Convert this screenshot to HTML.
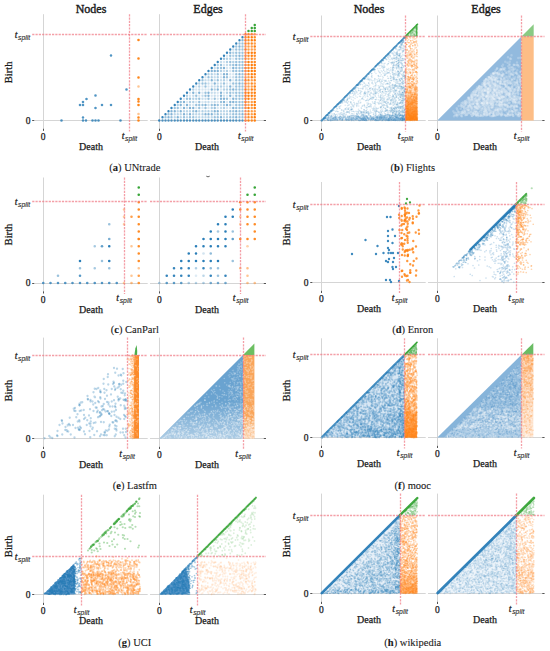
<!DOCTYPE html><html><head><meta charset="utf-8"><style>html,body{margin:0;padding:0;background:#fff;width:550px;height:651px;overflow:hidden}svg{display:block}</style></head><body><svg width="550" height="651" viewBox="0 0 550 651">
<rect width="550" height="651" fill="#fff"/>
<line x1="32.20" y1="120.50" x2="147.70" y2="120.50" stroke="#d5d5d5" stroke-width="1.0" stroke-opacity="1"/>
<line x1="43.50" y1="14.20" x2="43.50" y2="128.70" stroke="#d5d5d5" stroke-width="1.0" stroke-opacity="1"/>
<line x1="32.20" y1="120.50" x2="34.20" y2="120.50" stroke="#555" stroke-width="1.0" stroke-opacity="1"/>
<line x1="43.50" y1="128.70" x2="43.50" y2="130.90" stroke="#555" stroke-width="1.0" stroke-opacity="1"/>
<line x1="150.00" y1="120.50" x2="266.00" y2="120.50" stroke="#d5d5d5" stroke-width="1.0" stroke-opacity="1"/>
<line x1="159.50" y1="14.20" x2="159.50" y2="128.70" stroke="#d5d5d5" stroke-width="1.0" stroke-opacity="1"/>
<line x1="263.80" y1="120.50" x2="266.00" y2="120.50" stroke="#555" stroke-width="1.0" stroke-opacity="1"/>
<line x1="159.50" y1="128.70" x2="159.50" y2="130.90" stroke="#555" stroke-width="1.0" stroke-opacity="1"/>
<line x1="310.30" y1="120.50" x2="425.70" y2="120.50" stroke="#d5d5d5" stroke-width="1.0" stroke-opacity="1"/>
<line x1="321.50" y1="15.50" x2="321.50" y2="128.80" stroke="#d5d5d5" stroke-width="1.0" stroke-opacity="1"/>
<line x1="310.30" y1="120.50" x2="312.30" y2="120.50" stroke="#555" stroke-width="1.0" stroke-opacity="1"/>
<line x1="321.50" y1="128.80" x2="321.50" y2="131.00" stroke="#555" stroke-width="1.0" stroke-opacity="1"/>
<line x1="428.00" y1="120.50" x2="544.50" y2="120.50" stroke="#d5d5d5" stroke-width="1.0" stroke-opacity="1"/>
<line x1="437.50" y1="15.50" x2="437.50" y2="128.80" stroke="#d5d5d5" stroke-width="1.0" stroke-opacity="1"/>
<line x1="542.30" y1="120.50" x2="544.50" y2="120.50" stroke="#555" stroke-width="1.0" stroke-opacity="1"/>
<line x1="437.50" y1="128.80" x2="437.50" y2="131.00" stroke="#555" stroke-width="1.0" stroke-opacity="1"/>
<line x1="32.20" y1="283.50" x2="147.70" y2="283.50" stroke="#d5d5d5" stroke-width="1.0" stroke-opacity="1"/>
<line x1="43.50" y1="177.50" x2="43.50" y2="291.30" stroke="#d5d5d5" stroke-width="1.0" stroke-opacity="1"/>
<line x1="32.20" y1="283.50" x2="34.20" y2="283.50" stroke="#555" stroke-width="1.0" stroke-opacity="1"/>
<line x1="43.50" y1="291.30" x2="43.50" y2="293.50" stroke="#555" stroke-width="1.0" stroke-opacity="1"/>
<line x1="150.00" y1="283.50" x2="266.00" y2="283.50" stroke="#d5d5d5" stroke-width="1.0" stroke-opacity="1"/>
<line x1="159.50" y1="177.50" x2="159.50" y2="291.30" stroke="#d5d5d5" stroke-width="1.0" stroke-opacity="1"/>
<line x1="263.80" y1="283.50" x2="266.00" y2="283.50" stroke="#555" stroke-width="1.0" stroke-opacity="1"/>
<line x1="159.50" y1="291.30" x2="159.50" y2="293.50" stroke="#555" stroke-width="1.0" stroke-opacity="1"/>
<line x1="310.30" y1="282.50" x2="425.70" y2="282.50" stroke="#d5d5d5" stroke-width="1.0" stroke-opacity="1"/>
<line x1="321.50" y1="182.00" x2="321.50" y2="290.80" stroke="#d5d5d5" stroke-width="1.0" stroke-opacity="1"/>
<line x1="310.30" y1="282.50" x2="312.30" y2="282.50" stroke="#555" stroke-width="1.0" stroke-opacity="1"/>
<line x1="321.50" y1="290.80" x2="321.50" y2="293.00" stroke="#555" stroke-width="1.0" stroke-opacity="1"/>
<line x1="428.00" y1="282.50" x2="544.50" y2="282.50" stroke="#d5d5d5" stroke-width="1.0" stroke-opacity="1"/>
<line x1="437.50" y1="182.00" x2="437.50" y2="290.80" stroke="#d5d5d5" stroke-width="1.0" stroke-opacity="1"/>
<line x1="542.30" y1="282.50" x2="544.50" y2="282.50" stroke="#555" stroke-width="1.0" stroke-opacity="1"/>
<line x1="437.50" y1="290.80" x2="437.50" y2="293.00" stroke="#555" stroke-width="1.0" stroke-opacity="1"/>
<line x1="32.20" y1="438.50" x2="147.70" y2="438.50" stroke="#d5d5d5" stroke-width="1.0" stroke-opacity="1"/>
<line x1="43.50" y1="337.60" x2="43.50" y2="446.80" stroke="#d5d5d5" stroke-width="1.0" stroke-opacity="1"/>
<line x1="32.20" y1="438.50" x2="34.20" y2="438.50" stroke="#555" stroke-width="1.0" stroke-opacity="1"/>
<line x1="43.50" y1="446.80" x2="43.50" y2="449.00" stroke="#555" stroke-width="1.0" stroke-opacity="1"/>
<line x1="150.00" y1="438.50" x2="266.00" y2="438.50" stroke="#d5d5d5" stroke-width="1.0" stroke-opacity="1"/>
<line x1="159.50" y1="337.60" x2="159.50" y2="446.80" stroke="#d5d5d5" stroke-width="1.0" stroke-opacity="1"/>
<line x1="263.80" y1="438.50" x2="266.00" y2="438.50" stroke="#555" stroke-width="1.0" stroke-opacity="1"/>
<line x1="159.50" y1="446.80" x2="159.50" y2="449.00" stroke="#555" stroke-width="1.0" stroke-opacity="1"/>
<line x1="310.30" y1="437.50" x2="425.70" y2="437.50" stroke="#d5d5d5" stroke-width="1.0" stroke-opacity="1"/>
<line x1="321.50" y1="338.30" x2="321.50" y2="445.80" stroke="#d5d5d5" stroke-width="1.0" stroke-opacity="1"/>
<line x1="310.30" y1="437.50" x2="312.30" y2="437.50" stroke="#555" stroke-width="1.0" stroke-opacity="1"/>
<line x1="321.50" y1="445.80" x2="321.50" y2="448.00" stroke="#555" stroke-width="1.0" stroke-opacity="1"/>
<line x1="428.00" y1="437.50" x2="544.50" y2="437.50" stroke="#d5d5d5" stroke-width="1.0" stroke-opacity="1"/>
<line x1="437.50" y1="338.30" x2="437.50" y2="445.80" stroke="#d5d5d5" stroke-width="1.0" stroke-opacity="1"/>
<line x1="542.30" y1="437.50" x2="544.50" y2="437.50" stroke="#555" stroke-width="1.0" stroke-opacity="1"/>
<line x1="437.50" y1="445.80" x2="437.50" y2="448.00" stroke="#555" stroke-width="1.0" stroke-opacity="1"/>
<line x1="32.20" y1="594.50" x2="147.70" y2="594.50" stroke="#d5d5d5" stroke-width="1.0" stroke-opacity="1"/>
<line x1="43.50" y1="494.70" x2="43.50" y2="602.80" stroke="#d5d5d5" stroke-width="1.0" stroke-opacity="1"/>
<line x1="32.20" y1="594.50" x2="34.20" y2="594.50" stroke="#555" stroke-width="1.0" stroke-opacity="1"/>
<line x1="43.50" y1="602.80" x2="43.50" y2="605.00" stroke="#555" stroke-width="1.0" stroke-opacity="1"/>
<line x1="150.00" y1="594.50" x2="266.00" y2="594.50" stroke="#d5d5d5" stroke-width="1.0" stroke-opacity="1"/>
<line x1="159.50" y1="494.70" x2="159.50" y2="602.80" stroke="#d5d5d5" stroke-width="1.0" stroke-opacity="1"/>
<line x1="263.80" y1="594.50" x2="266.00" y2="594.50" stroke="#555" stroke-width="1.0" stroke-opacity="1"/>
<line x1="159.50" y1="602.80" x2="159.50" y2="605.00" stroke="#555" stroke-width="1.0" stroke-opacity="1"/>
<line x1="310.30" y1="593.50" x2="425.70" y2="593.50" stroke="#d5d5d5" stroke-width="1.0" stroke-opacity="1"/>
<line x1="321.50" y1="493.60" x2="321.50" y2="601.80" stroke="#d5d5d5" stroke-width="1.0" stroke-opacity="1"/>
<line x1="310.30" y1="593.50" x2="312.30" y2="593.50" stroke="#555" stroke-width="1.0" stroke-opacity="1"/>
<line x1="321.50" y1="601.80" x2="321.50" y2="604.00" stroke="#555" stroke-width="1.0" stroke-opacity="1"/>
<line x1="428.00" y1="593.50" x2="544.50" y2="593.50" stroke="#d5d5d5" stroke-width="1.0" stroke-opacity="1"/>
<line x1="437.50" y1="493.60" x2="437.50" y2="601.80" stroke="#d5d5d5" stroke-width="1.0" stroke-opacity="1"/>
<line x1="542.30" y1="593.50" x2="544.50" y2="593.50" stroke="#555" stroke-width="1.0" stroke-opacity="1"/>
<line x1="437.50" y1="601.80" x2="437.50" y2="604.00" stroke="#555" stroke-width="1.0" stroke-opacity="1"/>
<path transform="scale(.25)" d="M444 222h0m62 136h0m-124 24h0m-36 14h0m-26 24h0m12-12h0m0 12h0m76 0h0m36 0h0m-62 12h0m-50 38h0m150 12h0m-88 0h0m-12 0h0m-12 0h0m-26 0h0m-12 0h0m-86 0h0" stroke="#1f77b4" stroke-width="10.4" stroke-linecap="round" stroke-opacity="0.78" fill="none"/>
<path transform="scale(.25)" d="M554 160h0m0 74h0m0 76h0m0 96h0m0-10h0m0 24h0m0 50h0m0 12h0" stroke="#ff7f0e" stroke-width="10.4" stroke-linecap="round" stroke-opacity="0.95" fill="none"/>
<path transform="scale(.25)" d="M554 346h0m0 110h0" stroke="#ff7f0e" stroke-width="10.4" stroke-linecap="round" stroke-opacity="0.45" fill="none"/>
<path transform="scale(.25)" d="M958 161h0m12-12h0m-25 25h0m-12 12h0m-25 25h0m13-13h0m-25 25h0m-12 12h0m-25 25h0m12-12h0m-24 24h0m-13 12h0m-24 25h0m12-12h0m-25 24h0m-12 13h0m-25 24h0m13-12h0m-25 25h0m-12 12h0m-13 12h0m-12 13h0m-12 12h0m-25 25h0m12-13h0m-24 25h0m-12 12h0m-13 13h0" stroke="#1f77b4" stroke-width="9.6" stroke-linecap="round" stroke-opacity="0.9" fill="none"/>
<path transform="scale(.25)" d="M650 482h0m12 0h0m12 0h0m12 0h0m13 0h0m12 0h0m12 0h0m13 0h0m12 0h0m12 0h0m13 0h0m12 0h0m12 0h0m13 0h0m12 0h0m12 0h0m13 0h0m12 0h0m12 0h0m13 0h0m12 0h0m12 0h0m13 0h0m12 0h0m12 0h0m13 0h0m12 0h0" stroke="#1f77b4" stroke-width="9.6" stroke-linecap="round" stroke-opacity="0.75" fill="none"/>
<path transform="scale(.25)" d="M945 186h0m13-12h0m12 0h0m0 12h0m0 25h0m0-13h0m-12 13h0m0-13h0m-13 13h0m0-13h0m-49 37h0m25-12h0m24 0h0m0 12h0m13 0h0m12-12h0m0 12h0m0 25h0m0-12h0m-12 12h0m0-12h0m-13 0h0m-12 12h0m-12-12h0m-37 12h0m-13 12h0m13 0h0m49 12h0m12-12h0m0 12h0m13-12h0m0 12h0m12-12h0m0 37h0m0-12h0m-12 12h0m-13 0h0m0-12h0m-37 12h0m-37-12h0m-37 12h0m-24 12h0m0 13h0m12 0h0m49-13h0m25 13h0m37 0h0m12-13h0m0 13h0m13-13h0m12 0h0m0 13h0m0 24h0m0-12h0m-12 12h0m0-12h0m-13 12h0m0-12h0m-24 12h0m-99-12h0m-37 37h0m37-12h0m0 12h0m99-12h0m24 0h0m0 12h0m13-12h0m0 12h0m12-12h0m0 12h0m0 12h0m-12 0h0m-13 0h0m-37 0h0m-49 0h0m-25 0h0m-37 0h0m-37 0h0m-12 0h0m-25 13h0m62 12h0m12-12h0m0 12h0m13 0h0m37 0h0m24 0h0m13-12h0m37 12h0m24-12h0m0 12h0m13-12h0m0 12h0m12-12h0m0 12h0m0 25h0m0-13h0m-12 13h0m0-13h0m-13 0h0m-12 13h0m-12 0h0m-62-13h0m-37 0h0m-25 0h0m-24 13h0m-62-13h0m-12 0h0m-37 37h0m12-12h0m12 12h0m50 0h0m24 0h0m13 0h0m86 0h0m12-12h0m0 12h0m50 0h0m12-12h0m0 12h0m12-12h0m13 0h0m0 12h0m12 0h0" stroke="#1f77b4" stroke-width="9.6" stroke-linecap="round" stroke-opacity="0.45" fill="none"/>
<path transform="scale(.25)" d="M970 161h0m-12 25h0m-37 25h0m37 12h0m-13 37h0m25 24h0m-37-12h0m-37 0h0m-25 12h0m-12 0h0m-12 0h0m49 13h0m0 12h0m12-12h0m50 0h0m0 37h0m-37-13h0m-62 13h0m-12-13h0m0 37h0m24 0h0m50-12h0m12 12h0m-12 25h0m-37 0h0m0-12h0m-50 12h0m0-12h0m-37 0h0m-24 0h0m111 24h0m12 0h0m37 0h0m0 13h0m-12 0h0m-13 12h0m-12-12h0m-37 12h0m-37 0h0m-74 0h0m-12-12h0m-13 12h0m-37 25h0m13 0h0m24 0h0m13-13h0m24 0h0m13 0h0m12 13h0m74 0h0m12 0h0m62-13h0m12 13h0m25 12h0m-25 12h0m-61 0h0m-37-12h0m-13 0h0m-12 0h0m-62 0h0m-24 0h0m-25 12h0m-25-12h0m-12 12h0" stroke="#1f77b4" stroke-width="9.6" stroke-linecap="round" stroke-opacity="0.55" fill="none"/>
<path transform="scale(.25)" d="M711 445h0m25 0h0m12 0h0m12 0h0m37 0h0m25 0h0m62 0h0m12 0h0m12 0h0m13 12h0m-25 12h0m0-12h0m-12 0h0m-25 0h0m-12 12h0m-25 0h0m-12 0h0m-13 0h0m0-12h0m-12 12h0m0-12h0m-37 12h0m0-12h0m-25 12h0m0-12h0m-12 0h0m-12 12h0m0-12h0" stroke="#1f77b4" stroke-width="9.6" stroke-linecap="round" stroke-opacity="0.3" fill="none"/>
<path transform="scale(.25)" d="M933 211h0m0 12h0m-12 12h0m-13 0h0m-37 25h0m37-12h0m13 12h0m12-12h0m-25 36h0m-24 0h0m-50 13h0m13 0h0m0 12h0m24 0h0m25 12h0m-99 13h0m-24 24h0m24-12h0m62 12h0m12-12h0m13 0h0m12 12h0m12 0h0m25 13h0m-25 0h0m-160 12h0m25 12h0m12 0h0m111 25h0m-123-12h0m-13 0h0m-49 12h0m99 25h0m24 0h0m13-13h0m0 13h0m49-13h0m12 37h0m0-12h0m-74 12h0m-24-12h0m-37 0h0" stroke="#1f77b4" stroke-width="9.6" stroke-linecap="round" stroke-opacity="0.35" fill="none"/>
<path transform="scale(.25)" d="M908 223h0m25 12h0m-37 25h0m0-12h0m12 24h0m13 0h0m0 12h0m12 13h0m-12 12h0m0-12h0m-37 12h0m0-12h0m-62 12h0m25 25h0m61-13h0m0 13h0m13 0h0m12-13h0m0 25h0m-49 12h0m-50 0h0m0-12h0m-12 12h0m-12 0h0m0-12h0m-25 12h0m0-12h0m-25 25h0m0 12h0m25-12h0m12 12h0m13-12h0m37 12h0m24-12h0m0 12h0m25-12h0m12 12h0m25 0h0m-12 12h0m-50 0h0m-24 0h0m-111 0h0m0 25h0m12-12h0m25 12h0m12-12h0m25 0h0m37 0h0m24 0h0m37 0h0m25 12h0m-12 12h0m-13 0h0m-37 0h0m-37 0h0m-24 0h0m-25 0h0m-62 0h0" stroke="#1f77b4" stroke-width="9.6" stroke-linecap="round" stroke-opacity="0.18" fill="none"/>
<path transform="scale(.25)" d="M933 198h0m-25 62h0m-24-12h0m-25 24h0m37 12h0m37 25h0m-74 0h0m0-12h0m-37 24h0m12 0h0m0 13h0m25-13h0m12 13h0m13-13h0m0 13h0m24 12h0m-12 0h0m-37 0h0m-12 0h0m-50 12h0m-24 25h0m37 0h0m37-12h0m12 0h0m0 12h0m37 0h0m-74 12h0m-12 0h0m-50 25h0m62-12h0m12 0h0m0 12h0m25-12h0m25 12h0m0 12h0m-136 0h0" stroke="#1f77b4" stroke-width="9.6" stroke-linecap="round" stroke-opacity="0.25" fill="none"/>
<path transform="scale(.25)" d="M982 137h0m37 24h0m-12 0h0m0-12h0m-13 0h0m-12 12h0m0-12h0m37 37h0m0 25h0m-12 0h0m-13 0h0m-12-13h0m25 25h0m12 37h0m-12 0h0m-13-12h0m-12 24h0m12 12h0m13-12h0m0 12h0m12 0h0m0 13h0m-12 12h0m0-12h0m-25 24h0m37 25h0m-12 12h0m-25 0h0m0 13h0m0 12h0m12-12h0m0 12h0m13 0h0m12-12h0m-25 24h0m-12 0h0m0 13h0m37 0h0m0 12h0m0 12h0m-25 0h0m25 25h0m0 12h0m0 13h0m-25 0h0m-12 0h0" stroke="#ff7f0e" stroke-width="10" stroke-linecap="round" stroke-opacity="1.0" fill="none"/>
<path transform="scale(.25)" d="M1019 137h0m0 37h0m-12 12h0m-13 0h0m-12 0h0m0 25h0m12-13h0m13 0h0m12 0h0m0 37h0m-25 0h0m-12 13h0m37 61h0m-25 0h0m-12 0h0m0-12h0m12 37h0m13-13h0m12 13h0m-12 12h0m-13 12h0m0-12h0m-12 0h0m25 49h0m0 13h0m-13 12h0m0-12h0m-12 37h0m25-13h0m0 13h0m12 0h0m-12 12h0m-25 12h0m0-12h0" stroke="#ff7f0e" stroke-width="10" stroke-linecap="round" stroke-opacity="0.75" fill="none"/>
<path transform="scale(.25)" d="M994 137h0m13 0h0m12 12h0m-25 12h0m-12 13h0m12 0h0m13 0h0m12 49h0m-12 12h0m-13-12h0m-12 12h0m0-12h0m0 37h0m12 0h0m13-12h0m12 0h0m0 24h0m-25 0h0m-12 12h0m12 13h0m25 24h0m-12 13h0m-13-13h0m-12 13h0m37 24h0m0 25h0m-12-12h0m12 24h0m-12 25h0m-25 0h0m0 12h0m12 13h0m13 24h0m-13 0h0m0-12h0m13 25h0" stroke="#ff7f0e" stroke-width="10" stroke-linecap="round" stroke-opacity="0.9" fill="none"/>
<path transform="scale(.25)" d="M1007 112h0m12-12h0m0 12h0m0 12h0m-12 0h0m-13 0h0" stroke="#2ca02c" stroke-width="10" stroke-linecap="round" stroke-opacity="0.95" fill="none"/>
<path transform="scale(.25)" d="M1608 168h0m2 3h0m9 16h0m-3 13h0m-16 15h0m-4-12h0m-4-2h0m-3 3h0m-4 7h0m-5-1h0m-44 23h0m7 2h0m1-10h0m66 18h0m-1 13h0m-15-15h0m-6 21h0m-3-16h0m-7 5h0m-3 5h0m-8 0h0m-14-1h0m-17 0h0m-8 0h0m-1-1h0m-7 20h0m19-8h0m0 3h0m8 7h0m39-1h0m5 9h0m26-20h0m3 38h0m-2-14h0m-8 22h0m-5-13h0m-23 4h0m-3-7h0m-8-4h0m0-2h0m-5 23h0m-47-21h0m-47 18h0m-29 16h0m14-12h0m11 5h0m8 1h0m11 14h0m2-4h0m10-13h0m8 14h0m1-11h0m8 7h0m6-8h0m19 7h0m14 11h0m30-18h0m3 8h0m8 8h0m1-17h0m10 29h0m-7-6h0m0-1h0m-1 17h0m-1-12h0m-6 4h0m-7-3h0m-2 2h0m-6-3h0m-6-6h0m-11 11h0m-9 8h0m-5-4h0m-4 6h0m0-21h0m-9 0h0m-3 0h0m-2 20h0m-11-7h0m-4-7h0m-7 14h0m-2-19h0m-1 6h0m-11-8h0m-3 22h0m-9-5h0m-38 1h0m-33 18h0m26-11h0m4 13h0m16 2h0m5 1h0m3-5h0m12-6h0m9 3h0m13 5h0m5 0h0m8-14h0m4 22h0m6-20h0m0 6h0m7 5h0m3-7h0m14 8h0m9 6h0m8 2h0m10-4h0m23 4h0m5-13h0m1-1h0m10 2h0m3-7h0m6 6h0m0 28h0m-6 9h0m-4-7h0m-23-13h0m-1 4h0m-1 13h0m-19 2h0m-3-6h0m-27 0h0m-1 5h0m-13-3h0m-1-11h0m-19 8h0m-8-10h0m-2 8h0m-1 11h0m-77-6h0m-5-13h0m-24 19h0m-5-11h0m-3 8h0m-23 13h0m6 9h0m6-18h0m22 23h0m17-23h0m10 19h0m1 1h0m3-9h0m17 5h0m7-12h0m15 10h0m17 4h0m23-12h0m3 10h0m4 6h0m12-13h0m5 12h0m6-17h0m11-3h0m6 5h0m5 9h0m0 5h0m14-18h0m7-2h0m14 22h0m4-4h0m17 1h0m16-16h0m-2 39h0m0-4h0m-9 2h0m-12 7h0m0-3h0m-1-1h0m-24 0h0m-7-18h0m-2 13h0m-1-1h0m-5-3h0m0-10h0m-16 12h0m-17-7h0m-11-4h0m-7 0h0m-2 11h0m-38 5h0m-11 1h0m-8-2h0m-21 6h0m-22-15h0m-11-3h0m-6 11h0m-38-12h0m-7 11h0m-33 14h0m3 6h0m2-4h0m4-5h0m54 17h0m5-7h0m22-1h0m8-4h0m16 12h0m3-7h0m4-1h0m1-1h0m9 6h0m15 6h0m1-9h0m0 4h0m4-1h0m8 1h0m2-1h0m2 4h0m5 0h0m14-4h0m29 0h0m7-9h0m0 10h0m6 7h0m2-17h0m6 2h0m2 1h0m10 8h0m3-11h0m12 1h0m3 12h0m16-15h0m5 19h0m8-2h0m7-7h0m5-2h0m2 3h0m5-13h0m-2 22h0m-19 2h0m-40-1h0m-25 1h0m-1-1h0" stroke="#1f77b4" stroke-width="6.4" stroke-linecap="round" stroke-opacity="0.17" fill="none"/>
<path transform="scale(.25)" d="M1599 186h0m2-14h0m2 2h0m5-5h0m3 11h0m3-11h0m2 14h0m-1 21h0m-18 10h0m-12 1h0m-17-2h0m-3-1h0m-18 27h0m12-18h0m7 12h0m3-1h0m0 6h0m19-21h0m5 20h0m2-14h0m1-3h0m3 4h0m3 5h0m3-4h0m6-6h0m-6 29h0m-9 2h0m-4 4h0m-1-13h0m-4 18h0m-1-13h0m-10 15h0m-46-19h0m-22 19h0m-5 7h0m25 2h0m1 17h0m3-14h0m3-6h0m1 4h0m14 7h0m23-7h0m1 9h0m18 4h0m2 3h0m15-3h0m12 26h0m-5-21h0m-3 17h0m-1-6h0m0-6h0m-18 0h0m-4 15h0m-16 1h0m-2-13h0m-11-2h0m-19 2h0m-54 13h0m-38 17h0m23-8h0m2 13h0m14 0h0m13 2h0m9-8h0m8-1h0m8-4h0m0 4h0m3-9h0m14 5h0m6 14h0m11-22h0m30 21h0m1 1h0m7-17h0m2 7h0m8-9h0m3 9h0m7 6h0m2 17h0m-10 3h0m-1-2h0m-12-2h0m-3-11h0m-13 5h0m-19 11h0m-1-8h0m-21 12h0m-12-11h0m-5-2h0m-8 10h0m-4 4h0m-28-6h0m-12-8h0m-2 16h0m-7-3h0m-2-13h0m-18-5h0m-13 3h0m-16 25h0m28-3h0m1 5h0m15 2h0m0 2h0m34 3h0m1-14h0m0 18h0m3-15h0m4 19h0m6-9h0m1-5h0m23 11h0m3-9h0m7-10h0m0 4h0m11 13h0m5-14h0m26 10h0m10-2h0m6 1h0m3 4h0m9 3h0m7-18h0m2 38h0m-4-15h0m-1 16h0m-4 1h0m-7-12h0m-8 3h0m-9-4h0m-11 16h0m-2-6h0m-4-4h0m-4 5h0m-5-9h0m-4-3h0m-1 1h0m-1 10h0m-9 7h0m-3 0h0m-5 1h0m-6-14h0m-2 2h0m-4 3h0m-3 3h0m-20-2h0m-10-9h0m-6 1h0m-5 1h0m-11 4h0m-15 2h0m-4-7h0m-3 6h0m-25-13h0m-21 3h0m-4 7h0m0-9h0m-12 18h0m-7-15h0m-9 17h0m-17 15h0m12-8h0m3 0h0m13 9h0m9-7h0m12-6h0m12 16h0m13 2h0m1-11h0m20 10h0m20 5h0m7-3h0m8-6h0m9-9h0m23-1h0m9 16h0m13-8h0m9-4h0m2 12h0m37-8h0m3-3h0m3 12h0m1 0h0m10-16h0m15 28h0m-3-7h0m-4 12h0m-1 8h0m-4-3h0m0-3h0m-1 5h0m-7-12h0m-11-7h0m-8 22h0m-1-7h0m-3-15h0m-2 18h0m-4-10h0m-4-5h0m-8 8h0m-6 6h0m-5-8h0m-47 4h0m-17-6h0m-8 6h0m-2 8h0m-3-4h0m0-13h0m-3-5h0m-10 14h0m-9-12h0m-2 16h0m-1-4h0m-7-4h0m-23 4h0m-3 9h0m-14-9h0m-9 4h0m-8-11h0m-13 1h0m-14 7h0m-45 26h0m48-17h0m12 14h0m14 6h0m10-12h0m6 12h0m3-11h0m0 0h0m3 12h0m12-4h0m33 0h0m26-13h0m8 4h0m13 12h0m8 3h0m2-6h0m11-3h0m5-13h0m5 15h0m1 5h0m2-21h0m21 1h0m4 7h0m12 0h0m2 1h0m14 2h0m0 2h0m1-3h0m1-8h0m1-1h0m5 8h0m16 9h0m1-2h0m10-9h0m-13 18h0m-64 0h0m-27-1h0m-9 0h0m-47 1h0m-52 0h0m-9 0h0m-85-1h0" stroke="#1f77b4" stroke-width="6.4" stroke-linecap="round" stroke-opacity="0.17" fill="none"/>
<path transform="scale(.25)" d="M1609 173h0m-20 35h0m-4-11h0m-9 10h0m-26 21h0m5-7h0m30 7h0m23-4h0m-9 21h0m-25 18h0m-2-10h0m-6-3h0m-5 1h0m-6-5h0m-19 15h0m-12 1h0m-10-6h0m-17 21h0m19 10h0m9-4h0m5-18h0m9 21h0m7-2h0m13 0h0m1-3h0m10-8h0m17 2h0m5-11h0m5 15h0m5 6h0m7-14h0m4-5h0m7 36h0m-5-11h0m-16-1h0m-16 2h0m-8 2h0m-6-3h0m-7 14h0m-22-17h0m-1 7h0m-1 7h0m-5 8h0m-8-11h0m-4-7h0m-8 12h0m-25-2h0m-1 2h0m-1-9h0m-21 11h0m-10 23h0m2 2h0m15-17h0m27 7h0m0 7h0m3 3h0m13-17h0m12 20h0m2-9h0m11-2h0m0 2h0m5 0h0m2 1h0m6-12h0m11 7h0m8-2h0m4-3h0m0 9h0m6 5h0m23-16h0m5 17h0m8 26h0m-14-12h0m-8 1h0m-1 7h0m-17-13h0m-3 13h0m-6-13h0m-16 11h0m-5-3h0m-11 6h0m-3 5h0m-11-1h0m-1-22h0m-5 9h0m-16 7h0m-3-8h0m-2 12h0m-2-9h0m-4 8h0m-11-1h0m-9-13h0m-2 11h0m-18 4h0m-2-2h0m-17-3h0m-28 24h0m7-2h0m4 9h0m3-8h0m1-4h0m25 7h0m15-5h0m10-3h0m3-3h0m1 5h0m29-3h0m13 7h0m7-12h0m2 17h0m18 1h0m2-4h0m5-10h0m5-1h0m2 9h0m17 8h0m13-23h0m2 2h0m8 4h0m2-1h0m8 8h0m1-11h0m6 9h0m5 12h0m3-15h0m-6 27h0m-14-11h0m-20 8h0m-1-2h0m-7 4h0m-7 7h0m-9-5h0m-3-12h0m-14 8h0m-4 1h0m-3-6h0m-1 1h0m-4 3h0m-1 4h0m-3-2h0m0-9h0m-5 22h0m-12-15h0m-13 2h0m-24-8h0m-8 3h0m-27 16h0m-5-15h0m-35 17h0m-5-7h0m-39 25h0m6 4h0m4-17h0m19-3h0m15 13h0m2 10h0m10-1h0m22-8h0m32 6h0m9-6h0m10 2h0m16 5h0m6-17h0m8-2h0m11 3h0m10 9h0m3-11h0m1 11h0m0 7h0m6-7h0m2-13h0m4 13h0m4-13h0m14 22h0m4-15h0m9-4h0m3 15h0m9-9h0m11 13h0m9-18h0m1-1h0m0 12h0m8 15h0m-16 6h0m-6 9h0m-1-3h0m-16-15h0m-11 2h0m-1-1h0m-2 5h0m-14 2h0m-3-4h0m-5-2h0m-5 7h0m-1 4h0m-14-17h0m-13 3h0m-5 4h0m0-2h0m-1 15h0m-4-11h0m-6-6h0m-1 1h0m-4-2h0m-2 16h0m-3 1h0m-3 2h0m-5 2h0m-3-4h0m-7-8h0m-2 8h0m-6-10h0m-2 6h0m-14 5h0m-4-9h0m-14 2h0m-17 9h0m-1-9h0m0-8h0m-14 11h0m-21 7h0m-4-5h0m-9-17h0m-11 2h0m-22 16h0m-22 20h0m5-2h0m3 7h0m18-20h0m4 6h0m11 6h0m4-11h0m13 18h0m34 4h0m35-22h0m7 19h0m14-16h0m1 16h0m4-17h0m7 15h0m22-8h0m24 1h0m12-7h0m0 19h0m6-9h0m4 7h0m17-16h0m1 13h0m9-10h0m24 12h0m3-14h0m5-2h0m0 7h0m3-10h0m18 24h0m-61 1h0m-5-2h0m-37 1h0m-51-1h0m-33 0h0m-93 1h0" stroke="#1f77b4" stroke-width="6.4" stroke-linecap="round" stroke-opacity="0.17" fill="none"/>
<path transform="scale(.25)" d="M1612 161h0m0 8h0m-5 8h0m-1-8h0m-6 15h0m-2-13h0m-7 43h0m2-16h0m6 1h0m3 14h0m1-18h0m2 4h0m12 37h0m-34-3h0m-3 0h0m-1-11h0m-3 14h0m0-7h0m-15-2h0m-6-11h0m-2 38h0m15-2h0m4-6h0m0 4h0m17 4h0m3-9h0m1 3h0m1-6h0m0 16h0m2-10h0m9 37h0m0-14h0m-11 16h0m-23-15h0m-37 9h0m-6-16h0m-14 18h0m23 17h0m11-8h0m2 1h0m0 12h0m2-14h0m63 40h0m-5 3h0m-4-5h0m-9-12h0m-45-4h0m-2 20h0m-4 2h0m-29-14h0m-25 1h0m-6-1h0m-3-4h0m-4 6h0m-35 2h0m-1 7h0m-13 10h0m20-3h0m2 12h0m9-3h0m2-11h0m13 22h0m23 0h0m2-3h0m19 2h0m1-1h0m1-11h0m12 2h0m8 3h0m0 7h0m6-22h0m2 20h0m7-10h0m11-5h0m0 8h0m1 7h0m1-5h0m18 4h0m5-3h0m4-11h0m11 6h0m1-9h0m1 10h0m2 23h0m-4 7h0m-5 5h0m-18-21h0m-2 17h0m-3-2h0m-5-15h0m-3 1h0m-3 1h0m-6 2h0m-2-5h0m-18 6h0m-21 2h0m-20 1h0m-16 3h0m-8 5h0m-8-2h0m-1 4h0m-9-7h0m0-4h0m-1 13h0m-1-10h0m-34 0h0m-1-7h0m-7 13h0m-33 10h0m6 9h0m0 4h0m5-9h0m20-2h0m6 4h0m42 9h0m4-2h0m12-3h0m4-3h0m1-10h0m16 22h0m7-9h0m8 1h0m8 1h0m1-10h0m7 11h0m7-4h0m0 7h0m11-17h0m1 11h0m8-5h0m14-6h0m7 10h0m2 0h0m2 10h0m21 0h0m6-5h0m1-18h0m4 17h0m5-17h0m-4 47h0m0-10h0m-2 5h0m0-13h0m-3 1h0m-2 15h0m-18-9h0m-18-8h0m-4 16h0m-5-11h0m-9-5h0m-4 1h0m-21 7h0m-2 5h0m-5-12h0m-8 1h0m-12 3h0m-4-4h0m-13 15h0m0-9h0m-10-3h0m-48-3h0m-1 7h0m-9-10h0m-2 0h0m-3 11h0m-3-4h0m-3 0h0m-9 2h0m-51 25h0m14-11h0m13 8h0m8-7h0m1 2h0m2 2h0m0 13h0m14-2h0m1-7h0m5-3h0m6-1h0m8 9h0m8 6h0m20 1h0m19-4h0m6-3h0m20-6h0m5-4h0m6 14h0m1-16h0m5 10h0m17 2h0m1 4h0m5-5h0m9-12h0m3-1h0m0 12h0m6-3h0m7 8h0m8-3h0m4-11h0m2 1h0m2 7h0m4 1h0m4 3h0m5-15h0m7 20h0m4-19h0m14-2h0m0 8h0m1 5h0m0 5h0m10-11h0m-7 33h0m-4-11h0m-16 5h0m-17-2h0m-5 0h0m0-1h0m-5-1h0m-8 1h0m-1-5h0m-15 19h0m0-18h0m-4 14h0m-2-10h0m-13-4h0m-1 9h0m-3-3h0m-1 12h0m-9-7h0m-1 3h0m-15-16h0m-9 12h0m-26-1h0m-2 1h0m-2-10h0m-12 17h0m-4-7h0m-5-1h0m-19-2h0m-24 2h0m-9-5h0m-9-3h0m-10 13h0m-20-14h0m-49 15h0m171 7h0m43 0h0m87-1h0m15 0h0" stroke="#1f77b4" stroke-width="6.4" stroke-linecap="round" stroke-opacity="0.17" fill="none"/>
<path transform="scale(.25)" d="M1604 189h0m9-4h0m7 13h0m-8 6h0m-81 34h0m21-9h0m1-11h0m1 17h0m1-7h0m5 11h0m1-16h0m7 12h0m9-1h0m9 2h0m10-16h0m9 14h0m13 2h0m-1 26h0m-6-1h0m-5-4h0m-18-1h0m-2 2h0m0-11h0m-20 3h0m-39 1h0m-13 11h0m39 18h0m34-10h0m14 2h0m7 0h0m0 9h0m6-12h0m6 32h0m-6-13h0m-15 6h0m-1 11h0m-2-10h0m-2 12h0m0-5h0m-21 3h0m-11-1h0m-6-14h0m-4 2h0m-2-3h0m-4 6h0m-5 6h0m-11 5h0m-17-4h0m-26-8h0m-30 40h0m43-18h0m18 4h0m3 9h0m3 0h0m25 5h0m8-6h0m5 4h0m2-9h0m13-5h0m6 0h0m6 12h0m3-3h0m5-4h0m5-1h0m9 0h0m1 12h0m4-20h0m3 10h0m-4 19h0m-1 3h0m-12 11h0m-13-7h0m-2-8h0m-4 2h0m-1-6h0m-4 20h0m-15-2h0m-4-5h0m0-11h0m-2-3h0m-1 9h0m-15 9h0m-9-11h0m-42 11h0m-15-8h0m-9-5h0m-13 4h0m-1 9h0m-11-16h0m-20 10h0m-5 17h0m16 11h0m2-15h0m1 1h0m12 3h0m13-1h0m22-4h0m19 0h0m1 12h0m1-8h0m28 1h0m5 17h0m1-11h0m15-12h0m4 21h0m2-13h0m5-1h0m19-4h0m5 5h0m9 11h0m2-14h0m1 0h0m1-2h0m10 15h0m4-5h0m1 4h0m6-4h0m-9 18h0m-3-4h0m-2 16h0m-6-15h0m-1-1h0m-16 13h0m-12-11h0m0-3h0m0 0h0m-7 2h0m-17 15h0m0-6h0m-26-11h0m-7 2h0m-13-3h0m-13 4h0m-5 5h0m-11 9h0m-1-16h0m-7 15h0m-15-8h0m-12-9h0m-39 6h0m-8 7h0m-1 0h0m-2-10h0m-7 0h0m-3 14h0m-33 24h0m26-15h0m14-2h0m5 1h0m0 13h0m13-13h0m1 3h0m5 11h0m34-15h0m14 9h0m10 11h0m1-17h0m4 0h0m3 3h0m7 0h0m42 14h0m26 0h0m3-20h0m4 8h0m5-3h0m15 2h0m7 14h0m1-10h0m4 10h0m2-15h0m5 13h0m14 0h0m3-20h0m-6 34h0m-7 5h0m-2 5h0m-18-17h0m0-2h0m-8 15h0m-6-5h0m-19 0h0m-16-7h0m-6 13h0m-15-3h0m-6-1h0m-8-3h0m-21 12h0m-9-1h0m-3 0h0m-1 1h0m0-9h0m-6-6h0m-1 11h0m-7-4h0m-14-9h0m-30-1h0m-6 17h0m-4-17h0m-4 0h0m-16 9h0m-23 1h0m-15-4h0m-19 8h0m9 11h0m16-2h0m0 11h0m17-13h0m35 17h0m4-5h0m5-8h0m3 16h0m21-16h0m10 5h0m4 2h0m7-7h0m21 8h0m7-5h0m11 6h0m7 5h0m1-2h0m3 0h0m3-11h0m4-4h0m4 11h0m1 1h0m8 7h0m4-18h0m2 12h0m2-7h0m3 4h0m1 5h0m1 0h0m9 1h0m1-12h0m0 5h0m13-8h0m11 3h0m2 8h0m9-7h0m4-5h0m8 12h0m6 1h0m3-1h0m12 5h0m6-9h0m-43 15h0m-44 1h0m-22 0h0m-39-2h0m-146 0h0" stroke="#1f77b4" stroke-width="6.4" stroke-linecap="round" stroke-opacity="0.17" fill="none"/>
<path transform="scale(.25)" d="M1608 165h0m4 31h0m-24 13h0m-46 26h0m4 2h0m36-16h0m6-4h0m10 18h0m1-10h0m3 26h0m-5 7h0m-2-8h0m0-8h0m-15 21h0m-1-19h0m-1 5h0m-29 10h0m-9-6h0m-9-9h0m-11 8h0m-2 11h0m-14 3h0m7 9h0m23-5h0m1 10h0m20-6h0m8-3h0m1 8h0m4 5h0m3-6h0m0 2h0m3-10h0m5 2h0m2 12h0m39 26h0m-3-5h0m-22-6h0m-16 11h0m-2-6h0m-3-1h0m-1 7h0m-8-3h0m-9-16h0m-23 2h0m-11 12h0m-6 1h0m-12-12h0m-5-6h0m-13 18h0m-4-18h0m-35 37h0m27 7h0m1 2h0m2-18h0m33 8h0m26-3h0m0 10h0m19-8h0m5 8h0m3-17h0m3 8h0m11-9h0m9 5h0m21 0h0m14 39h0m-6 0h0m-1-7h0m-5 6h0m-18-13h0m-14 9h0m-7-5h0m-5 12h0m-30-7h0m0-3h0m-18 1h0m-14-8h0m-23 13h0m-2-15h0m-20 5h0m-23 9h0m-3-17h0m-35 43h0m3-7h0m21 3h0m2-16h0m4 7h0m1 3h0m14 1h0m20 4h0m14-7h0m4 9h0m0 4h0m3-8h0m13-5h0m0 10h0m6-2h0m6-6h0m5-4h0m4-3h0m7 18h0m5-14h0m16 0h0m12 8h0m2-15h0m1 12h0m19 6h0m21-6h0m4 4h0m5-9h0m6 10h0m6-9h0m-1 27h0m-17-4h0m-24 2h0m-12 5h0m-5 5h0m0-1h0m-11-7h0m-23 10h0m-27 2h0m-5-17h0m-9 7h0m-9 1h0m-6 3h0m-19-16h0m-6 9h0m-5-8h0m-2 14h0m-34-3h0m-15-3h0m-28 29h0m40 4h0m16-12h0m13 1h0m2-8h0m0 0h0m2 4h0m9 19h0m6-9h0m0 2h0m7-1h0m12-5h0m8 9h0m5-1h0m41 3h0m3-13h0m8 3h0m0 10h0m6-19h0m8 9h0m4 9h0m0 0h0m7-10h0m1-4h0m3 16h0m13-11h0m15-7h0m2 18h0m4-16h0m3-1h0m6 18h0m12 8h0m-1 3h0m-2-1h0m-6-8h0m-3 2h0m-13-2h0m-3 12h0m-1-4h0m-3 8h0m-10-10h0m-5-7h0m-2 18h0m0-11h0m-6-7h0m-1 19h0m0-6h0m-1-5h0m-9 15h0m-5-17h0m-6 6h0m-1-10h0m-3 21h0m-8-12h0m-14 5h0m-10-5h0m-4 4h0m-1 8h0m-4-21h0m-3 18h0m-12-6h0m-6 4h0m-11-7h0m-9-5h0m-7 13h0m-7-6h0m-9 4h0m-4-3h0m-17-1h0m-2-10h0m-3 2h0m-14 0h0m-5 8h0m-6-10h0m-6 10h0m-9-5h0m-30 15h0m-24 16h0m4 2h0m5-7h0m2-3h0m26 0h0m8 3h0m14-2h0m33 5h0m11-13h0m4 8h0m1 13h0m9 0h0m5 0h0m4-21h0m6 5h0m2 3h0m34-1h0m12 3h0m1-7h0m22-2h0m3 16h0m48-8h0m17-9h0m0 1h0m0 11h0m4-2h0m2 12h0m2-18h0m4 5h0m4-4h0m12 1h0m3 7h0m2 2h0m0 2h0m1 5h0m-34 3h0m-27-1h0m-4 2h0" stroke="#1f77b4" stroke-width="6.4" stroke-linecap="round" stroke-opacity="0.17" fill="none"/>
<path transform="scale(.25)" d="M1434 447h0m22 5h0m163 22h0m0-13h0m-2 14h0m-1 1h0m-4 0h0m-1-13h0m-2 2h0m-1-4h0m-1 14h0m0-3h0m-2 5h0m-1-18h0m-3 13h0m-1 6h0m0-17h0m-6 10h0m-3 0h0m-2 3h0m-4 2h0m-5 2h0m-10-7h0m-1 2h0m-3 4h0m-1-11h0m-2 11h0m0-5h0m-3 2h0m-4 4h0m0-5h0m-3 5h0m-8 0h0m-2 1h0m-2-9h0m-1 0h0m-1 8h0m-3-10h0m-2 7h0m0-5h0m0-5h0m-1 3h0m-3-1h0m-3-5h0m-1 13h0m-2-18h0m-5 7h0m-13 4h0m0-4h0m-1 15h0m-1-9h0m-12-3h0m-7 8h0m0-1h0m-4-6h0m-5 3h0m-9-1h0m0-2h0m-1 11h0m-2-12h0m-4 12h0m-1-6h0m-6 2h0m-1-6h0m-2 3h0m-1 4h0m-3 3h0m-4-7h0m-10-2h0m-4-4h0m-2 8h0m-4 4h0m-2-1h0m-6-6h0m-1 5h0m0-4h0m-8 4h0m-1-1h0m-3-5h0m-2 0h0m-1-5h0m-2 0h0m-4 13h0m-1-6h0m-1-5h0m0-1h0m-20 13h0m-1-2h0m-3 0h0m-3-12h0m-5 14h0m-1-10h0m-5 2h0m-6 4h0m-4-9h0m-25 11h0m0-14h0m-1 15h0m-4-2h0m-1-17h0m-9 12h0m-6 4h0m-4 2h0m-2 4h0m94-1h0m10 0h0m18 0h0m4 2h0m28-2h0m29 0h0m28 0h0m9 0h0m6 1h0m61 0h0m9 0h0m3 0h0m1 1h0" stroke="#1f77b4" stroke-width="6.8" stroke-linecap="round" stroke-opacity="0.22" fill="none"/>
<path transform="scale(.25)" d="M1362 452h0m30-3h0m123 0h0m105 26h0m0-1h0m-6 2h0m-2-8h0m0-4h0m-1 13h0m-2-13h0m-1-2h0m-5 13h0m-2 3h0m0-16h0m-2 15h0m0-13h0m-3 14h0m-2-4h0m-1-14h0m-3 9h0m-1 1h0m-3-4h0m-3 11h0m-1-9h0m-4 10h0m0-1h0m-1-3h0m-2 4h0m-1-1h0m-1-9h0m-1 8h0m-1 1h0m-4 2h0m-2-3h0m0-6h0m-4 2h0m-1-2h0m0-6h0m0-5h0m-1 15h0m-2 5h0m-7-15h0m0-5h0m-1 18h0m0-1h0m0-8h0m-3 10h0m-1-8h0m-8-3h0m-2 10h0m0-5h0m0-3h0m-7 10h0m-4-10h0m-4 1h0m-2 2h0m-4 6h0m-3 0h0m0-5h0m-2-1h0m0-2h0m-1-3h0m-6 9h0m0-8h0m-2-1h0m-2 4h0m0-4h0m-7 11h0m0-7h0m-2 2h0m-6 5h0m0-9h0m-4 8h0m-1-5h0m-3 5h0m0-19h0m-1 18h0m-1-3h0m-2 2h0m-3-12h0m-2 3h0m-3 9h0m-4-3h0m-6 3h0m0-13h0m-4 15h0m-1-20h0m-2 19h0m-11-8h0m-2-1h0m-4 8h0m-2 3h0m-3-2h0m-6 0h0m0-8h0m-4 3h0m-2-10h0m-2 16h0m-4-3h0m0-5h0m-1 9h0m-2-1h0m-2-3h0m-8 5h0m-10-2h0m-1-3h0m-2-7h0m-1 3h0m-5 0h0m-16 6h0m-2-7h0m-7 9h0m-11-12h0m-1 11h0m-2-4h0m0-3h0m-7 4h0m-2 0h0m0-5h0m-1 10h0m0-5h0m0-8h0m-10 5h0m-3 1h0m-3 6h0m-1-4h0m-5 1h0m-5-3h0m-2 5h0m2 5h0m2-1h0m15 0h0m27 0h0m21-1h0m4 0h0m20 0h0m19 2h0m28-1h0m6 1h0m14-2h0m4 1h0m7-1h0m56 0h0m7 2h0m26-2h0m17 1h0m10 0h0m15 0h0m1 1h0m2-1h0m5-1h0m1 2h0m7 0h0" stroke="#1f77b4" stroke-width="6.8" stroke-linecap="round" stroke-opacity="0.22" fill="none"/>
<path transform="scale(.25)" d="M1434 454h0m12-5h0m96 6h0m71-7h0m7 19h0m-2 9h0m-7 3h0m0-2h0m0-1h0m0-1h0m0-8h0m-1-8h0m-1 10h0m-1-5h0m-4 7h0m-2-10h0m-2 14h0m-1-1h0m-3-1h0m0 0h0m-1-1h0m-2 0h0m-3 3h0m-1-3h0m0-10h0m-2 15h0m0-2h0m-3-7h0m-1 4h0m-1-9h0m-1 9h0m-2-7h0m-1 14h0m-1-8h0m-3 7h0m-9 1h0m0-1h0m-5-8h0m-7 7h0m0 0h0m0-3h0m-4-6h0m-6 5h0m-1 3h0m0-13h0m-1 16h0m-2-10h0m-1-6h0m-7 4h0m0-6h0m-2 4h0m-3 3h0m-3 4h0m-5 2h0m-1-3h0m-2 4h0m-1-7h0m-2-4h0m-11 14h0m-7-2h0m-1 3h0m0-6h0m-5 1h0m-3 0h0m-1 4h0m-12-5h0m-3-5h0m-6 11h0m0-5h0m-1-2h0m-6 2h0m-3 5h0m0-6h0m-1-3h0m0-2h0m-6 9h0m-4-3h0m0-9h0m-13 7h0m-1-4h0m-1 6h0m-2-4h0m-1 9h0m-16-8h0m-1 3h0m-1 4h0m0-16h0m-9 5h0m-8 12h0m-12-23h0m-6 12h0m-1 10h0m0-19h0m-2 13h0m-4-4h0m-2 8h0m-2-12h0m-3 7h0m-13-1h0m-1-3h0m-1 11h0m-1-2h0m0-5h0m0-8h0m-7 16h0m0-9h0m-3 3h0m-1-4h0m-1-3h0m-5 8h0m0-2h0m-1 5h0m0-3h0m-24 0h0m-2 2h0m-11 6h0m29-1h0m15-1h0m68 0h0m10 0h0m16 0h0m19 1h0m6 0h0m1-1h0m5 1h0m8 1h0m4 0h0m24-2h0m21 2h0m30 0h0m10-1h0m5-1h0m6 1h0m2 0h0m8 0h0m8 1h0m3-2h0m3 1h0m27-1h0m7 0h0" stroke="#1f77b4" stroke-width="6.8" stroke-linecap="round" stroke-opacity="0.22" fill="none"/>
<path transform="scale(.25)" d="M1520 452h0m3-9h0m96 36h0m-3-14h0m-1 5h0m-3 7h0m-1-8h0m-1 6h0m0-1h0m-1 1h0m-4 0h0m-4 0h0m-15-5h0m-3 9h0m0-19h0m0-2h0m-5 21h0m0-4h0m-3 3h0m-1 1h0m-1 0h0m-2-17h0m-1-5h0m-5 20h0m-3-8h0m-1-7h0m-1 10h0m-1-3h0m-3 5h0m0 0h0m-3-15h0m-1 20h0m-5-9h0m0-1h0m-2-9h0m-10 7h0m-2 9h0m-2-5h0m-1 8h0m-7-4h0m-2-9h0m-1 9h0m0-7h0m-2 3h0m-6-3h0m-2 4h0m-5 7h0m0-11h0m-1 0h0m-3-7h0m-5 12h0m-1 4h0m-6 1h0m-3-2h0m-4-13h0m-1 15h0m0-1h0m-6 0h0m-11-14h0m-3 16h0m-1-15h0m-5 3h0m-2 10h0m-1-19h0m-4 15h0m-1-9h0m-10 7h0m-4-6h0m-11 3h0m-2-6h0m-1 13h0m-23-2h0m-8 5h0m-4-3h0m-2-6h0m-3 10h0m-3-16h0m-11-6h0m-8 21h0m0-5h0m-9 2h0m0-7h0m-6 9h0m-2-6h0m-3-15h0m-2 22h0m-2-4h0m-3 3h0m-9-7h0m-7 0h0m0-5h0m-5 13h0m-7-6h0m-4 1h0m-3 1h0m28 8h0m27-2h0m19 1h0m2-1h0m65 1h0m14-1h0m33 2h0m17-2h0m17 0h0m3 0h0m35 1h0m1 1h0m27-1h0m36 1h0" stroke="#1f77b4" stroke-width="6.8" stroke-linecap="round" stroke-opacity="0.22" fill="none"/>
<path transform="scale(.25)" d="M1376 452h0m245 26h0m-1-2h0m-5-15h0m-2 3h0m-1 12h0m-6 3h0m0-9h0m-6 9h0m-2-15h0m-1 9h0m-3 6h0m-4-2h0m-3-6h0m-4-6h0m-2 8h0m-3 1h0m-1-10h0m-1 14h0m-4-18h0m0-3h0m-1 21h0m0-17h0m-2 11h0m-6 5h0m-1-4h0m0-1h0m-2-4h0m-2-2h0m-1 13h0m0-2h0m-1-9h0m-1 6h0m-5 4h0m-3 0h0m-2-5h0m-8 6h0m0-7h0m-10 2h0m-1-7h0m-1-1h0m-1 9h0m-1 2h0m0-14h0m-4 4h0m-5-4h0m0-1h0m-3 12h0m-2 1h0m-2-2h0m-1 3h0m-5 1h0m-7-2h0m-5-3h0m-3 5h0m-16-7h0m-1 4h0m-2-9h0m-3 12h0m0-14h0m-2 15h0m0-17h0m-3 15h0m0-12h0m-1 4h0m-2 8h0m-1-3h0m0 0h0m0-10h0m-8 8h0m-2 6h0m-2-4h0m-4 0h0m-2-2h0m-1-1h0m-2 5h0m-2-12h0m-1 16h0m-3-7h0m0-14h0m-3 11h0m0-6h0m-1 5h0m-10-5h0m-2 8h0m-1 4h0m-2-9h0m-11 12h0m-5-8h0m-7 3h0m0-2h0m-1 8h0m-1-21h0m-9 10h0m-4 9h0m0-4h0m-8-4h0m-1 5h0m-12 5h0m-6-6h0m-3 3h0m-1-5h0m-4 2h0m-4 0h0m-7-9h0m-3 15h0m-26-5h0m15 7h0m12 1h0m5-1h0m9 0h0m10-1h0m3 1h0m64-1h0m23 2h0m3-2h0m10 0h0m8 0h0m41 1h0m4 1h0m27-1h0m16 0h0m6-1h0m10 0h0m2 2h0m3-1h0m8-1h0m16 1h0m20 1h0m1-1h0m1-1h0" stroke="#1f77b4" stroke-width="6.8" stroke-linecap="round" stroke-opacity="0.22" fill="none"/>
<line x1="322.1" y1="119.7" x2="404.5" y2="37.2" stroke="#1f77b4" stroke-width="1.5" stroke-opacity="0.55" stroke-linecap="round"/>
<path transform="scale(.25)" d="M1606 164h0m10-13h0m5 1h0m-21 17h0m-7 6h0m-3 2h0m-8 11h0m-2-1h0m-24 27h0m3-5h0m2 0h0m3-4h0m8-7h0m-24 23h0m-2 2h0m-26 26h0m2-3h0m-21 20h0m-2 12h0m-3-2h0m-5 2h0m-55 56h0m11-12h0m10-7h0m-29 25h0m-5 10h0m-2 2h0m-3 3h0m-29 26h0m6-7h0m2-3h0m11-9h0m-32 31h0m-2 6h0m-34 29h0m8-8h0m8-6h0m5-2h0m-32 30h0m-2 2h0m-24 20h0m6-4h0" stroke="#1f77b4" stroke-width="7.6" stroke-linecap="round" stroke-opacity="0.45" fill="none"/>
<path transform="scale(.25)" d="M1613 154h0m-15 17h0m-13 13h0m-32 31h0m21-22h0m-31 32h0m-5 6h0m-34 32h0m8-7h0m15-15h0m-33 38h0m-6 0h0m-5 5h0m-2 3h0m-19 22h0m6-8h0m2-3h0m3-3h0m5-5h0m-18 24h0m-8 1h0m-11 11h0m-2 4h0m-26 27h0m2-3h0m16-14h0m-31 30h0m-8 6h0m-26 31h0m16-21h0m2-2h0m-26 26h0m-5 6h0m-10 9h0m-29 28h0m5-2h0m3-5h0m2-2h0m-13 15h0m-5 2h0m-5 10h0m-8 6h0m-3 2h0m-5 3h0" stroke="#1f77b4" stroke-width="7.6" stroke-linecap="round" stroke-opacity="0.45" fill="none"/>
<path transform="scale(.25)" d="M1603 165h0m5-5h0m3 0h0m8-9h0m-24 21h0m-8 11h0m-10 7h0m-10 11h0m2-1h0m-18 19h0m-11 11h0m-5 4h0m-28 27h0m2-3h0m5-5h0m3 0h0m8-6h0m5-7h0m3 1h0m-47 41h0m-21 23h0m10-9h0m-20 17h0m-6 8h0m-5 4h0m-18 17h0m8-3h0m-24 23h0m-5 2h0m-3 1h0m-15 17h0m-24 23h0m6-3h0m2-3h0m8-10h0m-29 28h0m-5 9h0m-8 4h0m-21 22h0m16-13h0m3-6h0m-37 37h0m-2 2h0m-8 11h0" stroke="#1f77b4" stroke-width="7.6" stroke-linecap="round" stroke-opacity="0.45" fill="none"/>
<path transform="scale(.25)" d="M1607 161h0m6 6h0m-7 14h0m-1-4h0m-4 13h0m-4-1h0m-15 5h0m17 4h0m14 6h0m4 17h0m-15 10h0m-1 0h0m-1-12h0m-11 12h0m-1-4h0m-13 6h0m19 20h0m10-11h0m5 19h0m5-20h0m-5 37h0m-1-2h0m-3-6h0m-1 8h0m-10-14h0m-1 7h0m-1-4h0m-7 1h0m-6 29h0m10-9h0m1 14h0m9-10h0m9 8h0m7-1h0m1 6h0m5 2h0m-8 28h0m-7-22h0m-3 0h0m-2 8h0m-1 14h0m-14-2h0m-14-21h0m1 41h0m1 0h0m6-6h0m29 6h0m7-3h0m1 13h0m-3 17h0m-4-9h0m-8 8h0m-20-18h0m-2-1h0m-6 26h0m19 6h0m7 7h0m7 3h0m9-13h0m-2 32h0m-4 4h0m-3-16h0m-5 0h0m-1 20h0m0-3h0m-3-12h0m-6 6h0m-6-3h0m-12-8h0m-1 12h0m-1 23h0m7 0h0m6 7h0m1-15h0m1 11h0m11-5h0m7 5h0m9-1h0m1 5h0m2-19h0m4 43h0m-2-19h0m-3 21h0m-11-16h0m-7-2h0m-3 0h0m-22 13h0m35 9h0" stroke="#1f77b4" stroke-width="6.8" stroke-linecap="round" stroke-opacity="0.2" fill="none"/>
<path transform="scale(.25)" d="M1611 160h0m4 5h0m-10 18h0m-1-5h0m-4 9h0m-29 25h0m40 22h0m-13-13h0m-5 12h0m-3-12h0m-19 29h0m12 10h0m10 2h0m15-9h0m2-13h0m8 10h0m0 35h0m-15-1h0m-7-17h0m-25 13h0m1 17h0m21-2h0m27 13h0m1 0h0m-8 17h0m-9 9h0m-29-18h0m2 28h0m4-4h0m6 5h0m14-1h0m4 3h0m1 3h0m7 2h0m4 2h0m4 4h0m-4 8h0m-7 5h0m-4 7h0m-16-3h0m-9-2h0m-5-3h0m-3 12h0m22 18h0m4-1h0m2-11h0m6-4h0m1 10h0m-3 31h0m-3 4h0m-3-3h0m-3-1h0m-4 4h0m-2-20h0m-8 3h0m-2 17h0m-5 5h0m4 2h0m1 19h0m4-3h0m2-7h0m8 1h0m2 9h0m3-3h0m4-18h0m14 6h0m0 10h0m4 23h0m-2 5h0m-3-1h0m-7-3h0m-6-5h0m-1-10h0m-29 11h0" stroke="#1f77b4" stroke-width="6.8" stroke-linecap="round" stroke-opacity="0.2" fill="none"/>
<path transform="scale(.25)" d="M1614 162h0m6 8h0m-10-2h0m-2 8h0m0-2h0m-4 17h0m-29 3h0m8-2h0m3 23h0m1 0h0m1-3h0m21-20h0m1 12h0m0 6h0m5-18h0m-4 42h0m-11 5h0m-4-16h0m-8-4h0m-3 11h0m-1 7h0m-9-15h0m0-6h0m-2 1h0m-1 46h0m3-4h0m20 4h0m9-11h0m1-11h0m15 8h0m-14 19h0m-9 4h0m-3 15h0m-22-19h0m14 29h0m5 2h0m5 1h0m15 4h0m8 11h0m0-1h0m-10 15h0m-1-13h0m-19 3h0m-5 4h0m-12 17h0m4 10h0m28-3h0m0 5h0m0 1h0m1-2h0m1 2h0m1 4h0m11 8h0m-12 15h0m-10-2h0m-8 2h0m-4 3h0m-3-17h0m0 0h0m-5 0h0m-5 35h0m9 3h0m6-17h0m25 7h0m2-10h0m2 11h0m1 4h0m4 19h0m-11-9h0m-2 7h0m-7-5h0m-29 41h0m3-10h0m2-9h0m4 11h0m3-2h0m2 1h0m11 0h0m5-9h0m9 6h0m9 19h0m-1 2h0m-7 13h0m-9 2h0m-8-1h0m-8-4h0m-4-13h0m26 23h0" stroke="#1f77b4" stroke-width="6.8" stroke-linecap="round" stroke-opacity="0.2" fill="none"/>
<linearGradient id="gb1" x1="0" y1="1" x2="0" y2="0"><stop offset="0" stop-color="#ff7f0e" stop-opacity="0.95"/><stop offset="1" stop-color="#ff7f0e" stop-opacity="0.0"/></linearGradient>
<rect x="405.3" y="82.7" width="12.2" height="37.8" fill="url(#gb1)"/>
<path transform="scale(.25)" d="M1638 147h0m3 5h0m10 9h0m12-6h0m-13 18h0m-7 5h0m-4 4h0m-15-12h0m-3 4h0m6 36h0m16-16h0m1 17h0m3 4h0m2-20h0m8 12h0m10-8h0m-22 30h0m-4 8h0m-1 2h0m-4-20h0m-8 13h0m-5-10h0m8 36h0m5-14h0m1 9h0m5-8h0m3 1h0m1 17h0m2-17h0m10 0h0m0 10h0m8-1h0m-13 23h0m-3-13h0m-10 21h0m-4-11h0m-13 36h0m5-17h0m3 13h0m2 1h0m12-7h0m20-13h0m2 4h0m1 7h0m-8 34h0m-6-16h0m-1 15h0m-1-1h0m0-19h0m-5 15h0m-13 6h0m0-20h0m-3 10h0m-6-8h0m0 21h0m2 13h0m2-4h0m9 6h0m3-2h0m0 3h0m6 0h0m2-15h0m3 0h0m4 11h0m7-4h0m4 39h0m-5-23h0m-3 11h0m-1 7h0m-1-10h0m-11 2h0m-3 12h0m-4-11h0m-3 12h0m-4-3h0m-6-14h0m-4 15h0m5 4h0m1 2h0m2 18h0m2-15h0m0 0h0m6 15h0m9-21h0m6 13h0m3 1h0m5-7h0m2-1h0m3 1h0m2 0h0m1 5h0m-1 35h0m-1-3h0m-1-14h0m0-6h0m-2 7h0m-12-6h0m-3-1h0m-6 4h0m-1 7h0m-3-2h0m-1 1h0m-2-2h0m-1-7h0m-3 8h0m-6-8h0m-4 16h0m4 9h0m1 13h0m1 2h0m1-9h0m0 13h0m3-19h0m1 10h0m0 11h0m6-14h0m14-5h0m5 4h0m0 9h0m1-2h0m2 1h0m5-12h0m1 2h0m1 15h0m1 24h0m0-4h0m-1-15h0m-5 10h0m-2-10h0m-3 20h0m-6-12h0m0 0h0m0-6h0m-2 15h0m-1 0h0m-1-16h0m-2-3h0m-2 16h0m-1-9h0m0-1h0m-3-1h0m-5 9h0m-1-9h0m-2-5h0m-4 23h0m0-9h0m-1 7h0m0-19h0m-2 4h0m-1 10h0m-1-11h0m1 19h0m2 0h0m19 1h0m2-1h0" stroke="#ff7f0e" stroke-width="6.8" stroke-linecap="round" stroke-opacity="0.3" fill="none"/>
<path transform="scale(.25)" d="M1627 148h0m2 15h0m6-4h0m4-12h0m18 9h0m9 11h0m1-17h0m3 33h0m-19-1h0m-9 12h0m27 32h0m-10-8h0m-7 11h0m-6-3h0m-10 6h0m-1 7h0m-6-22h0m-3 10h0m4 28h0m9 3h0m12-14h0m2 4h0m11 15h0m4 4h0m-3 6h0m-2 13h0m-1 0h0m-6-10h0m-1-11h0m-14 13h0m-19 2h0m0 22h0m1-10h0m13-3h0m5 4h0m2-3h0m1 21h0m5-9h0m3-13h0m17 35h0m-2 11h0m0-2h0m-2-14h0m-8 14h0m-7-7h0m-10 7h0m-2-7h0m-1-8h0m-15 3h0m-1 25h0m7 9h0m3-2h0m6-9h0m5 3h0m7-4h0m2-2h0m7 15h0m2-4h0m6-3h0m2 4h0m-5 13h0m-3 10h0m-10 3h0m-4-17h0m-5 14h0m-5-9h0m-2 3h0m-9 0h0m4 22h0m4 3h0m2-3h0m7 3h0m4-10h0m6 18h0m3-16h0m3 17h0m3-13h0m0 1h0m0 12h0m5-12h0m1 12h0m2 10h0m-2 6h0m-10 11h0m-1-19h0m-3 15h0m-2-4h0m-3-7h0m0-7h0m-1 7h0m-2 14h0m-5-3h0m0-18h0m-2 19h0m-3-12h0m0-3h0m-1 4h0m0-9h0m-3 5h0m-1 12h0m-1 2h0m-3 4h0m-1-5h0m3 17h0m0 4h0m1 2h0m1-14h0m2 17h0m1 3h0m1-10h0m0 3h0m0 0h0m0 3h0m1-10h0m6-4h0m5 15h0m5-8h0m0 8h0m1-5h0m4-2h0m3-12h0m4 9h0m0 9h0m2-7h0m0 10h0m1-2h0m2 0h0m-2 22h0m-3 5h0m-2-11h0m0-5h0m-1 14h0m0-5h0m-4 0h0m0-7h0m-1-3h0m-3 8h0m-2-1h0m-6-7h0m-1 8h0m-4-7h0m-1 14h0m-2-17h0m-5 13h0m0-1h0m-2-6h0m-2 9h0m-1 4h0m0-7h0m-1 3h0m0-9h0m0-8h0m-1 7h0m41 16h0m4 0h0" stroke="#ff7f0e" stroke-width="6.8" stroke-linecap="round" stroke-opacity="0.3" fill="none"/>
<path transform="scale(.25)" d="M1625 156h0m40 34h0m-8-19h0m-1-1h0m-5 13h0m-11 6h0m-9-20h0m-5 31h0m10 3h0m14 5h0m15 7h0m4-8h0m-1 10h0m-1 22h0m-16-6h0m-8-12h0m-3 2h0m-3-3h0m-5 26h0m4-4h0m8-1h0m5 22h0m18-3h0m1-12h0m-9 27h0m-12-6h0m-23 11h0m-1 27h0m20-15h0m0 18h0m11-21h0m15 1h0m0 24h0m-16 4h0m-1 7h0m-5 1h0m-8-5h0m-1-2h0m-9 9h0m0 31h0m9-12h0m0 2h0m4 2h0m2-8h0m6-4h0m3 1h0m11 9h0m0 9h0m5 18h0m-10-3h0m-7-2h0m-4 11h0m0-3h0m-6-11h0m-1 2h0m-12-6h0m-2 7h0m-2-5h0m-1 15h0m0 0h0m-1-9h0m-1 0h0m0-2h0m3 19h0m4 10h0m1 3h0m0 3h0m6-11h0m4 6h0m1-11h0m4-4h0m0 16h0m0 6h0m7 0h0m1-14h0m3-4h0m2 13h0m4-16h0m3 18h0m1-6h0m1-14h0m-5 45h0m-1-6h0m-1 7h0m-2-3h0m-1 0h0m0-6h0m0-13h0m-1 15h0m-11-14h0m-1 3h0m-9 18h0m0-12h0m-1 10h0m-2-17h0m-3 13h0m-7 7h0m0 2h0m5 9h0m0 1h0m1-4h0m0 16h0m3-21h0m0 21h0m2-8h0m0 6h0m1-17h0m2 10h0m3-4h0m2-4h0m1 11h0m1-9h0m1-7h0m2 20h0m1-15h0m1-2h0m9 14h0m1-5h0m8-9h0m3 6h0m0 30h0m-9-9h0m-3-1h0m-2 12h0m0-8h0m-1-5h0m-1 5h0m0-8h0m-3 4h0m-1 10h0m0-8h0m0-1h0m-5 4h0m-1 5h0m0-13h0m-1 8h0m-4 0h0m-1 12h0m-1-18h0m-1-1h0m0-2h0m-1-1h0m-2 19h0m-10-7h0m19 13h0m16 0h0" stroke="#ff7f0e" stroke-width="6.8" stroke-linecap="round" stroke-opacity="0.3" fill="none"/>
<path transform="scale(.25)" d="M1630 154h0m13 8h0m7-11h0m1-2h0m4 2h0m2-4h0m12 29h0m-9 3h0m-23-9h0m-12 8h0m-1 12h0m-1 16h0m15 7h0m2 0h0m1 0h0m6-7h0m9-7h0m10 12h0m-1 13h0m-7 3h0m-15-10h0m-13 15h0m0-9h0m-4 1h0m4 20h0m26 12h0m11-2h0m1-12h0m2 28h0m-5 16h0m-6-18h0m-10 9h0m-16-12h0m-6 6h0m-2 2h0m0 15h0m7 17h0m9 6h0m10-17h0m8 6h0m2-11h0m5 17h0m4 24h0m-2-18h0m-4 13h0m-7-10h0m-2 6h0m0-5h0m-10 18h0m-12-1h0m-2-15h0m-3 38h0m6-11h0m3-7h0m2 12h0m13 0h0m7 2h0m3 7h0m1-14h0m5 12h0m2 4h0m-6 2h0m-8 20h0m0-2h0m-4-3h0m-9-14h0m-1 2h0m-2-6h0m-7 10h0m-9 34h0m7-10h0m1 4h0m7 6h0m4-11h0m1-3h0m2-3h0m0 9h0m0 3h0m3 3h0m2 2h0m2-17h0m2 7h0m3 8h0m5 3h0m3-10h0m3 11h0m-1 24h0m-6-16h0m-3 7h0m0-11h0m-5 2h0m-2 16h0m0-16h0m-4 17h0m0-15h0m-1 6h0m-4 3h0m-2 4h0m0-14h0m-7-3h0m-1 19h0m0-9h0m-10 1h0m4 27h0m4-4h0m0 2h0m1-12h0m0 6h0m1-3h0m5-2h0m0 15h0m2-4h0m2 9h0m3-9h0m1-7h0m2 15h0m1-7h0m2-8h0m12-5h0m1 2h0m0 2h0m0 7h0m6 1h0m0 25h0m0-14h0m-1 9h0m-3 1h0m-1-8h0m-1 3h0m-3-5h0m-1 9h0m-3 13h0m0-23h0m-2 13h0m-7 4h0m-1-3h0m-2-2h0m-2 5h0m-1-1h0m-3-8h0m-2 11h0m-10-14h0m-2 6h0m16 14h0m27 0h0" stroke="#ff7f0e" stroke-width="6.8" stroke-linecap="round" stroke-opacity="0.3" fill="none"/>
<path transform="scale(.25)" d="M1622 147h0m1 2h0m5 3h0m7-6h0m26 20h0m1 1h0m4-4h0m-1 8h0m-11-3h0m-9 3h0m-1 4h0m-9 10h0m0-14h0m-8 7h0m-5 8h0m7 15h0m13 2h0m1-3h0m13 14h0m11-4h0m-17 11h0m-10 15h0m-1-17h0m-7 5h0m-9-4h0m1 37h0m4 3h0m2 0h0m3-10h0m7 13h0m6-12h0m2 11h0m5-5h0m2-11h0m4 4h0m1-10h0m0 21h0m2-19h0m5 33h0m-16 6h0m-2 2h0m-21-5h0m-6 8h0m1 3h0m0 9h0m11-2h0m2 13h0m9-7h0m4-3h0m5 11h0m9-1h0m6 15h0m-10-12h0m-10 2h0m-8 0h0m-7 4h0m-3 16h0m0-20h0m-8 13h0m1 32h0m5-23h0m1 2h0m8 6h0m2 5h0m2-5h0m6 2h0m1-6h0m7 6h0m6-7h0m2 14h0m5-4h0m0 32h0m0-15h0m-5 10h0m0-7h0m-3 14h0m-1-5h0m-2-17h0m-13 15h0m-3-5h0m-20 14h0m3 17h0m2 4h0m1-4h0m3 4h0m3-4h0m2-14h0m1 9h0m2-2h0m1-6h0m8 8h0m10 3h0m5-5h0m3-8h0m-3 41h0m-2-18h0m-10 21h0m-1-2h0m-1-15h0m0-3h0m-1 6h0m-7 1h0m-4-2h0m-5 5h0m-2 4h0m-4 5h0m0-4h0m-1 0h0m1 7h0m1 12h0m0 6h0m6 4h0m3-2h0m7-20h0m0 9h0m5 8h0m2-13h0m2 12h0m1-13h0m0 9h0m6-6h0m0 5h0m3 10h0m1-11h0m1 3h0m2 0h0m0 5h0m3 8h0m-2 18h0m-1-4h0m-1-1h0m-5-9h0m-1-1h0m-1-3h0m-2-3h0m-2 4h0m-2 14h0m-1-8h0m-3 12h0m-2-9h0m0-2h0m-1 9h0m-5 2h0m-2-22h0m-3 13h0m0-10h0m0-1h0m-12 22h0m5 1h0m7 1h0m13-2h0" stroke="#ff7f0e" stroke-width="6.8" stroke-linecap="round" stroke-opacity="0.3" fill="none"/>
<path transform="scale(.25)" d="M1621 149h0m5 1h0m17 13h0m0 1h0m12 3h0m4 0h0m2 15h0m-1 1h0m0-4h0m-19 6h0m-1 0h0m-3 1h0m-10-9h0m1 21h0m1-1h0m4 14h0m2-4h0m17-4h0m8-11h0m8 9h0m-10 18h0m-2 13h0m-9-7h0m-4-8h0m-10 45h0m2-11h0m8 4h0m2-7h0m1 11h0m1-19h0m1 5h0m1 17h0m10-2h0m11 9h0m-4-4h0m-3 6h0m-6 10h0m-11-17h0m-11 16h0m-13 4h0m7 4h0m5 18h0m2 3h0m5-19h0m1 16h0m9 2h0m1-1h0m6-4h0m8-15h0m-1 45h0m-9-1h0m-3-15h0m-2-2h0m-4 2h0m-6 14h0m-3-15h0m-2 18h0m-1-11h0m-11 22h0m10 4h0m12-12h0m0 18h0m1 1h0m4-14h0m6-3h0m1 19h0m2-5h0m1 2h0m1-3h0m5 4h0m0 21h0m-4-1h0m-4 1h0m-10-1h0m-8-12h0m-3-2h0m-3 12h0m-5-14h0m-1 8h0m-3 0h0m-3 24h0m2 12h0m1-2h0m9-18h0m10 22h0m5-6h0m1 2h0m2-2h0m3-13h0m2 12h0m2 8h0m3-9h0m1 2h0m1-8h0m1-3h0m1 42h0m-1-5h0m0-12h0m-5 17h0m-4-2h0m-4-10h0m0-9h0m-3 5h0m-3 2h0m-2 1h0m-4-4h0m-1 12h0m-2-5h0m-1 1h0m-6 1h0m-1 1h0m-3 1h0m0-10h0m-4 2h0m-2 33h0m1-2h0m7-15h0m5 5h0m0 16h0m1-17h0m0 16h0m1 1h0m15-1h0m4-9h0m0 2h0m3-14h0m0 2h0m1 20h0m5-20h0m5 44h0m-2-2h0m-4-2h0m-1 4h0m-7-11h0m0-10h0m-3 16h0m-1 0h0m-7-10h0m-3 12h0m-3-8h0m-2-8h0m-7 19h0m0-2h0m-2-17h0m-2 12h0m-1-7h0m21 17h0m5 1h0" stroke="#ff7f0e" stroke-width="6.8" stroke-linecap="round" stroke-opacity="0.3" fill="none"/>
<path d="M405.3 36.4L417.5 24.2L417.5 36.4Z" fill="#2ca02c" fill-opacity="0.2"/>
<path transform="scale(.25)" d="M1664 111h0m4 4h0m0 14h0m-2-1h0m-8 8h0m-1-11h0m-1 16h0m-1-17h0m-5 4h0m0-7h0m-2 10h0m-2 1h0m-3-1h0m-1 4h0m0-4h0m-9 11h0m-6 1h0m-4 2h0m19-1h0m19 0h0" stroke="#2ca02c" stroke-width="6.4" stroke-linecap="round" stroke-opacity="0.3" fill="none"/>
<path transform="scale(.25)" d="M1650 118h0m3 1h0m1 0h0m2-7h0m2-2h0m0 2h0m3-2h0m0 4h0m5-2h0m0 2h0m1-3h0m1 6h0m2-9h0m-1 33h0m0 0h0m-1-8h0m-1 10h0m-4-15h0m0-3h0m-2 17h0m-3-3h0m-3-19h0m-2 16h0m0 0h0m-2-5h0m-1 12h0m-1-19h0m-3 19h0m-2-2h0m0-3h0m0-5h0m0-6h0m0-3h0m-11 18h0m0-7h0m-1 4h0m-1 3h0m0-5h0m15 7h0m12 0h0" stroke="#2ca02c" stroke-width="6.4" stroke-linecap="round" stroke-opacity="0.3" fill="none"/>
<line x1="405.3" y1="36.4" x2="417.5" y2="24.2" stroke="#2ca02c" stroke-width="1.6" stroke-opacity="0.85" stroke-linecap="round"/>
<line x1="416.6" y1="36.4" x2="416.6" y2="24.2" stroke="#2ca02c" stroke-width="1.4" stroke-opacity="0.75"/>
<path d="M437.3 120.5L521.5 36.4L521.5 120.5Z" fill="#92bade" fill-opacity="1.0"/>
<path transform="scale(.25)" d="M2043 236h0m1 0h0m-5 11h0m-18 0h0m-38 33h0m6-7h0m15 3h0m32 9h0m15-15h0m1 19h0m-5 7h0m-8 9h0m-15-13h0m-11 3h0m-5-5h0m-1 15h0m0-4h0m-17 9h0m-16-14h0m-17 12h0m-5 13h0m2-2h0m12-5h0m7 5h0m4-6h0m3 6h0m10 6h0m8 9h0m5-22h0m2 13h0m3-7h0m2 17h0m20-2h0m51-5h0m1-13h0m1 16h0m-37 17h0m-7 3h0m-6 8h0m-7-13h0m-4-4h0m-8-6h0m-14 11h0m-1-4h0m-2 9h0m-7-4h0m-3 10h0m-3 0h0m0-11h0m-2-1h0m-2 13h0m0-20h0m-3 17h0m-10-3h0m-1-17h0m-7 9h0m-2-7h0m-8 18h0m-4-8h0m-8-5h0m0-4h0m-2 5h0m-6 11h0m0-15h0m-2 8h0m-1 11h0m-1-2h0m0-9h0m-4 9h0m-4-11h0m-9 4h0m-22 31h0m2-3h0m9 3h0m7-6h0m2-2h0m5 5h0m10-17h0m6 1h0m3 16h0m2 4h0m1-15h0m0 13h0m7-19h0m12 9h0m0 8h0m2-13h0m3 3h0m1 13h0m1 2h0m1-4h0m3-18h0m7 9h0m3 11h0m1-4h0m0 2h0m6-18h0m6-1h0m0 9h0m8-7h0m0 8h0m10-1h0m3 6h0m14-15h0m7 2h0m8 19h0m2-6h0m2-7h0m1-4h0m16 6h0m7 1h0m6 1h0m2 3h0m14 17h0m-12 15h0m-3-16h0m-3 16h0m0-20h0m-2 12h0m-3-14h0m-1 22h0m-1-21h0m-3 13h0m-3-2h0m-5-5h0m-12-5h0m-9 14h0m-3-3h0m-1 7h0m-2-19h0m-1 17h0m-2-3h0m-2 6h0m-6 1h0m-3-15h0m-1-6h0m-4-1h0m-3 9h0m-12-6h0m-6-1h0m-2 0h0m-4 10h0m-3-1h0m-5 11h0m0-19h0m0-3h0m-5 8h0m-2-4h0m-1 5h0m-2 9h0m-1-1h0m-1-15h0m-1 11h0m-2-4h0m-6 8h0m-3-15h0m-10-2h0m-1 18h0m-5-9h0m-6-7h0m-1 8h0m-6 5h0m0-2h0m-1 4h0m-10 1h0m-1-3h0m-2-4h0m-1-2h0m-24 12h0m-2-7h0m-28 28h0m12-16h0m13 17h0m7-7h0m2-2h0m7 10h0m9-13h0m3 11h0m1-15h0m2 13h0m3 5h0m1-22h0m4 6h0m2 12h0m0 2h0m9 3h0m4 0h0m2-21h0m4 11h0m2-8h0m2 1h0m15-2h0m1 5h0m9-5h0m3 0h0m4 2h0m2 7h0m1 3h0m1 6h0m1-6h0m2-5h0m4 0h0m2 11h0m1 1h0m13-19h0m1 0h0m5 10h0m7-12h0m2-1h0m0 8h0m7-2h0m7-7h0m6 11h0m4 7h0m2 2h0m8-7h0m2 1h0m6-9h0m8 5h0m7 8h0m10-13h0m5 38h0m-2-19h0m-30 15h0m-3-3h0m-3 6h0m-11 3h0m-6-3h0m-12-15h0m-15 7h0m-9-8h0m-3 2h0m-3-1h0m-11 2h0m-1 18h0m-1-11h0m-5-1h0m-3-11h0m-6 1h0m-8 10h0m-3 6h0m-1-11h0m-3 8h0m-4-9h0m-1 16h0m-2-4h0m-3 6h0m-4-23h0m-4 9h0m-1 13h0m-13-20h0m-5 9h0m-6 6h0m-1-4h0m-3 5h0m-22-10h0m-2-4h0m-18 17h0m-37-2h0m12 9h0m0 0h0m19 5h0m10-9h0m3 5h0m44 2h0m7-6h0m18 7h0m3-6h0m28 6h0m9 0h0m5-3h0m6 2h0m11-3h0m15-1h0m17 5h0m8-3h0m5 0h0m28-3h0m6 6h0m3-3h0m2 2h0m8-4h0" stroke="#ffffff" stroke-width="10" stroke-linecap="round" stroke-opacity="0.22" fill="none"/>
<path transform="scale(.25)" d="M2032 229h0m14-8h0m25 39h0m-8 0h0m-25 1h0m-26 10h0m4 4h0m5 9h0m12-19h0m16 14h0m1 2h0m15 9h0m-1 1h0m-19 8h0m-1-4h0m-4 15h0m-5-15h0m-25 8h0m-13-8h0m-2 16h0m-4-16h0m-5-1h0m-4-3h0m-6 16h0m-3-11h0m-6 7h0m-30 22h0m3 3h0m1-6h0m4-6h0m9 1h0m4 13h0m3-18h0m0 16h0m3 2h0m1-10h0m7 12h0m7 0h0m2-18h0m5-2h0m6 16h0m9-2h0m1 1h0m2 7h0m11-17h0m0 11h0m5-13h0m4 7h0m8 12h0m2-19h0m13 4h0m1 15h0m11-19h0m8 12h0m12-10h0m6 9h0m-9 29h0m0-5h0m-2 7h0m-2-19h0m-12 3h0m-5 15h0m-14 0h0m-7-1h0m-13-6h0m-1-12h0m-26 9h0m-1-2h0m-1 10h0m-9-9h0m-25-4h0m-5 12h0m-2 0h0m-1 4h0m0-21h0m-6 13h0m-6 6h0m0-19h0m-2 3h0m-13 16h0m-2-11h0m-2 8h0m-3-4h0m-31 31h0m0 0h0m2-6h0m6-5h0m0 8h0m0 7h0m4-20h0m11 0h0m6 7h0m13-10h0m5 17h0m2-1h0m0 3h0m7-19h0m8 4h0m0 3h0m3 3h0m6-3h0m8 16h0m7-16h0m1 9h0m2 1h0m2-15h0m11 9h0m0 10h0m1-10h0m1 3h0m2 8h0m3-11h0m1 9h0m6 1h0m7-16h0m1 18h0m9-17h0m1 3h0m1-7h0m5 8h0m0 7h0m10 6h0m2-6h0m1 4h0m4-19h0m4 19h0m11-18h0m15 2h0m11-5h0m0 16h0m-10 21h0m-3-11h0m-12 9h0m-3-5h0m-1 4h0m-1-9h0m-8 11h0m-5-3h0m-16 4h0m-4 1h0m-15 7h0m-1-11h0m-3 1h0m-6 8h0m-2-12h0m-11 15h0m-9-10h0m-3-6h0m-17-4h0m-1 12h0m0-11h0m-4 15h0m0-17h0m-4 1h0m-2 2h0m-5 17h0m-2-9h0m-8-9h0m-8-2h0m-4 4h0m-5-5h0m-11 18h0m-2-5h0m-1 8h0m-5-19h0m-5 9h0m-2 6h0m0-12h0m-2-3h0m-5 15h0m-6-9h0m-2 10h0m-2-3h0m-1 8h0m-8-3h0m-15 20h0m6 3h0m10-19h0m2 8h0m11 5h0m1-10h0m7 6h0m3 4h0m0 6h0m6-10h0m8 9h0m1 3h0m13-12h0m2 12h0m1-10h0m4-11h0m4 15h0m1 0h0m1-9h0m5 5h0m6 9h0m10-16h0m18 5h0m0 12h0m5-7h0m1 5h0m1-7h0m14-12h0m1 15h0m16-7h0m1-8h0m20 14h0m1-3h0m6 5h0m0 6h0m5-19h0m2-1h0m0 3h0m16-4h0m3 19h0m4-17h0m18 28h0m-16 7h0m-7-11h0m-19 10h0m-4-6h0m0-2h0m-6-3h0m-7 3h0m-17-2h0m-9 1h0m-3 7h0m-12-1h0m-16 7h0m-5-8h0m-14 2h0m-2 8h0m-6 3h0m0-11h0m-18 6h0m-5 1h0m-28-2h0m0-11h0m-3 8h0m-35 2h0m-1 4h0m-4-1h0m-6 4h0m-3-8h0m-4 8h0m-2-21h0m-11 32h0m19-7h0m10 6h0m38-8h0m158 5h0" stroke="#ffffff" stroke-width="10" stroke-linecap="round" stroke-opacity="0.22" fill="none"/>
<path transform="scale(.25)" d="M2056 259h0m13 22h0m-15-2h0m-12 1h0m0-10h0m-22 3h0m-3 3h0m-8 0h0m-53 32h0m17-15h0m15 0h0m5 9h0m9 5h0m7-1h0m43-7h0m15-4h0m5 13h0m5-4h0m3 22h0m-40 8h0m0-8h0m-18 8h0m-1-11h0m-3 12h0m-2-21h0m-3 8h0m-13 13h0m-9-12h0m-9-4h0m-1 11h0m-9-10h0m-1 2h0m-15 11h0m-5-3h0m0-5h0m-9-5h0m-4 11h0m-25 20h0m14-3h0m11 7h0m3-14h0m0 17h0m1-21h0m12 14h0m3 6h0m3 0h0m15 2h0m3-22h0m0 10h0m5-9h0m4 18h0m18-5h0m3-4h0m2 9h0m4-20h0m1 21h0m10-10h0m1-7h0m3 12h0m6-2h0m9 4h0m4-1h0m14 4h0m2-4h0m5-11h0m4 0h0m8 1h0m-7 33h0m-3-4h0m0-11h0m-19 10h0m-9-7h0m-12 7h0m-12-2h0m-11 0h0m-2-8h0m-5 9h0m-11 8h0m-8 5h0m-4-2h0m-2 1h0m-14-17h0m-11 6h0m-1 5h0m-1-14h0m-1 21h0m-4-21h0m-2 13h0m-5-13h0m-4 1h0m-2 15h0m-4-4h0m0-6h0m-3 2h0m-7 0h0m-1 3h0m-2-13h0m-10 6h0m-4 10h0m-1-2h0m-2-8h0m-35 38h0m13-11h0m9 5h0m1-12h0m1 2h0m4 14h0m18 0h0m3-4h0m5-3h0m3-3h0m3 11h0m20-11h0m6 4h0m3-1h0m8-6h0m7 6h0m6-4h0m5 13h0m1-5h0m3-6h0m7 0h0m5-4h0m5-2h0m1 10h0m3 10h0m6-20h0m1 19h0m2-17h0m2-2h0m16 15h0m5-11h0m1 2h0m4 5h0m6-5h0m8 11h0m3-3h0m28-10h0m-13 21h0m-9 12h0m-19 2h0m-15 1h0m-2-5h0m-4 2h0m-1-2h0m-12-1h0m-4-1h0m-2 5h0m-6-8h0m-12 0h0m-8-8h0m-5 9h0m-3-2h0m-1 0h0m-6 2h0m-1 2h0m-5-6h0m-2 12h0m-2-9h0m-4-5h0m-4-2h0m-5 18h0m-2-10h0m-2-6h0m-8 0h0m-15-4h0m-3 6h0m-2 1h0m-11 12h0m-4-11h0m-6-5h0m-1 17h0m-29 3h0m0-3h0m-21-4h0m-6 15h0m28 11h0m3-2h0m11 7h0m7-5h0m11-18h0m2 22h0m9 0h0m2-6h0m3-13h0m2 16h0m35-11h0m6 13h0m27-1h0m6-7h0m3-3h0m0 9h0m8-10h0m14 0h0m14 1h0m3-4h0m29 5h0m6-3h0m2-1h0m0 11h0m18 2h0m7 5h0m-14 1h0m-21 0h0m-19-1h0m-10 3h0m-37 1h0m-28-5h0m-4 1h0m-2 3h0m-13-3h0m-14 6h0m-6 0h0m-25-3h0m-3 4h0m-22-5h0m-25-1h0m-17 3h0" stroke="#ffffff" stroke-width="10" stroke-linecap="round" stroke-opacity="0.22" fill="none"/>
<path transform="scale(.25)" d="M2073 232h0m-73 46h0m-49 31h0m13-11h0m7-5h0m0 15h0m8-19h0m12 2h0m13 9h0m13 10h0m11 0h0m13-22h0m12 11h0m6-7h0m6-1h0m5 7h0m4 4h0m0 5h0m3 0h0m5-19h0m-2 31h0m-9 6h0m0-12h0m-2 17h0m-5 1h0m-9-14h0m-8-1h0m-5 17h0m-6-1h0m-6-11h0m-28 10h0m-9-5h0m-16-11h0m-5 19h0m-1-18h0m-2 9h0m-2-13h0m-5 7h0m0-6h0m-6 12h0m-9-6h0m-1 2h0m-1-1h0m-1 0h0m-1-3h0m-1 6h0m-13 11h0m-22 23h0m8-3h0m2-2h0m3-3h0m5 0h0m4 6h0m3-19h0m2 6h0m5-1h0m0 1h0m0 5h0m14 8h0m6-14h0m3 8h0m4-8h0m4 2h0m12 1h0m6 6h0m4-11h0m5 20h0m20-1h0m7-15h0m2 1h0m2-1h0m5 7h0m27 7h0m16-5h0m9 26h0m-6-18h0m-9 4h0m-12 12h0m-8-1h0m-1-2h0m-11-1h0m-1 5h0m-2-4h0m-5 7h0m-4-1h0m-1-14h0m-1 14h0m-9-18h0m-8 9h0m-7 6h0m-11 3h0m-5-5h0m-1-3h0m0-11h0m-3 5h0m-1-5h0m-9 12h0m-7 7h0m-4-3h0m-1 3h0m-5-13h0m-1 5h0m-9 12h0m-1-19h0m-5 0h0m-5 9h0m-1 9h0m0-21h0m-4 9h0m-5 4h0m-3-3h0m-2 2h0m-6 7h0m-1-19h0m-4 3h0m-3 3h0m-1 16h0m-6-9h0m-23 16h0m2 3h0m5 5h0m1 8h0m7-17h0m2 7h0m4 2h0m8-5h0m6 11h0m3-5h0m4-1h0m3-3h0m10-10h0m5 11h0m17-7h0m1 7h0m11 2h0m3 8h0m4-22h0m0 19h0m9-7h0m13 10h0m6-13h0m5-5h0m13 0h0m4 17h0m21-18h0m2 13h0m5-2h0m1-2h0m3 10h0m4-9h0m2-13h0m1 22h0m8-10h0m2 2h0m10-9h0m5 7h0m-6 13h0m-12 15h0m-4 2h0m-5 1h0m-7 4h0m-3-8h0m-15 3h0m-13-8h0m-10 1h0m-3-5h0m-5-6h0m-1 9h0m-4 7h0m-22-16h0m-2 4h0m-17 19h0m-5-6h0m-1-15h0m-2 9h0m-8-6h0m-1 10h0m-3-14h0m-3 13h0m-1-10h0m-14 12h0m-7-3h0m-2 10h0m-1-18h0m-3 18h0m-4-5h0m-6-18h0m-14 15h0m-3 3h0m-8-14h0m-2-4h0m-7 9h0m-5 5h0m-4-11h0m-6 10h0m-31 24h0m21 3h0m18-1h0m9-2h0m12 0h0m26-9h0m3 11h0m17-10h0m0 6h0m19 1h0m3-10h0m4 10h0m9-10h0m3 9h0m1 8h0m25-12h0m2-5h0m1 19h0m1 1h0m1-13h0m1-9h0m4 19h0m3-19h0m0 21h0m11 0h0m2 1h0m23 1h0m12-21h0m8 14h0m14-8h0m8 13h0m12-16h0m-10 28h0m-4-6h0m-18 4h0m-5-5h0m-5 1h0m-38 0h0m-30 0h0m-2 5h0m-1-7h0m-27 4h0m-22-1h0m-12 5h0m-7-5h0m-4-4h0m-9 3h0m-5 4h0m-2-4h0m-56 6h0m-4-3h0m-4-2h0" stroke="#ffffff" stroke-width="10" stroke-linecap="round" stroke-opacity="0.22" fill="none"/>
<path transform="scale(.25)" d="M2030 251h0m8 6h0m17 3h0m28 27h0m-8-21h0m-15 9h0m-4 0h0m-9-6h0m-14 18h0m-19-8h0m-5 1h0m-9 3h0m-1 3h0m-2-2h0m-9-9h0m-31 34h0m5 1h0m1-5h0m15-8h0m3 4h0m17-3h0m12 2h0m6-1h0m12-9h0m6 15h0m35 25h0m-1-10h0m-9 10h0m-10-9h0m-19 4h0m-11 1h0m-15-9h0m-5 7h0m-10-7h0m-1 13h0m-1-3h0m-3-2h0m0-12h0m-3 8h0m-13 7h0m-3-15h0m-3 16h0m-5 1h0m0-15h0m-3 17h0m-7-1h0m-2-15h0m-3 12h0m-2 6h0m-1-5h0m-3-6h0m-2 9h0m-28 27h0m1-2h0m12 1h0m18 1h0m17-3h0m5-7h0m2-6h0m6 11h0m7-3h0m0 7h0m1-22h0m3 2h0m3 0h0m0 20h0m5 0h0m1-18h0m14 7h0m12 9h0m21-7h0m5 8h0m6-2h0m4-12h0m1 14h0m10-20h0m11 12h0m12-12h0m1 2h0m-22 38h0m-4-16h0m-7 16h0m-1-1h0m-1-12h0m-11 12h0m-6 4h0m-7-3h0m-3-1h0m-1-8h0m-2 11h0m-5-14h0m-6-5h0m-5 4h0m-3-1h0m-5 3h0m-1 0h0m-1 3h0m-2 0h0m-3-5h0m-1 18h0m-1-9h0m-7 9h0m-1-18h0m-3 12h0m0-14h0m-1 11h0m-5-4h0m-4 8h0m0-16h0m-7 3h0m0-3h0m-2 11h0m0-5h0m-6 15h0m0-12h0m-28 10h0m-19-1h0m-1 1h0m0-12h0m0-8h0m-10 8h0m2 18h0m6 19h0m9-21h0m6 16h0m8-15h0m9 9h0m0 8h0m3-18h0m0 12h0m2 6h0m3 2h0m1 2h0m2-22h0m4 21h0m1 1h0m4 0h0m10-20h0m7 15h0m1-9h0m2 1h0m9 10h0m1-19h0m5 22h0m4-18h0m0 3h0m7 2h0m8-1h0m4 6h0m2 2h0m3-12h0m3 5h0m15 4h0m6 3h0m21 7h0m2-20h0m3 3h0m14 15h0m1-12h0m1 8h0m2 9h0m-2 6h0m-13 9h0m0-7h0m-18 5h0m-24-5h0m-7 3h0m-2 10h0m-1-12h0m-3 8h0m-1 0h0m-4-14h0m-3 9h0m-5 4h0m-7-7h0m-20-9h0m-5 21h0m-3-11h0m-4-10h0m-3 14h0m-3 1h0m-6-13h0m-5 16h0m-1-5h0m-7-9h0m-7-2h0m-9 15h0m-1 1h0m0-14h0m-7 12h0m-3-10h0m-1 9h0m-28 4h0m-1-7h0m-4 4h0m-3-1h0m-8 6h0m-4-8h0m-3 8h0m-34 20h0m25-3h0m2 6h0m3-11h0m1-1h0m2-4h0m11 14h0m1-11h0m6-1h0m6-8h0m5 15h0m3-11h0m1 5h0m3 10h0m14-4h0m3-14h0m5 21h0m14-13h0m0 7h0m1-12h0m0 10h0m14-12h0m19 18h0m12-2h0m7-9h0m9 0h0m2-1h0m0 15h0m3-14h0m9-6h0m8-2h0m12 6h0m18 3h0m2 1h0m13-11h0m3 10h0m3 13h0m22-20h0m-2 23h0m-31 6h0m-1-5h0m-21 4h0m-1-2h0m-13-2h0m-16-1h0m-9-2h0m-2 3h0m-14 4h0m-1 0h0m-7 2h0m-10-6h0m-7-1h0m-11 1h0m-3-1h0m-3 4h0m-11 1h0m-10-4h0m-4 1h0m-4 1h0m0-3h0" stroke="#ffffff" stroke-width="10" stroke-linecap="round" stroke-opacity="0.22" fill="none"/>
<path transform="scale(.25)" d="M2041 234h0m41-3h0m-12 30h0m-2-11h0m-56 9h0m-8 19h0m4-14h0m28 9h0m45 35h0m-20 0h0m-7 2h0m-12-13h0m-18 9h0m-12-9h0m-15-2h0m-3 2h0m-3 1h0m-2-7h0m-3 15h0m-6-15h0m-2 16h0m-3-14h0m-3 13h0m-3 0h0m-33 25h0m2 4h0m5 0h0m7-2h0m15-20h0m3 6h0m2-7h0m10 9h0m2 3h0m1-4h0m2-5h0m17 19h0m1-8h0m1-10h0m14 12h0m8 0h0m6-3h0m4-1h0m6 7h0m1 2h0m1-6h0m10 2h0m4 1h0m10 4h0m8 15h0m-4 7h0m-6-9h0m-13-8h0m-3 8h0m-30-9h0m-5 14h0m-6-16h0m-3 21h0m0-5h0m-4-2h0m-4-5h0m-6 1h0m-10-8h0m-5 14h0m-1 5h0m0-17h0m-1 2h0m-6 5h0m-6-2h0m-3 13h0m-7-3h0m-2-16h0m-5 7h0m-2 7h0m-4-10h0m-24 1h0m-3 10h0m-26 27h0m4-3h0m11 2h0m14-15h0m0 16h0m7-17h0m4 6h0m3 7h0m7 1h0m3-13h0m9-2h0m1 14h0m2-9h0m2 11h0m21 1h0m1-13h0m4-5h0m6 8h0m1 12h0m9-12h0m1-6h0m3 14h0m3-14h0m5 4h0m3 3h0m16 4h0m1-5h0m8 4h0m2-14h0m0 8h0m0 6h0m1 6h0m15-14h0m17-6h0m15 21h0m-7 13h0m-14 4h0m-4 0h0m-4-10h0m-4 13h0m0-14h0m-4 16h0m-6-18h0m-2-1h0m-10 20h0m-7-17h0m-1 2h0m-6-1h0m-4 12h0m-2 6h0m-3-19h0m-12 14h0m0-7h0m-8 13h0m-3-12h0m-3 2h0m-7-13h0m-1 9h0m-1 2h0m-2-6h0m-2 11h0m-2-1h0m-1 0h0m0-12h0m-4 17h0m-4 2h0m-4-19h0m-5 4h0m-2-6h0m-3 18h0m-4-2h0m0-1h0m-4-4h0m-6-4h0m-17-6h0m-3-1h0m-3 17h0m-1-13h0m-16 5h0m-3 6h0m0-9h0m-9 0h0m0-1h0m-32 23h0m0 3h0m4 2h0m3-3h0m1-7h0m9 5h0m2 7h0m13-7h0m10 5h0m1 0h0m6-5h0m9 16h0m3-13h0m3-7h0m1 9h0m16-4h0m18 4h0m2-4h0m7-4h0m9 4h0m2-6h0m4 20h0m1-3h0m16-8h0m11 3h0m1-11h0m4 0h0m7 20h0m11-11h0m12-7h0m5 0h0m3 17h0m15-5h0m8-13h0m7 18h0m3 19h0m-2 0h0m-3-7h0m-20 5h0m-12 2h0m-19-6h0m-9 4h0m-3 5h0m-4 4h0m0-18h0m-7 12h0m-21 0h0m-6 3h0m-5-9h0m-6-7h0m-5-2h0m-1 2h0m-1 15h0m-11-2h0m-4-13h0m-4-2h0m-18 3h0m-16 7h0m0-4h0m-3 15h0m-17-2h0m-1-13h0m-5-6h0m-1 4h0m-4-2h0m-6 16h0m0-9h0m-12 12h0m-4-19h0m21 24h0m3 1h0m30-2h0m11 0h0m32 3h0m4-3h0m2 3h0m3-5h0m10 0h0m15 4h0m31 3h0m3-6h0m14 5h0m16-4h0m38-1h0" stroke="#ffffff" stroke-width="10" stroke-linecap="round" stroke-opacity="0.22" fill="none"/>
<path d="M521.5 120.5L533.7 120.5L533.7 36.4L521.5 36.4Z" fill="#fdbd86" fill-opacity="1.0"/>
<path d="M521.5 36.4L533.7 24.2L533.7 36.4Z" fill="#8acb84" fill-opacity="1.0"/>
<path transform="scale(.25)" d="M320 1103h0m147 29h0m-30 0h0m-29 0h0m-29 0h0m-30 0h0m-29 0h0m-30 0h0m-29 0h0m-29 0h0m-30 0h0m-29 0h0" stroke="#1f77b4" stroke-width="10.4" stroke-linecap="round" stroke-opacity="0.75" fill="none"/>
<path transform="scale(.25)" d="M437 897h0m-29 147h0m-88 29h0m117 0h0m-205 30h0" stroke="#1f77b4" stroke-width="10.4" stroke-linecap="round" stroke-opacity="0.45" fill="none"/>
<path transform="scale(.25)" d="M379 985h0m0 88h0" stroke="#1f77b4" stroke-width="10.4" stroke-linecap="round" stroke-opacity="0.4" fill="none"/>
<path transform="scale(.25)" d="M437 985h0m0 59h0m-117 0h0" stroke="#1f77b4" stroke-width="10.4" stroke-linecap="round" stroke-opacity="0.95" fill="none"/>
<path transform="scale(.25)" d="M408 985h0" stroke="#1f77b4" stroke-width="10.4" stroke-linecap="round" stroke-opacity="0.7" fill="none"/>
<path transform="scale(.25)" d="M437 956h0" stroke="#1f77b4" stroke-width="10.4" stroke-linecap="round" stroke-opacity="0.6" fill="none"/>
<path transform="scale(.25)" d="M555 809h0m0 29h0m0 29h0m0 30h0m0 29h0m0 30h0m0 29h0m0 29h0m0 0h0m0 30h0" stroke="#ff7f0e" stroke-width="10.4" stroke-linecap="round" stroke-opacity="0.9" fill="none"/>
<path transform="scale(.25)" d="M526 867h0m29 236h0" stroke="#ff7f0e" stroke-width="10.4" stroke-linecap="round" stroke-opacity="0.75" fill="none"/>
<path transform="scale(.25)" d="M555 1132h0" stroke="#ff7f0e" stroke-width="10.4" stroke-linecap="round" stroke-opacity="0.8" fill="none"/>
<path transform="scale(.25)" d="M526 1132h0" stroke="#ff7f0e" stroke-width="10.4" stroke-linecap="round" stroke-opacity="0.5" fill="none"/>
<path transform="scale(.25)" d="M496 838h0m0 29h0m0 30h0m0 235h0" stroke="#ff7f0e" stroke-width="10.4" stroke-linecap="round" stroke-opacity="0.4" fill="none"/>
<path transform="scale(.25)" d="M555 956h0m-29 29h0m29 88h0m-29 30h0" stroke="#ff7f0e" stroke-width="10.4" stroke-linecap="round" stroke-opacity="0.45" fill="none"/>
<path transform="scale(.25)" d="M555 750h0m0 29h0" stroke="#2ca02c" stroke-width="10.4" stroke-linecap="round" stroke-opacity="0.95" fill="none"/>
<path transform="scale(.25)" d="M784 1073h0m30 59h0m-59 0h0m-118 0h0" stroke="#1f77b4" stroke-width="10.4" stroke-linecap="round" stroke-opacity="0.35" fill="none"/>
<path transform="scale(.25)" d="M931 956h0m-206 176h0m-29 0h0m-29 0h0" stroke="#1f77b4" stroke-width="10.4" stroke-linecap="round" stroke-opacity="0.7" fill="none"/>
<path transform="scale(.25)" d="M814 1103h0m-30 29h0" stroke="#1f77b4" stroke-width="10.4" stroke-linecap="round" stroke-opacity="0.3" fill="none"/>
<path transform="scale(.25)" d="M843 1132h0m29 0h0m30 0h0" stroke="#1f77b4" stroke-width="10.4" stroke-linecap="round" stroke-opacity="0.6" fill="none"/>
<path transform="scale(.25)" d="M696 1073h0m29 0h0m30 0h0m59 0h0m88 30h0m-59 0h0m-88 0h0m-30 0h0m-29 0h0m-29 0h0" stroke="#1f77b4" stroke-width="10.4" stroke-linecap="round" stroke-opacity="0.9" fill="none"/>
<path transform="scale(.25)" d="M784 1103h0" stroke="#1f77b4" stroke-width="10.4" stroke-linecap="round" stroke-opacity="0.15" fill="none"/>
<path transform="scale(.25)" d="M931 926h0m0 118h0m-59 29h0m0 30h0" stroke="#1f77b4" stroke-width="10.4" stroke-linecap="round" stroke-opacity="0.45" fill="none"/>
<path transform="scale(.25)" d="M843 1014h0m0 59h0" stroke="#1f77b4" stroke-width="10.4" stroke-linecap="round" stroke-opacity="0.5" fill="none"/>
<path transform="scale(.25)" d="M931 838h0m0 29h0m-29 0h0m-30 30h0m30 0h0m0 29h0m-59 0h0m-29 30h0m29 0h0m29 0h0m30 0h0m0 29h0m-30 0h0m-29 0h0m-29 0h0m-30 0h0m-29 29h0m29 0h0m88 30h0m-29 0h0m-29 0h0m-30 0h0m-29 0h0m-30 0h0" stroke="#1f77b4" stroke-width="10.4" stroke-linecap="round" stroke-opacity="0.95" fill="none"/>
<path transform="scale(.25)" d="M814 1014h0" stroke="#1f77b4" stroke-width="10.4" stroke-linecap="round" stroke-opacity="0.2" fill="none"/>
<path transform="scale(.25)" d="M872 926h0" stroke="#1f77b4" stroke-width="10.4" stroke-linecap="round" stroke-opacity="0.4" fill="none"/>
<path transform="scale(.25)" d="M990 1103h0m29 29h0m-29 0h0" stroke="#ff7f0e" stroke-width="10.4" stroke-linecap="round" stroke-opacity="0.45" fill="none"/>
<path transform="scale(.25)" d="M961 1073h0m29 0h0" stroke="#ff7f0e" stroke-width="10.4" stroke-linecap="round" stroke-opacity="0.5" fill="none"/>
<path transform="scale(.25)" d="M990 985h0" stroke="#ff7f0e" stroke-width="10.4" stroke-linecap="round" stroke-opacity="0.35" fill="none"/>
<path transform="scale(.25)" d="M990 809h0m29 0h0m0 29h0m-29 0h0m-29 0h0m29 29h0m29 0h0m0 30h0m-29 0h0m29 29h0m0 30h0m-29 0h0m-29 0h0" stroke="#ff7f0e" stroke-width="10.4" stroke-linecap="round" stroke-opacity="0.9" fill="none"/>
<path transform="scale(.25)" d="M961 867h0m0 30h0" stroke="#ff7f0e" stroke-width="10.4" stroke-linecap="round" stroke-opacity="0.4" fill="none"/>
<path transform="scale(.25)" d="M961 809h0" stroke="#ff7f0e" stroke-width="10.4" stroke-linecap="round" stroke-opacity="0.95" fill="none"/>
<path transform="scale(.25)" d="M1019 750h0m0 29h0m-29 0h0" stroke="#2ca02c" stroke-width="10.4" stroke-linecap="round" stroke-opacity="0.95" fill="none"/>
<path transform="scale(.25)" d="M1596 824h0m-34 44h0m-14 0h0m4 56h0m18-6h0m10 26h0m-28 0h0m-90 16h0m90 4h0m18 8h0m-14 28h0m-4-8h0m-42-8h0m-102 32h0m96 0h0m30-4h0m20 0h0m10 0h0m8 0h0m20 0h0m-16 20h0m-4 16h0m-16-12h0m-4 12h0m-8-4h0m26 24h0m2 8h0m12-8h0m12 56h0m-36-4h0m-16 0h0m20 8h0" stroke="#1f77b4" stroke-width="9.6" stroke-linecap="round" stroke-opacity="0.85" fill="none"/>
<path transform="scale(.25)" d="M1607 835h0m13-1h0m58-12h0m-3 32h0m-39-2h0m-18 32h0m2-19h0m3 21h0m28-21h0m1 10h0m-1 18h0m-20 2h0m-26 7h0m-7 18h0m65 10h0m12-10h0m1 15h0m-46 19h0m0-8h0m-22 6h0m23 19h0m22-7h0m-4 34h0m-19 6h0m-9-1h0m11 16h0m34 15h0m-37 10h0m-11 53h0m23-7h0m-33 17h0" stroke="#ff7f0e" stroke-width="9.6" stroke-linecap="round" stroke-opacity="0.8" fill="none"/>
<path transform="scale(.25)" d="M1630 834h0m46 19h0m-48-2h0m-1 2h0m-7 6h0m0-16h0m-24 16h0m1 13h0m22 8h0m11 6h0m0 20h0m-3 4h0m-11-14h0m-10 36h0m3-12h0m15-5h0m7 17h0m6-2h0m-11 13h0m-9-6h0m-13 40h0m2 2h0m1-6h0m18 28h0m-17 19h0m11-12h0m12 14h0m21 40h0m-11-5h0m-34 27h0m23 19h0m11-12h0m23 11h0m-32 18h0m-4 2h0" stroke="#ff7f0e" stroke-width="9.6" stroke-linecap="round" stroke-opacity="0.8" fill="none"/>
<path transform="scale(.25)" d="M1607 832h0m11-2h0m56 12h0m-53 13h0m0-3h0m-2 7h0m-13 21h0m1-16h0m0 19h0m15-4h0m1-5h0m5-4h0m9 8h0m2-6h0m27-5h0m-15 23h0m-42 7h0m19 23h0m-23 33h0m4 24h0m8-2h0m3-15h0m10 2h0m34 24h0m-13 8h0m-12 5h0m-8 1h0m-20-2h0m0-13h0m8 37h0m12 2h0m22-15h0m2 35h0m-46 39h0m11 19h0m21-21h0m24 1h0m-40 22h0m13 24h0" stroke="#ff7f0e" stroke-width="9.6" stroke-linecap="round" stroke-opacity="0.8" fill="none"/>
<path transform="scale(.25)" d="M1624 814h0m4-18h0m12 14h0" stroke="#2ca02c" stroke-width="9.2" stroke-linecap="round" stroke-opacity="0.9" fill="none"/>
<path transform="scale(.25)" d="M2044 855h0m-10 30h0m-2-11h0m-7 6h0m-5-5h0m-18 36h0m0 0h0m4-6h0m6-2h0m1 7h0m0 0h0m2-4h0m27 3h0m-6 15h0m-20 5h0m-3 5h0m-10-11h0m-12-9h0m-34 39h0m55-16h0m1 7h0m11-3h0m15 2h0m2 13h0m-2 12h0m-1-1h0m-3-6h0m-7 5h0m0-3h0m-8 19h0m-7-16h0m-13-5h0m-70 14h0m35 19h0m22 11h0m9-11h0m10-7h0m6 4h0m0 1h0m9-2h0m7 7h0m1 2h0m2-14h0m2 3h0m4 17h0m2-19h0m3 5h0m0 12h0m-12 22h0m-7 1h0m-11 4h0m-5 0h0m-37-16h0m-133 41h0m19-19h0m16 19h0m27-21h0m11 9h0m60-4h0m38-7h0m2 0h0m2 7h0m12 4h0m14 35h0m-5-19h0m-3 12h0m0 0h0m-2-9h0m-4 11h0m-1-6h0m-7 6h0m-7-3h0m-5-12h0m-106 14h0m78 16h0m7 11h0m21-15h0m7 7h0m16 2h0m17 25h0m-8 2h0m-23-10h0m-34 5h0m-162-9h0" stroke="#1f77b4" stroke-width="6.8" stroke-linecap="round" stroke-opacity="0.22" fill="none"/>
<path transform="scale(.25)" d="M2059 830h0m-3 32h0m-40 22h0m5-11h0m7-1h0m3 11h0m4-9h0m4-10h0m5 0h0m7 2h0m6 10h0m-16 15h0m-15 4h0m-11 1h0m-2 8h0m-16-5h0m2 36h0m4-5h0m2-1h0m2 5h0m1-7h0m11-8h0m3 5h0m38-7h0m-8 32h0m-24 8h0m-3-20h0m-9 3h0m-27 7h0m-19-6h0m-26 16h0m-4 23h0m45 1h0m30-2h0m4-10h0m1-1h0m4 15h0m7-3h0m2-5h0m19-7h0m-12 20h0m-2 3h0m-6 9h0m-16 6h0m-14-4h0m-3-18h0m-14 5h0m-21 14h0m-19-1h0m-21-1h0m-6-2h0m-9-10h0m-10 37h0m119-8h0m4-10h0m5 20h0m2-16h0m5-2h0m6 8h0m0 5h0m18 30h0m-23-17h0m-2-3h0m-13 14h0m-8-7h0m-27-8h0m-5 12h0m-4 1h0m-119 1h0m-34 29h0m15-5h0m77-10h0m81 15h0m17-15h0m2 7h0m4 3h0m14-6h0m4 0h0m22 14h0m-27 23h0m-1-14h0m-6 0h0m-8-2h0m-16 4h0m-2 5h0m-9-8h0m-13 11h0m-57 25h0m50-16h0m3 2h0m28 8h0m15-9h0m1 10h0m6-5h0m4 11h0m6 2h0" stroke="#1f77b4" stroke-width="6.8" stroke-linecap="round" stroke-opacity="0.22" fill="none"/>
<path transform="scale(.25)" d="M2047 843h0m6 32h0m-10-11h0m-7 0h0m-4 5h0m-16 11h0m-1 0h0m-4 29h0m7-18h0m6 11h0m23 9h0m-11 1h0m-16 11h0m-9 0h0m-8-10h0m-1 14h0m-1-10h0m-1 7h0m-20-10h0m6 40h0m28 3h0m11 2h0m2-7h0m20-14h0m3 42h0m-18-5h0m-3 2h0m-12-6h0m-22 10h0m-36 23h0m54-16h0m3 0h0m9 17h0m5-13h0m25 3h0m-28 21h0m-4 14h0m-10-6h0m-5 3h0m-3-12h0m-31 3h0m-10 1h0m-63 14h0m79 4h0m0 16h0m20-15h0m0 15h0m7-19h0m3 5h0m5 7h0m4 5h0m1-16h0m11 12h0m20 20h0m-30 12h0m-140 18h0m8 5h0m104-16h0m22 11h0m15-14h0m5 19h0m2-11h0m3-10h0m0 17h0m-8 23h0m-9-11h0m-24 7h0m-17-7h0m-38 2h0m111 16h0" stroke="#1f77b4" stroke-width="6.8" stroke-linecap="round" stroke-opacity="0.22" fill="none"/>
<path transform="scale(.25)" d="M2052 858h0m-13 12h0m-1 10h0m-14-1h0m-12-1h0m12 29h0m17-2h0m6-9h0m1-1h0m13-3h0m-7 24h0m-13 9h0m-3-6h0m-10 7h0m-7-14h0m-3 3h0m-20 5h0m-24 5h0m-10 23h0m16-5h0m33-6h0m1 18h0m13-6h0m25 26h0m-18 5h0m-6-4h0m-19-7h0m-3-8h0m-5-1h0m-40 18h0m-22 29h0m47-8h0m8-11h0m64 9h0m0 32h0m-5-5h0m-2-8h0m-10-6h0m-16 4h0m-13 13h0m-8-5h0m-8 2h0m-22-13h0m-9 20h0m-5-20h0m-20 17h0m-21-2h0m-24-15h0m-7 3h0m31 24h0m21 2h0m44 3h0m9 10h0m13-13h0m9-5h0m3 11h0m1 6h0m30 26h0m-20-19h0m-6 16h0m-1 1h0m-14 0h0m0-6h0m-19 8h0m-32-11h0m-8-3h0m-57-2h0m-42 8h0m151 23h0m8 8h0m29-21h0m17 16h0m-11 21h0m-18-9h0m-12 15h0m-6 3h0m-6-11h0m-1-11h0m14 26h0" stroke="#1f77b4" stroke-width="6.8" stroke-linecap="round" stroke-opacity="0.22" fill="none"/>
<path transform="scale(.25)" d="M2043 848h0m12 10h0m-4 9h0m-11 16h0m-14 3h0m-8-7h0m-2-5h0m-6 32h0m8 5h0m8-21h0m12-2h0m0 1h0m6 10h0m2 12h0m6-23h0m-16 44h0m-3-7h0m-13-9h0m-23 3h0m-29 23h0m27 12h0m9-2h0m4-3h0m7-12h0m1 22h0m11-10h0m36 21h0m-39 10h0m-3-2h0m-11-6h0m-35-2h0m-9 6h0m-46 5h0m85 3h0m1 2h0m2 11h0m1-11h0m6 21h0m11-16h0m14 26h0m-13 5h0m-1 3h0m-5-14h0m-1 12h0m-5-9h0m-22 12h0m-24 3h0m-105 21h0m2-15h0m33 1h0m94 2h0m14 16h0m23 11h0m-2 9h0m-2-10h0m-13 11h0m-13-3h0m-37-1h0m40 18h0m9-3h0m19 3h0m9 7h0m8-8h0m-20 24h0m-8 2h0m-1 9h0m-1-15h0m0-4h0m-8 7h0m-1 13h0m-4-5h0" stroke="#1f77b4" stroke-width="6.8" stroke-linecap="round" stroke-opacity="0.22" fill="none"/>
<path transform="scale(.25)" d="M2054 827h0m3 12h0m1-2h0m3 9h0m-13 12h0m-5-16h0m-3 7h0m-5 2h0m-9 7h0m-5 3h0m-15 17h0m12-13h0m3 3h0m4 11h0m-7 12h0m-16 1h0m-1 9h0m-3 9h0m-2-3h0m-1 1h0m-4-3h0m-2 5h0m-2-5h0m-8 1h0m-6 4h0m-10 21h0m4 4h0m3-15h0m0 11h0m9-7h0m-28 12h0m-1 13h0m-3 8h0m-3-6h0m-1-5h0m-7 6h0m-23 17h0m20 9h0m2-3h0m2-13h0m2 1h0m9-3h0m-30 31h0m-1-7h0m-4 11h0m-12 0h0m-4 0h0m-2-9h0m-8 16h0m-1 0h0m0-4h0m-6 6h0m-25 22h0m12-5h0m0 2h0m9-14h0m6 8h0m1-6h0m2 11h0m8-7h0m-19 21h0m-9 4h0m-29 10h0m-1 18h0m12-6h0" stroke="#1f77b4" stroke-width="6.8" stroke-linecap="round" stroke-opacity="0.3" fill="none"/>
<path transform="scale(.25)" d="M2057 831h0m1 14h0m-19 8h0m-29 21h0m5-7h0m1 2h0m13 12h0m8-15h0m-26 33h0m-10-3h0m-6-7h0m-4 14h0m-11 12h0m3 10h0m10-12h0m-29 26h0m-17 12h0m-5 8h0m-18-1h0m11 5h0m2 1h0m-26 35h0m-7 0h0m-16 1h0m-8 5h0m-25 21h0m26-7h0m1 2h0m6-13h0m0 11h0m4-7h0m3-1h0m-29 23h0m-13 6h0m0-8h0m-17 36h0m10-12h0" stroke="#1f77b4" stroke-width="6.8" stroke-linecap="round" stroke-opacity="0.3" fill="none"/>
<path transform="scale(.25)" d="M2052 836h0m1-6h0m5-1h0m1 2h0m4 3h0m-3 15h0m-65 36h0m5-2h0m7 3h0m17-7h0m11-10h0m0 2h0m1-5h0m-44 44h0m-1-1h0m-2-10h0m-23 27h0m7-2h0m4-1h0m3-5h0m-9 22h0m-7-4h0m-1 9h0m0-4h0m-14 2h0m-2 5h0m-11 3h0m-5 6h0m-26 23h0m17-20h0m1 2h0m8 11h0m1 1h0m3 0h0m15-14h0m-29 25h0m-5 4h0m-2 0h0m-6 7h0m-8-3h0m-9-2h0m-4 3h0m-35 37h0m6-2h0m2-9h0m5 1h0m8 10h0m-2 1h0m-4 1h0m-1 7h0m-5 9h0m-4-8h0m-4 8h0m-7-7h0m-16 18h0m8 11h0m2-5h0m11-8h0" stroke="#1f77b4" stroke-width="6.8" stroke-linecap="round" stroke-opacity="0.3" fill="none"/>
<line x1="470.4" y1="249.5" x2="515.2" y2="204.8" stroke="#1f77b4" stroke-width="2.4" stroke-opacity="0.85" stroke-linecap="round"/>
<path d="M480.6 239.3L516.0 204.0L515.2 207.9Z" fill="#1f77b4" fill-opacity="0.8"/>
<path transform="scale(.25)" d="M1925 957h0m3-5h0m-19 20h0m-10 11h0m-19 18h0m-16 19h0m-10 8h0" stroke="#1f77b4" stroke-width="6.8" stroke-linecap="round" stroke-opacity="0.35" fill="none"/>
<path transform="scale(.25)" d="M1932 949h0m6-6h0m-16 22h0m-3-1h0m-33 33h0m-19 20h0m-10 6h0m-32 32h0m7-1h0m6-12h0m10-10h0m-26 29h0m-7 7h0" stroke="#1f77b4" stroke-width="6.8" stroke-linecap="round" stroke-opacity="0.35" fill="none"/>
<path transform="scale(.25)" d="M1935 946h0m-20 23h0m-3 5h0m-6 6h0m-3-2h0m-29 29h0m3-4h0m6-6h0m7-7h0m3-3h0m3-1h0m-26 28h0m-9 6h0m-10 10h0m-23 22h0m7-7h0m6-4h0m3-2h0m-25 25h0m-7 3h0" stroke="#1f77b4" stroke-width="6.8" stroke-linecap="round" stroke-opacity="0.35" fill="none"/>
<path transform="scale(.25)" d="M2045 838h0m9-10h0m-4 18h0m-39 41h0m3-11h0m-15 22h0m-9 10h0m-19 11h0m-19 22h0m-24 12h0m-27 25h0m12 1h0m5-2h0m-19 14h0m-7-2h0m-5 6h0m-5 12h0m-2 1h0m9 0h0" stroke="#1f77b4" stroke-width="6.8" stroke-linecap="round" stroke-opacity="0.4" fill="none"/>
<path transform="scale(.25)" d="M2057 825h0m2-2h0m5 1h0m-22 18h0m-4 15h0m-7-4h0m-8 10h0m-2 2h0m5 0h0m-24 36h0m-5 1h0m-5-4h0m-5 4h0m-4-4h0m-5 10h0m-2 2h0m-3-1h0m-14 19h0m2-6h0m-21 26h0m-5-1h0m-2 1h0m-8 9h0m-2 1h0m-19 23h0m2 2h0m5-10h0m10-12h0m9 1h0m-45 35h0m-10 8h0" stroke="#1f77b4" stroke-width="6.8" stroke-linecap="round" stroke-opacity="0.4" fill="none"/>
<path transform="scale(.25)" d="M2047 837h0m5-7h0m10-10h0m-22 29h0m-12 4h0m-9 10h0m-15 15h0m3 0h0m2 8h0m7-15h0m17-7h0m2 3h0m-40 27h0m-10 8h0m-5 7h0m-16 10h0m2-1h0m2-2h0m-12 28h0m-2-8h0m-5 15h0m-2-13h0m-3 16h0m-2-13h0m-5 8h0m-28 25h0m7 4h0m-19 12h0m-3-4h0m-16 28h0" stroke="#1f77b4" stroke-width="6.8" stroke-linecap="round" stroke-opacity="0.4" fill="none"/>
<path transform="scale(.25)" d="M2065 832h0m0 2h0m13-15h0m8 6h0m2-2h0m1 5h0m4-7h0m10 1h0m18 39h0m-26-6h0m-10-6h0m-4-5h0m-1 5h0m-5 3h0m-5-5h0m0-3h0m-5 16h0m0 14h0m0 9h0m3 4h0m4-18h0m3 12h0m1 4h0m1-4h0m1-10h0m6-3h0m1 16h0m1-5h0m3 2h0m22 22h0m-14-1h0m-5 4h0m-1-16h0m-1 0h0m-3 14h0m-2 4h0m0-6h0m-3-4h0m-3 0h0m-1-4h0m-2 11h0m-6-4h0m-1 1h0m-1 7h0m-3-7h0m-1 10h0m2 17h0m2 1h0m7 0h0m0 2h0m5-4h0m2-3h0m11-8h0m4 12h0m22 9h0m-31 20h0m-16-20h0m1 30h0m8 12h0m9-16h0m8 16h0m7-15h0m8 31h0m-37 11h0m-8-13h0m-2 30h0m3-13h0m2 6h0m10 12h0m2-15h0m29 39h0m-29-20h0m-5 0h0m-3 3h0m-5 5h0m2 33h0m5-7h0m-3 22h0" stroke="#ff7f0e" stroke-width="6.8" stroke-linecap="round" stroke-opacity="0.33" fill="none"/>
<path transform="scale(.25)" d="M2067 816h0m1 12h0m1-4h0m0 11h0m6-16h0m0 19h0m4-17h0m0 10h0m2-12h0m0 10h0m3-13h0m13 18h0m2-12h0m5 35h0m-10 3h0m-3 2h0m-7-18h0m-4 6h0m-2 8h0m0-9h0m0-5h0m-6 11h0m0-12h0m-1 12h0m0 0h0m3 17h0m2 15h0m7-19h0m13 4h0m13 2h0m3 6h0m0 1h0m-9 22h0m-7-3h0m-7-2h0m-4 4h0m0-10h0m-2-2h0m-12 3h0m-6 20h0m2 9h0m3-5h0m3 9h0m15 2h0m5-8h0m12-4h0m-7 21h0m-7 20h0m-8-11h0m-13-7h0m-4 19h0m1 14h0m6 1h0m5-6h0m1 11h0m3-17h0m6 11h0m4 0h0m1 4h0m10 2h0m3-18h0m18 7h0m-39 29h0m-13-12h0m-1 2h0m-7 45h0m1-2h0m1-9h0m7-11h0m0 15h0m4 2h0m7 2h0m3-7h0m33-3h0m-12 31h0m-14 0h0m-8 2h0m-15-12h0m-2 32h0m13 2h0m2-16h0m6 20h0m9-1h0m1 1h0m-17 10h0m-17 1h0" stroke="#ff7f0e" stroke-width="6.8" stroke-linecap="round" stroke-opacity="0.33" fill="none"/>
<path transform="scale(.25)" d="M2064 831h0m4-9h0m2 0h0m2 14h0m5-13h0m2 1h0m0 12h0m2 0h0m2-4h0m8-12h0m7-1h0m2 5h0m7 1h0m7 7h0m-3 10h0m-4 9h0m-5 5h0m-1-9h0m-10 1h0m-1-5h0m-6 7h0m-5 11h0m-2-12h0m-5 13h0m-1-9h0m-1 19h0m2 14h0m1-11h0m1-11h0m0 14h0m4-4h0m5 3h0m3 4h0m9-8h0m6 14h0m14-1h0m-3 5h0m-23 16h0m-3-2h0m-1-2h0m0-8h0m-7 15h0m-4 1h0m-7 6h0m0 1h0m1 9h0m3-12h0m0 5h0m6 10h0m5-8h0m1 6h0m8-11h0m26 29h0m-8 7h0m-15 3h0m-1-4h0m-7-5h0m-6 0h0m-5 1h0m-6 6h0m-3 5h0m-1-20h0m-1 7h0m1 20h0m0 8h0m1 8h0m16-12h0m4 0h0m19 33h0m-24-2h0m-12-4h0m1 32h0m3-2h0m16-17h0m11 15h0m1-12h0m4 28h0m-14-8h0m-8 14h0m17 23h0m1-2h0m24-4h0m1 13h0m-60 19h0" stroke="#ff7f0e" stroke-width="6.8" stroke-linecap="round" stroke-opacity="0.33" fill="none"/>
<path transform="scale(.25)" d="M2064 828h0m19 4h0m1-6h0m3-1h0m0 1h0m0 2h0m5 6h0m7 5h0m1-9h0m2-12h0m4 3h0m6 6h0m8 3h0m-9 29h0m-9 4h0m-12-9h0m-4 7h0m-5-5h0m-1-15h0m-1 19h0m-1-14h0m-1 16h0m-3-2h0m0-3h0m-1-8h0m-3-8h0m-1 6h0m-4-5h0m6 25h0m0 12h0m1 7h0m4-17h0m0 4h0m5-9h0m2 10h0m9-4h0m1 7h0m4-8h0m0 0h0m2 2h0m8 16h0m17-16h0m-20 17h0m-10 2h0m-2 19h0m-5-5h0m-4 4h0m-1-17h0m-1 9h0m-9-10h0m-1 12h0m0-13h0m-3 22h0m0-12h0m-1 8h0m0-19h0m0 35h0m5-4h0m0 9h0m0 4h0m3-11h0m2-4h0m10 13h0m13-6h0m2-3h0m7 14h0m3-12h0m6 21h0m-12 11h0m-21-8h0m-9-8h0m-6 29h0m3 4h0m9 1h0m15 6h0m2-7h0m11-2h0m3 29h0m-17-8h0m-25 1h0m-1-3h0m0-4h0m-2 8h0m-2 21h0m6 15h0m15-6h0m4 6h0m-14 13h0m-1-9h0m-3 12h0m-1-5h0m0 22h0m23-2h0m-23 36h0" stroke="#ff7f0e" stroke-width="6.8" stroke-linecap="round" stroke-opacity="0.33" fill="none"/>
<path transform="scale(.25)" d="M2065 828h0m1-1h0m5 1h0m0 3h0m1-9h0m2-5h0m0 15h0m1 0h0m2-3h0m5 5h0m2 2h0m5-10h0m0 2h0m4-3h0m4 7h0m1 0h0m16-4h0m14 6h0m-26 13h0m-5 7h0m-3 9h0m-7-4h0m0-17h0m-1 13h0m-4-9h0m-7 11h0m0-12h0m-1 3h0m0-8h0m-1 4h0m-1 11h0m-2-12h0m-1 12h0m0-9h0m-4 4h0m-1 22h0m1 4h0m3-3h0m2 8h0m2-6h0m0 8h0m3-10h0m5-4h0m5 5h0m37 10h0m11 13h0m-31 6h0m-8-13h0m-10-1h0m0 0h0m-2 8h0m-7-7h0m-2 3h0m-2 5h0m0 24h0m1 12h0m6-16h0m13 16h0m1-22h0m1 2h0m3 2h0m3 2h0m0 16h0m24 3h0m-11 16h0m-17-13h0m-2 18h0m-5 0h0m-8-11h0m-4-5h0m-4 17h0m0-10h0m0-11h0m0-1h0m-5 15h0m-3 14h0m3-6h0m5 9h0m8 8h0m8 1h0m5-10h0m0 8h0m2-6h0m8-9h0m1 8h0m13-8h0m-31 35h0m-4 0h0m-17 28h0m35-3h0m2-7h0m3 0h0m1 7h0m-16 19h0m-7 14h0m-3-3h0m-4-16h0m-6 12h0m-5-11h0m0 28h0m4 0h0m0 2h0m25-7h0m19 10h0m13-6h0m-21 27h0m-11-2h0m-1 1h0" stroke="#ff7f0e" stroke-width="6.8" stroke-linecap="round" stroke-opacity="0.33" fill="none"/>
<path transform="scale(.25)" d="M2092 790h0m1-2h0m9-8h0m2 3h0m3 1h0m0 19h0m-2-7h0m-1 10h0m0-1h0m0-2h0m-2 6h0m-1 1h0m0-14h0m-1 12h0m0-12h0m-2 16h0m-1-16h0m-5-3h0m-1 7h0m0-5h0m-2 6h0m-1 7h0m-4-2h0m0-8h0m-1 4h0m-2 4h0m-7 6h0m-3 3h0" stroke="#2ca02c" stroke-width="6.8" stroke-linecap="round" stroke-opacity="0.3" fill="none"/>
<path transform="scale(.25)" d="M2094 788h0m5-1h0m3 0h0m0 2h0m1-6h0m2-7h0m0 4h0m0 3h0m0 20h0m0-4h0m0-5h0m-1 0h0m-1 19h0m-2 1h0m-3-16h0m-1 16h0m-1-1h0m-1-1h0m-2-16h0m-2 7h0m-5 9h0m-3-4h0m-13 3h0m-2 1h0m-1 2h0m0 2h0" stroke="#2ca02c" stroke-width="6.8" stroke-linecap="round" stroke-opacity="0.3" fill="none"/>
<path transform="scale(.25)" d="M2093 790h0m2-4h0m2 1h0m4-1h0m0 1h0m1-3h0m0 4h0m1 1h0m2-12h0m1-3h0m0 9h0m1-4h0m1 17h0m-5 17h0m0-21h0m-1 8h0m-5-8h0m-1 15h0m-1-9h0m-1 6h0m0-3h0m-1 3h0m-1 6h0m0 0h0m0-6h0m0-10h0m-3 12h0m0-6h0m0-1h0m-3 10h0m0-8h0m-5 13h0m-2-11h0m-7 7h0m-2 2h0m11 4h0" stroke="#2ca02c" stroke-width="6.8" stroke-linecap="round" stroke-opacity="0.3" fill="none"/>
<line x1="516.0" y1="204.0" x2="526.2" y2="193.8" stroke="#2ca02c" stroke-width="1.8" stroke-opacity="0.8" stroke-linecap="round"/>
<path transform="scale(.25)" d="M2127 753h0" stroke="#2ca02c" stroke-width="8.8" stroke-linecap="round" stroke-opacity="0.35" fill="none"/>
<path transform="scale(.25)" d="M432 1497h0m53 5h0m8 33h0m-76 21h0m66 1h0m-23 3h0m-42 11h0m-15-2h0m-51 29h0m10 2h0m39-11h0m102 14h0m-63 23h0m-12-18h0m-17 16h0m-30-12h0m-86 23h0m2 8h0m28-1h0m97 4h0m14 7h0m63-17h0m-18 40h0m-7-5h0m-8-4h0m-110-5h0m-15 9h0m-62 0h0m-3 25h0m16 4h0m19-14h0m6-5h0m32 0h0m8 13h0m25-4h0m79-7h0m5 39h0m-7-7h0m-29 8h0m-72 1h0m-34-12h0m-56 13h0m-1-4h0m-5-13h0m78 29h0m21 12h0m53-9h0m4-11h0m9 12h0m75 9h0" stroke="#1f77b4" stroke-width="9.2" stroke-linecap="round" stroke-opacity="0.3" fill="none"/>
<path transform="scale(.25)" d="M468 1475h0m15 24h0m-69 36h0m42-3h0m37-9h0m-8 16h0m-7-3h0m-1 10h0m-15 9h0m-83 0h0m-5 14h0m27-7h0m98 19h0m1-7h0m8 29h0m-5-4h0m-9 0h0m-13-5h0m-4 2h0m-57 0h0m-40-7h0m-2-2h0m-60 28h0m6-5h0m5-1h0m67 0h0m87 12h0m21 13h0m-40 6h0m-17 7h0m-18-2h0m-38-2h0m-31-6h0m-24 39h0m65-12h0m44 0h0m55 0h0m-32 22h0m-18 3h0m-35 0h0m-11-1h0m-29 4h0m-12-6h0m-1 9h0m-82 6h0m-9 1h0m0-2h0m-23-16h0m70 34h0m2-11h0m42-2h0m26 20h0m48-7h0m29-2h0m1-11h0m41 21h0m-3 2h0m-41 10h0m-4 7h0m-82-5h0m-79 10h0m-68-6h0" stroke="#1f77b4" stroke-width="9.2" stroke-linecap="round" stroke-opacity="0.3" fill="none"/>
<path transform="scale(.25)" d="M431 1508h0m43-6h0m20-9h0m-37 53h0m-5-10h0m-66 20h0m15 12h0m25-7h0m2 22h0m57-12h0m13 30h0m-24-4h0m-18 4h0m-54-7h0m-10 11h0m-30 1h0m-11-10h0m-33 25h0m65 9h0m23-4h0m9-10h0m19-6h0m28 5h0m0 14h0m-5 17h0m-20 9h0m-5-10h0m-19-9h0m-9 17h0m-4-4h0m-26-5h0m-39-4h0m-16 4h0m-14 25h0m5-12h0m26 3h0m62 6h0m6-7h0m54 1h0m38 0h0m-32 22h0m-25 17h0m-209 25h0m72-12h0m10-1h0m3 7h0m21 8h0m87-4h0m69-7h0m-10 15h0m-62 1h0m-1 10h0m-191 1h0m-19 10h0" stroke="#1f77b4" stroke-width="9.2" stroke-linecap="round" stroke-opacity="0.3" fill="none"/>
<path transform="scale(.25)" d="M456 1472h0m35 4h0m-30 15h0m-46 25h0m39 11h0m51 1h0m-29 9h0m-5 14h0m-24 5h0m-14-18h0m-40 14h0m51 26h0m47-6h0m2-9h0m9 34h0m-28 5h0m-3-15h0m-24 19h0m-77 0h0m-20-22h0m-32 37h0m55-3h0m14 13h0m47-13h0m16 8h0m10-1h0m37-2h0m2 6h0m-82 10h0m-9 2h0m-9 10h0m-11-2h0m-86-5h0m-2-12h0m63 41h0m29-4h0m15-11h0m31-2h0m59 20h0m6-8h0m-43 34h0m-7-12h0m-106 10h0m-29-14h0m-68 8h0m-3-13h0m-9 19h0m23 20h0m12 6h0m44-7h0m2 1h0m50-4h0m2-5h0m66-5h0m66 9h0m-6 26h0m-5-11h0m-88 8h0m-4 7h0m-117-7h0m-34 0h0m-48 11h0m-4-5h0m-19 9h0" stroke="#1f77b4" stroke-width="9.2" stroke-linecap="round" stroke-opacity="0.3" fill="none"/>
<path transform="scale(.25)" d="M515 1434h0m10-2h0m3-7h0m3-5h0m4 2h0m1 38h0m-1 0h0m-3-14h0m-1 8h0m-8-7h0m-5-7h0m-2 15h0m8 19h0m5 3h0m2-7h0m5 13h0m-2 14h0m0-9h0m-13 13h0m-8-3h0m6 17h0m8 18h0m1 0h0m10 11h0m-1 11h0m-6-17h0m-11 43h0m6-7h0m1 2h0m6-10h0m4 40h0m-1-2h0m0-12h0m-13-2h0m-8-5h0m-2 42h0m2 2h0m11 1h0m10 0h0m1-8h0m1 0h0m-1 17h0m-4 5h0m-3-4h0m0-4h0m-9 19h0m0-21h0m-4 20h0m-1-3h0m-4 16h0m3-10h0m0 8h0m2 10h0m14-16h0m6 1h0m0 6h0m0 28h0m0-10h0m0 0h0m-1 13h0m-5 5h0m-3-7h0m-11 2h0m-3 13h0m14 4h0m4 9h0m4-10h0m0 5h0m0 0h0m1-11h0m1 0h0m-3 22h0m-3 17h0m-2-16h0m-9 14h0m-2-13h0" stroke="#ff7f0e" stroke-width="6.8" stroke-linecap="round" stroke-opacity="0.28" fill="none"/>
<path transform="scale(.25)" d="M521 1423h0m2 11h0m7-13h0m2 10h0m1-3h0m2 11h0m0 23h0m-6-8h0m-3-14h0m-3 19h0m-7 15h0m11 4h0m7 5h0m2-1h0m1-13h0m-1 42h0m-7-12h0m0-5h0m-15 28h0m3-5h0m1 2h0m12-3h0m1 0h0m4 15h0m1-9h0m0 12h0m-3 10h0m0-4h0m-2 14h0m-3-14h0m-7 23h0m3 10h0m2-12h0m11 16h0m0 13h0m-6 14h0m0-16h0m-9 35h0m2-11h0m12-2h0m2 7h0m-5 32h0m-2 5h0m-1-17h0m0-2h0m-2 11h0m0-14h0m-2 14h0m-2 6h0m-8-4h0m-4-1h0m-1 5h0m15 18h0m2-12h0m2 5h0m1 10h0m1-10h0m2 0h0m3 11h0m0 4h0m1 23h0m-2-2h0m0-1h0m-5-8h0m-2 5h0m-1 8h0m-1-22h0m-6 20h0m-4 0h0m3 24h0m4-2h0m8-18h0m1 13h0m2-6h0m1 3h0m1-3h0m1 24h0m-2 15h0m-1-2h0m-2 1h0m-2-12h0m0-10h0m-3 13h0m0-3h0m-3 10h0m-4 0h0" stroke="#ff7f0e" stroke-width="6.8" stroke-linecap="round" stroke-opacity="0.28" fill="none"/>
<path transform="scale(.25)" d="M509 1437h0m13-11h0m4 12h0m7-5h0m0 0h0m1-5h0m3 13h0m-2-1h0m-1 12h0m-1-11h0m-9 37h0m1 1h0m4 1h0m3 0h0m4 10h0m-2 9h0m-4-6h0m-5 5h0m0-9h0m-7 3h0m-1 0h0m-1 0h0m-5 31h0m10 10h0m5-6h0m3-10h0m3-5h0m0 4h0m3 0h0m0 35h0m0-3h0m-3-11h0m-10 7h0m-7 4h0m8 24h0m7-10h0m0 17h0m4-18h0m1 10h0m0 9h0m1-11h0m-1 25h0m-2 4h0m0-2h0m-3 2h0m0-13h0m-6 2h0m-9 20h0m-4 8h0m8 6h0m6 0h0m2-5h0m1 9h0m5-4h0m0 7h0m1-8h0m1-4h0m2 9h0m1 5h0m0 16h0m-1 5h0m-3-4h0m-4-13h0m-1 11h0m-7 4h0m-14 9h0m16 17h0m2-14h0m9 0h0m0 4h0m0 6h0m1 15h0m-1 6h0m-4 11h0m-2-19h0m-6 14h0m-2-12h0m-2-2h0m-4 19h0m-1-9h0m18 23h0m0 7h0m3-14h0m2 21h0m-2 5h0m-1 2h0m-2 8h0m-1-17h0m-1 19h0m0 6h0m1-2h0m4 0h0" stroke="#ff7f0e" stroke-width="6.8" stroke-linecap="round" stroke-opacity="0.28" fill="none"/>
<path transform="scale(.25)" d="M510 1423h0m13 15h0m5-14h0m1-2h0m1 3h0m0 10h0m1-11h0m0 1h0m2-3h0m0 1h0m5 34h0m0-17h0m-13 13h0m2 29h0m8-14h0m2 19h0m0 20h0m-1 0h0m0-19h0m-1 12h0m-3-11h0m-7 2h0m-1 6h0m-1 4h0m-2 29h0m4-12h0m1 7h0m2 0h0m1-12h0m3 1h0m5 3h0m0 12h0m0 29h0m0-18h0m-14-3h0m-6 5h0m4 30h0m2-4h0m2-6h0m3 15h0m5-9h0m5 14h0m-2 15h0m-1 0h0m-1-1h0m-3-9h0m-2 10h0m-4-7h0m-11 2h0m-1 9h0m18 14h0m3 40h0m-5-6h0m-2-8h0m0-7h0m-5 1h0m-5 3h0m-5 2h0m10 16h0m7 0h0m4 7h0m1 0h0m0 8h0m4 22h0m-5-3h0m-20 9h0m-5 16h0m5-10h0m6-1h0m9 8h0m0 12h0m1-8h0m5-6h0m2 12h0m1-15h0m0 5h0m0 1h0m0 30h0m-1-2h0m-2 10h0m0-10h0m-1-13h0m-3 16h0m-3-12h0m-5 7h0m-1 6h0" stroke="#ff7f0e" stroke-width="6.8" stroke-linecap="round" stroke-opacity="0.28" fill="none"/>
<path transform="scale(.25)" d="M514 1439h0m21-2h0m1-8h0m-3 18h0m-1 14h0m0-15h0m-6 0h0m-8 11h0m9 7h0m3 21h0m5-20h0m1 11h0m0 19h0m-1 2h0m-4-8h0m-2 4h0m-1 16h0m-2-12h0m-4 2h0m-1-2h0m5 28h0m3 3h0m8-15h0m1 25h0m-1 18h0m-2-5h0m-1-8h0m-15 6h0m-4 22h0m9-9h0m1 0h0m7 16h0m2-2h0m3-10h0m0 6h0m1-11h0m0 6h0m-1 20h0m-5 12h0m-8 22h0m1-13h0m7 1h0m1 0h0m2 5h0m1 1h0m2 39h0m0-1h0m-8-7h0m-12-3h0m-3 11h0m-2-22h0m13 46h0m1-2h0m1-13h0m2 13h0m1-10h0m2 6h0m1-1h0m1-12h0m1 4h0m0 4h0m1 19h0m-9 3h0m-4 2h0m-12 4h0m-1 24h0m12 2h0m5-16h0m0 12h0m0 8h0m9-7h0m0 12h0m-2 13h0m-1 3h0m-1-8h0m-6 5h0m0 0h0m-3 8h0m-1-16h0m-3-4h0" stroke="#ff7f0e" stroke-width="6.8" stroke-linecap="round" stroke-opacity="0.28" fill="none"/>
<path d="M134.1 438.5L139.0 438.5L139.0 355.0L134.1 355.0Z" fill="#fb8a2a" fill-opacity="1.0"/>
<path transform="scale(.25)" d="M539 1432h0m1 4h0m2 26h0m-2-14h0m0-6h0m10 38h0m1-7h0m3-8h0m2 22h0m-17 16h0m8 13h0m4-2h0m2 7h0m2 12h0m-7 16h0m8 20h0m-5 36h0m-13 12h0m4-5h0m3 6h0m5-2h0m1 38h0m-6-2h0m-1-15h0m-4-2h0m-1 42h0m10-8h0m5 0h0m-7 27h0m-2-10h0m-2 41h0" stroke="#ffffff" stroke-width="6" stroke-linecap="round" stroke-opacity="0.3" fill="none"/>
<path transform="scale(.25)" d="M538 1425h0m9-2h0m1 14h0m-3 27h0m-6 38h0m10 25h0m-1 13h0m3 24h0m-5 12h0m-3-3h0m-4-2h0m8 22h0m6 2h0m-2 20h0m-7-1h0m-1-2h0m-3 4h0m5 27h0m1 10h0m7-21h0m-2 35h0m-11 12h0m10 5h0m1 3h0m0 2h0m2-9h0m-4 38h0m-1 15h0m1 7h0" stroke="#ffffff" stroke-width="6" stroke-linecap="round" stroke-opacity="0.3" fill="none"/>
<path d="M134.4 355.0L135.4 348.3L136.6 345.0L137.2 350.8L137.1 355.0Z" fill="#2ca02c" fill-opacity="0.85"/>
<path d="M159.3 438.5L243.0 355.0L243.0 438.5Z" fill="#6aa3d0" fill-opacity="1.0"/>
<linearGradient id="ge1" gradientUnits="userSpaceOnUse" x1="0" y1="438.5" x2="0" y2="400.9"><stop offset="0" stop-color="#ffffff" stop-opacity="0.45"/><stop offset="1" stop-color="#ffffff" stop-opacity="0.0"/></linearGradient>
<path d="M159.3 438.5L243.0 355.0L243.0 438.5Z" fill="url(#ge1)"/>
<path transform="scale(.25)" d="M959 1504h0m-62 10h0m-33 30h0m43-4h0m14 8h0m43-9h0m-19 22h0m-40 20h0m-7-2h0m-39-13h0m-40 34h0m1-10h0m48 15h0m2-14h0m1-6h0m77 2h0m-19 41h0m-91-15h0m-8 9h0m-3-1h0m-13 1h0m-8 8h0m0-6h0m-6-9h0m-6 1h0m-42 36h0m5-1h0m24-3h0m61 5h0m11-10h0m24 4h0m10-14h0m19 16h0m9-5h0m23 10h0m9-7h0m13-11h0m10 17h0m-2 24h0m-9-9h0m-1 10h0m-3 0h0m-2-8h0m-9-10h0m-16 8h0m-10-12h0m-9 21h0m-2-5h0m-19-1h0m-3-7h0m-3-8h0m-57 5h0m-39 14h0m-2-9h0m0-2h0m-12 10h0m-8-10h0m-47 38h0m12-12h0m39 0h0m9 0h0m2 8h0m19-7h0m1-3h0m8 15h0m53-14h0m4 10h0m4 3h0m3-10h0m10-5h0m5 10h0m13-4h0m12 1h0m1-10h0m36 7h0m0 0h0m14-8h0m4 21h0m-28 8h0m-3-1h0m-4 0h0m-1 0h0m-9 9h0m-11-2h0m-4-11h0m-11 19h0m0-17h0m-2 18h0m-6-11h0m-10 6h0m-10-18h0m-18 23h0m-3-13h0m-19 2h0m-2-4h0m-19 13h0m-5-20h0m-2 8h0m-49 3h0m-5 6h0m-23-11h0m-3 2h0m-7 9h0m0-2h0m-8 0h0m0-8h0m-40 33h0m5-4h0m1-1h0m14-2h0m15-2h0m10 2h0m2-5h0m3-3h0m2-2h0m12 10h0m4 4h0m0 2h0m9-2h0m5 5h0m7-10h0m13 6h0m1-6h0m1 2h0m15-2h0m1-4h0m2 9h0m6-8h0m6 14h0m2 1h0m23-8h0m3-12h0m1 11h0m3-12h0m1 18h0m3-10h0m11 6h0m11-7h0m18 5h0m8-3h0m31-8h0m3 1h0m1 4h0m1-6h0m26 4h0m0 0h0m14-3h0m4 15h0m7 4h0m-61 5h0m-12 0h0m-18-1h0m-46 0h0m-64 0h0m-2 1h0m-89-1h0" stroke="#ffffff" stroke-width="6.4" stroke-linecap="round" stroke-opacity="0.3" fill="none"/>
<path transform="scale(.25)" d="M949 1548h0m12 22h0m-141 31h0m36 6h0m61-21h0m32 36h0m-30-7h0m-6 11h0m-4 0h0m-4 5h0m-2-17h0m-22 12h0m-18 0h0m-35-12h0m-39 6h0m-19 24h0m20-3h0m31 6h0m16 8h0m8-10h0m75-10h0m1 1h0m26 5h0m21 29h0m-6 6h0m-29-9h0m-6 8h0m-6-17h0m-8 15h0m-2-11h0m-16 13h0m-52 1h0m-5-1h0m-1-2h0m-2-4h0m-20 5h0m-17-17h0m-1-1h0m-60 17h0m-2 1h0m1 27h0m9-16h0m1-2h0m15 6h0m16 10h0m10-8h0m9 11h0m17-21h0m26-1h0m0 19h0m37-4h0m18 1h0m14-12h0m1 9h0m13-5h0m15 11h0m6-9h0m9 3h0m19-6h0m-4 39h0m-11-1h0m-5-5h0m-14 3h0m-7-17h0m-12 17h0m-18 0h0m0-13h0m-3-1h0m-17 9h0m-5 0h0m-10-14h0m-21 18h0m-26-17h0m-3 4h0m-7-4h0m-8 5h0m-13 5h0m-3 6h0m-39-2h0m-11 5h0m-6 0h0m-12-20h0m0 0h0m-11 13h0m-3-9h0m-1 6h0m-7-4h0m-17 29h0m10-8h0m4 2h0m2 0h0m4 11h0m3-5h0m8 4h0m10-7h0m19 12h0m36-6h0m0 9h0m2-4h0m11-17h0m5 19h0m18-2h0m0 0h0m2-18h0m3 4h0m10 2h0m2 6h0m1-8h0m4-4h0m1 0h0m3 18h0m4-17h0m8 19h0m13-4h0m2 4h0m2-19h0m12 9h0m2 5h0m5-1h0m12-11h0m5 11h0m4-15h0m8 9h0m17 13h0m4-20h0m0 4h0m19-2h0m2 3h0m4 6h0m7-11h0m6 21h0m1-8h0m-2 10h0m-110 0h0m-10 0h0m-64 0h0m-41 0h0" stroke="#ffffff" stroke-width="6.4" stroke-linecap="round" stroke-opacity="0.3" fill="none"/>
<path transform="scale(.25)" d="M956 1457h0m1 16h0m-76 86h0m74 18h0m-5-1h0m-20-4h0m-63 8h0m-6-4h0m-26 12h0m65 12h0m13 1h0m58-10h0m-34 25h0m-48 8h0m-4 7h0m-28-17h0m-19-4h0m-34-1h0m-4 1h0m-14 9h0m-22 25h0m19 3h0m12 0h0m24-3h0m37 1h0m6 7h0m6-5h0m31 6h0m9-5h0m8 3h0m5-14h0m21 1h0m6 4h0m15 7h0m5 25h0m-8-17h0m-8 21h0m-38-14h0m-10 8h0m-21-4h0m-2-2h0m-25 7h0m-27-10h0m-7 9h0m-4-16h0m-6 11h0m-28 4h0m-37-6h0m-39 35h0m9-15h0m5 18h0m8-20h0m44 13h0m10 4h0m3-14h0m22 13h0m10 1h0m8-14h0m3 8h0m4-14h0m5 22h0m15-19h0m30 8h0m8-4h0m5 11h0m2 4h0m18-5h0m4 2h0m6-5h0m2 8h0m6 1h0m16-7h0m1 4h0m6-6h0m5 17h0m-19 2h0m-2 4h0m-13-1h0m-14 11h0m-5-4h0m-5-4h0m-5 7h0m-8-10h0m-12 5h0m-11-12h0m-6 14h0m-4-18h0m-10 10h0m-9-2h0m-11 6h0m-3 1h0m-18 3h0m-6-14h0m-3 6h0m-4 8h0m-4 1h0m-13-7h0m-24 8h0m-11-15h0m-6 8h0m-34-7h0m-7 14h0m-4-15h0m-2 8h0m-36 33h0m1 0h0m4-3h0m15-20h0m0 16h0m6-7h0m0 9h0m11-8h0m1-3h0m10 0h0m12-1h0m3 5h0m1 9h0m1-6h0m3-9h0m4 15h0m4-17h0m2 3h0m13 2h0m2-2h0m7 9h0m4 8h0m30-12h0m2 2h0m1-9h0m1 3h0m0 1h0m21 10h0m7-9h0m14 11h0m14-17h0m2 0h0m8 20h0m9-10h0m3 5h0m8-10h0m2 10h0m7-6h0m1 8h0m3 3h0m4-11h0m1 0h0m2 4h0m1-1h0m5 6h0m2-10h0m3-1h0m19 6h0m0 3h0m19 3h0m1-14h0m0 3h0m2 8h0m8 3h0m2-8h0m1 6h0m5-12h0m2 16h0m-255 0h0" stroke="#ffffff" stroke-width="6.4" stroke-linecap="round" stroke-opacity="0.3" fill="none"/>
<path transform="scale(.25)" d="M899 1531h0m17 11h0m-38 3h0m-12-1h0m-10 14h0m-10 3h0m5 4h0m3 6h0m38-7h0m3 16h0m3-10h0m52 17h0m-5 11h0m-1-2h0m-8 1h0m-3-5h0m-14 7h0m-40-13h0m-10 7h0m-89 33h0m1-1h0m6-3h0m19 4h0m43 1h0m44 2h0m7 0h0m51-6h0m11 0h0m9-7h0m-87 35h0m-12-11h0m-10 3h0m-8 11h0m-35 1h0m-14-23h0m-11 13h0m-30 1h0m-26 28h0m29-13h0m18 17h0m2-5h0m29-17h0m39 3h0m22-1h0m14 14h0m10-13h0m4 8h0m25 9h0m2 0h0m6-15h0m22 2h0m9 30h0m-2-7h0m-2 6h0m-11 9h0m-9-2h0m-12-8h0m-23 9h0m-13-9h0m-7-4h0m-10 2h0m-60-5h0m-13 2h0m-11 9h0m-9-8h0m-23 2h0m-33 11h0m-1-6h0m-3-1h0m-42 34h0m3-5h0m10-8h0m0 7h0m17 0h0m7-7h0m14-5h0m55 4h0m2 4h0m7-7h0m10 6h0m31 7h0m1-12h0m6-5h0m0 5h0m44 3h0m0 8h0m14-2h0m3 3h0m3-19h0m23 17h0m2 4h0m25 16h0m-5-3h0m-4 12h0m0-11h0m-10-8h0m-10 6h0m-7-3h0m-14 2h0m0-2h0m-2 14h0m-13 0h0m-1-5h0m-3-12h0m-10 14h0m0-4h0m-2-12h0m-7 3h0m-2 13h0m-5-9h0m-12 10h0m-7 4h0m-8 0h0m-1 1h0m0-10h0m-4-6h0m-12 11h0m-3-13h0m-7 17h0m-3-16h0m-11 13h0m-24-3h0m-9 5h0m-5-9h0m-8 1h0m-2 1h0m-18-11h0m-3-2h0m-2 19h0m-1 1h0m-10-2h0m0-15h0m0-4h0m-4 5h0m-8 11h0m-7-5h0m-15 12h0m-6-15h0m64 17h0m39 1h0m59-2h0m4 1h0m9 0h0m39 1h0m16 0h0" stroke="#ffffff" stroke-width="6.4" stroke-linecap="round" stroke-opacity="0.3" fill="none"/>
<path transform="scale(.25)" d="M921 1529h0m29 1h0m17 18h0m-140 29h0m99-9h0m36 9h0m-21 13h0m-53-2h0m-11 9h0m-57 4h0m-41 23h0m11 7h0m89-16h0m10 5h0m14-4h0m8 5h0m30 4h0m4-12h0m27 23h0m-26 18h0m-15-3h0m-29-10h0m-1-3h0m-5 10h0m-26-4h0m-20 8h0m-67-15h0m-29 29h0m25 12h0m4-1h0m9-13h0m12 5h0m5-12h0m9 10h0m4 12h0m32-17h0m9 17h0m19-1h0m3-4h0m9-6h0m6 10h0m13-1h0m9-18h0m2 7h0m6 9h0m21-10h0m10 11h0m5 0h0m6 2h0m-3 17h0m-11-13h0m-1 0h0m-13 12h0m-2 9h0m-4-12h0m-2 2h0m-10 1h0m-16-4h0m-7 12h0m-4-13h0m-22 8h0m-3-6h0m-5-3h0m-5-6h0m-5 19h0m-2-5h0m-19-14h0m-3 5h0m-3 12h0m-17-11h0m-11-5h0m-22 8h0m-9 0h0m-1 11h0m-1-5h0m-5-10h0m-41-4h0m-2 20h0m-38 17h0m3 1h0m9-11h0m16 4h0m46 4h0m5-7h0m10 2h0m5 6h0m2-5h0m19 12h0m11-7h0m16-15h0m2 11h0m3-2h0m4-9h0m6 20h0m1-12h0m11 13h0m1-3h0m8 5h0m13-8h0m23-10h0m3 12h0m1-14h0m2 8h0m12-5h0m25-6h0m3 16h0m1-7h0m11 12h0m6-16h0m7 19h0m-4 9h0m-3 7h0m-42-3h0m-6-1h0m-10-1h0m-4-5h0m-7-3h0m-1 10h0m-11-4h0m-13 14h0m-3-19h0m-4 17h0m-2-21h0m-9 1h0m-2 15h0m-6-11h0m-2-3h0m-6 18h0m-5-10h0m-3 6h0m-1-5h0m-1 6h0m-3 2h0m-3-12h0m-3-3h0m-2 4h0m-6 0h0m-18 7h0m-8 7h0m-4-17h0m-12 13h0m-4-7h0m-10-10h0m-1 4h0m-36 3h0m-13-4h0m-3 17h0m-7-19h0m-1 6h0m-7-2h0m-18 17h0m-3-7h0m-5 6h0m-8 4h0m238-2h0m42 1h0" stroke="#ffffff" stroke-width="6.4" stroke-linecap="round" stroke-opacity="0.3" fill="none"/>
<path transform="scale(.25)" d="M937 1531h0m12 23h0m-31-9h0m-72 31h0m43 2h0m-32 24h0m-67 14h0m7-1h0m50-7h0m16 13h0m25-12h0m59 8h0m7 21h0m-2 8h0m-36-1h0m-70 2h0m-33-8h0m-35 15h0m-5 7h0m11 12h0m9-8h0m5 4h0m3-8h0m0 5h0m8-1h0m0 12h0m9-13h0m4 3h0m16-8h0m14 9h0m31-5h0m18 13h0m11-8h0m2 1h0m8-11h0m13 5h0m4 4h0m12 12h0m5-2h0m9-20h0m-2 28h0m-1 15h0m-3-9h0m-1 9h0m-5-17h0m-4 12h0m-1-5h0m-12 7h0m0-11h0m-6 2h0m-3-4h0m-34 15h0m-1-16h0m-6 8h0m-17-6h0m-2-2h0m-17 7h0m-10 6h0m-8 2h0m-19-2h0m-27-9h0m-12 9h0m-10 0h0m-1-14h0m-13 16h0m-9-9h0m-3-7h0m0-1h0m-16 0h0m-3 22h0m-11-9h0m-16 29h0m22-12h0m5 5h0m1 7h0m2-10h0m9-6h0m6 20h0m3 0h0m4-6h0m2-12h0m5 16h0m4 1h0m5-16h0m27 2h0m9-7h0m7 1h0m5 14h0m6 6h0m2-6h0m5-4h0m4-3h0m4 9h0m20-10h0m2 9h0m12-14h0m23 14h0m4-5h0m11-5h0m2-3h0m2 8h0m18 6h0m7-8h0m20 3h0m11-3h0m6 6h0m0 15h0m-4 5h0m-8-5h0m-12 13h0m-20-8h0m-3-1h0m-23 8h0m-16-11h0m-5 14h0m-11-18h0m-10 13h0m-12-2h0m0-12h0m-28 11h0m-6 8h0m-11-11h0m-15 2h0m-2 0h0m0-7h0m-10 8h0m-2 1h0m-2-4h0m-10 3h0m-13 6h0m-9-13h0m-1-2h0m-4 4h0m-3-9h0m-2 20h0m-17 0h0m-9-10h0m-3-7h0m-25 6h0m-5 4h0m58 11h0m108 1h0m49-1h0" stroke="#ffffff" stroke-width="6.4" stroke-linecap="round" stroke-opacity="0.3" fill="none"/>
<path transform="scale(.25)" d="M956 1456h0m9 13h0m-4-4h0m-5 13h0m-1 0h0m-1-11h0m-2-3h0m-1 16h0m-1-6h0m-1 11h0m-15-4h0m-15 18h0m9-3h0m6-7h0m1 7h0m2 13h0m2-15h0m1-3h0m8 8h0m13-3h0m0 9h0m7-16h0m3 36h0m-1 5h0m-15-12h0m-3-6h0m-1 23h0m-15-16h0m-8-3h0m-12 25h0m0 4h0m3 2h0m11 2h0m3 6h0m4-15h0m1 9h0m1-13h0m4 20h0m4-18h0m1 11h0m5-3h0m9 7h0m1 1h0m0 2h0m8 14h0m-5-2h0m-12-3h0m-10 10h0m-15 0h0m-7 6h0m-1-17h0m-2 9h0m-6-8h0m9 35h0m24-16h0m19 8h0m1 13h0m2 9h0m-7 1h0m-17 10h0m-2 2h0m-14-15h0m-5 16h0m-8-17h0m2 21h0m6 23h0m2-10h0m1-6h0m6 8h0m5-9h0m20 1h0m2-2h0m9 25h0m-2 10h0m0-12h0m-5 15h0m-4 3h0m0-7h0m-3-14h0m-36 12h0m-1 14h0m34 0h0m17-2h0m2 4h0m0 2h0" stroke="#ffffff" stroke-width="6.4" stroke-linecap="round" stroke-opacity="0.2" fill="none"/>
<path transform="scale(.25)" d="M962 1448h0m1 7h0m2 8h0m2-12h0m2 25h0m-3-9h0m-12 16h0m-24-1h0m-16 19h0m3 7h0m3-18h0m0 16h0m6-13h0m12 5h0m3-4h0m8-3h0m2 16h0m7-17h0m12 16h0m2 4h0m-2 13h0m-7 9h0m-8-2h0m-11-13h0m-1 1h0m-7 2h0m-5-5h0m-15 43h0m11-1h0m3-12h0m14 3h0m10 3h0m6-5h0m1 10h0m4 3h0m4 6h0m-3 2h0m-5 16h0m-13-23h0m-4 19h0m-2-16h0m-7 17h0m-7-15h0m-1 13h0m-1-5h0m-4-7h0m-4 3h0m-3 22h0m15 6h0m8-8h0m13 14h0m5-19h0m12 3h0m3-2h0m1 35h0m-2 2h0m-7 8h0m0-12h0m-6-1h0m-24 10h0m-9 4h0m-7-6h0m-2 5h0m-1 1h0m1 14h0m18-13h0m7 5h0m1 9h0m1 1h0m10-14h0m6 4h0m6-1h0m5 8h0m0 9h0m2 6h0m-3 2h0m-6-3h0m-2-1h0m-10 21h0m0-14h0m-3-2h0m-6 16h0m0-22h0m-7 4h0m-11 7h0m-8 8h0m0-16h0m-3-1h0m1 22h0m56 0h0" stroke="#ffffff" stroke-width="6.4" stroke-linecap="round" stroke-opacity="0.2" fill="none"/>
<path transform="scale(.25)" d="M971 1443h0m-4 37h0m-5-2h0m-2 9h0m-1-20h0m-2 3h0m-6-5h0m-21 34h0m9-6h0m2 2h0m4 15h0m7-12h0m8 7h0m11-7h0m-8 36h0m0-4h0m-4-2h0m-19-5h0m-5-9h0m-1-2h0m-3 12h0m-1-7h0m-4-3h0m-13 31h0m8-6h0m7 12h0m1-4h0m1-1h0m10 5h0m11 5h0m0 1h0m1-5h0m2-4h0m7 6h0m5 27h0m-4-5h0m-1-9h0m-3 2h0m-7-2h0m-22 16h0m-14-3h0m-1-7h0m26 30h0m22-2h0m1-17h0m0 9h0m9 21h0m-4 13h0m-2-9h0m-4-10h0m-10 5h0m-32 0h0m-1 1h0m-1 3h0m-2 2h0m0-8h0m3 25h0m19 3h0m3 13h0m1-6h0m3 0h0m10 0h0m7-12h0m2 1h0m5 8h0m1 28h0m-7 2h0m-18 1h0m-2-7h0m-3 12h0m-17-10h0m0-1h0m-8 2h0m0-10h0m57 21h0" stroke="#ffffff" stroke-width="6.4" stroke-linecap="round" stroke-opacity="0.2" fill="none"/>
<path d="M243.0 438.5L254.4 438.5L254.4 355.0L243.0 355.0Z" fill="#f9a55a" fill-opacity="1.0"/>
<linearGradient id="ge2" gradientUnits="userSpaceOnUse" x1="0" y1="438.5" x2="0" y2="417.6"><stop offset="0" stop-color="#ffffff" stop-opacity="0.5"/><stop offset="1" stop-color="#ffffff" stop-opacity="0.0"/></linearGradient>
<path d="M243.0 438.5L254.4 438.5L254.4 355.0L243.0 355.0Z" fill="url(#ge2)"/>
<path transform="scale(.25)" d="M986 1625h0m30 20h0m-37-13h0m-5 45h0m6-7h0m12 7h0m20-2h0m4-10h0m-7 24h0m-2 11h0m-6-17h0m-1 17h0m-11-20h0m-2 7h0m-2 15h0m-12-13h0m0 29h0m5-13h0m6 19h0m2-19h0m1 12h0m1-5h0m1-1h0m4-3h0m6 18h0m1-16h0m0 10h0m3 6h0m3-14h0m3 7h0m2-12h0m1-2h0m2 13h0m3 4h0m1-3h0m-11 22h0m-6 8h0m-1-19h0m-11-2h0m-4 16h0m-7-12h0m-1 16h0m0-5h0m-1 8h0m-2-8h0m-2-13h0m32 22h0" stroke="#ffffff" stroke-width="6.4" stroke-linecap="round" stroke-opacity="0.4" fill="none"/>
<path transform="scale(.25)" d="M1013 1627h0m-20 24h0m-14-10h0m-5 18h0m18 13h0m4 4h0m4-16h0m11 17h0m0 1h0m3 0h0m-5 10h0m-9 15h0m-2-14h0m-3-2h0m-7 4h0m-4-2h0m-2 3h0m-3-2h0m3 24h0m7 0h0m2-1h0m1-7h0m11 10h0m2 2h0m2-11h0m2 1h0m4-3h0m1 16h0m2 20h0m-8-7h0m-11-1h0m-2 0h0m-4 3h0m-3 13h0m-10-19h0m0-2h0m-2 18h0m28 6h0m9 0h0" stroke="#ffffff" stroke-width="6.4" stroke-linecap="round" stroke-opacity="0.4" fill="none"/>
<path transform="scale(.25)" d="M992 1631h0m17 7h0m-18-1h0m-14-2h0m2 25h0m2 11h0m10 6h0m5-21h0m4 16h0m9-11h0m7 27h0m-1-2h0m-2-1h0m-13-2h0m-3 13h0m-10 5h0m-10 1h0m-3 13h0m0 7h0m2 3h0m17-15h0m1 8h0m1-4h0m3-4h0m7 12h0m1 2h0m8 12h0m-5 3h0m0-11h0m-12 9h0m-1 8h0m-16-12h0m-1-1h0m-3 17h0" stroke="#ffffff" stroke-width="6.4" stroke-linecap="round" stroke-opacity="0.4" fill="none"/>
<path transform="scale(.25)" d="M975 1439h0m2-12h0m29 11h0m1 2h0m-1 2h0m-8 11h0m-6-3h0m-2 12h0m0-11h0m-1-9h0m-3 9h0m0-4h0m-6 9h0m2 14h0m0 8h0m5 4h0m6 3h0m1-9h0m7-11h0m11 19h0m-8 27h0m-1-7h0m-7 6h0m-4-7h0m0-9h0m-13 8h0m-3 7h0m0-21h0m3 34h0m37 20h0m-32 13h0m-4-12h0m-1 15h0m-4 8h0m11 13h0m5-15h0m0 1h0m1 11h0m21-2h0m0 10h0m-12 14h0m-6 7h0m-3-4h0m-6-17h0m-11 8h0m1 26h0m4-4h0m1 15h0m3-6h0m3-2h0m1 10h0m18 0h0m9-1h0m-2 5h0m-13 3h0m-1 13h0m-1 2h0m-18-5h0m-2-6h0m-4 29h0m4-13h0m3 10h0m3 10h0m11-8h0m12-13h0m2 17h0m6 25h0m-1 4h0m-5-7h0m-3 3h0m-28-8h0m-6 26h0m0 8h0m8-10h0m10 9h0m8-17h0m14-1h0m3 31h0m-9 10h0m-23-9h0m-1-7h0m-1 17h0m-8-5h0" stroke="#ffffff" stroke-width="6.4" stroke-linecap="round" stroke-opacity="0.25" fill="none"/>
<path transform="scale(.25)" d="M972 1429h0m9-5h0m14 4h0m4 1h0m5 1h0m5 32h0m-1-20h0m-8 10h0m-21-5h0m-3 2h0m-1 22h0m22 11h0m4-14h0m2 3h0m4 7h0m5-13h0m1 9h0m-2 15h0m-3 14h0m-4-14h0m-11 20h0m-5-1h0m-10-8h0m-1 0h0m-4 8h0m1 24h0m1-7h0m5-6h0m2 6h0m0 6h0m3 3h0m8-9h0m1 0h0m8-13h0m10 9h0m1 14h0m-2 24h0m-13-20h0m-24 18h0m11 8h0m27 16h0m5-4h0m-9 20h0m-1 1h0m-5 2h0m-6-6h0m-4-9h0m-6 1h0m-2 15h0m0-4h0m0-13h0m-5 23h0m-7-17h0m12 23h0m2 7h0m1 6h0m6-3h0m18-1h0m4 19h0m-14-7h0m-18 5h0m-1 3h0m-7-4h0m1 36h0m2 3h0m5-11h0m6 3h0m8 11h0m-3 17h0m-14-14h0m-5 5h0m-1-8h0m-1 21h0m-1-6h0m12 28h0m12-11h0m5-1h0m11 14h0m-20 8h0m-9 14h0" stroke="#ffffff" stroke-width="6.4" stroke-linecap="round" stroke-opacity="0.25" fill="none"/>
<path transform="scale(.25)" d="M975 1435h0m5 0h0m7-3h0m11-1h0m6-6h0m0 4h0m11-7h0m-9 25h0m-3 4h0m-2 6h0m-14-5h0m-8 6h0m-4 1h0m-1-13h0m0-5h0m6 31h0m6-2h0m2 10h0m1 6h0m2-1h0m7-6h0m5-7h0m1-6h0m7 11h0m3-7h0m-3 18h0m-4 20h0m-11-6h0m-3-13h0m-7 17h0m-1 3h0m-11-15h0m7 34h0m24-13h0m1 9h0m3 1h0m5-3h0m-3 21h0m-1 1h0m-3 13h0m-1-6h0m-5-15h0m-1 14h0m-5-10h0m0-1h0m-2 12h0m0-4h0m-1-6h0m-8 13h0m-3 24h0m1-16h0m0 0h0m2 7h0m6 0h0m7 5h0m15 26h0m-8 5h0m-12-8h0m-16 0h0m24 31h0m8-16h0m2 12h0m6-3h0m0 14h0m-14 6h0m-2-5h0m-1 8h0m-13 9h0m-2-7h0m-5 22h0m12 8h0m11-15h0m14 9h0m-2 21h0m-8 8h0m-7-3h0m-3-15h0m-1 2h0m-1 18h0m-1-9h0m-11-3h0m-1 0h0m-3-6h0m-2 17h0m28 6h0m2 11h0m4 4h0m7-13h0m0 22h0m-1 10h0m-5 0h0m-4-6h0m-8 14h0m-3-9h0m-8-8h0m-13 10h0m-1 8h0" stroke="#ffffff" stroke-width="6.4" stroke-linecap="round" stroke-opacity="0.25" fill="none"/>
<path d="M243.0 355.0L254.4 343.6L254.4 355.0Z" fill="#6cbf62" fill-opacity="1.0"/>
<path d="M321.3 437.5L404.5 354.7L404.5 437.5Z" fill="#a9c9e6" fill-opacity="0.45"/>
<path transform="scale(.25)" d="M1610 1457h0m2-7h0m1 32h0m-9-13h0m-15 15h0m0-16h0m0-2h0m-1 7h0m-6 0h0m-3 8h0m-1-17h0m-1 7h0m-7 6h0m-41 34h0m41-19h0m10 8h0m12-8h0m7-1h0m-11 27h0m-38 13h0m-3-17h0m-24 2h0m-31 30h0m4 8h0m14-6h0m1 2h0m2 9h0m11-4h0m2 1h0m27-3h0m14 2h0m10-12h0m3-1h0m16 16h0m9-11h0m6-6h0m3-4h0m2 40h0m-15 3h0m-48 3h0m-10 0h0m-7-4h0m-2-5h0m-2 1h0m-35 2h0m-22-5h0m-26 22h0m1 10h0m3-20h0m25 5h0m1 1h0m6 4h0m4 13h0m3-23h0m9 21h0m2-20h0m23 0h0m8 15h0m3 0h0m9-10h0m7-5h0m25 11h0m7 11h0m13-6h0m18 5h0m1 2h0m-1 16h0m-24-11h0m-2-3h0m-4-1h0m-11 12h0m-4 0h0m-2-5h0m-6 6h0m-5 1h0m-5-3h0m-3-5h0m-8 4h0m-19-11h0m-20 12h0m-1-1h0m-11-7h0m-4 9h0m-23 9h0m-19-5h0m-6-10h0m-3-2h0m-8 0h0m-1 6h0m-3 8h0m-10-1h0m-1 5h0m-26 19h0m0 2h0m2-4h0m16-16h0m9 5h0m12-5h0m7 5h0m11 1h0m4 15h0m30 2h0m4-21h0m5 9h0m3-1h0m13-8h0m19 1h0m22 7h0m5-10h0m2 16h0m44 6h0m7-2h0m1 2h0m11-19h0m-3 40h0m-11-15h0m-2 0h0m-5 11h0m-2 8h0m-5-16h0m0-2h0m-1 10h0m-10 2h0m-2-9h0m-2-4h0m-1 10h0m-1 1h0m-3 8h0m-12-21h0m-2 10h0m-1 5h0m-2 6h0m-10-5h0m-15-6h0m-11 9h0m-1-15h0m-11 11h0m-4-8h0m-1-3h0m-3 3h0m-17 7h0m-4-5h0m-1-8h0m-7 14h0m-1-5h0m-3-10h0m-6-1h0m-23 20h0m-1-6h0m-6-7h0m-11 12h0m0-15h0m-1 14h0m-6-7h0m-2 4h0m-2 1h0m-5-2h0m-1-4h0m-2 12h0m-3-3h0m-4-6h0m-4 7h0m-6-13h0m-28 39h0m25-4h0m1-5h0m1-3h0m5-10h0m18 7h0m14 0h0m3 10h0m6-8h0m6-5h0m0 15h0m4-14h0m1-6h0m2 7h0m3 2h0m1-5h0m10 4h0m12 7h0m4 0h0m21-3h0m19-12h0m2 4h0m16 12h0m4-14h0m3 6h0m2-7h0m0 8h0m17 2h0m4-1h0m16-5h0m11 10h0m0 7h0m6-8h0m2-5h0m19 9h0m3-16h0m5 21h0m3-16h0m-9 23h0m-1 14h0m0-2h0m0-6h0m-2-8h0m-2 12h0m-5 6h0m-1-21h0m-28 0h0m-5 13h0m-7-3h0m0-3h0m-1 15h0m-4-6h0m-6-13h0m-7 11h0m-7-1h0m0-5h0m-6 5h0m-22 4h0m-3-10h0m-10-4h0m-7 8h0m-1-2h0m0-6h0m-4 13h0m-3 2h0m-1-7h0m0-2h0m-5-5h0m-3 18h0m-5-9h0m-1-2h0m-11-11h0m-14 1h0m-5 6h0m-8 0h0m-17 5h0m-13 2h0m-23-8h0m-7-2h0m-1 14h0m-1-2h0m-4-14h0m-21 2h0m-40 39h0m2-6h0m10-4h0m13 0h0m44-4h0m0 7h0m3 9h0m2-8h0m7 3h0m8-5h0m2-7h0m10 10h0m12-9h0m12-5h0m11 0h0m6 20h0m24-17h0m9 0h0m2 4h0m1 5h0m8 2h0m9-12h0m1 10h0m7-12h0m6 7h0m7 2h0m3-9h0m1 18h0m24-8h0m3-5h0m3 5h0m2 7h0m10-17h0m7 11h0m2 6h0m7-10h0m32 14h0m1-3h0m3 0h0m3-7h0" stroke="#1f77b4" stroke-width="7.2" stroke-linecap="round" stroke-opacity="0.24" fill="none"/>
<path transform="scale(.25)" d="M1599 1483h0m2-13h0m8-3h0m5 1h0m3 35h0m-10-5h0m-2 13h0m-9-18h0m-2 1h0m-30 1h0m-1 3h0m-10-9h0m-2 15h0m-5-11h0m-10 14h0m-3 26h0m6-16h0m3 0h0m1 18h0m14-16h0m5 5h0m16 6h0m10 3h0m4-16h0m0 2h0m5 5h0m1-8h0m3 13h0m7-16h0m2 19h0m2-2h0m4-3h0m0 31h0m-3-15h0m-22 7h0m-14-8h0m-1 14h0m-1-9h0m-23 5h0m-3 7h0m-10-6h0m-12 5h0m-10-8h0m-7-8h0m-3 3h0m-4 6h0m-2-9h0m-9 17h0m-21 13h0m10 7h0m34-3h0m12-5h0m13 9h0m4-4h0m14-12h0m1 5h0m6-3h0m5 15h0m1 1h0m6-20h0m4 7h0m3-9h0m1 1h0m14 14h0m1 6h0m1-16h0m2 6h0m12-3h0m-5 28h0m-12-7h0m-1 12h0m0-3h0m-4-10h0m-3 11h0m-1 3h0m-2-18h0m-17 0h0m-6 14h0m-1 1h0m-4 2h0m-1-1h0m-18-6h0m-3 12h0m-4-21h0m-2 6h0m-11 14h0m-1-7h0m-3-9h0m-4 1h0m-2 3h0m-8-2h0m-4 5h0m-13 4h0m-2-12h0m-4 18h0m-5-15h0m-9-4h0m-4 5h0m-5 10h0m-21 28h0m20-21h0m15 18h0m17-14h0m22 7h0m9-10h0m1-2h0m8 14h0m7 9h0m4-10h0m6-9h0m6 11h0m5-3h0m2-7h0m6-2h0m20 4h0m13 9h0m8 4h0m7-17h0m0 40h0m-10-7h0m-9-9h0m-10 13h0m-5-2h0m-9-3h0m-3 1h0m-28-11h0m-11 11h0m-1-6h0m0-6h0m-2 23h0m-13 0h0m0-4h0m-19-1h0m-12-4h0m-16-3h0m-8 12h0m-2-9h0m-3-1h0m-1-3h0m-6 8h0m-13-14h0m-1 11h0m-13 6h0m-2-7h0m-29 5h0m-16 16h0m18-1h0m12 7h0m7 5h0m22-9h0m1-4h0m10 13h0m8-13h0m9 12h0m1-4h0m3 3h0m7-13h0m11-1h0m16-6h0m10 1h0m1 5h0m4 2h0m13 8h0m4 7h0m2-3h0m7-12h0m4-8h0m9 16h0m2-13h0m1 19h0m2 0h0m13-2h0m2 2h0m1-3h0m1 4h0m7-14h0m7-8h0m8 10h0m3 9h0m5-14h0m2 3h0m5 6h0m4-15h0m1 23h0m1-13h0m0 3h0m4 13h0m-5 7h0m-23-9h0m-9 12h0m-4 10h0m-2-8h0m-3-13h0m-4 15h0m-7-2h0m-4 1h0m-5-5h0m-10 2h0m-26-12h0m-8 10h0m-4-3h0m-7 8h0m-8 1h0m-1-6h0m-7-7h0m-4-1h0m-2 8h0m-3 3h0m-14 10h0m-12-4h0m-2-2h0m0-6h0m-9-10h0m-3 21h0m-6-21h0m-2 0h0m-9 21h0m-17 1h0m-20-14h0m-2-5h0m-9 16h0m-11 3h0m-14-7h0m4 22h0m6-12h0m1 8h0m4-2h0m3 4h0m0 3h0m3 2h0m11-12h0m1 3h0m2-5h0m2 8h0m22-10h0m4 13h0m3 1h0m3-6h0m6 3h0m9 10h0m19-17h0m14 1h0m1 12h0m3-13h0m8 4h0m0 3h0m6 1h0m3 4h0m1-5h0m5-1h0m14-11h0m4 1h0m5 12h0m17 2h0m3-15h0m7 14h0m10-3h0m2 8h0m17-2h0m5-10h0m2 6h0m3 1h0m3 7h0m4-16h0m1 1h0m5 11h0m0 6h0m7-5h0m3-13h0m4 4h0m8 1h0m1 11h0m5-5h0m2-10h0m0 24h0m-1-2h0m-3 15h0m-1-12h0m-7-4h0m-2 6h0m-4 9h0m-35-1h0m-7-8h0m-3 3h0m-10-10h0m-5 3h0m-2 7h0m-3-11h0m-11 10h0m-1 5h0m-6 4h0m-6 2h0m-2-1h0m-4 0h0m-10-20h0m-12 6h0m-6 4h0m-1-3h0m-3 6h0m-7 5h0m-12-7h0m-4 2h0m-9-13h0m-3 15h0m-17 5h0m-1-18h0m-3 3h0m-4 3h0m-2 9h0m-8-18h0m-10 17h0m-6-13h0m-12 9h0m-18 2h0m-25-10h0m-4-5h0m-3 11h0m-3-1h0m-1-6h0m-14 12h0m-8 1h0" stroke="#1f77b4" stroke-width="7.2" stroke-linecap="round" stroke-opacity="0.24" fill="none"/>
<path transform="scale(.25)" d="M1584 1463h0m1-3h0m7-13h0m11 8h0m14 19h0m-9 7h0m-10-9h0m-1-2h0m-1 10h0m-15 0h0m-2 5h0m-43 18h0m8 6h0m4-14h0m5 3h0m13-7h0m0 9h0m16-4h0m18-6h0m5 14h0m0 6h0m2-17h0m6 29h0m0-3h0m0-4h0m-1 19h0m-14-18h0m-3 10h0m-2 0h0m-3-2h0m-37 4h0m0-8h0m-14-1h0m-17 11h0m-2-12h0m-14 12h0m4 9h0m12 7h0m6 8h0m5-2h0m4 0h0m0 0h0m5-10h0m2-6h0m0 6h0m7 2h0m19-1h0m3 4h0m3-6h0m8-5h0m0 18h0m3-1h0m1-6h0m7 10h0m7-20h0m4 21h0m7 13h0m-15 8h0m0-9h0m-21-6h0m-2-2h0m-8 17h0m-11-12h0m-1 4h0m-30-8h0m-5 18h0m-15-9h0m-1 11h0m-6-20h0m-2 8h0m-1 6h0m0-11h0m-7 3h0m-12 12h0m-1-12h0m-31 23h0m16-2h0m14 13h0m1-7h0m1 0h0m10 3h0m8 5h0m3-7h0m7-9h0m12 1h0m6 4h0m22-6h0m1 0h0m4 5h0m9 7h0m0 8h0m1-7h0m1 6h0m12-4h0m14-9h0m3 3h0m14 8h0m0 1h0m2-10h0m1 4h0m12 1h0m-1 26h0m-9 2h0m-16-11h0m-5 6h0m-11 6h0m-2-10h0m-8-1h0m-5 4h0m-2-8h0m-7 2h0m-4-3h0m-15 16h0m-31-15h0m-4 15h0m0-14h0m-1 12h0m-8-8h0m-1 6h0m-20-4h0m-14-3h0m-7-8h0m-7-2h0m-13 19h0m-32 21h0m3-6h0m4-5h0m7 13h0m13-8h0m4-8h0m0 9h0m1-3h0m3 5h0m14 7h0m7 3h0m3-11h0m8 2h0m2-3h0m9-5h0m14 16h0m8-10h0m6 3h0m1-1h0m5-5h0m9 7h0m5 2h0m2-12h0m2 5h0m10-4h0m7-4h0m19 9h0m1-9h0m3 2h0m7 13h0m2-11h0m4 0h0m3-3h0m5 13h0m6-7h0m2-6h0m7 13h0m1-12h0m3 34h0m-4-8h0m-3 11h0m-16 1h0m-2 0h0m0-1h0m-3-8h0m-1-8h0m-6 20h0m-7-8h0m0-14h0m-5 4h0m-2 3h0m-2-7h0m-8 8h0m-10-6h0m-2 5h0m-3 8h0m-9 7h0m-4 0h0m-21-14h0m-5 7h0m-2 0h0m-2-15h0m-15 16h0m-2 6h0m-13 0h0m-3 1h0m-10-2h0m-33-16h0m-2 1h0m-1 5h0m-9-3h0m-10-6h0m-35 23h0m7 16h0m3-14h0m0 7h0m3 3h0m17-6h0m3-4h0m11 1h0m7 7h0m3-3h0m4 13h0m2-20h0m1 10h0m11 9h0m1-14h0m20 9h0m5-1h0m5 0h0m1-9h0m33 3h0m31-2h0m2 12h0m5 2h0m1 3h0m4-10h0m14 3h0m8-16h0m3 19h0m7-10h0m3-3h0m4 17h0m4-12h0m0 1h0m8-9h0m0 13h0m2 6h0m3-2h0m4 3h0m1-7h0m2 3h0m2 4h0m1-15h0m2-7h0m5 17h0m4-6h0m5-4h0m-4 28h0m-4-9h0m-11 18h0m-3-18h0m-2 9h0m-12-9h0m-42 3h0m-6 6h0m-20 7h0m-2 2h0m0-3h0m-1 3h0m-11-17h0m-1 8h0m0-12h0m-11 6h0m-15-5h0m-1 16h0m0-16h0m-11 13h0m-12-5h0m-7 0h0m-15-7h0m-7 15h0m-13-17h0m-20 11h0m-4-5h0m-5 13h0m-23-19h0m-2 19h0m-45 19h0m4-12h0m1 1h0m2 12h0m3-5h0m12 8h0m21 0h0m0 2h0m12-2h0m24-9h0m41-9h0m1 9h0m4-1h0m14-7h0m2 1h0m16 0h0m12 14h0m4 4h0m11-9h0m8 7h0m5-6h0m0 5h0m1-5h0m11-4h0m8 9h0m21 2h0m4-4h0m6-12h0m1 17h0m5-6h0m10-6h0m0 8h0m0 2h0m6-14h0m5 17h0m5-16h0m2 9h0m4-10h0m4 17h0m1-17h0m1 0h0m8 16h0m1-4h0" stroke="#1f77b4" stroke-width="7.2" stroke-linecap="round" stroke-opacity="0.24" fill="none"/>
<path transform="scale(.25)" d="M1609 1437h0m3-8h0m-15 17h0m-3 10h0m-7 4h0m-14 15h0m1 9h0m1-13h0m3-1h0m9-1h0m8-3h0m22 2h0m-14 32h0m-4-6h0m-28-2h0m-4 16h0m-3-19h0m-3 12h0m-3-10h0m-10-1h0m-3 21h0m-2-13h0m-15 12h0m-11 24h0m13-15h0m0 9h0m6-6h0m20-4h0m4-5h0m4 3h0m16 4h0m2-1h0m4 13h0m9-18h0m1 8h0m4 9h0m2-6h0m13 29h0m-12 0h0m-5-7h0m-23 1h0m-2-7h0m-21 10h0m-5 7h0m-5-1h0m-8-11h0m-1 9h0m-3-13h0m-16-2h0m-14 14h0m-4-4h0m-26 17h0m22 3h0m18 4h0m13-3h0m4 6h0m1-2h0m8 7h0m6-5h0m5-15h0m0 19h0m29-3h0m3-8h0m11 5h0m6-3h0m2-4h0m14 15h0m4 10h0m-14 8h0m0-5h0m-11 7h0m-5-11h0m-10 5h0m-2-10h0m-1 16h0m-17 3h0m0-2h0m0-14h0m-1-6h0m-17 13h0m-2-13h0m-6 7h0m-2-1h0m-13 1h0m-1 5h0m-5-1h0m-7-10h0m-1 20h0m-12-2h0m-2-19h0m-11 14h0m-2-9h0m-9 18h0m-4-21h0m-1 11h0m-9 2h0m-31 22h0m7-11h0m1 19h0m15-2h0m4-11h0m2-1h0m6 14h0m16-1h0m7 1h0m8-21h0m8 14h0m8 4h0m8-1h0m4-15h0m2 2h0m14-1h0m2 16h0m5 1h0m3-5h0m12-1h0m2-2h0m7-10h0m4 15h0m1-1h0m8-15h0m6 11h0m4-5h0m22 9h0m6-12h0m1 36h0m-3-1h0m-5 8h0m-2-15h0m-24 14h0m-3-17h0m-2 3h0m-2-1h0m-16-3h0m-13-4h0m-3 11h0m0-11h0m-23 7h0m-3 11h0m-16 5h0m0-6h0m-6-1h0m-2 3h0m-6-6h0m0-10h0m-3 14h0m-1 4h0m-2-20h0m-4 16h0m-3 5h0m-6-2h0m-17-13h0m-9 13h0m-5-20h0m-3 8h0m-11 1h0m-1 1h0m-13 12h0m-24 16h0m24 2h0m4-7h0m2 14h0m3-8h0m3-14h0m10-1h0m0 20h0m14 3h0m10-2h0m9-21h0m2 3h0m4 16h0m8 1h0m5-12h0m9 12h0m4-19h0m0 13h0m1 3h0m2 4h0m4-11h0m2-6h0m2 0h0m0 9h0m9-5h0m6 14h0m4-17h0m10 5h0m5-1h0m0 7h0m10 4h0m10-5h0m3-11h0m17 1h0m1 15h0m3 2h0m2-5h0m5-5h0m6 0h0m5-1h0m2 8h0m6 1h0m0 1h0m2-15h0m2 8h0m2 3h0m2 1h0m-2 25h0m0-14h0m-2 14h0m-9-17h0m-4-1h0m-1-1h0m-5 3h0m-1 4h0m-1-1h0m-2 2h0m-14-1h0m-2-5h0m-2 2h0m-2-3h0m-7 2h0m-6 13h0m-1-11h0m-7 9h0m-2-8h0m-10 6h0m-3-7h0m-1 17h0m-3-14h0m-11-7h0m-7 12h0m-23 5h0m-13-13h0m-1 18h0m-5-5h0m-6 1h0m-6 0h0m-6-4h0m-4 2h0m-6-1h0m-10 6h0m-1-8h0m-5 1h0m-1 3h0m-5-2h0m-2 4h0m-5-13h0m-13 16h0m-2-14h0m-2 9h0m-38-4h0m-5-10h0m-4 5h0m-14 28h0m20-8h0m14-2h0m12 8h0m7-5h0m19-1h0m9 18h0m20 0h0m12-10h0m8-9h0m5-3h0m1 4h0m10 9h0m1 4h0m11 4h0m1-19h0m0 10h0m9 5h0m0 1h0m2-7h0m7 0h0m1 8h0m4-9h0m9-7h0m2 2h0m6 8h0m1-8h0m34 7h0m1-1h0m3 1h0m2 7h0m1-10h0m6-7h0m1 14h0m17 4h0m4-5h0m1-5h0m4-1h0m4 13h0m4-14h0m0 12h0m5-6h0m5 23h0m-2-8h0m-2 6h0m-5-10h0m-1 4h0m-2 14h0m-2-15h0m-3-5h0m-1 17h0m-20 4h0m0-12h0m-1-5h0m-2 7h0m-2-5h0m-2-4h0m-8-1h0m-7 21h0m-12-2h0m-9-4h0m-15-1h0m-4 7h0m-2-18h0m-2 3h0m-7 14h0m-7-11h0m-1-7h0m-23 0h0m-6 14h0m-19-4h0m0-11h0m-6 20h0m-12-18h0m-20 4h0m-4 10h0m-2-16h0m-1 12h0m-9-4h0m-7-2h0m-2 13h0m-6-9h0m-6-11h0m-31 4h0m0-1h0m-4 13h0m-4-4h0m-6-5h0m-1 6h0m-3-8h0m-13-5h0m-2 20h0m-4-20h0m-3 5h0" stroke="#1f77b4" stroke-width="7.2" stroke-linecap="round" stroke-opacity="0.24" fill="none"/>
<path transform="scale(.25)" d="M1595 1459h0m19-18h0m-3 41h0m-3 4h0m0-4h0m-8-9h0m-18 14h0m-1-22h0m-22 19h0m-6 18h0m6 7h0m9-13h0m4 6h0m1-12h0m19 5h0m3 11h0m15-8h0m8 34h0m-10-10h0m-9 7h0m-4-10h0m-4 8h0m-12-1h0m-8 7h0m0-12h0m-29 0h0m-9-8h0m-12 7h0m-9 6h0m-14 16h0m36 7h0m3-3h0m15 9h0m3-6h0m11-9h0m2 10h0m4-5h0m3 3h0m10-4h0m7 13h0m15-9h0m8-1h0m-15 16h0m-4 3h0m-2-1h0m-4 10h0m-2 4h0m-2-1h0m-15-10h0m-13 5h0m-14-12h0m-3 0h0m-4 4h0m-10 9h0m0-10h0m-8 11h0m-11 2h0m-28-8h0m-2 8h0m-10-6h0m-8 11h0m-1-5h0m7 24h0m1-3h0m5-1h0m15-10h0m15 11h0m13 3h0m16 5h0m8-14h0m7 0h0m3 14h0m13-21h0m1 6h0m4-7h0m29 22h0m5-8h0m2-3h0m9-10h0m0 10h0m-22 25h0m-21 1h0m-1-7h0m-12 7h0m-15-13h0m-1 15h0m-3 1h0m-7 0h0m-1-2h0m-13-4h0m-5 3h0m-3-7h0m-3 2h0m-4 15h0m-49-21h0m-3-1h0m-16 0h0m-2 0h0m-13 18h0m-32 23h0m22-13h0m6 4h0m0 13h0m13-4h0m2 3h0m4-6h0m8 1h0m16-8h0m7 15h0m14-15h0m5-6h0m13 20h0m6-2h0m3-5h0m14-4h0m0 3h0m2-14h0m3 2h0m12-1h0m14 10h0m10 2h0m6 6h0m0 2h0m10-4h0m3 3h0m21-15h0m5-2h0m0 9h0m10 15h0m-11 18h0m-3-17h0m-2 3h0m-2-6h0m-7 16h0m-9-10h0m-2 15h0m-2-17h0m-3 16h0m-9-16h0m-4-3h0m-2-1h0m-4 6h0m-2 16h0m-3-22h0m-8 22h0m-9-22h0m-19 14h0m0-2h0m-5 8h0m0-9h0m-10 5h0m-1-11h0m-8 0h0m-10 0h0m-2 6h0m-16 8h0m-1-8h0m-1-2h0m-2 11h0m-13-6h0m0-2h0m-10-6h0m-4-3h0m-9 8h0m-3-4h0m-17 12h0m-9-6h0m-4 8h0m0-3h0m-10 4h0m-1-9h0m-11 0h0m-14 19h0m6 1h0m3-4h0m6 17h0m6-2h0m15 1h0m12-13h0m10 2h0m10-5h0m1 7h0m0 4h0m11 0h0m0 2h0m6-18h0m5 7h0m0 11h0m1-4h0m12-3h0m2 0h0m2-8h0m18-3h0m10 5h0m0 15h0m7-6h0m1-12h0m0 9h0m11-6h0m4-1h0m0 17h0m10-17h0m1 2h0m3 0h0m15 0h0m2 14h0m1-12h0m2-9h0m23 11h0m10 7h0m5 0h0m18-13h0m3 8h0m3-6h0m5 5h0m1 14h0m-4 1h0m-8 13h0m-3 1h0m-3 1h0m0-13h0m-3-3h0m-1 3h0m-9 9h0m-8-8h0m-7-6h0m-5 6h0m-1 1h0m-2 7h0m-8-2h0m-1-2h0m-5 5h0m-5-3h0m0-9h0m-4 4h0m-4-4h0m-8 20h0m0-6h0m-14-10h0m-3 11h0m-4 0h0m-6 3h0m0-7h0m-4 8h0m-3-1h0m-8-11h0m-1 13h0m-3-22h0m-2 6h0m-1 5h0m-2-12h0m-1 4h0m-3 9h0m-3-13h0m-2 2h0m-3 2h0m-11 18h0m0-20h0m-1 0h0m-1 14h0m-8-2h0m0-8h0m-1 9h0m0-3h0m-3 4h0m-4-15h0m-7 9h0m-9-5h0m-3 0h0m-25 7h0m-26-3h0m0-9h0m-2 22h0m-1-5h0m-2-8h0m-3 9h0m-11 1h0m-43 18h0m3-3h0m6 7h0m1-14h0m7-2h0m11 2h0m21 6h0m8-4h0m7 1h0m16 11h0m8-11h0m0 1h0m0 11h0m13-5h0m4-7h0m16-2h0m6-3h0m15 7h0m12 1h0m4-8h0m10 14h0m5-6h0m2 12h0m12-10h0m12 6h0m0 3h0m10-17h0m0 6h0m1 6h0m6 1h0m15-8h0m3-4h0m5-1h0m3 0h0m3 19h0m6-21h0m1 20h0m6-3h0m3-3h0m1-11h0m0 15h0m2 2h0m11-20h0m3 2h0m5 6h0m7-6h0m1 9h0m2-8h0m2 12h0m4-8h0m14 4h0" stroke="#1f77b4" stroke-width="7.2" stroke-linecap="round" stroke-opacity="0.24" fill="none"/>
<path transform="scale(.25)" d="M1577 1460h0m28-9h0m0 7h0m2-2h0m1-9h0m-8 29h0m-8-9h0m-11 8h0m-2 7h0m-6-13h0m-2 5h0m-37 35h0m21-20h0m3 17h0m2-15h0m2 10h0m2 0h0m1 0h0m11-10h0m1 5h0m26 1h0m2 4h0m3 1h0m5 3h0m4 13h0m-12 13h0m-29-3h0m-8-11h0m-6 18h0m-15-14h0m-18 14h0m-31 6h0m4 8h0m14-8h0m3 6h0m3 0h0m8 8h0m41-6h0m1-2h0m13-8h0m8 4h0m4 2h0m3 14h0m7-23h0m3 4h0m6 26h0m-17 7h0m0-5h0m-19 12h0m-9 0h0m-1-2h0m-5-16h0m-2 2h0m-13 4h0m-11 2h0m0-5h0m-1 8h0m-3-7h0m-12-4h0m-16 3h0m-22 16h0m-48 20h0m5-3h0m11 6h0m16-9h0m4-11h0m10 22h0m3 1h0m2-17h0m1 7h0m4-9h0m9-2h0m27 1h0m2 7h0m10-3h0m19 1h0m2 13h0m10-18h0m1 4h0m1-7h0m6 10h0m2 2h0m3 5h0m21-2h0m11 12h0m-11 11h0m-5-13h0m-9 21h0m-1-7h0m-10-14h0m-4 9h0m-19 4h0m-13-11h0m-6 5h0m-10 12h0m-9-2h0m-14 2h0m-6 2h0m-11-5h0m-4-4h0m-1 2h0m-18-13h0m-6 20h0m-2-21h0m-22 21h0m-2-8h0m-9 1h0m-1 2h0m-1 2h0m-3-7h0m-36 34h0m17-5h0m1-5h0m5 3h0m0 4h0m10-6h0m12-11h0m3 21h0m10-1h0m6-8h0m8-2h0m3 9h0m18-21h0m15 18h0m1-12h0m1 5h0m24-9h0m0 13h0m10 8h0m11-11h0m3 10h0m13-10h0m0 2h0m6 0h0m2-10h0m11-4h0m12 13h0m2-1h0m1 7h0m6-15h0m5-1h0m6 7h0m9 7h0m-5 14h0m-6 3h0m-1-10h0m-4 5h0m-3 7h0m-3-3h0m-12 14h0m-8-11h0m-5-8h0m-8 12h0m0-8h0m-6 2h0m-4 13h0m-3-9h0m-3-3h0m-25-4h0m-12 11h0m-1-5h0m0-10h0m-6 14h0m-1 3h0m-21-2h0m-11-9h0m-16 14h0m0-5h0m-5-1h0m-17-13h0m-16 10h0m-4 5h0m-5-3h0m-7-16h0m-3 23h0m-5-10h0m-11-11h0m-3 18h0m-9-3h0m-28 30h0m12-17h0m2 10h0m9-1h0m17 4h0m6-10h0m3-6h0m3 9h0m1-7h0m4 16h0m19-21h0m1 3h0m29 14h0m1-14h0m39 16h0m3-13h0m2 1h0m7 12h0m7-16h0m1 14h0m5-15h0m24 16h0m24-4h0m2-9h0m9 0h0m13 14h0m6-13h0m3 7h0m4-8h0m0 2h0m6 12h0m17-17h0m-2 30h0m-3 14h0m-13 0h0m-4-5h0m-1-5h0m-20 1h0m-15-13h0m-1 22h0m-1-14h0m-26 12h0m-5-14h0m-6-3h0m-4 4h0m-4 15h0m-1-11h0m-5-10h0m-12 18h0m-5 3h0m0-12h0m-2 11h0m0-4h0m-2 5h0m0-21h0m-1 6h0m0-4h0m-1 13h0m-5-1h0m-1 6h0m-6 2h0m-8-5h0m-8-2h0m-2-8h0m-3-4h0m-5 3h0m-1-2h0m-11-2h0m-2 6h0m-25 7h0m-2-13h0m-31 4h0m-5 9h0m-9-14h0m-6 17h0m-9-12h0m-5 2h0m0-3h0m-3 7h0m-1 8h0m-6-7h0m-4 9h0m-18 13h0m19 5h0m23-7h0m0 7h0m14-3h0m7-2h0m9-6h0m2 12h0m10-8h0m21 9h0m3-17h0m5 9h0m2 0h0m18-6h0m6-3h0m2-1h0m7 2h0m0 10h0m3-8h0m2 10h0m17 2h0m9-13h0m1 0h0m3 11h0m1 5h0m9-10h0m10 1h0m8-10h0m21 8h0m10-4h0m18-5h0m1 7h0m1 6h0m3 4h0m9 1h0m10-11h0m8 11h0m7-4h0m2-5h0m3 1h0m2-6h0m2 10h0m1-9h0" stroke="#1f77b4" stroke-width="7.2" stroke-linecap="round" stroke-opacity="0.24" fill="none"/>
<path transform="scale(.25)" d="M1607 1436h0m6 6h0m-1 13h0m-4 7h0m-9-10h0m-2-4h0m-1-1h0m0 24h0m0 2h0m3 11h0m12 18h0m-5-13h0m-7 19h0m-1-1h0m-3-12h0m2 28h0m4 11h0m2-2h0m14 27h0m-15-12h0m-7 0h0m0 32h0m4-16h0m1 7h0m6 11h0m8 15h0m-10-11h0m0 0h0m-1 0h0m-3 19h0m0-1h0m-2-16h0m5 30h0m2 9h0m3-1h0m2-6h0m8 17h0m-15 8h0m-5 10h0m-1-19h0m0 43h0m9-22h0m6 38h0m-2 7h0m-5-1h0m-5-4h0m-3-5h0m-207 26h0m9 6h0m2-4h0m17 8h0m15-3h0m13-5h0m17 5h0m7-1h0m17-2h0m10 2h0m14 0h0m9 2h0m6 0h0m14-1h0m7 2h0m8-9h0m34 6h0m26-14h0m0 9h0m3 9h0m0 1h0m-1 7h0m-27-3h0m-6 8h0m-1-8h0m-1 3h0m-9 6h0m-5 7h0m-2-12h0m-17-7h0m-10 19h0m-2 1h0m-2-8h0m0-2h0m-24-9h0m-1 16h0m-5-18h0m-2 22h0m-1-7h0m-4 4h0m-12-6h0m-9 4h0m-8 1h0m-11 0h0m-6-2h0m-3 1h0m-2-10h0m-13-2h0m-6-3h0m-6-2h0m-14 10h0m0-8h0" stroke="#1f77b4" stroke-width="6.8" stroke-linecap="round" stroke-opacity="0.3" fill="none"/>
<path transform="scale(.25)" d="M1611 1431h0m4-2h0m3 1h0m-2 15h0m0-5h0m-7 18h0m-11-18h0m-2 6h0m4 23h0m3-4h0m5 5h0m2 4h0m0 8h0m-1 29h0m-1-23h0m-5 11h0m-6-7h0m6 25h0m0 7h0m8-2h0m6 30h0m-2-11h0m-6 8h0m-1 3h0m0-11h0m-1 15h0m-1-17h0m-7 10h0m-2 4h0m-1-8h0m5 23h0m0 1h0m13 3h0m4-2h0m-11 28h0m-6 6h0m-2 1h0m19 25h0m-7 5h0m-15 20h0m4 10h0m1-9h0m7 11h0m4-11h0m0 23h0m1 14h0m-4 8h0m-3-11h0m0-8h0m-6 3h0m-200 35h0m3 2h0m8-4h0m4 3h0m12 5h0m9-4h0m22-4h0m43 9h0m19-6h0m24-3h0m15 9h0m1-9h0m8 1h0m12 7h0m4 1h0m3-3h0m11-16h0m19 0h0m0 13h0m-7 25h0m-4 3h0m0-2h0m-1-2h0m-3-15h0m-1 5h0m-20 11h0m0-9h0m-7 10h0m-5-15h0m-10 15h0m-7-15h0m0 0h0m-14-1h0m-1 9h0m-8 1h0m-6 2h0m-4-5h0m-9-3h0m-11 5h0m-2-7h0m-2 1h0m-25 7h0m-3-5h0m-7 4h0m-1 4h0m-4 0h0m-15 2h0m-7-7h0m-2 0h0m-11 0h0m0-11h0m-1 19h0m-10 1h0m-1-5h0m-3 3h0m-9 1h0m-4 3h0m-7-1h0" stroke="#1f77b4" stroke-width="6.8" stroke-linecap="round" stroke-opacity="0.3" fill="none"/>
<path transform="scale(.25)" d="M1601 1437h0m13 1h0m-8 9h0m-3-2h0m-2 18h0m-5 9h0m0 13h0m3-9h0m0 8h0m17 20h0m-16 31h0m1-21h0m0 10h0m11 0h0m3-8h0m-7 23h0m-13 1h0m3 21h0m6 11h0m13 21h0m0-9h0m-3 11h0m-4 10h0m-7-10h0m-3-5h0m1 35h0m10 1h0m6 8h0m-6 12h0m-2 7h0m-1-11h0m-11 7h0m-2 29h0m5-16h0m10-4h0m2 6h0m5 10h0m0 19h0m-1 2h0m-4-13h0m-5 2h0m-4 4h0m-215 37h0m15 1h0m15-8h0m57 9h0m3-9h0m4 5h0m20 3h0m3-3h0m14-1h0m1 0h0m5-2h0m4 6h0m39-4h0m5 2h0m18-6h0m26 23h0m-1 4h0m-3-2h0m0-2h0m0-5h0m-8 10h0m-21-8h0m-9-1h0m-7 4h0m-7 7h0m-6-13h0m-10-2h0m-3 11h0m-1-12h0m-5 9h0m-25-13h0m-8 21h0m-4-1h0m-1-11h0m-1 3h0m-1-5h0m-2 14h0m-4-14h0m-12 10h0m-14-14h0m-1 10h0m-6 0h0m-3 3h0m-9 0h0m-3-4h0m-13 3h0m-4-10h0m-4 8h0m-14 9h0m-1-14h0m-17-4h0" stroke="#1f77b4" stroke-width="6.8" stroke-linecap="round" stroke-opacity="0.3" fill="none"/>
<line x1="322.1" y1="436.7" x2="403.7" y2="355.5" stroke="#1f77b4" stroke-width="1.8" stroke-opacity="0.75" stroke-linecap="round"/>
<path transform="scale(.25)" d="M1608 1433h0m-14 19h0m-3-5h0m-7 10h0m-20 16h0m4-3h0m-21 20h0m-6 7h0m-37 37h0m17-16h0m10-4h0m-24 24h0m-34 33h0m7-10h0m-37 37h0m-7 2h0m-6 9h0m-44 43h0m-20 18h0m17-7h0m-31 21h0m-26 29h0m-27 25h0" stroke="#1f77b4" stroke-width="6.8" stroke-linecap="round" stroke-opacity="0.35" fill="none"/>
<path transform="scale(.25)" d="M1615 1428h0m3-8h0m-20 22h0m-10 9h0m-10 9h0m-4 3h0m-37 37h0m7-7h0m10 0h0m-30 21h0m-40 42h0m3-6h0m7-4h0m3-1h0m3-9h0m-23 33h0m-7 0h0m-23 30h0m3-7h0m7-2h0m3-5h0m-34 27h0m-6 9h0m-10 7h0m-14 17h0m3 2h0m4-10h0m-34 31h0m-33 34h0m6-1h0m7-13h0m7-7h0m7-1h0m-31 25h0m-3 6h0m-17 12h0m-3 4h0" stroke="#1f77b4" stroke-width="6.8" stroke-linecap="round" stroke-opacity="0.35" fill="none"/>
<path transform="scale(.25)" d="M1611 1428h0m-6 16h0m-4-4h0m-20 17h0m-10 10h0m-10 27h0m-4-5h0m-6 1h0m-17 13h0m-7 8h0m-13 19h0m3-6h0m-7 14h0m-20 11h0m-23 22h0m-4 14h0m-10 2h0m-13 13h0m-34 31h0m7-6h0m3-3h0m7-8h0m10-6h0m-40 42h0m-34 27h0m14-10h0m3-3h0m3-6h0m10-1h0m-43 41h0m-7 5h0m-24 21h0m4-2h0m3-9h0m-17 26h0m-3-4h0m-7 10h0m-3 3h0m-7 2h0m4 3h0" stroke="#1f77b4" stroke-width="6.8" stroke-linecap="round" stroke-opacity="0.35" fill="none"/>
<linearGradient id="gf1" x1="0" y1="1" x2="0" y2="0"><stop offset="0" stop-color="#ff7f0e" stop-opacity="0.8"/><stop offset="1" stop-color="#ff7f0e" stop-opacity="0.0"/></linearGradient>
<rect x="404.5" y="396.1" width="12.5" height="41.4" fill="url(#gf1)"/>
<path transform="scale(.25)" d="M1629 1437h0m0 1h0m2-2h0m5 0h0m4-11h0m7-1h0m5 3h0m5-3h0m1-4h0m0 23h0m-2 1h0m-11 4h0m-1 9h0m-7 3h0m-13-4h0m19 8h0m13 4h0m2 2h0m10 31h0m-15-3h0m-4-1h0m-2-1h0m-1 3h0m-5 11h0m-9-19h0m0-1h0m-12 44h0m9-7h0m1-9h0m12-6h0m0 7h0m1 7h0m3 5h0m4-9h0m3-7h0m0 7h0m7-4h0m5 9h0m2-3h0m0 16h0m-3 16h0m-6 2h0m0-12h0m0-8h0m-4 9h0m-1 6h0m-1-7h0m-4 5h0m-9 0h0m-14-7h0m0-5h0m-5 44h0m1-19h0m4 15h0m1 2h0m10 0h0m3-17h0m5 2h0m0 6h0m14 9h0m7-6h0m3 25h0m-9-13h0m-1 11h0m-2 3h0m-2-14h0m-18 7h0m-6 11h0m-4-13h0m-5 5h0m0 29h0m5-18h0m1 19h0m9-13h0m30 11h0m-1 29h0m-25-21h0m-1 0h0m0-1h0m-2 10h0m-1-5h0m-1 10h0m-2-14h0m-7 22h0m-1-20h0m-1 13h0m-6 4h0m14 6h0m1 11h0m5-10h0m1 4h0m0 16h0m4-8h0m2-11h0m4 14h0m5-15h0m1 20h0m7-14h0m3-4h0m1 15h0m0 1h0m0 23h0m0-14h0m-2 15h0m-4-20h0m-3 22h0m-1-22h0m-3-1h0m-1 20h0m0-4h0m-1-9h0m-4 1h0m-3-8h0m-3 3h0m-5 9h0m-4 1h0m-3-1h0m0-11h0m-2-1h0m-1 13h0m-3 0h0m2 28h0m7-16h0m2 0h0m3 6h0m2 8h0m1-4h0m5 1h0m2-1h0m0 8h0m6-16h0m1 11h0m1 7h0m5-14h0m1-7h0m5 42h0m-2-9h0m-1 12h0m0-13h0m-2 13h0m0-3h0m-2-4h0m-1 4h0m-1 4h0m0 0h0m-5-8h0m0-4h0m-3 2h0m-1 7h0m-6 1h0m0-1h0m0-19h0m-5 1h0m-6 4h0m-2 9h0m-3 6h0m-3 1h0m0-13h0" stroke="#ff7f0e" stroke-width="7.2" stroke-linecap="round" stroke-opacity="0.32" fill="none"/>
<path transform="scale(.25)" d="M1626 1425h0m12 11h0m27 11h0m-1-5h0m-4 0h0m-2 10h0m-2-4h0m-14 5h0m-11 1h0m-1 30h0m1-16h0m7 7h0m3-8h0m11 9h0m0 11h0m7-21h0m3 1h0m1 18h0m-1 25h0m-6 1h0m-5-7h0m-16-8h0m-4 6h0m-9-7h0m-1-5h0m3 24h0m18 16h0m1 2h0m9-9h0m2 3h0m4-7h0m0 3h0m8 6h0m0 2h0m-3 18h0m-13-5h0m-2-2h0m-3 15h0m-16-9h0m0 13h0m11 2h0m0 16h0m3-16h0m7 0h0m3 0h0m5 18h0m5-17h0m5 29h0m0-3h0m-5 5h0m-4-8h0m-4 17h0m-3-2h0m-4-8h0m-2 13h0m-5-18h0m-1 18h0m-8-2h0m-5-7h0m-4 24h0m1-12h0m13 2h0m0 18h0m11-20h0m1 3h0m6 10h0m1-7h0m2 6h0m8 30h0m-2 2h0m-5 0h0m-7 0h0m0-7h0m-7-6h0m-4 7h0m-1 6h0m-4-14h0m0-5h0m-3 18h0m-3-16h0m-4 15h0m-2 4h0m-1-15h0m-2 29h0m1 6h0m6-15h0m4 4h0m0 8h0m15 7h0m2-14h0m2-4h0m2 7h0m1 7h0m1-7h0m2-9h0m5 1h0m0 26h0m-4-2h0m-25 9h0m-3-5h0m-2-6h0m-5-1h0m-1 2h0m-2 15h0m0-14h0m-1 8h0m-1 13h0m0 21h0m1 0h0m7-19h0m0 17h0m4-3h0m1 5h0m2-7h0m4-4h0m4-5h0m7 17h0m2-13h0m1 1h0m2 1h0m0 8h0m5-3h0m0 3h0m2-2h0m1-2h0m4-3h0m3-13h0m-1 27h0m-1 8h0m0-3h0m-4-2h0m-2 5h0m0-4h0m-9 11h0m-2 2h0m-1-9h0m-2-8h0m-7 7h0m-2-7h0m-1-3h0m-2 6h0m-4 0h0m-1 0h0m-1 9h0m0-12h0m-3 16h0" stroke="#ff7f0e" stroke-width="7.2" stroke-linecap="round" stroke-opacity="0.32" fill="none"/>
<path transform="scale(.25)" d="M1640 1420h0m11 0h0m9 1h0m3 11h0m1-10h0m0 33h0m-20 3h0m-6 3h0m-1-21h0m-4 17h0m-5 5h0m0-6h0m-2 0h0m-5 7h0m0-9h0m-2 1h0m4 12h0m10 12h0m8 1h0m1-1h0m9 2h0m1-5h0m3-7h0m5 17h0m4-7h0m1 7h0m-12 7h0m-1 1h0m-3-1h0m-4 18h0m-16-10h0m-5-1h0m-5 2h0m1 19h0m12 12h0m7 0h0m1-13h0m4 5h0m1 0h0m3-5h0m2 0h0m0 4h0m4 9h0m5-14h0m0 6h0m1-7h0m7 34h0m-5 4h0m-13-11h0m-6 11h0m0-11h0m-9-7h0m-4 0h0m-1 14h0m-6 1h0m-4 13h0m15 6h0m3 11h0m2-16h0m1-5h0m10 12h0m1-3h0m6-8h0m0 8h0m10 11h0m-6 19h0m-6 5h0m-1-21h0m-6 9h0m-2 1h0m-11 6h0m-3 4h0m-1 2h0m-1-18h0m-1 17h0m0-21h0m-9 44h0m1-8h0m1-6h0m1 4h0m3-11h0m5 3h0m4 6h0m3 6h0m13-15h0m3 15h0m10 4h0m2 24h0m-1-18h0m0-1h0m-4 19h0m-4-17h0m-7 8h0m-9 6h0m0 0h0m-4 1h0m-6-9h0m-1 10h0m-1-9h0m-2 2h0m-1 7h0m-5-10h0m-1 3h0m0-7h0m-1 17h0m-1 15h0m10-6h0m0 8h0m0 3h0m1-12h0m5 7h0m5-12h0m0 11h0m1 11h0m1-6h0m2-10h0m1 17h0m2-9h0m5 6h0m4-12h0m0 3h0m8-10h0m0 4h0m5 7h0m-1 34h0m0-12h0m-4-2h0m-2 5h0m0-13h0m-2 21h0m0-5h0m-8-15h0m-4 1h0m-7 20h0m-1-11h0m-1 12h0m-3-16h0m-4 1h0m-1 14h0m-3 1h0m-3-18h0m-1 13h0m-5 14h0m3 7h0m3 4h0m6-19h0m0 0h0m4 16h0m1-2h0m4 2h0m3-3h0m0 4h0m3 0h0m1 1h0m3 2h0m1-10h0m2 1h0m0 1h0m2-11h0m6-1h0m5 13h0m-1 14h0m-4 15h0m-5 4h0m0-11h0m-2 6h0m-8-9h0m0-2h0m-1 5h0m-6 9h0m-2-18h0m-6 1h0m-1 18h0m-1-10h0m-1-8h0m-4 17h0m-3-20h0" stroke="#ff7f0e" stroke-width="7.2" stroke-linecap="round" stroke-opacity="0.32" fill="none"/>
<path transform="scale(.25)" d="M1621 1429h0m12-6h0m8 10h0m1-12h0m6 11h0m1-5h0m5 33h0m-7-19h0m-1 17h0m-11-18h0m-1 10h0m-6 3h0m-7 32h0m5 0h0m2 1h0m1-6h0m4-14h0m11 10h0m16-4h0m1 11h0m1 0h0m1 1h0m-8 7h0m-6 13h0m-2 7h0m-4-16h0m-4 14h0m0-16h0m-2 18h0m-4-9h0m-3 2h0m-4 5h0m-5-14h0m0 17h0m1 1h0m3 18h0m2-17h0m0 12h0m1 5h0m12 1h0m4-9h0m4-11h0m17 13h0m0 1h0m1 11h0m-1 12h0m-7 1h0m0-2h0m-2 10h0m-8-10h0m-1 11h0m-4 0h0m-1-15h0m-1-1h0m-7-6h0m-2 10h0m-4-5h0m-4 9h0m-2-12h0m-2 38h0m2-3h0m15 0h0m15-10h0m2 16h0m1 3h0m8-4h0m3 5h0m-3 10h0m-4-7h0m-2 12h0m-1-15h0m-3 19h0m-1-18h0m-2 3h0m-2 6h0m-12 6h0m-1-8h0m-4 14h0m-7-8h0m-5 27h0m2-9h0m3-1h0m7 8h0m3 8h0m9-4h0m3-1h0m14-13h0m1 6h0m3-5h0m4 17h0m-1 15h0m-8-9h0m-2 5h0m-8 3h0m-6 6h0m-3-13h0m-2-1h0m0 0h0m-2 18h0m0-8h0m-3 6h0m-4-6h0m-11 4h0m3 20h0m4-8h0m3-2h0m1 15h0m3-17h0m1 4h0m12 16h0m5-21h0m3 3h0m1 8h0m0 4h0m4 2h0m4-16h0m2 34h0m-9-2h0m-1-10h0m-3 1h0m-5 20h0m0-12h0m-4 9h0m-5 1h0m0-2h0m-2-2h0m0-3h0m-1 9h0m-6-18h0m-3 19h0m0-2h0m0-8h0m-6 25h0m5-14h0m1 15h0m5-6h0m2-6h0m2 2h0m0 3h0m5 4h0m7-8h0m4 13h0m2 1h0m3-5h0m5-3h0m5-5h0m2 40h0m-5-20h0m-3 19h0m-4-4h0m-1-14h0m-2 20h0m0-4h0m0-9h0m-2-6h0m-4 9h0m-1 5h0m-1-1h0m-1-9h0m-1 5h0m-1 4h0m-3-6h0m-2 7h0m0-14h0m-2 10h0m-1-1h0m-3-2h0m-7 11h0m0-20h0m-3 13h0" stroke="#ff7f0e" stroke-width="7.2" stroke-linecap="round" stroke-opacity="0.32" fill="none"/>
<path transform="scale(.25)" d="M1622 1425h0m6 12h0m6-18h0m1 10h0m4 3h0m0 1h0m23-10h0m4 21h0m-3 2h0m-10 17h0m-1-17h0m-5 9h0m-11-9h0m-2 11h0m-9-1h0m-4 15h0m1-4h0m1 2h0m5 14h0m3-10h0m2 7h0m7-6h0m0 10h0m1-17h0m16 23h0m-4 9h0m-6-3h0m-14 12h0m-12-16h0m-1 14h0m-1 6h0m5 2h0m1 6h0m2 11h0m6-5h0m3 2h0m3-13h0m26 3h0m0 0h0m0 32h0m-19 8h0m-10-14h0m-4 12h0m-2-11h0m-1 4h0m-2 9h0m-2 0h0m-2-20h0m0-2h0m-4 1h0m0 25h0m0 9h0m4-3h0m4 10h0m2-17h0m2 5h0m2 11h0m1-9h0m0 0h0m4-1h0m15-2h0m11 24h0m-1 10h0m-3-3h0m-4 1h0m-6 10h0m-9-20h0m-7-2h0m-1 22h0m0-20h0m-4 10h0m0-4h0m-9 9h0m-2 0h0m2 21h0m1 5h0m5-13h0m0 3h0m11-1h0m0 6h0m0 1h0m3 5h0m2-14h0m3-3h0m1 8h0m10-3h0m0 10h0m1-4h0m1-9h0m9 37h0m-10-10h0m-9 14h0m-1 0h0m-6-6h0m0-6h0m-8-7h0m-4 11h0m-1 1h0m-1-11h0m-3 18h0m0-6h0m-2-9h0m-1-1h0m-1 9h0m5 17h0m2 9h0m1-6h0m2-9h0m3 15h0m5-3h0m5 7h0m3-15h0m6 2h0m2 9h0m0 4h0m2-20h0m1 5h0m6-2h0m0 12h0m3 6h0m1-5h0m0 13h0m-1 6h0m-2-6h0m-5 9h0m-5-1h0m-1-4h0m-4 4h0m-1-5h0m-2 8h0m0-5h0m0-7h0m0-1h0m0-3h0m-4 11h0m-1-3h0m-2 13h0m0-23h0m-10 8h0m-1 15h0m0-5h0m-1-9h0m-8-5h0m6 32h0m3 3h0m2-2h0m4 7h0m3-1h0m1-11h0m1-8h0m4 15h0m0 6h0m3-12h0m0 14h0m3-22h0m1 22h0m1-1h0m2-15h0m3-6h0m0 9h0m3-5h0m3-3h0m1 9h0m3-6h0m2-3h0m-1 22h0m-2 20h0m-7-13h0m-1 12h0m-6-18h0m-4 20h0m0-8h0m0-4h0m-1 2h0m-5-11h0m-1 1h0m-2 13h0m-2-2h0m-5 2h0m-2-8h0m-1-1h0m-2 13h0m-1-13h0m-1 3h0m-2-1h0m-1-3h0m-2-1h0" stroke="#ff7f0e" stroke-width="7.2" stroke-linecap="round" stroke-opacity="0.32" fill="none"/>
<path transform="scale(.25)" d="M1633 1433h0m6-1h0m4-11h0m13 9h0m4-5h0m6 5h0m-9 28h0m-2-5h0m-4-5h0m-9 13h0m-2-8h0m-1 6h0m0-8h0m-7 8h0m-11-1h0m-2 20h0m6 6h0m1 1h0m13 0h0m25 1h0m3 6h0m-3 16h0m-4-2h0m-4-8h0m-13 0h0m-3-2h0m-2-3h0m-3 12h0m-4 5h0m0-15h0m-9 1h0m9 30h0m1-5h0m0 3h0m2-7h0m1-5h0m1 16h0m2 6h0m2-17h0m1-3h0m1 13h0m3-14h0m0 14h0m5 4h0m15 1h0m-7 14h0m-1 7h0m-2-1h0m0-3h0m-3-1h0m-13-11h0m-1 13h0m-3-6h0m-7-2h0m-8 4h0m7 15h0m1 4h0m18 3h0m5-1h0m1 10h0m6-9h0m2 4h0m4 10h0m3-18h0m0 3h0m-11 33h0m-14 6h0m-9-3h0m-5-4h0m-7 6h0m0 0h0m-2-2h0m-1-12h0m5 25h0m1 14h0m6-4h0m3-5h0m6-6h0m1 12h0m5-18h0m2 2h0m1 2h0m3 4h0m0 7h0m9-5h0m1-10h0m2 20h0m1 2h0m2-14h0m0 32h0m-2-2h0m-4-13h0m-13 14h0m-5 6h0m-7-22h0m-1 20h0m-3-4h0m-2 6h0m-2 0h0m-1 10h0m0 12h0m0 1h0m8-6h0m3-11h0m1-3h0m3 18h0m8 0h0m1-11h0m2 15h0m1-11h0m2-8h0m1 1h0m3 9h0m2-3h0m1 4h0m6-11h0m-6 43h0m-2-6h0m-1-13h0m-6 1h0m-2 12h0m-6-11h0m-1 8h0m-11-7h0m0-1h0m-1-2h0m-6 15h0m0-10h0m-4-6h0m-2 11h0m1 33h0m3-17h0m0 1h0m2 16h0m1-6h0m5-5h0m2 11h0m7-10h0m1-1h0m1 4h0m4 5h0m1-3h0m5-6h0m3-1h0m1-11h0m2 5h0m0 8h0m0 8h0m2-19h0m2 3h0m5 25h0m-1-5h0m-5 2h0m-1 11h0m-5-11h0m-5-3h0m-7 21h0m-12 0h0m-4-4h0m-1 1h0m-3-3h0m-1 2h0" stroke="#ff7f0e" stroke-width="7.2" stroke-linecap="round" stroke-opacity="0.32" fill="none"/>
<path d="M404.5 354.7L417.0 342.3L417.0 354.7Z" fill="#2ca02c" fill-opacity="0.35"/>
<path transform="scale(.25)" d="M1654 1385h0m6 0h0m2 4h0m0 1h0m0 0h0m1-8h0m0 7h0m4-19h0m0 28h0m-1-5h0m-2 19h0m0-3h0m-4-13h0m-2 5h0m-2 14h0m0-8h0m-2 8h0m0-23h0m-4 22h0m0-21h0m-4 2h0m-1 17h0m0-5h0m-1-2h0m0-3h0m-6 7h0m-10 5h0m-1 3h0m3 0h0m5 1h0m2-1h0m16-1h0m10 1h0m2-1h0" stroke="#2ca02c" stroke-width="6.8" stroke-linecap="round" stroke-opacity="0.4" fill="none"/>
<path transform="scale(.25)" d="M1655 1387h0m1-1h0m6-9h0m3 31h0m-10-5h0m-6-3h0m-2 1h0m-1 8h0m-3-4h0m-2 7h0m-1-13h0m-4 9h0m-7 3h0m-5 3h0m-4 5h0m14-1h0" stroke="#2ca02c" stroke-width="6.8" stroke-linecap="round" stroke-opacity="0.4" fill="none"/>
<line x1="404.5" y1="354.7" x2="417.0" y2="342.3" stroke="#2ca02c" stroke-width="1.6" stroke-opacity="0.9" stroke-linecap="round"/>
<path d="M437.3 437.5L521.5 354.7L521.5 437.5Z" fill="#86b4da" fill-opacity="1.0"/>
<path d="M444.9 437.5L521.5 362.2L521.5 437.5Z" fill="#ffffff" fill-opacity="0.1"/>
<linearGradient id="gf2" gradientUnits="userSpaceOnUse" x1="0" y1="437.5" x2="0" y2="392.0"><stop offset="0" stop-color="#ffffff" stop-opacity="0.25"/><stop offset="1" stop-color="#ffffff" stop-opacity="0.0"/></linearGradient>
<path d="M444.0 437.5L521.5 361.3L521.5 437.5Z" fill="url(#gf2)"/>
<path transform="scale(.25)" d="M1921 1641h0m9 14h0m4-10h0m3 4h0m2 0h0m22-6h0m9-8h0m4 12h0m3-8h0m2-5h0m17 4h0m3 1h0m2 3h0m15 0h0m5-2h0m15-5h0m34 10h0m7-10h0m3 42h0m-25-13h0m-5 10h0m-3-4h0m-18 1h0m-1 5h0m-3-8h0m-7 1h0m-3 9h0m-3-12h0m-1-1h0m-11 7h0m-1-7h0m-5 3h0m-1-4h0m-5 7h0m-40-6h0m-2-5h0m-35 10h0m-10 5h0m-5-6h0m-5 3h0m0-5h0m-5-6h0m0-3h0m-4 8h0m-5-5h0m-30 40h0m10-12h0m8-9h0m10 0h0m6 15h0m8 8h0m6-8h0m2-13h0m5 20h0m1-11h0m1 0h0m29 12h0m9-7h0m4-14h0m5 20h0m4-20h0m23 2h0m9-2h0m30 8h0m6-7h0m5 11h0m2-12h0m9 5h0m0 3h0m5-10h0m16 16h0m1-12h0m4-1h0m5-2h0m2 8h0m-14 25h0m0-1h0m-3-1h0m-19-4h0m-13 3h0m-36-4h0m-7 8h0m-1-10h0m-17 10h0m-28-4h0m-22 1h0m-33 0h0m-42 1h0" stroke="#ffffff" stroke-width="8" stroke-linecap="round" stroke-opacity="0.3" fill="none"/>
<path transform="scale(.25)" d="M1897 1640h0m2 10h0m1-10h0m7 13h0m15-18h0m17 16h0m9-14h0m5 5h0m11 3h0m12 8h0m5-16h0m36 0h0m10 0h0m24 17h0m5-14h0m9 0h0m1 14h0m12-11h0m3 27h0m-1-14h0m-1 7h0m-3-6h0m-13 21h0m-1-19h0m-17 12h0m-8 3h0m-3-5h0m-9-13h0m-2 21h0m-18-18h0m-3 0h0m-39 15h0m-15-2h0m-5 3h0m-6-12h0m-22-6h0m-9 15h0m-67 31h0m10-5h0m5 3h0m25-3h0m3 5h0m24-3h0m1-17h0m12 2h0m2 18h0m3-9h0m2 4h0m10-17h0m5 20h0m8-13h0m7-4h0m6 2h0m8 10h0m7-8h0m11-4h0m11 19h0m6-18h0m7 16h0m8-2h0m14-8h0m21 0h0m15 2h0m7-6h0m7 7h0m2-11h0m-2 25h0m-13 1h0m-4-4h0m-28 6h0m-5-6h0m-3-1h0m-1 9h0m-6-2h0m-7 6h0m-21-9h0m-15 9h0m-4 0h0m-2-1h0m-61-10h0m-13 4h0m-9-6h0m-4 12h0m-23-7h0m-5 0h0m-31 2h0" stroke="#ffffff" stroke-width="8" stroke-linecap="round" stroke-opacity="0.3" fill="none"/>
<path transform="scale(.25)" d="M1888 1648h0m6-5h0m8 12h0m14-8h0m3-9h0m14 6h0m1-8h0m2 17h0m27-6h0m0 4h0m13 1h0m10-13h0m13 16h0m1-10h0m1 1h0m19-2h0m6 9h0m9-14h0m17-2h0m6-2h0m20 20h0m3 8h0m-5-7h0m-20 12h0m-16-11h0m-32 9h0m-4-3h0m-10 6h0m-2-6h0m-9 0h0m-20 15h0m-23-12h0m-2-9h0m-2 18h0m-4-18h0m-16 3h0m-3 11h0m-2-6h0m-46 35h0m36-10h0m3 3h0m4-8h0m1 6h0m11 8h0m9-3h0m11-1h0m8-3h0m5 9h0m11 2h0m5-3h0m10-19h0m9-1h0m3 14h0m21-9h0m0 16h0m18-4h0m22-14h0m8 4h0m4 4h0m9 5h0m5-15h0m0 9h0m-29 17h0m-1 2h0m-6-1h0m-24 0h0m-3 8h0m-2-9h0m-1 6h0m-32-4h0m-51 2h0m-10 4h0m-10 2h0m0-3h0m-17-3h0m-7-4h0m-7 0h0m-16-1h0m-4 0h0m-9-1h0m-6 6h0m-9 2h0" stroke="#ffffff" stroke-width="8" stroke-linecap="round" stroke-opacity="0.3" fill="none"/>
<path transform="scale(.25)" d="M1902 1634h0m2 6h0m10 8h0m36-3h0m9-1h0m2 10h0m6 0h0m2-16h0m17 7h0m3 5h0m27-6h0m1 4h0m3-2h0m0 8h0m10 0h0m2-1h0m11-9h0m19-7h0m1 18h0m10-10h0m0 22h0m-2 6h0m-3-15h0m-3 19h0m-7-14h0m-6 14h0m0-11h0m-5 12h0m-19-14h0m-1 14h0m-1-15h0m-11 5h0m-5 6h0m-4-14h0m-1 2h0m-5-3h0m-4 11h0m-22-14h0m-11 22h0m-1-1h0m-36-18h0m-6 7h0m-3-4h0m-1 4h0m-7 10h0m-6-5h0m-2 5h0m-9-3h0m-3-4h0m-12-1h0m-23 25h0m12 0h0m3 9h0m17 0h0m6-11h0m3 5h0m20-8h0m1 7h0m6 0h0m4-15h0m0 19h0m11-19h0m0 3h0m1 8h0m18-8h0m0 11h0m16 1h0m26 4h0m1-17h0m5 2h0m8 11h0m1 1h0m4-8h0m5-6h0m4 15h0m32 0h0m14-13h0m3-1h0m6 15h0m-8 14h0m-21 5h0m-1-5h0m-2-4h0m-39 0h0m-36 3h0m-2 2h0m-10 3h0m-14-6h0m-21 3h0m-10 3h0m-4-11h0m-29 9h0m-42-5h0m-18 7h0" stroke="#ffffff" stroke-width="8" stroke-linecap="round" stroke-opacity="0.3" fill="none"/>
<path transform="scale(.25)" d="M2085 1453h0m-18 26h0m-12 0h0m-7 8h0m25 15h0m3-5h0m4 14h0m1-3h0m3-1h0m0 14h0m-2-7h0m-9 17h0m-18-14h0m-22-4h0m-5 10h0m-3 11h0m-28 20h0m13-14h0m0 17h0m0 2h0m1-16h0m9 4h0m7 7h0m20-11h0m10 14h0m24 20h0m-25-17h0m-2 22h0m-1-8h0m-2-4h0m0-10h0m-5 11h0m-13 3h0m-20 6h0m-9-9h0m0-4h0m-28 6h0m-2-3h0m-11-3h0m-18 30h0m7-13h0m11 12h0m14-11h0m10 10h0m6 1h0m25-5h0m20 11h0m26-14h0m5 13h0m5-10h0m6-3h0m2 8h0m-8 18h0m-14-1h0m-12 13h0m-3-14h0m-17 8h0m-19-3h0m-26 1h0m-13 13h0m-19-16h0m-12 1h0m-11 1h0m-4 13h0m-46 25h0m4-1h0m25-3h0m7-10h0m46 6h0m1-1h0m8-14h0m29 14h0m5-13h0m18 22h0m23-10h0m1-11h0m31 15h0m8 30h0m-45-5h0m-4-9h0m-23 3h0m-9-7h0m-1 1h0m-35 13h0m-6-15h0m-8 11h0m-10-4h0m-1 4h0m-28-9h0m-30 13h0m-37 27h0m34-17h0m19 3h0m13 5h0m12-8h0m20 7h0m8 1h0m9-1h0m15-7h0m3 2h0m5 9h0m10-9h0m1-4h0m16 6h0m8-6h0m7-3h0m0 13h0m38 1h0m16-12h0m-3 24h0m-24 10h0m-6-10h0m-11 13h0m-42-5h0m-8 9h0m-9 2h0m-6-3h0m-21-13h0m-24 5h0m-42-7h0m-5-2h0m-30 8h0m-8-4h0m-52 34h0m45-13h0m4 7h0m5 13h0m17-10h0m6 8h0m32-5h0m4-9h0m38 4h0m2-9h0m1 5h0m12-6h0m10 20h0m3-14h0m6 14h0m16-19h0m0 4h0m45 8h0m26 2h0m7 3h0m2-16h0" stroke="#ffffff" stroke-width="6.8" stroke-linecap="round" stroke-opacity="0.22" fill="none"/>
<path transform="scale(.25)" d="M2084 1448h0m1 36h0m-1-12h0m-8 12h0m-8 3h0m-21 11h0m3-3h0m1 0h0m31 39h0m-11-5h0m-16-16h0m-9 16h0m-1 6h0m-4-9h0m-15 2h0m-4-16h0m-42 38h0m48-7h0m4-6h0m35 16h0m6-17h0m2 0h0m10 37h0m-20 4h0m-10-2h0m-18-13h0m-12 3h0m-13 11h0m-1 0h0m-28 2h0m-8 0h0m-10 1h0m-6-4h0m0 29h0m3-4h0m5-3h0m8-1h0m0 8h0m28-10h0m7 4h0m4-1h0m5 4h0m25-8h0m37 36h0m-4-19h0m-8 1h0m-30-1h0m-3 18h0m-12-5h0m-24 2h0m-11 0h0m-1-7h0m-1 9h0m-37-4h0m-17-10h0m-6 8h0m-5 7h0m-26 6h0m24 9h0m11 8h0m0 2h0m35-8h0m10-5h0m9-6h0m18 20h0m5-8h0m24-4h0m40 29h0m-11 0h0m0-7h0m-11-7h0m-10 17h0m0-16h0m0 0h0m-17 10h0m-4 0h0m-6 0h0m-9-5h0m-7 12h0m-12-11h0m-19 0h0m-24-6h0m-2 12h0m-14-1h0m-17-10h0m-31 5h0m-19 35h0m8 2h0m46-10h0m14 7h0m20-3h0m14 1h0m3-10h0m18 9h0m64-6h0m36 17h0m-31 17h0m-17-9h0m-65 0h0m-1 13h0m-26-5h0m-2-4h0m-36 1h0m-5-15h0m-18 7h0m-17 8h0m-1-1h0m-1 5h0m-8-6h0m-15-12h0m-8-1h0m-8 9h0m-34 35h0m24-2h0m12-1h0m5-6h0m13-6h0m6 2h0m5 7h0m1-8h0m25 5h0m7-5h0m4 15h0m15-20h0m1 21h0m16-21h0m25 1h0m27 16h0m47-4h0m7-2h0m47-7h0" stroke="#ffffff" stroke-width="6.8" stroke-linecap="round" stroke-opacity="0.22" fill="none"/>
<path transform="scale(.25)" d="M2063 1469h0m22 7h0m-13 26h0m-19-7h0m-11-3h0m-8 9h0m-42 58h0m21-15h0m14-4h0m3-4h0m11 6h0m15-4h0m13 13h0m11 24h0m-32-6h0m-2 11h0m0-16h0m-5 10h0m-2-10h0m-46 15h0m-21-9h0m-2-2h0m-8 33h0m29-10h0m13 3h0m4-2h0m4 14h0m1-2h0m14-8h0m58 6h0m-15 18h0m-19 11h0m-14-7h0m-13 5h0m0-5h0m-1-10h0m-3 13h0m-9-3h0m-3-5h0m-34 2h0m-27 6h0m-64 26h0m17-8h0m6-4h0m21 2h0m12 3h0m6-7h0m10 10h0m12-12h0m10 14h0m12-7h0m3-12h0m23 20h0m4-2h0m3-17h0m32 4h0m23 2h0m9 33h0m-10 7h0m-4-13h0m-6 2h0m-17-1h0m-104 4h0m-8 6h0m-6-16h0m-13 10h0m-22-5h0m-29 1h0m-7 15h0m29-1h0m5 16h0m7-11h0m23 12h0m4 4h0m5 1h0m2-1h0m9-9h0m2-10h0m17 20h0m5-5h0m1 3h0m6-8h0m33-1h0m16 11h0m29-9h0m3-1h0m8-9h0m16 10h0m4-7h0m-10 30h0m-8 8h0m-16-15h0m-31-2h0m-8 8h0m-15-4h0m-9 11h0m-2-16h0m-36 9h0m-39-11h0m-3 9h0m-4-4h0m-13-5h0m-6 15h0m-21-4h0m-17 0h0m-12-11h0m-46 43h0m3 1h0m1-13h0m9 2h0m22 6h0m38 6h0m14-2h0m22-15h0m8 3h0m8 10h0m8-6h0m28 3h0m10-4h0m23 5h0m22-16h0m46 11h0m4 6h0" stroke="#ffffff" stroke-width="6.8" stroke-linecap="round" stroke-opacity="0.22" fill="none"/>
<path transform="scale(.25)" d="M2048 1483h0m11-1h0m6-3h0m7-14h0m7 41h0m-8-2h0m-11-14h0m-2-1h0m-8 2h0m-14 20h0m-34 23h0m26-17h0m27 6h0m4 10h0m23 1h0m-4 3h0m-2 15h0m-20 3h0m-1 3h0m-2-14h0m-16-1h0m-15 12h0m-6-14h0m-12-4h0m-29 20h0m-19 23h0m2-5h0m1 2h0m3 0h0m28 2h0m6-14h0m1 18h0m1-6h0m28-3h0m9 9h0m1-20h0m7 7h0m13 13h0m5-16h0m0 5h0m18 6h0m4 20h0m-2 8h0m-4-10h0m-24-3h0m-8 7h0m-15-4h0m-7 9h0m-9-8h0m-4 3h0m-3-10h0m-54-5h0m-36 33h0m5-3h0m5-4h0m20 20h0m25-12h0m9-2h0m7 3h0m25 2h0m4 5h0m27-3h0m17 3h0m7-18h0m4 11h0m3 5h0m-1 11h0m-3 9h0m0-6h0m-11 3h0m-2-8h0m-10 17h0m-2 1h0m-1-13h0m-15-5h0m-4 21h0m-14-14h0m-1 11h0m-60-3h0m-11-1h0m-18-13h0m-1 1h0m-19 16h0m-9-3h0m-18 15h0m2 14h0m21-20h0m26 21h0m4-19h0m10-4h0m12 17h0m55 4h0m4-20h0m16-1h0m12 8h0m0 4h0m13-6h0m31 9h0m-5 13h0m-29 4h0m-24 5h0m-4 3h0m-24 5h0m-1-19h0m-18-1h0m-4 13h0m-2-2h0m-1-5h0m-7 1h0m-4 12h0m-6-14h0m-2 14h0m-12 2h0m-24 0h0m-69-2h0m-3 0h0m-29 25h0m1-8h0m2-4h0m42-6h0m7 0h0m21-3h0m2 8h0m5-7h0m6 5h0m1-2h0m7 12h0m6-4h0m13 2h0m33-10h0m47 15h0m30-3h0m20 0h0m18 20h0m-37-4h0m-9 13h0m-7-17h0m-8-3h0m-4 17h0m-8-13h0m-19 10h0m-8-5h0m-21 7h0m-3-16h0m-10 7h0m-35-6h0m-2 6h0m-23 3h0m-10 1h0m-13 7h0m-16-16h0m-12-2h0" stroke="#ffffff" stroke-width="6.8" stroke-linecap="round" stroke-opacity="0.22" fill="none"/>
<path transform="scale(.25)" d="M2061 1487h0m20 12h0m-3-1h0m-6 13h0m0-18h0m-11-1h0m-18 0h0m-34 36h0m4-2h0m34 1h0m13-11h0m3 7h0m7 11h0m10 25h0m-11-3h0m-43-16h0m-8 18h0m-24-8h0m-3 3h0m-21 7h0m10 9h0m14-4h0m5 3h0m7-2h0m10 10h0m2 6h0m12-18h0m3 10h0m23-12h0m23 19h0m7-8h0m-25 22h0m-41-11h0m-4 18h0m-8-4h0m-12 4h0m-7-16h0m-21 13h0m-10-1h0m-3 1h0m-8 6h0m-8-2h0m-2-4h0m-9 28h0m4-10h0m6-9h0m14 3h0m3-3h0m21 20h0m7-8h0m22 8h0m1-11h0m1 0h0m13-5h0m7 0h0m25 2h0m10 14h0m15-20h0m-1 41h0m-10-8h0m0-1h0m-5-3h0m-2 13h0m-2-11h0m-77 16h0m-52-14h0m-19 14h0m-15-18h0m-40 38h0m70-8h0m3 0h0m4 10h0m4-19h0m1 8h0m31 10h0m12-18h0m19 19h0m11 0h0m14-11h0m41 1h0m13 2h0m-12 27h0m-14-12h0m-13 19h0m-30-14h0m-12 0h0m-10 6h0m-23 4h0m-24-8h0m-31 7h0m-32-13h0m-6 1h0m-1 10h0m-12-4h0m-11 20h0m4-4h0m20-3h0m3 10h0m8-6h0m1 14h0m14-19h0m14 23h0m17-12h0m1-8h0m52 16h0m49-10h0m6 11h0m6-7h0m10 9h0m8 5h0m-39 15h0m-45-12h0m-2 6h0m-10 2h0m-4-4h0m-17 7h0m0-12h0m-8-4h0m-25 7h0m-4 7h0m-6-1h0m-5-11h0m-4 1h0m-58 6h0m-1 9h0m-10-10h0m-1 13h0m-5-18h0m-3 15h0m-6-2h0m-3 4h0m-2-20h0m-2 19h0m-9-3h0" stroke="#ffffff" stroke-width="6.8" stroke-linecap="round" stroke-opacity="0.22" fill="none"/>
<path transform="scale(.25)" d="M2055 1478h0m28-8h0m-3 26h0m-8-7h0m-28 18h0m-43 24h0m37-14h0m48 15h0m-13 12h0m-22 3h0m-32 3h0m-27-2h0m-1 6h0m-1-2h0m-23 14h0m3 8h0m28-7h0m21 16h0m34-15h0m10 7h0m15 1h0m5 3h0m-10 25h0m-19-2h0m-3-11h0m-40-1h0m-6 6h0m-20 10h0m0-9h0m-23-3h0m-1-6h0m-27 9h0m-3 9h0m4 3h0m1 12h0m63 1h0m7-2h0m34 7h0m8 2h0m7 0h0m2-5h0m1-16h0m0 18h0m19 4h0m6-20h0m-28 30h0m-15 11h0m-11-14h0m-1 5h0m-26-3h0m-2 6h0m-44-7h0m-23 8h0m-10-3h0m-25 2h0m8 34h0m2 0h0m14-20h0m6 4h0m1 6h0m12 2h0m12-13h0m11 16h0m19-3h0m5-12h0m13 3h0m17 8h0m22 5h0m0 4h0m-17 2h0m-15 10h0m-3 5h0m-13-7h0m-7-5h0m-10 19h0m-27 0h0m-32-1h0m-24-9h0m-1 3h0m-16-12h0m-20 18h0m-41 23h0m31-19h0m17-1h0m6 22h0m6-3h0m1-8h0m13 1h0m2-1h0m12 5h0m19 2h0m60 0h0m2-3h0m7-2h0m11-6h0m22-8h0m2 8h0m4-1h0m31 3h0m2-3h0m17-7h0m5 6h0m2 5h0m-35 22h0m-8-8h0m-1 5h0m-42 9h0m-72 1h0m-3 3h0m-6-18h0m-1 18h0m-11-6h0m-6-3h0m-39-1h0m-43 13h0m-20-7h0" stroke="#ffffff" stroke-width="6.8" stroke-linecap="round" stroke-opacity="0.22" fill="none"/>
<path transform="scale(.25)" d="M2082 1459h0m2 14h0m-18 6h0m-19 6h0m2 11h0m14 1h0m13-1h0m7 26h0m-25-4h0m-12 8h0m-4 6h0m-3-12h0m-3-1h0m-8 2h0m-20 14h0m-2-4h0m-19 16h0m26 9h0m26-11h0m0 4h0m19-7h0m2 3h0m0 6h0m6-14h0m14 22h0m-9 18h0m-13-1h0m-20-4h0m-9 7h0m-15-1h0m-3-18h0m-9 17h0m-2-1h0m-9-14h0m-1 19h0m-12-4h0m-8-14h0m-11 12h0m-16 24h0m2-12h0m11 8h0m1-6h0m1 4h0m14 14h0m24-12h0m7 3h0m18-3h0m16-8h0m2 11h0m1 7h0m22-12h0m5-7h0m7 4h0m3 7h0m-5 14h0m-8 4h0m-9-3h0m-6 3h0m-4-1h0m-28-2h0m-12 7h0m-14 9h0m-14-3h0m-1-13h0m-3 14h0m-7 2h0m-16-12h0m-6 13h0m-6-5h0m-18-7h0m-10 12h0m-14 22h0m46-16h0m11 3h0m28 2h0m19 5h0m34 1h0m7 0h0m11-7h0m2 7h0m7-2h0m4 0h0m4-4h0m9 3h0m3-11h0m1 27h0m-1-3h0m-21 22h0m-14-11h0m-11 12h0m-28-2h0m-4-20h0m-15 16h0m-9-15h0m-5 3h0m-13-3h0m-1 2h0m-2 2h0m-12 10h0m-10-1h0m-16-15h0m-44 1h0m-1 11h0m-11 6h0m-1 3h0m-5-4h0m-15 21h0m35-9h0m2 13h0m14-9h0m9-7h0m4-1h0m8 0h0m6 20h0m3-11h0m13-10h0m3 14h0m13-5h0m0 5h0m3-4h0m6-1h0m10 11h0m11-14h0m2 0h0m7 8h0m5-4h0m11 12h0m3-16h0m10 14h0m26-7h0m13 10h0m2-15h0m5-8h0m8 5h0m4 13h0m-2 24h0m-14 2h0m-26 1h0m-10 1h0m-3-17h0m-66-2h0m-4-2h0m-22 5h0m-21 2h0m-5 1h0m-7 11h0m-2-6h0m-13-1h0m-89 27h0m14-10h0m9-3h0m9 8h0m36 10h0m15-14h0m22-3h0m1-2h0m4 4h0m8 6h0m2 1h0m4 5h0m20 1h0m7-6h0m50 6h0m35-10h0m9-2h0m8 13h0m2-10h0m26 4h0" stroke="#3d84c0" stroke-width="6.8" stroke-linecap="round" stroke-opacity="0.22" fill="none"/>
<path transform="scale(.25)" d="M2069 1472h0m6-4h0m-7 29h0m-19 7h0m-6-5h0m-5 8h0m-34 27h0m7-14h0m14-7h0m20 13h0m3-8h0m5 17h0m16-1h0m1-3h0m13-9h0m1-8h0m1 35h0m-3-13h0m-19 17h0m-1-10h0m-5 6h0m-1 9h0m-3-16h0m0-1h0m-9-4h0m-2 19h0m0-12h0m0-8h0m-11 8h0m-13-1h0m-2 7h0m-17 4h0m-4-10h0m-29 32h0m9-13h0m6 12h0m17 5h0m13-13h0m17-6h0m4 6h0m13 3h0m10 0h0m9 4h0m3 8h0m3-7h0m2-6h0m9 3h0m3 16h0m-38 0h0m-2 14h0m-5-8h0m-12-1h0m-5 11h0m-2 1h0m-3-17h0m-11 18h0m-22-2h0m0-17h0m-3 12h0m-5-9h0m-4-5h0m-6 17h0m-5 1h0m-14-13h0m-7 8h0m-14 7h0m-6 20h0m1-10h0m6 15h0m5-21h0m11 11h0m10 8h0m14 0h0m10-7h0m17-9h0m25 7h0m0 9h0m1-15h0m6 10h0m10 1h0m2-2h0m5-7h0m6 4h0m1-10h0m6 5h0m1 10h0m5-7h0m12 22h0m-2-2h0m-4 9h0m-6 0h0m-34-5h0m-2 7h0m-17-4h0m-21-4h0m-117 19h0m7 0h0m13 5h0m17 11h0m12-10h0m12 7h0m21 3h0m3-16h0m17 12h0m29-11h0m32 15h0m3-15h0m9 4h0m0 0h0m17 3h0m10-10h0m6 8h0m7 21h0m-4 9h0m-62-5h0m-4 4h0m0-5h0m0-3h0m-10 15h0m-4-10h0m-18-2h0m-16-3h0m-2-6h0m-25 19h0m-17-1h0m-3-18h0m-8 21h0m-5-13h0m-21 2h0m-5 8h0m-12-5h0m-7 7h0m-18-11h0m-20 33h0m24-12h0m42 5h0m19-2h0m0 13h0m4-9h0m3 6h0m5-14h0m4 8h0m7-13h0m19 10h0m20-1h0m5-8h0m7 13h0m10-14h0m1 15h0m32 5h0m29-2h0m4-17h0m2 18h0m21 17h0m-33 7h0m-5-15h0m-15 17h0m0 0h0m-13-15h0m-6 5h0m-14-4h0m-54-6h0m-10 20h0m-3-9h0m-16 0h0m-51 9h0m-18-20h0m-22 19h0m-6-11h0m-13-1h0" stroke="#3d84c0" stroke-width="6.8" stroke-linecap="round" stroke-opacity="0.22" fill="none"/>
<path transform="scale(.25)" d="M2063 1472h0m9 14h0m8 2h0m-27 21h0m-11-6h0m-3 4h0m-24 25h0m31-6h0m4-10h0m4 0h0m10 14h0m18 20h0m-6 5h0m-21-11h0m-20-7h0m-5 4h0m-3-2h0m-8 4h0m-6-7h0m-5 5h0m-34 15h0m-16 21h0m8 3h0m9-16h0m12 11h0m16-2h0m6 3h0m6 1h0m1-17h0m16 3h0m5 15h0m10 2h0m6-18h0m1 5h0m18 1h0m-11 32h0m-2 7h0m-15-21h0m-33 4h0m-2-1h0m-9 4h0m-3-7h0m-15 3h0m-6 4h0m0-5h0m-5 9h0m-13-6h0m-4-1h0m-9 12h0m0-7h0m-32 24h0m10 4h0m1 5h0m16-9h0m9 6h0m21-4h0m12-9h0m8 12h0m0 3h0m10 2h0m3-16h0m0 16h0m7 0h0m13-20h0m8 12h0m10-5h0m7 12h0m2-13h0m1 5h0m0 4h0m29-13h0m-1 42h0m-4-5h0m-11 3h0m-5-15h0m-7 3h0m-6-5h0m-9 15h0m-21-17h0m-2 22h0m-2-11h0m-3 5h0m-2 4h0m-3-8h0m-2-8h0m-22 0h0m-4 14h0m0-12h0m-7 15h0m-3 0h0m-31-15h0m-12 13h0m-5 2h0m-17-5h0m-11 1h0m-5-3h0m-27 25h0m32-11h0m14 11h0m21 7h0m44-13h0m4 7h0m8 5h0m13-3h0m11 4h0m1-21h0m0 3h0m16 14h0m10-17h0m1 5h0m21-1h0m16 16h0m10-12h0m1-4h0m-5 24h0m-7 2h0m-12 5h0m-6-2h0m-3-4h0m-5-5h0m-7 9h0m-26-4h0m-21 1h0m-36-3h0m-3 1h0m-6 4h0m-12-4h0m-4 14h0m-16-19h0m-8 0h0m-4 9h0m-1-8h0m-8 9h0m-47-1h0m-3 3h0m-30 28h0m2 4h0m8-16h0m6-3h0m11 22h0m14-11h0m6-5h0m4 8h0m15-5h0m1-10h0m5 13h0m20 7h0m2-8h0m14-2h0m65 3h0m25 9h0m5-8h0m10-1h0m49 31h0m-11-13h0m-24-6h0m-9 4h0m-27 1h0m-9 14h0m0-20h0m-2 1h0m-37 0h0m-2 9h0m-33 2h0m-14-1h0m-4 3h0m-12 6h0m-27-7h0m-11 6h0m-9-4h0m-11-6h0m-16 4h0m-12 4h0" stroke="#3d84c0" stroke-width="6.8" stroke-linecap="round" stroke-opacity="0.22" fill="none"/>
<path transform="scale(.25)" d="M2085 1462h0m1-8h0m-11 26h0m-7-11h0m-13 15h0m-28 25h0m16-6h0m15-10h0m17 1h0m3 25h0m-20 14h0m-7-2h0m-2-7h0m-21-4h0m-12 0h0m-28 24h0m1 3h0m10-11h0m5 0h0m4 22h0m3-16h0m12 2h0m1 10h0m11-16h0m3 14h0m5-1h0m10-14h0m1 2h0m1 15h0m5-14h0m3 4h0m7 10h0m3-2h0m8 6h0m-11 22h0m-10-9h0m-16 12h0m-14-4h0m-7-2h0m0-4h0m-10-7h0m-22 0h0m0-1h0m-3 2h0m-60 40h0m19-11h0m21 3h0m3-14h0m16 15h0m14-13h0m5 1h0m6 17h0m11 1h0m1-15h0m1 6h0m15-9h0m4 11h0m8-14h0m0 1h0m1 9h0m13 5h0m19 30h0m-10-12h0m-6-4h0m-9 7h0m-4 10h0m-22 0h0m-10-13h0m-1-6h0m-10 5h0m-2 4h0m-6 1h0m-7-1h0m-12-1h0m-4-2h0m-8 8h0m-4-7h0m-3 8h0m-5-9h0m-1-6h0m-14 1h0m-2-5h0m-10 2h0m-1 11h0m-5 8h0m-40 26h0m6-10h0m7 10h0m3-14h0m2 14h0m2-12h0m1 10h0m18-1h0m6-7h0m3-1h0m6-3h0m4-4h0m16 16h0m3-6h0m9-10h0m10 5h0m21-7h0m3 10h0m10-1h0m22-12h0m5 12h0m4-11h0m8 12h0m1-10h0m1 3h0m5-3h0m0 9h0m11 1h0m-10 13h0m-1-2h0m-5 16h0m-27-5h0m-32-9h0m-6-1h0m-5 1h0m-33 19h0m-12-15h0m-1 16h0m-14-14h0m-12 11h0m-8-15h0m-34 0h0m-12 9h0m-25 30h0m11-18h0m4 22h0m25-9h0m2-11h0m18 4h0m30-6h0m2 22h0m7-22h0m4 4h0m3-1h0m4 2h0m17 10h0m5 4h0m11-16h0m20 4h0m34-5h0m6 14h0m10 0h0m4-11h0m1 12h0m3-11h0m25 22h0m-32-3h0m-8 21h0m-29-16h0m-2 4h0m-19 11h0m-5-13h0m-10 5h0m-34-8h0m0-6h0m-22 7h0m-18 4h0m-13 4h0m-20 2h0m-21-3h0m-25 3h0m-5-10h0m-11 7h0m-26 30h0m10-1h0m15-14h0m4 13h0m17-12h0m23-2h0m10 4h0m6 0h0m22 5h0m24 8h0m20 1h0m11-2h0m12-13h0m20-5h0m14 2h0m7 4h0m1 1h0m23-6h0m29-1h0m12 7h0m5 2h0" stroke="#3d84c0" stroke-width="6.8" stroke-linecap="round" stroke-opacity="0.22" fill="none"/>
<linearGradient id="gf3" x1="0" y1="1" x2="0" y2="0"><stop offset="0" stop-color="#fcae6e" stop-opacity="0.3"/><stop offset="1" stop-color="#fcae6e" stop-opacity="0.85"/></linearGradient>
<rect x="521.5" y="354.7" width="11.8" height="82.8" fill="url(#gf3)"/>
<path transform="scale(.25)" d="M2088 1436h0m13-12h0m6 0h0m12 3h0m8 10h0m5-10h0m-11 28h0m-12 7h0m-4-11h0m-9 4h0m-7-6h0m0 38h0m10-21h0m12 1h0m18 6h0m0 9h0m2 29h0m-2-17h0m-13 14h0m-27 21h0m0 3h0m3-10h0m27-3h0m8 16h0m2-13h0m4 30h0m-21-14h0m-12 5h0m-7-4h0m-1 19h0m-2 12h0m8-9h0m3 3h0m3 3h0m3 10h0m2-1h0m1-1h0m4-10h0m0 17h0m1-21h0m3 4h0m14 5h0m0 30h0m-4 2h0m-10-1h0m-3-4h0m-2 1h0m-13 9h0m0-15h0m-12 30h0m20-9h0m20 2h0m0 15h0m4-3h0m-5 9h0m-5 10h0m-1 2h0m-6-5h0m-2-6h0m-1 11h0m-17-15h0m-2 16h0m-5-5h0m19 21h0m16 6h0m1-15h0m8 10h0m-14 31h0m-2-13h0m-1 7h0m-9-4h0m-12 9h0m-4 11h0m0 2h0m2 10h0m7-11h0m24 19h0m5 10h0m-1-6h0m-5 8h0m-18 1h0m-2-6h0" stroke="#ffffff" stroke-width="6.8" stroke-linecap="round" stroke-opacity="0.3" fill="none"/>
<path transform="scale(.25)" d="M2088 1432h0m15 6h0m17-7h0m8 16h0m-6-2h0m-4 4h0m-6 12h0m-1-7h0m-9 6h0m-5-7h0m0-6h0m-1 11h0m-2-16h0m1 35h0m1-10h0m27-2h0m7 3h0m1 25h0m-4-2h0m-5 14h0m-6-5h0m-4 3h0m-5-9h0m-3 4h0m-15 9h0m-2 19h0m2 3h0m1-17h0m3 21h0m8-1h0m2-18h0m8 6h0m7 21h0m-9 18h0m-2-17h0m-2 7h0m-2 6h0m-6-17h0m-5 5h0m1 30h0m4 6h0m8-11h0m5 7h0m9-11h0m10 11h0m3-8h0m0 24h0m-15-4h0m-4 8h0m-4-7h0m-6 7h0m-2 5h0m-1-3h0m-5 5h0m-4-7h0m-1-4h0m-1 15h0m-2 5h0m1 10h0m4-9h0m21 13h0m17 27h0m-12-7h0m-14 9h0m-3-20h0m-5 11h0m-2 9h0m-1 1h0m-6-4h0m21 18h0m0 4h0m1-17h0m10 18h0m5-17h0m2 0h0m1 22h0m-3 21h0m-5-10h0m-1 3h0m-9-8h0m-11 13h0m2 9h0m12 10h0m8-7h0m10 27h0m-5 1h0m-17 2h0" stroke="#ffffff" stroke-width="6.8" stroke-linecap="round" stroke-opacity="0.3" fill="none"/>
<path transform="scale(.25)" d="M2093 1438h0m7-4h0m11 4h0m4-18h0m9 16h0m5 3h0m4-12h0m-5 31h0m-8-18h0m-1 8h0m-2 10h0m0-3h0m-14-10h0m-1 15h0m-7-14h0m-3 12h0m-2 15h0m3 7h0m37 9h0m-10 15h0m-6 2h0m-1 3h0m-24-10h0m0-7h0m2 30h0m16-9h0m3 9h0m14-7h0m3 28h0m-8 7h0m-14 9h0m-17-10h0m2 22h0m21 7h0m1-15h0m7-1h0m4-1h0m2 13h0m-2 19h0m0-6h0m-7 0h0m-3 18h0m-3 2h0m-1-12h0m-20-10h0m2 30h0m2 8h0m8-11h0m10 11h0m5-7h0m2-8h0m6 12h0m1-5h0m1 17h0m-2 10h0m-1 0h0m-5-10h0m-1 2h0m-17 20h0m-3-21h0m-2 21h0m-7 11h0m5 4h0m27-6h0m5-7h0m6 14h0m-21 22h0m-1-8h0m-12 14h0m-2 0h0m-1 3h0m0-2h0m0-2h0m-1-15h0m-6 11h0m0 30h0m22 1h0m19-6h0m1-7h0m2 11h0m-17 6h0m-1 19h0m-8-3h0m-2 4h0m-8-8h0" stroke="#ffffff" stroke-width="6.8" stroke-linecap="round" stroke-opacity="0.3" fill="none"/>
<path transform="scale(.25)" d="M2125 1435h0m4-6h0m0 21h0m-7 6h0m-11 4h0m-8-18h0m-1 1h0m-14 19h0m0-13h0m2 28h0m14-3h0m1-10h0m5 22h0m3-1h0m13 0h0m3 5h0m-7 0h0m-5 9h0m-6-11h0m-1 20h0m-3-17h0m-7-3h0m-6 21h0m8 12h0m2-7h0m15 14h0m1 2h0m1-7h0m1-6h0m3 0h0m1 11h0m2-13h0m4 22h0m-2 2h0m-19 11h0m-17-12h0m-4 39h0m15 2h0m6-15h0m1 5h0m8 12h0m7-16h0m6-1h0m-1 20h0m-5 11h0m-13-4h0m-8 1h0m-6 10h0m-10-6h0m-4 23h0m5-9h0m19 4h0m1 16h0m2-1h0m10-14h0m-2 39h0m0-5h0m-6-3h0m-4-3h0m-5 7h0m-7-10h0m-2 9h0m-6 14h0m1-5h0m13 3h0m3 4h0m0 10h0m5-19h0m0 1h0m3-1h0m3 13h0m6 8h0m8 11h0m-1 9h0m-4-13h0m-1 12h0m-28-10h0m-5 8h0m-5-1h0m-2 17h0m0 8h0m12 6h0m1-4h0m3-8h0m1 5h0m7 0h0m1 10h0m9-2h0m4-15h0m6 4h0m-3 34h0m-13 0h0m-3 1h0m-2-11h0m-6 6h0m0-15h0" stroke="#ffffff" stroke-width="6.8" stroke-linecap="round" stroke-opacity="0.3" fill="none"/>
<path transform="scale(.25)" d="M2095 1435h0m3-4h0m9-12h0m0 13h0m3-3h0m2-3h0m0 9h0m1 4h0m9-14h0m2 13h0m8 18h0m-4-12h0m-1 11h0m-10-4h0m-7-10h0m-8 3h0m-8-4h0m5 41h0m16-14h0m2 6h0m6 1h0m2-1h0m2 38h0m-15-2h0m-15 12h0m2-3h0m18-4h0m2 17h0m7 27h0m-2-20h0m-3 3h0m-34 29h0m28 0h0m4 12h0m1-19h0m2 14h0m7-14h0m4 31h0m-26 13h0m-6-13h0m-2-5h0m-12 21h0m8 10h0m34-8h0m-35 39h0m4 18h0m3-5h0m11-4h0m7 10h0m3-4h0m4-2h0m-7 34h0m0-8h0m-13-4h0m-13 17h0m10 24h0m15-11h0m0 2h0m5-1h0m0 2h0m2-1h0m5 19h0m-13-7h0m-22 13h0" stroke="#ff7f0e" stroke-width="6.8" stroke-linecap="round" stroke-opacity="0.25" fill="none"/>
<path transform="scale(.25)" d="M2096 1434h0m1 2h0m2 3h0m4-11h0m5-2h0m6-4h0m18 19h0m-3-1h0m-1 17h0m-12-15h0m-1 20h0m-10-10h0m-1-7h0m-1 10h0m-10 2h0m-1 16h0m4 9h0m7 2h0m2-11h0m3 10h0m1-12h0m1-7h0m1 6h0m1-6h0m8 16h0m1 6h0m2-22h0m2 12h0m8 28h0m0-2h0m-30-9h0m-13-2h0m7 38h0m5-4h0m17 7h0m4-20h0m1 12h0m3-6h0m1 0h0m3 0h0m2 37h0m-10-4h0m-14-6h0m-5-1h0m-4-5h0m-11 40h0m2-13h0m8 2h0m2 0h0m31 3h0m1 26h0m-7-12h0m-7 2h0m-20 0h0m-1-1h0m-2 17h0m-1-19h0m-2 23h0m1 7h0m11 6h0m5 6h0m15-1h0m3 16h0m-9 5h0m-7-10h0m-8 13h0m-4-13h0m-2 2h0m-1 14h0m-6-13h0m-4 4h0m21 15h0m1 16h0m2-1h0m13-11h0m-5 22h0m-19 18h0m-1-14h0m0-4h0m-1 4h0m-11 5h0m18 12h0m5 18h0m14-14h0" stroke="#ff7f0e" stroke-width="6.8" stroke-linecap="round" stroke-opacity="0.25" fill="none"/>
<path transform="scale(.25)" d="M2111 1424h0m0 2h0m4 9h0m11-9h0m4 13h0m3-5h0m-5 23h0m-4 0h0m-2-13h0m-12 4h0m-12 21h0m1 4h0m2 1h0m8 10h0m13-14h0m8 13h0m-15 25h0m-10-2h0m-9-16h0m-5 18h0m14 22h0m4 1h0m5 4h0m13-2h0m-4 8h0m-15-5h0m-1 20h0m-7-16h0m-5 35h0m12-5h0m2-1h0m4-3h0m11-5h0m-12 45h0m0-17h0m0-2h0m-11 4h0m-8-4h0m-1 35h0m14-12h0m5 0h0m7 0h0m-8 24h0m8 46h0m14 41h0m-25 6h0m0-13h0m-19 8h0m0-3h0m19 12h0m16 8h0m1-2h0" stroke="#ff7f0e" stroke-width="6.8" stroke-linecap="round" stroke-opacity="0.25" fill="none"/>
<path d="M521.5 354.7L533.3 343.1L533.3 354.7Z" fill="#62b85c" fill-opacity="0.95"/>
<path d="M43.2 594.5L73.8 563.9L75.4 571.5L74.6 594.5Z" fill="#2f7dbb" fill-opacity="0.8"/>
<path transform="scale(.25)" d="M278 2278h0m4-1h0m1-1h0m1-1h0m1 4h0m3-11h0m1 5h0m12 19h0m0 0h0m-2-12h0m-3 1h0m-3 17h0m-1-13h0m-18 12h0m-2 5h0m-6-5h0m-8 6h0m-13 8h0m5 12h0m2 3h0m1-22h0m1 7h0m3 7h0m3 8h0m6-11h0m0 3h0m0 5h0m4-14h0m2-5h0m1 17h0m5-13h0m2 18h0m2-4h0m1 5h0m6-3h0m2 1h0m2-18h0m1 4h0m1-7h0m2 45h0m-4-13h0m-6 6h0m-9 4h0m0-3h0m0-10h0m-2-2h0m-6 17h0m-2 1h0m-5-4h0m-1-4h0m-1-9h0m-2 9h0m-1 0h0m-6 5h0m0-11h0m-1 8h0m-10-1h0m-5-14h0m-1 3h0m-6 14h0m-4-6h0m-3 7h0m-3-14h0m-13 16h0m-28 25h0m7 0h0m2 0h0m7-8h0m4-4h0m0 2h0m1 7h0m0 0h0m2-2h0m5-10h0m3 5h0m0 6h0m1-11h0m0 15h0m3-5h0m2 7h0m6-13h0m2 13h0m1-14h0m2-2h0m0 14h0m1-8h0m5-1h0m1 3h0m2 7h0m5-13h0m3 4h0m5 0h0m1-6h0m10-6h0m2 10h0m2 7h0m3-15h0m1 9h0m1-11h0m1 2h0m2 20h0m5-21h0m0 18h0m3-20h0m5 3h0m1 3h0m3 6h0m2 2h0m1-12h0m0 8h0m5-8h0m5 2h0m-37 22h0m-43-2h0m-21 1h0m-5-1h0" stroke="#1f77b4" stroke-width="6.8" stroke-linecap="round" stroke-opacity="0.5" fill="none"/>
<path transform="scale(.25)" d="M284 2271h0m8 3h0m3-9h0m5 3h0m-4 18h0m-3 11h0m0-7h0m-1-2h0m-6 12h0m-6-14h0m-1 15h0m-2 0h0m-5-1h0m-1-10h0m0-8h0m-3 16h0m-7-3h0m-3-1h0m-4 3h0m-2 5h0m-21 24h0m1-7h0m4 6h0m5-14h0m2 12h0m1 2h0m1-14h0m5 14h0m6-19h0m1-2h0m3 5h0m12 14h0m2-17h0m4 21h0m2-21h0m3 8h0m1 13h0m1-23h0m10 20h0m2-6h0m-2 12h0m-9 14h0m0-5h0m-3-1h0m-7 0h0m-1 11h0m0-1h0m-3-8h0m-5 5h0m-5-1h0m-3-9h0m-1 2h0m-1 4h0m-2 0h0m-6-11h0m-8 16h0m-10-16h0m-3 20h0m-2-4h0m0-3h0m-1 1h0m-1 4h0m0-10h0m-2-7h0m-2 16h0m0-6h0m-2 10h0m-4-3h0m-1-1h0m0-6h0m-32 32h0m9-9h0m10-1h0m6 4h0m1-1h0m1 4h0m1-4h0m3-6h0m3 3h0m2-1h0m3 3h0m5-12h0m2 10h0m2 3h0m4-6h0m3-2h0m4 8h0m1 5h0m0 4h0m1-9h0m12 0h0m0 3h0m3-1h0m1-12h0m0 12h0m5-3h0m8 2h0m1 6h0m10-8h0m3-9h0m1 13h0m1 1h0m2-3h0m-24 11h0m-18-1h0m-4 1h0m-3 0h0m-42-1h0" stroke="#1f77b4" stroke-width="6.8" stroke-linecap="round" stroke-opacity="0.5" fill="none"/>
<path transform="scale(.25)" d="M301 2253h0m-1 25h0m-1-11h0m-3 11h0m-4-17h0m-1 4h0m-2 7h0m-36 29h0m7-6h0m5-7h0m4-4h0m1 4h0m1 14h0m2 1h0m5-16h0m1 15h0m3-3h0m1-19h0m5 2h0m1 11h0m5-4h0m0 2h0m1 12h0m2-17h0m1 40h0m0-6h0m-3-3h0m-3 2h0m-5 6h0m0-15h0m0-3h0m-4-1h0m-1 14h0m-2 4h0m-4-2h0m-14-12h0m-4 16h0m0-16h0m0-4h0m-3 12h0m0-1h0m-1-6h0m-1 16h0m-1-18h0m-1-2h0m-2 11h0m-3 7h0m-1-5h0m-1 6h0m-1-2h0m-3-9h0m-36 33h0m20-20h0m1 16h0m10-11h0m4-3h0m7-1h0m1 0h0m0 7h0m4 11h0m0 4h0m1-17h0m9-2h0m0 12h0m8-13h0m0 17h0m11-12h0m13 6h0m1-12h0m0 21h0m2-7h0m1-5h0m1-3h0m1-3h0m1-4h0m1 4h0m0 10h0m-5 10h0m-5 0h0m-3 5h0m-3 6h0m-3 2h0m-7-10h0m-1 19h0m-3-7h0m0-16h0m-3 8h0m-9-4h0m-1 18h0m-9-2h0m-1-4h0m-2-15h0m-2 9h0m-5 6h0m-15-15h0m-1 20h0m0-2h0m-3-6h0m-5 10h0m-3-22h0m-5 22h0m0-3h0m-1-20h0m-2 11h0m-2-1h0m0-5h0m0-2h0m-2 7h0m-2 2h0m-9 10h0m3 2h0m3 0h0m0 1h0m22-1h0m4 2h0m24-2h0m9 2h0m3-2h0m20 1h0" stroke="#1f77b4" stroke-width="6.8" stroke-linecap="round" stroke-opacity="0.5" fill="none"/>
<path transform="scale(.25)" d="M283 2277h0m3-10h0m6 0h0m0 1h0m1 6h0m8-3h0m-2 32h0m-11-11h0m-1 0h0m-2 11h0m-3-1h0m-3-3h0m-1-19h0m-1 14h0m-5 7h0m-1-3h0m-4-14h0m-7 11h0m-1 0h0m-4 5h0m-6 2h0m-9 11h0m0 10h0m1 2h0m9-14h0m4 10h0m0 1h0m5-11h0m0 11h0m0 1h0m1-17h0m1 0h0m10 0h0m2 12h0m3-13h0m0 3h0m1 4h0m1-6h0m9 11h0m3-6h0m3 11h0m2-9h0m3 14h0m3 0h0m-9 13h0m-5-8h0m-5-3h0m-6 0h0m-1 3h0m-1 5h0m0 0h0m-4-5h0m-1 12h0m-11-12h0m-4 2h0m0-3h0m-8 4h0m-1-6h0m-1 6h0m-3-7h0m-2 9h0m-5-1h0m-2 7h0m0-9h0m-3 16h0m-4-17h0m-5 16h0m-1-4h0m-1-2h0m-16 21h0m0 10h0m1-1h0m3-16h0m1-1h0m0 15h0m1-9h0m4 8h0m3-5h0m0 9h0m3-18h0m3 15h0m0 0h0m9 4h0m2-20h0m4 7h0m1-3h0m1 16h0m3-23h0m2 5h0m1 13h0m3-5h0m0 6h0m22-6h0m3 10h0m3-4h0m1-9h0m6-9h0m3 16h0m3-9h0m4 9h0m2-15h0m1 13h0m3 0h0m1-7h0m0 13h0m1-19h0m-34 23h0" stroke="#1f77b4" stroke-width="6.8" stroke-linecap="round" stroke-opacity="0.5" fill="none"/>
<path transform="scale(.25)" d="M310 2254h0m8-20h0m1 10h0m3-9h0m0 8h0m3 3h0m-6 27h0m0-2h0m-3-14h0m-4 13h0m-3-12h0m0 0h0m-5 16h0m-3 5h0m1 15h0m13-14h0m2 8h0m5 2h0m3 27h0m-3 10h0m0-11h0m0-2h0m-4-1h0m-9 10h0m-6 3h0m-5-12h0m0-8h0m0 0h0m-2 17h0m0 19h0m7 3h0m3-8h0m5-8h0m1 2h0m0 15h0m2-7h0m5-3h0m0 9h0m3 1h0m3 3h0m-5 20h0m-1-2h0m-5-10h0" stroke="#1f77b4" stroke-width="6.8" stroke-linecap="round" stroke-opacity="0.35" fill="none"/>
<path transform="scale(.25)" d="M304 2252h0m11-13h0m3-5h0m4 20h0m1-3h0m-1 15h0m-1 6h0m0-1h0m-2-8h0m-11-4h0m-4 17h0m-7-10h0m0-1h0m8 22h0m10-4h0m0 2h0m5-4h0m6 3h0m0 12h0m-2 29h0m-1-13h0m-11 4h0m-1 5h0m-3-10h0m-6 8h0m-2 5h0m-3 3h0m-1-12h0m3 19h0m1 6h0m1 7h0m3-13h0m5-3h0m7 11h0m2-8h0m7 39h0m-1-2h0m-1-2h0m-8 3h0m-5-15h0m-1 1h0m-7 17h0m-1-13h0m-4 9h0" stroke="#1f77b4" stroke-width="6.8" stroke-linecap="round" stroke-opacity="0.35" fill="none"/>
<path transform="scale(.25)" d="M305 2247h0m2 6h0m11-1h0m2-18h0m3 17h0m1-19h0m0 45h0m-2-19h0m-2 9h0m0-3h0m-1 4h0m-22-8h0m0-3h0m-1 22h0m0-8h0m2 15h0m2-1h0m4 9h0m2-9h0m3 9h0m2-9h0m1 5h0m1-10h0m4 2h0m6 19h0m-12 18h0m-3-11h0m-1 0h0m-2 11h0m-2-15h0m-3 15h0m-1 8h0m-1-16h0m-1 9h0m-1-4h0m0-4h0m0-3h0m0-1h0m7 27h0m4-1h0m3 15h0m1-15h0m4 12h0m4-3h0m2 27h0m0-3h0m-7 0h0m0-3h0m-7 2h0m-2-13h0m-4 4h0m-5 5h0m0-6h0" stroke="#1f77b4" stroke-width="6.8" stroke-linecap="round" stroke-opacity="0.35" fill="none"/>
<path transform="scale(.25)" d="M347 2252h0m3-5h0m16 2h0m4-1h0m31-7h0m9 5h0m15-2h0m3 4h0m5 3h0m7 3h0m4-1h0m17-10h0m10 2h0m5 10h0m12-20h0m5 20h0m10-14h0m0 5h0m2 0h0m2-4h0m12 4h0m30 12h0m-2 10h0m-2-1h0m0-8h0m-21 18h0m-6-21h0m-15 16h0m-8-10h0m-9-1h0m-18 17h0m-32-22h0m-1 10h0m-13 0h0m-11-5h0m-15 9h0m-4 4h0m-5-5h0m-9 4h0m-12-9h0m-2 4h0m-1-6h0m-4 8h0m-12 0h0m-4-3h0m12 30h0m10 3h0m5-13h0m5 8h0m9 5h0m4 2h0m3-8h0m5 7h0m5-4h0m7-1h0m30-5h0m5 0h0m1 6h0m2-3h0m2-11h0m1 8h0m1-3h0m3 4h0m1-10h0m4 12h0m1-5h0m6 13h0m34-20h0m1 15h0m1 4h0m3-4h0m9-3h0m6 1h0m15 8h0m5-3h0m12-6h0m0 18h0m-4 14h0m-9-8h0m-4-6h0m-9 10h0m-1-3h0m-2 6h0m-13-14h0m-9 1h0m-7 2h0m-6-3h0m-1 7h0m-3-7h0m-3 15h0m-6 1h0m-10-14h0m-2 10h0m-6 4h0m0-20h0m-8 14h0m-6 1h0m-4-5h0m-3-2h0m-1-5h0m-2 5h0m-2 2h0m-3 10h0m-7-23h0m-5 16h0m-6-6h0m-9 4h0m-7-13h0m-17 18h0m-5-16h0m-5 1h0m-1 18h0m0-4h0m-7-18h0m-6 16h0m-5 7h0m-7-5h0m-1 3h0m-10 1h0m-2-3h0m4 7h0m6 8h0m10-5h0m7 7h0m1-1h0m1 2h0m4 9h0m7-12h0m1 13h0m9-23h0m9 3h0m4-1h0m4-2h0m22 18h0m4-5h0m7 1h0m2-11h0m0 1h0m11 9h0m10-10h0m7 7h0m0 2h0m1 0h0m1 7h0m3-4h0m1 4h0m4 4h0m10-15h0m1-6h0m3 13h0m9-14h0m1-1h0m4 0h0m12 0h0m4 11h0m25 4h0m11-5h0m2-4h0m11 31h0m-6 5h0m0-3h0m-2-1h0m-4 9h0m-1-8h0m-2 0h0m-2-7h0m-1 12h0m-2-11h0m-5 8h0m-3-13h0m-6 7h0m-7-10h0m-4 19h0m0-17h0m-1-3h0m-2 15h0m-2-7h0m-1-7h0m-15 9h0m-21 11h0m-9-14h0m-11-6h0m-1 21h0m0-14h0m-5 13h0m-2-2h0m-5-16h0m-5 12h0m-5 0h0m-8 7h0m-6 0h0m-10-20h0m-3 4h0m-1 2h0m-2 2h0m-3-7h0m-6 20h0m-7-9h0m0-1h0m-3-1h0m-12 1h0m-1-6h0m-6 1h0m-3 12h0m0-19h0m-19 17h0m0-3h0m-6-3h0m5 13h0m172 0h0" stroke="#ff7f0e" stroke-width="7.2" stroke-linecap="round" stroke-opacity="0.3" fill="none"/>
<path transform="scale(.25)" d="M453 2228h0m102 20h0m-1-2h0m-26-5h0m-16 2h0m-21 5h0m-5 2h0m-11-7h0m-21-2h0m-7 6h0m-2 6h0m-12-3h0m-6-1h0m-10-1h0m-4 4h0m-14-11h0m-9 6h0m-8 7h0m-4-5h0m-32 9h0m7 10h0m1-7h0m0 15h0m8-5h0m1-7h0m3 10h0m9-15h0m0 5h0m19-5h0m5 6h0m20 9h0m11 0h0m2 2h0m2-15h0m11-1h0m0 1h0m18-4h0m13 4h0m2 1h0m4-1h0m11 5h0m19 9h0m10-13h0m1 0h0m0 5h0m15 2h0m8-9h0m3 2h0m8 17h0m-1 21h0m-5-12h0m-15-3h0m-3 15h0m-39-4h0m-10-4h0m-8 3h0m-7-14h0m-3 22h0m0-1h0m-1 1h0m-1-18h0m-1 14h0m-8 3h0m-1-5h0m-3 3h0m-4-4h0m-12-3h0m-4 7h0m-8 2h0m-7-22h0m-3 22h0m-9-9h0m-10 4h0m-4-10h0m-4 12h0m-8-9h0m-3 13h0m-1-3h0m-8-17h0m-2 17h0m-16-20h0m-6 22h0m-11-16h0m3 26h0m8 10h0m7-16h0m2 5h0m12 5h0m2-7h0m0 13h0m6 1h0m1-19h0m4 17h0m8-8h0m6-6h0m9-3h0m10 10h0m5 12h0m1-8h0m1-4h0m14 3h0m2 9h0m4-16h0m0 3h0m0 2h0m6 0h0m11 0h0m15 1h0m7-4h0m11 3h0m12 0h0m3-1h0m6 8h0m15 3h0m11-18h0m4 10h0m1-1h0m2-3h0m5-1h0m14-4h0m-1 30h0m-1-5h0m-11 3h0m-5 2h0m-2 7h0m-5 0h0m-1-15h0m-2 6h0m-2 5h0m-8 4h0m-13-15h0m-13 17h0m-1-3h0m-8 2h0m-3-6h0m-6-7h0m-7 4h0m-1 13h0m-2-5h0m-3 0h0m0-17h0m-11 7h0m0-3h0m-7 3h0m0-7h0m-17 9h0m-7 14h0m-1-13h0m-4-1h0m-6-7h0m-9 5h0m-8 2h0m-8-3h0m-6-1h0m-2 17h0m-5-5h0m-6-12h0m-22 5h0m-4 12h0m0-21h0m-8 20h0m-3 2h0m-4-21h0m3 38h0m2-11h0m4 3h0m2 5h0m4-7h0m13-5h0m1 5h0m15 11h0m1-7h0m4 2h0m0 7h0m13-8h0m0 1h0m1 8h0m10-6h0m6 7h0m4-11h0m2 10h0m7-3h0m20-4h0m10-5h0m3 10h0m3-6h0m2 4h0m5 7h0m6-4h0m5-10h0m2 2h0m24 8h0m10-8h0m4 2h0m20 5h0m2-8h0m1-9h0m24 2h0m-34 21h0m-71 1h0" stroke="#ff7f0e" stroke-width="7.2" stroke-linecap="round" stroke-opacity="0.3" fill="none"/>
<path transform="scale(.25)" d="M327 2233h0m8 13h0m25 2h0m17 7h0m4-2h0m9 2h0m2-5h0m5-6h0m0 11h0m9-7h0m10 6h0m66-4h0m28-18h0m12 18h0m19 5h0m4-14h0m-9 17h0m-4 7h0m-16-1h0m-5 1h0m-10-5h0m-6 18h0m-13-10h0m-2 1h0m-5 0h0m-6-4h0m-3 7h0m-1-16h0m-8 0h0m-3 10h0m-13-2h0m0 0h0m-11-2h0m-17 0h0m-1 6h0m-14-7h0m-2-2h0m-9 15h0m-1-15h0m-2-1h0m-11 9h0m-2 2h0m-8 9h0m0-8h0m-10 6h0m-3-12h0m-14 30h0m5 0h0m14 4h0m9 4h0m9-6h0m5 6h0m13 0h0m12-5h0m1-2h0m3-8h0m1-2h0m10-3h0m3 6h0m2 10h0m2 0h0m8-7h0m1 7h0m12-5h0m6-10h0m11 4h0m12-3h0m10-4h0m7 9h0m7 9h0m30 1h0m5-4h0m23 6h0m-2 22h0m-8 3h0m-1-5h0m-13-4h0m-2-11h0m-1 3h0m-9 0h0m-8 4h0m-9-1h0m-8-3h0m-2 12h0m0-11h0m-1 15h0m-13-15h0m-12 0h0m-3 15h0m-20-8h0m-4 3h0m-11 5h0m-1-3h0m-4-9h0m-20 4h0m-1 10h0m-1-19h0m-3 4h0m-6 11h0m-3-10h0m0-2h0m-2 15h0m0-18h0m-3 14h0m-7-1h0m-5-6h0m-3 8h0m-1-8h0m0-3h0m-2 12h0m-1-13h0m-17 15h0m-1 1h0m-1-3h0m-17-11h0m0-2h0m-2 12h0m-1 0h0m5 8h0m7 18h0m2-13h0m1 9h0m14-4h0m9-10h0m0 20h0m18-4h0m4-13h0m0 5h0m14 3h0m4-5h0m2 1h0m5-2h0m0 13h0m3-11h0m3-4h0m6-4h0m6 8h0m10-2h0m14-2h0m2 14h0m2 1h0m5-8h0m18-13h0m1 21h0m2-6h0m11-9h0m0 16h0m1 0h0m6-4h0m15-3h0m3-2h0m4-2h0m1 6h0m4 0h0m1 1h0m15-6h0m7-2h0m7 16h0m-6 4h0m-1 15h0m0-5h0m-16-8h0m-1 13h0m-1 2h0m-3-14h0m0-7h0m-3 2h0m-1 13h0m-1-16h0m-3 7h0m-2 15h0m-6-15h0m-3-4h0m-2 15h0m0-10h0m-10 14h0m-26-13h0m0-7h0m-2-3h0m-2 15h0m-5-7h0m-10 13h0m-5-12h0m-6-9h0m-2 20h0m-1-16h0m-5 19h0m-13-7h0m-1 7h0m-2-15h0m-6 4h0m-1-7h0m-1 17h0m-3-6h0m-4 5h0m-7-7h0m-7-1h0m-2 6h0m-3-13h0m-2-5h0m-3-1h0m-1 8h0m-9-2h0m0-3h0m-3 5h0m-7 12h0m-1 1h0m-4-19h0m-10-1h0m-1 9h0m-3 12h0m-2-14h0m-13-3h0m60 19h0m126 0h0" stroke="#ff7f0e" stroke-width="7.2" stroke-linecap="round" stroke-opacity="0.3" fill="none"/>
<path transform="scale(.25)" d="M358 2246h0m39-5h0m38 11h0m30-5h0m3 2h0m13-1h0m24 5h0m31-6h0m17-7h0m-9 17h0m-22 17h0m-7-7h0m-13-11h0m-6 16h0m0-11h0m-10 10h0m-22-3h0m0-8h0m-2-1h0m-8 3h0m-3 6h0m-5-4h0m-14-2h0m-18-4h0m-4-2h0m-16 20h0m-7-19h0m-8 10h0m-10-7h0m-1 7h0m-5-1h0m-11 3h0m-1-9h0m-10 1h0m-1 2h0m-1 7h0m-10 25h0m6 5h0m1-2h0m6-15h0m1 18h0m9-3h0m4-1h0m4-13h0m2 13h0m1 0h0m3-1h0m0 3h0m7 2h0m19 0h0m7-4h0m10-12h0m6 13h0m6-10h0m19 3h0m1-4h0m5 16h0m1-16h0m7 5h0m12 7h0m1-2h0m5 1h0m2 0h0m18-7h0m4-9h0m0 9h0m4 8h0m3-5h0m2 6h0m1-17h0m2-2h0m0 3h0m2 17h0m1 0h0m1 0h0m2-7h0m5-4h0m18 4h0m10 6h0m5-4h0m3 4h0m2 23h0m-6-3h0m-4-9h0m-2 9h0m-2-14h0m-3 15h0m-4-6h0m-1-9h0m-11 12h0m-4-13h0m-5 19h0m-6-15h0m-19-3h0m-2 18h0m-1-7h0m-12 9h0m-3-5h0m-20-14h0m-1 15h0m-4 5h0m-1-5h0m-2 5h0m-2-16h0m-10-4h0m-10 5h0m-13 1h0m-2 3h0m-7-11h0m-11 21h0m-3-10h0m-5 1h0m0-5h0m-7 10h0m-9-12h0m-1 11h0m-1-12h0m-5-4h0m-7 18h0m-4-8h0m0-8h0m-6 17h0m-3-15h0m-2 32h0m2-4h0m5 4h0m3 8h0m4-16h0m3 5h0m2-1h0m11-1h0m0 15h0m20-20h0m7 5h0m3 7h0m2-13h0m3 11h0m4 4h0m2-13h0m2 14h0m1 1h0m8-11h0m1 10h0m3 4h0m2-20h0m8-1h0m14-1h0m0 21h0m2-9h0m0 10h0m5-13h0m6-6h0m5-3h0m2 18h0m23-6h0m3 1h0m6 0h0m2-5h0m1 4h0m3 10h0m3-19h0m2 20h0m13-23h0m5 11h0m5-10h0m0 20h0m10-5h0m5-5h0m13 8h0m0 10h0m-2 6h0m-4 12h0m-2-8h0m-2-10h0m-14 3h0m-6 4h0m-7 8h0m-8-13h0m-6-4h0m-13 15h0m-7-4h0m-2-5h0m-3 7h0m-24-13h0m-14 20h0m0-14h0m-2-4h0m-2 9h0m-6-4h0m-8 5h0m-6 0h0m0-3h0m-10-6h0m-9 1h0m-3 12h0m0-4h0m-10-3h0m-12-4h0m-8 5h0m-12 8h0m-7-9h0m0-4h0m-4 13h0m0-17h0m-5 4h0m-5 1h0m-3 3h0m-4-9h0m-2 9h0m-2 5h0m75 8h0m14-1h0m36 0h0m39 1h0m12-1h0m30 0h0m22 0h0" stroke="#ff7f0e" stroke-width="7.2" stroke-linecap="round" stroke-opacity="0.3" fill="none"/>
<path transform="scale(.25)" d="M386 2225h0m152 28h0m-1-6h0m-37-6h0m-40 11h0m-1 0h0m-17-10h0m-16 8h0m-11-7h0m-35 3h0m-3-2h0m-4-1h0m-37 7h0m-7 8h0m5 12h0m41 9h0m14-23h0m3 14h0m10 3h0m14-9h0m3 8h0m22-9h0m17 16h0m11-20h0m34 20h0m6-23h0m6 12h0m4-10h0m6 15h0m3-11h0m7 32h0m-5-4h0m-1 10h0m-4-2h0m-2 0h0m-1-13h0m-13 10h0m-1-1h0m-45 0h0m-10-2h0m-3 4h0m-10 2h0m-6-10h0m-11 3h0m-12 6h0m-2 6h0m-1 0h0m-13 0h0m-4-11h0m-9 4h0m-1 3h0m-5 1h0m-3 1h0m0-11h0m-10-7h0m-7 10h0m-8 10h0m-11-8h0m-5-2h0m-2-6h0m0 24h0m3 16h0m13-18h0m3 3h0m3 12h0m21 0h0m3-10h0m0 5h0m4-9h0m16-5h0m4 22h0m10-22h0m0 3h0m2 3h0m6 9h0m2-6h0m8-3h0m3-3h0m3 4h0m5 11h0m5-4h0m1-1h0m1-9h0m9 5h0m1 13h0m5 0h0m2-17h0m24-3h0m1 5h0m6 11h0m1-4h0m0 6h0m3-15h0m9 4h0m2-10h0m4 15h0m30 0h0m9 12h0m-11 0h0m-15 12h0m-6-2h0m-5 5h0m-6 2h0m-6 3h0m-11-17h0m-4 0h0m-8 4h0m-1-4h0m-5 0h0m-4 9h0m-1-13h0m-3 3h0m-9 18h0m-9-7h0m-8 1h0m0-9h0m-6 9h0m-2-12h0m-13 8h0m-4-3h0m-4-2h0m-5 10h0m-3 5h0m-4-5h0m-14-12h0m-1 1h0m-15 7h0m-1 4h0m-1-18h0m-3 19h0m-1-18h0m-5 19h0m-9-10h0m-2-8h0m-19 21h0m0-4h0m-2 24h0m29 0h0m4-9h0m27 4h0m10-8h0m0 7h0m7 9h0m10-2h0m27-6h0m1 9h0m4-11h0m2 3h0m5 6h0m5-8h0m3 10h0m2-23h0m4 6h0m2 12h0m5 1h0m6-6h0m8 6h0m1-10h0m10 14h0m6-5h0m5 1h0m14-4h0m2-7h0m6 6h0m0 2h0m0 0h0m1 7h0m4-18h0m1 4h0m2 11h0m17-14h0m2 5h0m-58 14h0m-107-1h0m-3 0h0" stroke="#ff7f0e" stroke-width="7.2" stroke-linecap="round" stroke-opacity="0.3" fill="none"/>
<path transform="scale(.25)" d="M387 2226h0m172 24h0m-12-5h0m-5 0h0m-5 4h0m-1 3h0m-16-3h0m-14-7h0m-4 4h0m-2 8h0m-28-1h0m-22-6h0m-4 1h0m-9-5h0m-15 2h0m-9 9h0m-45-5h0m-7-7h0m-10 5h0m-19 22h0m7-7h0m17 15h0m15 1h0m25-18h0m8-4h0m12 7h0m1 2h0m10-4h0m23 10h0m7-14h0m23 1h0m37 18h0m19 0h0m1-14h0m-15 34h0m-1 7h0m-5-9h0m-4 2h0m-15-4h0m-10 8h0m-4-20h0m-3 19h0m-8 0h0m-13 0h0m-14 0h0m-21 3h0m-7-15h0m-8 15h0m0-5h0m-9-8h0m-2 9h0m-3-7h0m0-6h0m-4 14h0m-2-3h0m0-10h0m-4 6h0m-12-4h0m0-1h0m-3 4h0m-1-10h0m-3 17h0m-5-13h0m-3 11h0m-9 5h0m-4-2h0m-15-2h0m5 20h0m7 2h0m5-8h0m5 1h0m17 14h0m11-5h0m2 3h0m1-19h0m3 21h0m23-19h0m1 12h0m1 8h0m1-1h0m9-7h0m2 8h0m2 0h0m6-5h0m1-17h0m7 1h0m2 14h0m4-5h0m4-5h0m0 13h0m15-10h0m10 5h0m5-2h0m11-2h0m8-10h0m4 8h0m20 4h0m5-9h0m5 5h0m5 5h0m2 2h0m2-12h0m6-1h0m9 29h0m-1 2h0m-5-1h0m-11 13h0m-1-7h0m-1-14h0m-12 3h0m-13 18h0m0-8h0m-3 3h0m-7-11h0m-11 2h0m-9-6h0m-16 14h0m-8 1h0m-11 3h0m-1-10h0m-13 14h0m0-10h0m-6-7h0m-4 10h0m-13-11h0m-7-3h0m-4 19h0m-1 1h0m-1-21h0m-7 14h0m-9 6h0m-1-9h0m-1 11h0m-11-13h0m-21 3h0m-4-4h0m-5 8h0m-4-6h0m-2 1h0m-5 25h0m4 1h0m4-12h0m0 1h0m4 18h0m2-21h0m1 13h0m0 5h0m12-16h0m3 13h0m1 5h0m9-9h0m18 7h0m1-8h0m1 4h0m13 7h0m2 1h0m26-18h0m0 0h0m5 11h0m0 8h0m2-20h0m3 18h0m4-3h0m8-4h0m9 8h0m1-15h0m9-7h0m8 7h0m6-4h0m2 2h0m0 3h0m8-7h0m14 12h0m3 6h0m1-19h0m2 0h0m9 2h0m0 0h0m22 19h0m1-7h0m1 0h0m-133 11h0m-47-1h0" stroke="#ff7f0e" stroke-width="7.2" stroke-linecap="round" stroke-opacity="0.3" fill="none"/>
<path transform="scale(.25)" d="M524 2030h0m36 22h0m-44 6h0m-20 5h0m22 13h0m5 3h0m37-12h0m-78 21h0m-24 21h0m43 3h0m30 3h0m-21 41h0m-133 20h0m92 2h0m87 4h0m-168 14h0m-11 6h0m-10 8h0" stroke="#2ca02c" stroke-width="8.8" stroke-linecap="round" stroke-opacity="0.35" fill="none"/>
<path transform="scale(.25)" d="M552 2014h0m5 11h0m-7 0h0m-32 11h0m13 9h0m9 10h0m0 13h0m-7-3h0m-17 15h0m-35 20h0m10 9h0m7-13h0m31 4h0m-60 14h0m-9 16h0m-17 3h0m-8 13h0m21 11h0m17-18h0m26 17h0m23 9h0m-106 5h0m-17 15h0m3 11h0m36-12h0m62 11h0" stroke="#2ca02c" stroke-width="8.8" stroke-linecap="round" stroke-opacity="0.35" fill="none"/>
<path transform="scale(.25)" d="M507 2045h0m33-3h0m3 7h0m14 16h0m-36 20h0m-34 12h0m31 12h0m5 0h0m19-2h0m-96 20h0m-5-15h0m-16 22h0m66 6h0m1 11h0m4-9h0m-46 36h0m-2-13h0m-19 7h0m-31 2h0m-7-11h0m-39 39h0m15-2h0m18-7h0m6 12h0m69-17h0m93 2h0" stroke="#2ca02c" stroke-width="8.8" stroke-linecap="round" stroke-opacity="0.35" fill="none"/>
<path transform="scale(.25)" d="M540 2014h0m5-8h0m13-13h0m0 1h0m-23 24h0m-2 2h0m-6 4h0m-4 9h0m-28 24h0m-5 10h0m-15 10h0m-30 31h0m20-19h0m-25 24h0m-9 7h0m0 0h0m-56 59h0m7-10h0m5-3h0m-23 21h0m-6 8h0" stroke="#2ca02c" stroke-width="8.8" stroke-linecap="round" stroke-opacity="0.45" fill="none"/>
<path transform="scale(.25)" d="M546 2006h0m10-9h0m-25 27h0m-3 0h0m-13 13h0m-22 21h0m2-1h0m4-3h0m3-3h0m3-3h0m2-4h0m-22 22h0m-8 9h0m-10 10h0m-12 12h0m6-4h0m-52 51h0m0-2h0m-4 5h0m-7 6h0m-2 4h0m-5 5h0" stroke="#2ca02c" stroke-width="8.8" stroke-linecap="round" stroke-opacity="0.45" fill="none"/>
<path transform="scale(.25)" d="M540 2015h0m5-7h0m-12 11h0m-1 4h0m-11 12h0m-4-1h0m-28 28h0m4 0h0m15-17h0m-33 32h0m-4 3h0m-3 5h0m-24 22h0m13-10h0m2-2h0m-20 19h0m-5 7h0m-13 11h0m0-2h0m-5 9h0m-24 25h0m-5 0h0m-1 2h0m-12 14h0m0-2h0m-3 2h0m-10 12h0" stroke="#2ca02c" stroke-width="8.8" stroke-linecap="round" stroke-opacity="0.45" fill="none"/>
<line x1="91.1" y1="546.6" x2="93.0" y2="544.7" stroke="#2ca02c" stroke-width="2.2" stroke-opacity="0.65" stroke-linecap="round"/>
<line x1="102.6" y1="535.1" x2="106.4" y2="531.3" stroke="#2ca02c" stroke-width="2.2" stroke-opacity="0.65" stroke-linecap="round"/>
<line x1="114.1" y1="523.6" x2="118.7" y2="519.0" stroke="#2ca02c" stroke-width="2.2" stroke-opacity="0.65" stroke-linecap="round"/>
<line x1="127.5" y1="510.2" x2="131.3" y2="506.4" stroke="#2ca02c" stroke-width="2.2" stroke-opacity="0.65" stroke-linecap="round"/>
<path d="M159.3 594.5L186.0 567.7L188.3 577.3L189.9 586.8L189.1 592.6L186.0 594.5Z" fill="#2f7dbb" fill-opacity="0.8"/>
<path transform="scale(.25)" d="M770 2247h0m9-3h0m-11 17h0m-12 7h0m-1 10h0m0-3h0m-28 16h0m4-5h0m16 7h0m0 7h0m3-3h0m4-12h0m12 38h0m-6-7h0m-1 9h0m-3-16h0m-3 18h0m0-9h0m-5 5h0m-4-19h0m-1 18h0m-7-17h0m-2 20h0m-1-3h0m-1-3h0m-2 8h0m-4-16h0m-1-2h0m-3-1h0m-6-1h0m-10 4h0m-1 3h0m-7 7h0m-28 25h0m3 5h0m1-9h0m1 6h0m2-2h0m1-3h0m9-7h0m12-1h0m3 0h0m0 10h0m5-15h0m4 19h0m2 1h0m2-22h0m1 12h0m3 9h0m1 0h0m5-5h0m5-15h0m0 18h0m0 0h0m1-10h0m7 2h0m2-7h0m0 11h0m2-7h0m1 5h0m0 1h0m0 4h0m1 4h0m8-2h0m4-8h0m14 5h0m15 28h0m0-1h0m-27-20h0m-1 17h0m-3-8h0m-5 3h0m0-6h0m-1 5h0m0-6h0m-1 8h0m-6 9h0m-1-6h0m-2-9h0m-1 2h0m-1-5h0m-2 18h0m-1-1h0m-2-10h0m-2-11h0m-7 4h0m-1 5h0m-2-7h0m-9 19h0m-3-13h0m0-8h0m-3 1h0m-6 18h0m-9 0h0m0-10h0m-1 6h0m0-3h0m0-3h0m-2-5h0m-8 16h0m-1-14h0m-8 13h0m0-8h0m-2-5h0m-4 4h0m-2 13h0m-3-9h0m-2 4h0m-1-2h0m-1-4h0m-8 5h0m-1 5h0m1 3h0m35 0h0m14 0h0m31-1h0m24 0h0" stroke="#1f77b4" stroke-width="6.8" stroke-linecap="round" stroke-opacity="0.4" fill="none"/>
<path transform="scale(.25)" d="M772 2245h0m13 29h0m-4 2h0m-9-10h0m-9 7h0m-8 3h0m-1-1h0m-4 1h0m-2-1h0m-2 2h0m-2-4h0m-24 29h0m8-14h0m0 5h0m0 3h0m3-7h0m2 0h0m2 3h0m3-11h0m0 13h0m4-5h0m0 8h0m7-11h0m6 6h0m23 10h0m2 11h0m0-3h0m-7 12h0m-5-15h0m-11 2h0m-6 13h0m-1 4h0m-1-4h0m-7-13h0m-2-3h0m-2 17h0m-3 1h0m-1-5h0m-1-3h0m0-8h0m0 0h0m-4-3h0m-3 5h0m-2 17h0m-2-15h0m-1 5h0m-2 8h0m-9-5h0m0-9h0m-5 0h0m-7 10h0m-29 29h0m3-5h0m0 4h0m8 0h0m7-18h0m7 0h0m0 12h0m0 4h0m3-10h0m2 13h0m5-13h0m6 12h0m2-17h0m0 4h0m1-8h0m5 0h0m8 9h0m3-5h0m1-4h0m1 22h0m1-21h0m2 8h0m1 2h0m3 5h0m7 6h0m0 1h0m8-7h0m2-13h0m4 14h0m30 25h0m-32-1h0m-2-9h0m0-1h0m-6-6h0m-2 8h0m-7 8h0m-2 4h0m0-20h0m-3 10h0m-1 7h0m-2 3h0m-1 0h0m-4-6h0m-7-12h0m-3 5h0m-5 13h0m-5 1h0m-4-11h0m-1 3h0m-1-8h0m-3 8h0m0-5h0m-2 6h0m0-8h0m-6 3h0m-1-3h0m0-6h0m-4-1h0m-3 23h0m-2-1h0m-2 0h0m-1-20h0m-1-2h0m-1 5h0m0-2h0m-8-3h0m-1 3h0m0-1h0m-3 0h0m-1 1h0m-1 10h0m-7 0h0m-4 7h0m-9 4h0m69 1h0m44 0h0m2-1h0" stroke="#1f77b4" stroke-width="6.8" stroke-linecap="round" stroke-opacity="0.4" fill="none"/>
<path transform="scale(.25)" d="M780 2250h0m-2 18h0m-19-4h0m-3 12h0m-1-9h0m-2 9h0m0-4h0m-1-2h0m-1 2h0m-5 6h0m-29 23h0m1-3h0m4 3h0m5-6h0m4-8h0m5-7h0m2 11h0m0 9h0m7-3h0m6-12h0m3 14h0m32-5h0m-8 27h0m-20-5h0m-1-2h0m-1 9h0m-1-15h0m-1-1h0m-8 12h0m0-8h0m-9 14h0m-2-20h0m-7 16h0m-3-14h0m-2 7h0m-1 13h0m-1-12h0m-3 12h0m-1-15h0m-6 11h0m-5-12h0m-6 14h0m-31 23h0m3-4h0m1 4h0m3-5h0m16-3h0m2 11h0m3-20h0m0 4h0m2-7h0m1 13h0m13 8h0m1-6h0m2-11h0m2-2h0m0 3h0m4 18h0m4-3h0m3-15h0m1 10h0m1-13h0m1 0h0m0 8h0m0 8h0m4-18h0m3 3h0m3 4h0m3 15h0m1-22h0m2 4h0m5 4h0m0 5h0m2-2h0m4 2h0m27 22h0m-25-10h0m-11 13h0m-1-1h0m-2 2h0m-3-14h0m-11 4h0m0-2h0m-1 14h0m-13-17h0m-2 20h0m0 0h0m-1-3h0m-2 6h0m0-23h0m-4 2h0m-1-2h0m-1 7h0m-1 4h0m-1-8h0m-4 19h0m-13-16h0m-3-2h0m-3 0h0m-4 17h0m0-9h0m-4-5h0m-8-1h0m-2 17h0m-1-12h0m-7-4h0m-1 15h0m-3 1h0m-5 0h0m0-3h0m1 5h0m2 0h0m11 0h0m22 0h0m3 0h0m43 0h0m17-1h0" stroke="#1f77b4" stroke-width="6.8" stroke-linecap="round" stroke-opacity="0.4" fill="none"/>
<path transform="scale(.25)" d="M752 2268h0m1-5h0m14 4h0m22-5h0m-30 40h0m-1-15h0m0-2h0m-5 9h0m-1-3h0m-2-2h0m0-1h0m-7-2h0m-2 8h0m-2 9h0m-2 0h0m-4-20h0m-6 17h0m-7-5h0m-17 22h0m5 4h0m5-7h0m0 5h0m0 8h0m6-21h0m1 1h0m7 18h0m2-11h0m3 9h0m10-8h0m2-8h0m1 6h0m6 4h0m23 12h0m-3 12h0m-2 9h0m-6-16h0m-6-3h0m-2 20h0m-10-12h0m-2 6h0m-4 1h0m-3-2h0m0-6h0m-4 4h0m-4 0h0m-7-10h0m-7 19h0m-2 0h0m-2-10h0m0-4h0m-3-5h0m0-2h0m-1 17h0m-2 1h0m-2-8h0m-2 11h0m-2-5h0m-1 1h0m-1-10h0m-8 13h0m0-14h0m-38 36h0m8-4h0m8-3h0m13-2h0m9 3h0m0 6h0m4 0h0m7-11h0m2-1h0m0 5h0m8-2h0m2-4h0m3 13h0m7-6h0m3-13h0m1 9h0m3 12h0m3-19h0m0 1h0m2-2h0m10 1h0m5 4h0m5 16h0m2-7h0m3 3h0m0 5h0m-52 1h0" stroke="#1f77b4" stroke-width="6.8" stroke-linecap="round" stroke-opacity="0.4" fill="none"/>
<path transform="scale(.25)" d="M786 2231h0m-32 31h0m-4 6h0m-2 1h0m-2 0h0m-4 9h0" stroke="#1f77b4" stroke-width="7.2" stroke-linecap="round" stroke-opacity="0.5" fill="none"/>
<path transform="scale(.25)" d="M788 2228h0m-6 6h0m-7 6h0m-4 4h0m-4 8h0m-2 2h0m-5 1h0m-21 21h0m5-4h0m8-9h0m4-2h0m-23 23h0m-2 3h0" stroke="#1f77b4" stroke-width="7.2" stroke-linecap="round" stroke-opacity="0.5" fill="none"/>
<path transform="scale(.25)" d="M790 2229h0m-6 4h0m-5 3h0m-2 5h0m-4 1h0m-4 4h0m-6 9h0m-26 23h0m21-21h0m-23 25h0m-6 4h0" stroke="#1f77b4" stroke-width="7.2" stroke-linecap="round" stroke-opacity="0.5" fill="none"/>
<path transform="scale(.25)" d="M803 2252h0m16-3h0m39 1h0m96-10h0m14 13h0m21-4h0m33 0h0m1 2h0m0 19h0m-2-2h0m-18 1h0m-23-4h0m-2 3h0m-7 5h0m0-7h0m-1-2h0m-8-2h0m0-1h0m-28 12h0m-10-5h0m-8 6h0m-34-8h0m-2 4h0m-14-3h0m-1-1h0m-3 0h0m-38-8h0m-5 3h0m-18 0h0m-10 33h0m3 9h0m8-5h0m9-13h0m20 3h0m2 0h0m58 10h0m47-2h0m1-11h0m46 2h0m9 10h0m10-15h0m7 18h0m-26 27h0m-4-9h0m-1-2h0m-12-9h0m-4 20h0m-3-11h0m-23-3h0m-13-3h0m-17 11h0m-10 3h0m-14 2h0m-12-21h0m-20 20h0m-4-11h0m-2-1h0m-5-1h0m-18 14h0m-1-16h0m-4 16h0m-12-8h0m-3-13h0m-12 37h0m39 7h0m10 1h0m9-9h0m3-3h0m8-6h0m25-1h0m12 9h0m32 11h0m1-14h0m24 9h0m5 2h0m13-12h0m22 13h0m5-3h0m24 11h0m-12 5h0m-5 2h0m-10 0h0m-13-1h0m-3 8h0m-3-17h0m-2 15h0m-17-17h0m-19 9h0m0-7h0m-1 14h0m-16-6h0m-6-6h0m-6 10h0m-28 3h0m-4 1h0m-50-16h0m-6-1h0m-22 12h0m-1-5h0m47 17h0m171 0h0" stroke="#ff7f0e" stroke-width="7.2" stroke-linecap="round" stroke-opacity="0.12" fill="none"/>
<path transform="scale(.25)" d="M809 2248h0m26 2h0m13-1h0m3-1h0m5-16h0m50 1h0m9 17h0m4 5h0m30-2h0m1 2h0m41-7h0m30 8h0m-3 1h0m-25 14h0m0-5h0m-6 12h0m-8-22h0m-2 10h0m-17 8h0m0-18h0m-13 16h0m-1 6h0m-22-15h0m-5-3h0m-23 10h0m-8 4h0m-1-3h0m-1-2h0m-8-3h0m-18-1h0m-16-3h0m-6 10h0m-23-6h0m-4 3h0m-7-1h0m-4-3h0m-9 26h0m5 9h0m3-14h0m1 7h0m4-6h0m7 0h0m16-6h0m1 15h0m15-4h0m1-5h0m1 7h0m74 1h0m4 1h0m18-15h0m25 17h0m1-7h0m1-8h0m3 0h0m5 18h0m6-2h0m3-16h0m8 19h0m31-11h0m-6 20h0m-3 7h0m-19-8h0m-30 2h0m-22 9h0m0-15h0m-5 0h0m-18 13h0m-11-13h0m-1 9h0m-1 10h0m-7-8h0m-27 7h0m-2-6h0m-5-4h0m-16-1h0m-12-1h0m-20-2h0m-17 11h0m-2-6h0m9 34h0m9 2h0m42-11h0m6 5h0m5-5h0m44 3h0m15-15h0m16 18h0m6-2h0m7-5h0m23-11h0m25 12h0m4 5h0m-1 16h0m-1 2h0m-8-4h0m-15-2h0m-18 10h0m-1-15h0m-3 4h0m-20 6h0m-35 10h0m-6-11h0m-4 9h0m-28-16h0m-2 6h0m-9 7h0m-8-2h0m-14 0h0m0-1h0m-31-5h0m-1 16h0m0-22h0m-11 6h0" stroke="#ff7f0e" stroke-width="7.2" stroke-linecap="round" stroke-opacity="0.12" fill="none"/>
<path transform="scale(.25)" d="M806 2249h0m49 3h0m27-1h0m33-3h0m29 6h0m32-4h0m29 4h0m2 24h0m-2-14h0m-12 11h0m-24-5h0m-11-6h0m-22-2h0m-15 10h0m-16 1h0m-8-11h0m-7 17h0m-7-15h0m-13 8h0m-17-7h0m-24 14h0m-1-20h0m-1-1h0m-13 6h0m-3 5h0m14 17h0m14 2h0m8 0h0m17 5h0m2-12h0m12 0h0m4 17h0m7-10h0m10 7h0m1-10h0m3 7h0m29 3h0m15-8h0m3-4h0m14-1h0m3 16h0m4-4h0m3-11h0m1 19h0m12-22h0m11 15h0m11 32h0m0-3h0m-9 1h0m-1 2h0m-7-5h0m-4-8h0m-4 12h0m-9-4h0m-15-12h0m-1-4h0m-39 18h0m-1-4h0m-22 3h0m-10-7h0m-10-11h0m-12 18h0m-6-1h0m-8-2h0m-12-5h0m-23 5h0m-5 7h0m-13-10h0m-2 16h0m11 10h0m8 3h0m18 3h0m20 2h0m28-20h0m12 2h0m11 1h0m31 16h0m1-9h0m7-2h0m10-8h0m1 1h0m14-1h0m40 2h0m2 10h0m10-2h0m3 20h0m-13-9h0m-3 0h0m-30 2h0m-9 11h0m-1-11h0m-13 0h0m-2 17h0m-15-8h0m-6-1h0m-15 13h0m-12-23h0m-12 2h0m-27 9h0m-4-6h0m-11-2h0m-19 13h0" stroke="#ff7f0e" stroke-width="7.2" stroke-linecap="round" stroke-opacity="0.12" fill="none"/>
<path transform="scale(.25)" d="M844 2254h0m2-11h0m14 6h0m25 1h0m36 2h0m72 3h0m8 11h0m-2 12h0m-14-16h0m-2 15h0m-37-15h0m-1 2h0m-12-2h0m-3-4h0m-5 17h0m-7-18h0m-63 10h0m-31 12h0m-2-12h0m-7-7h0m-9-4h0m-7 4h0m-4 18h0m0 8h0m8 1h0m23-7h0m5 10h0m1-7h0m1 1h0m12 10h0m7 9h0m16-11h0m2-2h0m9 10h0m41-3h0m22-9h0m4-7h0m3 17h0m9-17h0m17 13h0m8-10h0m27 3h0m8 7h0m1 33h0m-22-21h0m-10 9h0m-5-9h0m-10 6h0m-13-7h0m-27 22h0m-34-9h0m-17 6h0m-4-3h0m-29-10h0m-17-1h0m-34 1h0m-3 0h0m-2 22h0m39-1h0m14 16h0m34-11h0m6 11h0m14 3h0m1-18h0m7 8h0m12-6h0m16 5h0m9 2h0m14 8h0m2-18h0m25 2h0m10 13h0m17 0h0m3 2h0m5 26h0m0-19h0m-1 10h0m-5-10h0m-23 12h0m-18-2h0m-3-9h0m-6 16h0m-5-11h0m-7 0h0m-79 8h0m-2 1h0m-23-11h0m-5 5h0m-19-13h0m-8 12h0m-3-5h0m-5-3h0m48 20h0m96 1h0" stroke="#ff7f0e" stroke-width="7.2" stroke-linecap="round" stroke-opacity="0.12" fill="none"/>
<path transform="scale(.25)" d="M817 2249h0m46 0h0m68 3h0m61 0h0m22-2h0m5 8h0m-6 15h0m-10 3h0m-2-3h0m-71 5h0m-1 1h0m-9-5h0m-10-4h0m-9 4h0m-2-5h0m-14 10h0m0-13h0m-4 8h0m-5-17h0m-4 3h0m-2 9h0m-58 1h0m-6-9h0m-13-4h0m11 36h0m1-11h0m15 13h0m38-3h0m1-1h0m7 8h0m25-15h0m4 8h0m5-12h0m15 3h0m13-2h0m6 5h0m10 3h0m12 6h0m6 4h0m13-13h0m11 15h0m13-12h0m8 2h0m2 11h0m15 7h0m-30 16h0m-9-11h0m0-9h0m-23 9h0m-27 12h0m0-11h0m-2-5h0m-2 9h0m-30-13h0m-9 0h0m-10 12h0m-19-10h0m0-4h0m-4 10h0m-18 1h0m-10-4h0m-7 3h0m-12 13h0m-18 15h0m13 0h0m15 1h0m9 1h0m17-6h0m16-5h0m11 13h0m8-14h0m34 14h0m11-14h0m11 18h0m7-15h0m4 13h0m20-6h0m4 5h0m17-9h0m18-5h0m9-5h0m-11 38h0m-28 8h0m-5 0h0m-7 1h0m-4-23h0m-4 23h0m-14-13h0m-1 6h0m-11-2h0m-3-2h0m-6-6h0m-11 3h0m-4-1h0m-4-3h0m-12 17h0m-26-16h0m-1 7h0m-2-3h0m-1 4h0m-12 5h0m-17 3h0m-9-20h0m-3 5h0m-11 13h0m-8-11h0m-6-7h0m-1 15h0m-6-17h0m57 25h0" stroke="#ff7f0e" stroke-width="7.2" stroke-linecap="round" stroke-opacity="0.12" fill="none"/>
<path transform="scale(.25)" d="M1020 2051h0m-1 25h0m-12 2h0m-3-5h0m-44 7h0m-4 4h0m-7-6h0m-5 7h0m-22 24h0m4-10h0m25-10h0m15 1h0m4 15h0m11-17h0m8 3h0m6 8h0m8 31h0m-90-16h0m-10 15h0m-8 6h0m-6-6h0m-9 10h0m4-3h0m4 23h0m3-23h0m0 3h0m7-1h0m11 12h0m14-8h0m3 14h0m24-16h0m16 11h0m0 3h0m2-8h0m9 2h0m41 16h0m-49 12h0m-1-2h0m-7-3h0m-47 2h0m-49-13h0m-6 0h0m-8 9h0m-29 30h0m20-10h0m1-1h0m53 4h0m3 8h0m3-15h0m18 2h0m8 19h0m36-20h0m6 19h0m24-13h0m-93 29h0m-4 4h0m-8-6h0m-28-4h0m-54 5h0m0-2h0" stroke="#2ca02c" stroke-width="7.2" stroke-linecap="round" stroke-opacity="0.16" fill="none"/>
<path transform="scale(.25)" d="M1015 2006h0m7 27h0m0-1h0m-27 5h0m-27 15h0m34 11h0m4-5h0m-2 10h0m-48-1h0m-48 41h0m12-7h0m8-8h0m45 9h0m27-6h0m-18 38h0m0-12h0m-16 2h0m-31 9h0m-18-19h0m-50 45h0m15-2h0m2-17h0m31-2h0m56 18h0m3-9h0m21 10h0m16-8h0m-6 31h0m-7-19h0m-16 0h0m-8 14h0m-16 5h0m-16 3h0m-69-17h0m-4 6h0m-46 26h0m22-5h0m13 4h0m0 2h0m4 7h0m10-14h0m44 8h0m51 19h0m-11 3h0m-56-6h0m-43 7h0m-12-9h0m-14 9h0m-12 2h0" stroke="#2ca02c" stroke-width="7.2" stroke-linecap="round" stroke-opacity="0.16" fill="none"/>
<path transform="scale(.25)" d="M1010 2023h0m6 10h0m-2 27h0m-4-4h0m-30 2h0m-20 29h0m6-21h0m6 3h0m5-5h0m13 14h0m11 30h0m-17-7h0m-12-6h0m-80 39h0m4-13h0m25 1h0m2 1h0m13-3h0m23-8h0m34 3h0m20 0h0m-83 37h0m-13-11h0m-11 17h0m-9-3h0m-36 14h0m26 7h0m28 1h0m12-5h0m15-12h0m34 2h0m-7 35h0m-31-12h0m-49 18h0m-8-17h0m-15 19h0m-11-21h0m-1 1h0m-12 11h0m-2-4h0m-37 28h0m6 3h0m15-9h0m10-1h0m15-2h0m40 9h0m32-6h0" stroke="#2ca02c" stroke-width="7.2" stroke-linecap="round" stroke-opacity="0.16" fill="none"/>
<path transform="scale(.25)" d="M1009 2010h0m10 15h0m-25-1h0m-38 35h0m21-16h0m31 8h0m5-1h0m5 17h0m-23 6h0m-17-7h0m-56 36h0m38 9h0m19-4h0m26-18h0m10 14h0m5 13h0m-18 4h0m-10-4h0m-4 2h0m-5 11h0m-17-3h0m-8-6h0m-49 4h0m-5-10h0m-2 40h0m15 5h0m30-9h0m4 9h0m1-15h0m21 9h0m14-17h0m8 29h0m-64 3h0m-7 0h0m-22-1h0m-59 35h0m29-11h0m8-6h0m1 3h0m45 11h0m55 14h0m-32 7h0m-74 3h0m-70 2h0" stroke="#2ca02c" stroke-width="7.2" stroke-linecap="round" stroke-opacity="0.16" fill="none"/>
<line x1="197.5" y1="556.2" x2="255.9" y2="497.6" stroke="#2ca02c" stroke-width="1.9" stroke-opacity="0.7" stroke-linecap="round"/>
<path transform="scale(.25)" d="M1005 2010h0m2 0h0m10-11h0m-17 17h0m-12 10h0m-2 2h0m-31 32h0m7-6h0m7-9h0m5-5h0m-28 31h0m-3 0h0m-21 24h0m5-6h0m-26 26h0m-5 3h0m-4 6h0m-34 35h0m3-4h0m-14 13h0m-10 10h0m-19 19h0m-19 19h0" stroke="#2ca02c" stroke-width="7.2" stroke-linecap="round" stroke-opacity="0.4" fill="none"/>
<path transform="scale(.25)" d="M1024 1991h0m-3 4h0m-11 10h0m-7 7h0m-24 27h0m14-18h0m2-2h0m-23 24h0m-5 5h0m-9 9h0m-29 29h0m3-3h0m4-4h0m3-2h0m2-4h0m-16 20h0m-5 2h0m-7 10h0m-3 2h0m-4 3h0m-22 22h0m5-6h0m14-12h0m-26 24h0m-4 5h0m-3 5h0m-2 0h0m-33 32h0m5-4h0m4-4h0m5-6h0m-19 21h0m-5 3h0m-2 2h0m-2 4h0m-12 10h0m-2 2h0" stroke="#2ca02c" stroke-width="7.2" stroke-linecap="round" stroke-opacity="0.4" fill="none"/>
<path transform="scale(.25)" d="M1012 2004h0m2-1h0m5-7h0m-21 21h0m-7 7h0m-7 12h0m-3 0h0m-4 3h0m-24 24h0m7-8h0m5-5h0m-14 16h0m-3 4h0m-14 11h0m-26 27h0m7-5h0m3-6h0m-19 20h0m-5 5h0m-7 6h0m-5 5h0m-26 26h0m7-4h0m3-4h0m9-11h0m5-4h0m-26 26h0m-3 2h0m-9 9h0m-31 32h0m3-2h0m2-4h0m12-10h0m5-4h0m-29 29h0m-2-1h0m-5 6h0m-2 2h0m-3 3h0m-2 1h0" stroke="#2ca02c" stroke-width="7.2" stroke-linecap="round" stroke-opacity="0.4" fill="none"/>
<path d="M321.3 593.5L400.0 515.2L400.0 593.5Z" fill="#bcd5ec" fill-opacity="0.35"/>
<path transform="scale(.25)" d="M1564 2101h0m9 9h0m19-17h0m4 42h0m-3-5h0m0-17h0m-23 8h0m-2 12h0m-8 0h0m-24 2h0m-22 15h0m23-9h0m16 8h0m4 2h0m12 0h0m10-9h0m9 10h0m2 0h0m4 9h0m-3 8h0m0-2h0m-3-2h0m-18 11h0m0-6h0m-2 2h0m-1-7h0m-1 12h0m-3-6h0m-18 11h0m-8-21h0m-3 6h0m-11-4h0m-48 42h0m3-8h0m16 8h0m9-20h0m5 16h0m15-10h0m1 11h0m1-14h0m2 9h0m12-10h0m5 17h0m3 3h0m3-2h0m2-17h0m4 11h0m1-11h0m5 9h0m24-6h0m2 6h0m5 8h0m4-9h0m-1 18h0m-3-5h0m-1 9h0m-11-8h0m-17 15h0m-3 6h0m-4-7h0m-4-13h0m-1 9h0m-4 9h0m-5 1h0m-8-3h0m-9 2h0m-6-4h0m-3-3h0m-4 2h0m-12-5h0m-3-2h0m0-8h0m-24 20h0m-5 1h0m0-6h0m-23-5h0m-3 3h0m-23 24h0m2 6h0m33-4h0m12 0h0m0 5h0m9-20h0m3 7h0m5 7h0m1-13h0m6 15h0m19-7h0m6 13h0m3-15h0m2-5h0m3 6h0m9 11h0m4-4h0m2-8h0m2 6h0m2-13h0m7 9h0m4 8h0m6-18h0m9 22h0m3-10h0m11-2h0m4 10h0m1-10h0m4 4h0m1-6h0m5-7h0m1 22h0m0 7h0m0-1h0m-2 18h0m-13-21h0m-2 15h0m-4 3h0m-12-6h0m-4-7h0m-3 14h0m-1 2h0m-1-11h0m-4 5h0m-3 4h0m-4-4h0m-14-10h0m0-4h0m-14 5h0m-7 13h0m-13-4h0m-17-2h0m-1-8h0m-7 8h0m0-6h0m-11 5h0m-9 8h0m-2-6h0m-2-4h0m-19-1h0m-29 10h0m-7-5h0m-8 5h0m-17 19h0m2-3h0m8-4h0m6 11h0m5-9h0m11 7h0m3 3h0m18-10h0m0 2h0m5 6h0m3-6h0m6 4h0m2 4h0m13-18h0m1 16h0m12-13h0m2 2h0m3 3h0m4-1h0m5 0h0m0 4h0m11 3h0m3-13h0m5 14h0m11-3h0m8-8h0m2 6h0m8-12h0m0 3h0m0 3h0m23 9h0m6-8h0m18 7h0m9 3h0m13-18h0m2 25h0m-5 8h0m-2-7h0m-1 6h0m-4-6h0m-2 20h0m-11 0h0m-1-2h0m-4-18h0m-1 17h0m-3-2h0m-1-16h0m-2 8h0m0-7h0m-8 9h0m-10 7h0m-1 2h0m-9-16h0m-23 6h0m-3 6h0m-1-16h0m-14 12h0m-1 3h0m-4 6h0m0-18h0m-1 7h0m0-10h0m-1 15h0m-3-13h0m-9 11h0m-3-8h0m-4 9h0m0-7h0m-2 3h0m-12 11h0m-2-8h0m-1-11h0m-9 14h0m-3-1h0m-1-9h0m-15-3h0m-11-3h0m-6 11h0m-2-7h0m0-3h0m-6 8h0m-3 5h0m-1 2h0m-21 6h0m-2-18h0m-45 33h0m4-3h0m53 13h0m28-15h0m14-8h0m0 17h0m0 4h0m2-12h0m17 4h0m0 4h0m1-14h0m1-3h0m5 13h0m3-1h0m8-9h0m4 0h0m3 17h0m6 2h0m2-2h0m4-4h0m8 0h0m4-15h0m2 22h0m4-8h0m3-13h0m3 9h0m0 9h0m8 1h0m15-2h0m6-3h0m5 3h0m1 2h0m4-13h0m2 0h0m4 5h0m4-10h0m1 11h0m1 7h0m6-21h0m21 0h0m1 4h0m1 1h0m1 18h0m1-6h0m6 2h0m0 3h0m1-9h0m4-12h0m5 39h0m-2-5h0m-9-3h0m-6-3h0m-7 14h0m-5 2h0m-1 0h0m-13-5h0m-1-9h0m-2 10h0m-1-2h0m-3-10h0m0-3h0m-1 2h0m-1 11h0m-2-1h0m-3-3h0m-4 0h0m-2 6h0m0-5h0m-3-11h0m-1 15h0m-7-12h0m-2 17h0m-6-4h0m-3-2h0m-9 5h0m-2-18h0m-1 0h0m-3 8h0m-4 10h0m-1-18h0m-9 5h0m-1-2h0m-6 17h0m-1-13h0m-3 10h0m-4-4h0m-2-9h0m-15-5h0m0-1h0m-12 17h0m0-3h0m-1 5h0m-4-14h0m-2-4h0m-7 9h0m-2 0h0m-3 10h0m-12-10h0m0-5h0m-4 5h0m0-4h0m-28 11h0m0-9h0m-2 1h0m-18-7h0m-2 11h0m-10 0h0m-6-6h0m-16-6h0m-4 20h0m-2-20h0m-9 20h0m-20-3h0" stroke="#1f77b4" stroke-width="6.8" stroke-linecap="round" stroke-opacity="0.2" fill="none"/>
<path transform="scale(.25)" d="M1562 2107h0m17-4h0m6-11h0m5 8h0m7 28h0m-2-7h0m-16 12h0m-43 15h0m0 4h0m9-9h0m14-3h0m0 18h0m6-21h0m31 25h0m-4 11h0m-2-11h0m-1 0h0m-8 11h0m-2-4h0m-3-6h0m-12 17h0m-2-4h0m-7-13h0m-3 7h0m-2 0h0m0-3h0m-7 4h0m-11 8h0m-23-1h0m-1-13h0m-46 42h0m7-3h0m8-14h0m14 14h0m2-10h0m1-10h0m1 6h0m4 11h0m8-6h0m10 2h0m25 0h0m2 8h0m2-17h0m2 4h0m7 5h0m1-8h0m4 18h0m5-21h0m1 10h0m2 11h0m22-3h0m1-10h0m8 35h0m-3-16h0m-16-4h0m-2 16h0m0-6h0m-2-4h0m-2-4h0m-6 20h0m-7-4h0m-1 3h0m-1-1h0m-16-20h0m-24 17h0m-9-3h0m-24-3h0m-3-2h0m-11 8h0m-17-7h0m-37 29h0m10-7h0m12 11h0m29 3h0m3-10h0m1 2h0m16-8h0m7 16h0m5-16h0m11 14h0m2-7h0m21 7h0m1-1h0m3 3h0m4-18h0m7-4h0m0 16h0m1 6h0m10-8h0m4-10h0m0 9h0m3-9h0m1 5h0m2 6h0m14-9h0m2-5h0m1 10h0m4 4h0m4-3h0m0 6h0m-3 15h0m-1-5h0m-3 12h0m0-7h0m-3-6h0m-3 18h0m-7-21h0m-3 16h0m-3-17h0m-2 22h0m-1-22h0m-6 0h0m-4 8h0m-5 4h0m-3 6h0m0-10h0m-5-6h0m-1 11h0m-2-6h0m-7 9h0m-1-2h0m-6-6h0m-3 11h0m-10 4h0m0-21h0m-1-1h0m-1 6h0m-3-1h0m-17-3h0m-6-2h0m-6 20h0m-7 2h0m-3-6h0m-1-14h0m-8-3h0m-8 22h0m-26-19h0m-16 20h0m-12-16h0m-13 24h0m2 2h0m9-4h0m21 7h0m7 10h0m1-4h0m5-3h0m5-3h0m2-12h0m6 7h0m1 9h0m4-3h0m7 4h0m7-9h0m16-3h0m3 1h0m1 7h0m9 7h0m17 2h0m6-3h0m6-9h0m0 1h0m2 7h0m1-6h0m1 11h0m2-5h0m5 5h0m1-6h0m8 4h0m11-19h0m4 19h0m1-20h0m3 7h0m1 11h0m2-5h0m2-2h0m2-3h0m15 8h0m0 25h0m-5 1h0m-16-10h0m-3 12h0m-5-5h0m-4 1h0m-1 4h0m-3-12h0m-4-7h0m-1 6h0m-4 2h0m-2 3h0m-7 10h0m-4-12h0m0-1h0m-3 10h0m-1-5h0m-1-3h0m-6-8h0m-6 7h0m-6-5h0m-7-2h0m-9 1h0m-2 9h0m0 0h0m-1-3h0m-1-7h0m-6-2h0m-2 1h0m-3 6h0m-2 12h0m-6-4h0m-30-5h0m-1 8h0m-5 2h0m-3-18h0m-4 3h0m-1-6h0m-2 0h0m0 0h0m-4-1h0m-12 14h0m-1-13h0m-10 0h0m-13 21h0m-18 9h0m18-7h0m5 3h0m16-3h0m5 12h0m17-4h0m6 14h0m1-13h0m1 3h0m3-2h0m3 1h0m1-2h0m6 3h0m4-8h0m2 6h0m1-4h0m1 8h0m12 0h0m0 2h0m0 0h0m1 2h0m5-12h0m1-6h0m8 11h0m1-10h0m4 0h0m4 19h0m7-17h0m4-1h0m0 17h0m3-17h0m6 12h0m7-10h0m1-2h0m1 6h0m6 1h0m9 9h0m6-2h0m1 3h0m25-19h0m6 7h0m4-1h0m2-4h0m25 2h0m1 11h0m2 18h0m-2-5h0m-2 4h0m-19-6h0m-1 11h0m-3-2h0m-6-8h0m-13 15h0m-2-10h0m-48 2h0m-6-9h0m-3 15h0m-11 1h0m-3 0h0m-5-2h0m0-4h0m-3-5h0m-24-2h0m-7 9h0m-5-2h0m-2 10h0m-1-14h0m-7-3h0m-2 8h0m-21-4h0m-6-6h0m-6 2h0m-8 12h0m-20-4h0m-4 5h0m-12-10h0m-12-2h0m-27 15h0m-2-10h0" stroke="#1f77b4" stroke-width="6.8" stroke-linecap="round" stroke-opacity="0.2" fill="none"/>
<path transform="scale(.25)" d="M1584 2092h0m12 34h0m-12-12h0m-1 15h0m-12-7h0m-2 9h0m-1 0h0m-3-8h0m-14-8h0m-15 19h0m-24 18h0m9-9h0m13 5h0m2 7h0m4-16h0m0 16h0m1-14h0m50-3h0m1 21h0m1-20h0m3 3h0m1 16h0m1-18h0m-1 37h0m-12-7h0m0-9h0m-21 19h0m0-9h0m-5 12h0m-3-20h0m-9 6h0m-2 10h0m-2-19h0m-24 3h0m-35 16h0m5 13h0m12 12h0m9-11h0m0 13h0m3-10h0m10 10h0m1-14h0m1 0h0m2 1h0m17-2h0m10 8h0m2-13h0m5 13h0m7-7h0m10 11h0m2-13h0m1 6h0m4 2h0m1 2h0m2 0h0m5 6h0m0 1h0m2-10h0m-5 28h0m0-17h0m-6 12h0m-1-4h0m-11 3h0m0-9h0m-9 21h0m0-2h0m-5-5h0m-4-3h0m-8-6h0m-6-7h0m-2 23h0m0-14h0m-1 9h0m-2-2h0m0-11h0m-12 18h0m-12 0h0m-5-8h0m-4 1h0m-16-16h0m-18 3h0m-3-1h0m-31 18h0m21 15h0m11-6h0m9 17h0m4-6h0m5-9h0m2-6h0m1 1h0m6 10h0m6-11h0m8 18h0m2-6h0m1 10h0m7-5h0m21-16h0m3 13h0m7-11h0m0 13h0m1-1h0m3 6h0m5-5h0m6-3h0m4 3h0m4-2h0m1-3h0m18-2h0m5 6h0m3-12h0m1 13h0m0 0h0m-2 19h0m-5-8h0m-3-4h0m-4 7h0m-1-7h0m-1 21h0m-3-5h0m-2 0h0m0-16h0m-2 13h0m-2 7h0m-6 0h0m0-11h0m-1 6h0m0-5h0m-2-9h0m-1 9h0m-8 2h0m-8 10h0m0-3h0m-2-5h0m-18-5h0m-7 5h0m-3 2h0m0-8h0m-4 12h0m-15 1h0m-1 2h0m0-10h0m-5-1h0m-6-8h0m-1 3h0m0 0h0m-13 4h0m-4 5h0m0-10h0m-9 11h0m-10 6h0m-2-4h0m-17-18h0m-5 9h0m-7 1h0m-10-6h0m-10 10h0m-21 32h0m28-2h0m15-3h0m7 5h0m5-15h0m6 15h0m2-14h0m5 0h0m3-8h0m3 14h0m6-14h0m16 4h0m1 13h0m5 2h0m3-12h0m7 4h0m21 10h0m1-18h0m11 1h0m0 14h0m4-8h0m0 10h0m1-5h0m3 5h0m3-18h0m0 13h0m2 3h0m7-5h0m3 5h0m9-11h0m16 12h0m3-18h0m2 19h0m4-7h0m12 5h0m6-13h0m-5 41h0m-9-1h0m-9-22h0m-3 3h0m-2 4h0m-10 9h0m-8 1h0m-2 4h0m-5-21h0m-1 16h0m-26-2h0m-4 5h0m-4-6h0m-22-5h0m-1 15h0m-3-13h0m-18-4h0m-12 2h0m0-3h0m-5-5h0m-15 12h0m-11 6h0m-29-3h0m-12-1h0m-9 2h0m0-3h0m-37 9h0m-7 24h0m7-7h0m4 8h0m2-14h0m6 2h0m4-7h0m25-3h0m4 22h0m5-15h0m4 7h0m5-14h0m1 8h0m0 2h0m3 2h0m1 9h0m2-18h0m0 13h0m10-14h0m3 11h0m4 3h0m10-9h0m20-7h0m0 2h0m2 14h0m1 3h0m2-20h0m4 9h0m11-4h0m2-5h0m18 20h0m2-20h0m0 11h0m9 2h0m6 3h0m9-4h0m7 0h0m12-1h0m2 11h0m3-16h0m0 13h0m2-17h0m2 14h0m0 0h0m3-15h0m6 2h0m3 20h0m3-17h0m2-4h0m8-1h0m1 18h0m8-17h0m3 1h0m4 16h0m3-1h0m3-6h0m0 5h0m3 0h0m3-4h0m2-12h0m2 34h0m-1 3h0m0-9h0m-1 1h0m-1-6h0m-1 5h0m-3 7h0m0-8h0m-13 4h0m-2 6h0m0-4h0m-10 2h0m-1-11h0m-5 20h0m-1-8h0m-6-13h0m-5 13h0m-3-7h0m0-1h0m-2 6h0m-1-4h0m-3 6h0m-2-7h0m-11 10h0m0-7h0m-9-6h0m-1-3h0m-1 7h0m-2-2h0m-1 1h0m-3 10h0m-10 2h0m-6 2h0m-1-8h0m-5-1h0m-4 9h0m0-3h0m-1-3h0m-5 0h0m-7-14h0m-7 13h0m0-2h0m-5-2h0m-5-9h0m-2 22h0m0-8h0m0-2h0m-8 9h0m-3-10h0m-7 3h0m-2-9h0m-10-3h0m-2-2h0m-19 19h0m0-10h0m-3 7h0m-3 4h0m0-19h0m-8 16h0m-2 4h0m-1-9h0m-1 6h0m-10-6h0m-7 8h0m-1-2h0m-15-6h0m-1 1h0m-8-13h0m-2 2h0m-2 11h0m-11 7h0m-3-6h0m-17 6h0m-3-1h0" stroke="#1f77b4" stroke-width="6.8" stroke-linecap="round" stroke-opacity="0.2" fill="none"/>
<path transform="scale(.25)" d="M1592 2070h0m-4 28h0m-12 10h0m-16 24h0m7-10h0m0 1h0m0 8h0m2-18h0m1 22h0m14-2h0m3-21h0m2 23h0m6-20h0m3 3h0m0 13h0m2-9h0m-2 28h0m-7-7h0m-1-4h0m-2 17h0m-1-18h0m-4 1h0m-1 10h0m-1 9h0m-4-12h0m-15-5h0m-4 13h0m-8-14h0m-62 37h0m3 4h0m30-2h0m2-15h0m6-2h0m9 6h0m1 5h0m3 5h0m1-10h0m12 10h0m10-7h0m3-10h0m15 3h0m0 2h0m4 7h0m1 1h0m3-2h0m5-6h0m0 10h0m2 26h0m-21-1h0m-2-14h0m-10 17h0m-12-20h0m-11 21h0m-5-15h0m-4-5h0m-7 4h0m-11 1h0m-49 15h0m-3 10h0m4 5h0m13 6h0m21-15h0m16 6h0m24 10h0m10-12h0m17-7h0m0 0h0m4 11h0m1-6h0m6 9h0m0 7h0m15-1h0m4 9h0m-21 17h0m-3-14h0m-3 3h0m-2 9h0m0-13h0m-1 12h0m-1 4h0m-17-3h0m-24-16h0m-8 17h0m-4-2h0m-14-2h0m-15 1h0m-42-6h0m-15-10h0m-7 20h0m-33 25h0m14-1h0m12-6h0m11-8h0m2-7h0m6 22h0m4-4h0m7-3h0m11-2h0m1-7h0m4 10h0m6-7h0m9-1h0m2 0h0m2 1h0m2 2h0m10-11h0m14 11h0m6 1h0m4 2h0m4 3h0m2 2h0m1 1h0m1-9h0m9-4h0m4-7h0m5 0h0m10 22h0m6-4h0m8-4h0m4-8h0m1-7h0m10 12h0m3-8h0m1 18h0m1-16h0m2 6h0m9 11h0m3 2h0m-1 22h0m-3-12h0m-26-3h0m-6 8h0m-14 1h0m-2-8h0m-3-7h0m-4 10h0m-16-7h0m-1 16h0m-1-10h0m-1 12h0m-2-11h0m0-9h0m-7 13h0m-3 6h0m-1-14h0m-1 15h0m-3-6h0m-1-10h0m-2 16h0m-5-3h0m-4-17h0m-2 6h0m-9-8h0m-3 7h0m-1 9h0m-5-3h0m-1 4h0m-1-2h0m-3 2h0m-11-4h0m-5 7h0m-3 0h0m-19-15h0m-1 12h0m-6-2h0m-8-13h0m-16 7h0m-15 12h0m-16-9h0m-26 32h0m9-9h0m6-12h0m2 15h0m20 4h0m7-5h0m4-10h0m8 14h0m9-7h0m9-6h0m2 3h0m0 14h0m1-4h0m2-9h0m15 5h0m8-3h0m8 12h0m3-3h0m7-6h0m5-3h0m3 0h0m0 10h0m12-3h0m7 4h0m6-1h0m5-5h0m8-16h0m4 11h0m0 11h0m7-1h0m3-2h0m6 0h0m1-6h0m2-11h0m3 6h0m5 4h0m7-1h0m2 3h0m5-14h0m5 8h0m18 10h0m8 0h0m13-17h0m0 7h0m0 1h0m-2 20h0m0-5h0m-1 23h0m-2-4h0m-1-7h0m-4 8h0m-5 1h0m-6-14h0m-2 3h0m-5-2h0m-3 12h0m-4 3h0m-4-23h0m-12 22h0m-4-16h0m-14 12h0m-4 0h0m-3 0h0m-1-6h0m-10-3h0m-10 14h0m0-14h0m-4 6h0m-6-3h0m-1 0h0m-10 4h0m-9 6h0m-3 0h0m-4-21h0m-14 13h0m-1 1h0m-3 0h0m-6-8h0m-1 6h0m-23 6h0m-24-14h0m-5 17h0m-14-8h0m-5-5h0m-5 14h0m-13-4h0m-8-9h0m-4 11h0m-2-3h0m-18 19h0m11-3h0m2-2h0m8 4h0m15-11h0m1 5h0m1 15h0m3-16h0m20 9h0m1-1h0m3-8h0m1 10h0m9 5h0m8-5h0m13-2h0m6-9h0m5 1h0m9 4h0m2 3h0m5 3h0m4-1h0m0 7h0m13-6h0m4-10h0m17 2h0m13 4h0m3-4h0m3-3h0m4-1h0m15-3h0m9 6h0m3-4h0m1-2h0m4 6h0m1 8h0m1-13h0m3 7h0m0 6h0m1-12h0m2 5h0m2 7h0m1-1h0m2-1h0m2-6h0m8 0h0m1 16h0m4-5h0m2-5h0m0 8h0m8-7h0m1 4h0m2-13h0m0 6h0m9-9h0m3 3h0m3 0h0m7 6h0m1 7h0" stroke="#1f77b4" stroke-width="6.8" stroke-linecap="round" stroke-opacity="0.2" fill="none"/>
<path transform="scale(.25)" d="M1589 2074h0m8 31h0m-8-14h0m-4 15h0m-3-8h0m-5-9h0m-1 4h0m-24 42h0m2-5h0m12-4h0m7 8h0m2-19h0m1 5h0m4-8h0m5 13h0m4-4h0m9 3h0m0 23h0m0-9h0m-5 15h0m-3 5h0m-18-13h0m-5 10h0m-4-14h0m-3 3h0m-5 7h0m-1 3h0m-1-6h0m-5 9h0m-2-17h0m-2 14h0m0-15h0m-5 12h0m-11 4h0m-13 4h0m-20 24h0m1-17h0m3 8h0m6 9h0m19-21h0m32 0h0m2 11h0m1-2h0m3 3h0m4-14h0m5 18h0m6-6h0m17 15h0m-1 1h0m-6 6h0m-3 4h0m0-6h0m-1 11h0m-1 2h0m-6-6h0m-2-15h0m-2 12h0m-6-8h0m-8 8h0m0-12h0m-2 22h0m-3-10h0m-7-6h0m-2 13h0m-3-12h0m-2 4h0m-14 2h0m-2-12h0m-5 15h0m-8-10h0m-10 12h0m-4-18h0m-46 34h0m6 5h0m33-14h0m14 8h0m2-9h0m2 9h0m2-2h0m18-4h0m1 16h0m1-6h0m1-12h0m0 17h0m17-3h0m1-2h0m1-1h0m3 1h0m13-3h0m3-6h0m12 3h0m0 13h0m0 0h0m5-10h0m2 8h0m1 5h0m1 0h0m3-11h0m4 20h0m-5-5h0m-13 17h0m-2-20h0m-6 22h0m-5-2h0m-1-11h0m-1 10h0m-1-4h0m0-12h0m-9 20h0m0-3h0m-18-13h0m-9 14h0m-1-19h0m-1-2h0m-3 13h0m0-6h0m-2 3h0m-6 1h0m-4 9h0m-9-6h0m0-10h0m-15 7h0m-7 12h0m-3-4h0m0-6h0m-11-10h0m-12 16h0m-4 4h0m-9-14h0m-1-8h0m-1 8h0m0-2h0m-8 1h0m-11 9h0m-17 12h0m2 2h0m6-4h0m10 11h0m17-11h0m20 10h0m1-11h0m0 6h0m4 11h0m3-14h0m2 5h0m3-6h0m4 1h0m11 8h0m6-4h0m6-9h0m2 9h0m7-3h0m15 4h0m1-5h0m1-2h0m7 8h0m7-6h0m8 6h0m1-11h0m4 13h0m1-12h0m11 14h0m4 0h0m7-15h0m6 17h0m4 3h0m3 0h0m2-4h0m1-13h0m2 2h0m0 8h0m6-5h0m1 5h0m-15 12h0m-3 18h0m-4-1h0m-4-6h0m-12-11h0m-3 19h0m-12-18h0m-4 20h0m-2-8h0m-1-5h0m-3-6h0m-6 18h0m-2 1h0m-2-15h0m-1 1h0m-6 10h0m-15-4h0m-2 9h0m-1-1h0m-1-6h0m-1-12h0m-5 16h0m-2-7h0m-3 1h0m0-13h0m-7 21h0m-1 1h0m0-16h0m-1-5h0m-6 11h0m-2-7h0m-4-4h0m-13 13h0m-9 5h0m-1 3h0m-1-7h0m-8-16h0m-20 2h0m-7 21h0m-1-12h0m-17-8h0m-41 40h0m10-6h0m0 2h0m9-9h0m6-1h0m2 4h0m3-6h0m14 20h0m15-11h0m10 0h0m6 10h0m6-12h0m7 1h0m3 9h0m6-8h0m1-7h0m7 5h0m4 8h0m1-18h0m8 9h0m1-8h0m0 4h0m2 12h0m10-1h0m3 2h0m2-9h0m0 5h0m1 6h0m4-11h0m3 3h0m0 2h0m7-5h0m4-2h0m5 9h0m2-9h0m1 9h0m7-11h0m2 5h0m5-9h0m0 10h0m15-1h0m21 5h0m1-5h0m3 2h0m10-5h0m4-4h0m4-3h0m4 19h0m1-12h0m4 14h0m0 2h0m2-3h0m2-19h0m3 46h0m0-6h0m-12 3h0m-4-5h0m0-15h0m-4 1h0m-7 22h0m-2-11h0m-14-3h0m-3 9h0m-1-5h0m0-11h0m-1 12h0m-1 5h0m-1-5h0m-1 3h0m-15 1h0m-4-2h0m-16 6h0m-13-2h0m-6-10h0m-1 5h0m0-1h0m0-10h0m-2 7h0m-5-2h0m-1 6h0m0-15h0m-15 15h0m-5-13h0m-1 7h0m-5 5h0m-3-10h0m-4 13h0m-12 6h0m-3-18h0m-10 12h0m-8-9h0m-12 6h0m-8-6h0m-6 0h0m-1-6h0m-1 19h0m-1-19h0m-7 4h0m-6 17h0m-5-7h0m-44-10h0m-8 11h0m2 13h0m12 3h0m8-6h0m0 12h0m14-13h0m2-2h0m4 13h0m10 7h0m6-14h0m8-2h0m4 2h0m3-5h0m24 12h0m0 2h0m5-13h0m3 3h0m12 14h0m16 2h0m1-16h0m0 13h0m2-2h0m1-6h0m20 11h0m9-14h0m0 4h0m0 8h0m3-17h0m1 14h0m9 3h0m6-19h0m0 12h0m4-6h0m15 5h0m2 7h0m2-4h0m4 3h0m8-11h0m1 4h0m1 11h0m18 1h0m1-22h0m1 10h0m0 11h0m13-4h0m1-9h0m1 7h0m2-4h0m4 6h0m16-2h0" stroke="#1f77b4" stroke-width="6.8" stroke-linecap="round" stroke-opacity="0.2" fill="none"/>
<path transform="scale(.25)" d="M1598 2074h0m1 22h0m-16 9h0m-25 5h0m-2 1h0m-6 6h0m6 16h0m3-2h0m16-4h0m18-13h0m-12 42h0m-11-6h0m-2 3h0m-1-13h0m-5 18h0m-3-15h0m-3-7h0m-4 15h0m-2-8h0m-5-3h0m-58 35h0m32-12h0m10 6h0m13-3h0m10 16h0m14-13h0m1-1h0m2 11h0m8 4h0m2-4h0m6-17h0m10 2h0m4 32h0m-1 7h0m-3-18h0m-1 21h0m-12-15h0m-11 14h0m-4-13h0m-1 13h0m-18-6h0m-2-2h0m-4-1h0m-7 11h0m-8-8h0m0-8h0m-23-2h0m-16 17h0m-4-17h0m-12 11h0m-32 22h0m6-5h0m2 12h0m23-20h0m4 10h0m25-11h0m9 8h0m5 11h0m3-10h0m3 1h0m4 2h0m4-8h0m19 6h0m4 11h0m2-10h0m1-1h0m4-5h0m1 12h0m5 4h0m4-1h0m5-3h0m10-14h0m3 9h0m0 8h0m1 27h0m-2-2h0m-2-20h0m-2 15h0m-1-11h0m-9 6h0m0-1h0m-4 1h0m-3-10h0m-5 22h0m-11-15h0m0-2h0m-6-1h0m-12 4h0m-2-4h0m-4 14h0m-1-15h0m-6 1h0m-1 5h0m-5 8h0m-3-4h0m-12 6h0m-1-8h0m-10 7h0m-2-6h0m-7 3h0m0-3h0m-10 5h0m-13-2h0m-1 5h0m-10-15h0m-27 18h0m4 11h0m2-2h0m1 9h0m1-14h0m1 9h0m18-5h0m0 9h0m1-1h0m5 7h0m6-22h0m8 1h0m8 9h0m11 2h0m9 10h0m3-3h0m6-19h0m9 22h0m8-14h0m14 5h0m5-10h0m0 16h0m7-17h0m13 14h0m12-15h0m5 18h0m9-6h0m7 4h0m9-12h0m2 40h0m-7-7h0m-2-12h0m-2 8h0m-2 11h0m-4-22h0m-2 13h0m-1 9h0m-5-3h0m-6 2h0m-7-16h0m-6 14h0m-3 0h0m-4-2h0m-10-6h0m-1 5h0m0-16h0m-13 21h0m-2-12h0m-4-8h0m-1 18h0m-2-6h0m-18 7h0m-1-16h0m-1 18h0m-5-4h0m-2-15h0m-2 16h0m-10-16h0m-2 6h0m-9 8h0m-32-15h0m-3 16h0m-28-18h0m-2 7h0m-13 11h0m0-8h0m-15-1h0m-11 11h0m-14 22h0m2 0h0m4-7h0m4 6h0m0 4h0m2-4h0m1-3h0m3 3h0m11 0h0m16 5h0m1-18h0m3 14h0m3-16h0m5 15h0m2-7h0m0 8h0m1 5h0m1-12h0m14-2h0m2 9h0m4 5h0m4-11h0m1-7h0m2 18h0m6-10h0m0 1h0m9 4h0m8-13h0m6 7h0m2-10h0m3 21h0m5-6h0m11 6h0m3-14h0m1-6h0m2-1h0m0 12h0m2-3h0m2 6h0m4-11h0m4 3h0m4 1h0m11 10h0m7-4h0m6-7h0m5 8h0m7-16h0m6 10h0m4-2h0m12-3h0m9-6h0m0 3h0m13 1h0m4-4h0m1 8h0m5-8h0m3 14h0m1 8h0m0 16h0m0-8h0m-1 5h0m-7 9h0m-6-11h0m-1 12h0m-11-9h0m-6 7h0m-1-18h0m-4 10h0m-4 5h0m-1-13h0m-8 3h0m-14 3h0m-1-1h0m-2 5h0m-1 8h0m-4-8h0m-3 1h0m-4 2h0m0-7h0m-1-5h0m-18 0h0m-7 5h0m-4-2h0m-9 12h0m-6-13h0m-33 3h0m-3 6h0m-2-13h0m-11 11h0m-1-9h0m-2 12h0m0-9h0m-2 11h0m-14 2h0m-9-18h0m-2 8h0m-9-4h0m0-4h0m-5-2h0m-1 5h0m-1-3h0m-4 14h0m-19 3h0m-4 2h0m-9-8h0m-21 7h0m-14 25h0m7-10h0m24 7h0m8-9h0m5 4h0m3 0h0m18 7h0m19-15h0m3 1h0m4 3h0m6-2h0m5 1h0m3 0h0m6 2h0m2-7h0m0 9h0m1-8h0m13 11h0m9-12h0m5 16h0m28-11h0m6-1h0m6 3h0m6-8h0m0 18h0m3-2h0m4-9h0m10 4h0m0 2h0m8-12h0m9 17h0m4-3h0m5-11h0m4 3h0m1-8h0m1 17h0m6 0h0m10 0h0m0 1h0m2-11h0m1 5h0m1 5h0m2 1h0m7-2h0m12 2h0m1-12h0m2 9h0m4-10h0m0 12h0" stroke="#1f77b4" stroke-width="6.8" stroke-linecap="round" stroke-opacity="0.2" fill="none"/>
<path transform="scale(.25)" d="M1582 2084h0m16-15h0m-2 19h0m-16 30h0m0 14h0m3 2h0m2-16h0m0 17h0m2-16h0m10-5h0m2 29h0m-1 13h0m-3 3h0m-6-1h0m0-7h0m-1-6h0m-7 9h0m-4-2h0m2 24h0m5 4h0m14-13h0m2 11h0m-8 16h0m0-9h0m-4 18h0m-9 28h0m9-14h0m5-6h0m-5 42h0m-4-20h0m-4 34h0m1-5h0m3 0h0m10-2h0m-2 39h0m-3 4h0m-3-12h0m-7 22h0m9-3h0m1-1h0m8 3h0m-2 35h0m0-8h0m-1 3h0m-8-4h0m-293 36h0m26-1h0m14-2h0m4 2h0m16-11h0m2 12h0m11-8h0m8 1h0m4-6h0m12 0h0m16 13h0m10-2h0m39-4h0m1-3h0m24 8h0m14-10h0m7 4h0m5-8h0m6 13h0m13-6h0m4-4h0m19 3h0m22-4h0m1 3h0m19-11h0m6 17h0" stroke="#1f77b4" stroke-width="6.8" stroke-linecap="round" stroke-opacity="0.3" fill="none"/>
<path transform="scale(.25)" d="M1584 2086h0m4-2h0m2-10h0m2 1h0m7 21h0m-2 0h0m-5 9h0m-3 1h0m-5-15h0m3 35h0m13 31h0m-4-7h0m-1 3h0m-1-2h0m-4 4h0m-2-8h0m-11-11h0m-1 24h0m6 8h0m8 11h0m1-13h0m7 28h0m-7 4h0m-2 9h0m-5-2h0m-9 11h0m4 13h0m3-3h0m11-12h0m2-3h0m4 42h0m-2-10h0m-5 5h0m-5 1h0m0-4h0m-1-9h0m-10 13h0m6 23h0m4-16h0m9 18h0m0 0h0m3-14h0m1 1h0m-4 34h0m-3-6h0m-10-3h0m-7 23h0m13 15h0m10-15h0m-3 40h0m-1 2h0m-10-2h0m-3-13h0m-3 2h0m-291 35h0m8-7h0m3 7h0m13-8h0m16 3h0m6 4h0m10-1h0m8-9h0m1 9h0m4-12h0m7 6h0m22-6h0m5 9h0m3 6h0m4-7h0m8-7h0m15 11h0m3-12h0m21 4h0m11 8h0m9 0h0m20-1h0m6-2h0m23-5h0m1 7h0m7-7h0m5 0h0m6 4h0m12-7h0m0 5h0m1-2h0m2-3h0m3 0h0m13 8h0m20-13h0m5 18h0m6-5h0" stroke="#1f77b4" stroke-width="6.8" stroke-linecap="round" stroke-opacity="0.3" fill="none"/>
<path transform="scale(.25)" d="M1595 2077h0m3-2h0m-7 35h0m-16 16h0m2-2h0m3-2h0m2-8h0m0 12h0m10 9h0m-3 17h0m-3-3h0m-1-8h0m-2 11h0m-4-10h0m0-6h0m-3 24h0m9 3h0m0 9h0m1-11h0m2 20h0m3-16h0m7 12h0m-6 18h0m-2 8h0m-9-8h0m-3-4h0m-3 11h0m4 22h0m9-16h0m0 18h0m3-7h0m1 2h0m4-8h0m2-4h0m-7 33h0m-2 9h0m-10-15h0m5 42h0m9 1h0m6-1h0m-2 16h0m-3-11h0m-9 0h0m-3 11h0m0 13h0m17 2h0m0 33h0m-7 6h0m-1-1h0m-8-1h0m-5-8h0m-1 5h0m-279 22h0m4 6h0m6-4h0m4-1h0m7-7h0m13 0h0m10 3h0m0 8h0m8 2h0m18-12h0m1 0h0m11 11h0m3-5h0m6-7h0m0 3h0m16-4h0m28 3h0m26 4h0m2-3h0m19 10h0m10-5h0m11-2h0m11 4h0m35 4h0m1-14h0m5 4h0m5 2h0m1 6h0m8-10h0m0 3h0m1-2h0m1 0h0m6 7h0m4 3h0m3-20h0m1 19h0" stroke="#1f77b4" stroke-width="6.8" stroke-linecap="round" stroke-opacity="0.3" fill="none"/>
<line x1="321.7" y1="593.1" x2="399.6" y2="515.6" stroke="#1f77b4" stroke-width="2.6" stroke-opacity="0.9" stroke-linecap="round"/>
<linearGradient id="gh1" x1="0" y1="1" x2="0" y2="0"><stop offset="0" stop-color="#ff7f0e" stop-opacity="0.55"/><stop offset="1" stop-color="#ff7f0e" stop-opacity="0.0"/></linearGradient>
<rect x="400.0" y="570.0" width="17.3" height="23.5" fill="url(#gh1)"/>
<path transform="scale(.25)" d="M1638 2061h0m27 8h0m-5 0h0m-8 3h0m-14 8h0m-2-15h0m-1 13h0m-15 2h0m-1 7h0m-2-1h0m-1-19h0m-14 13h0m1 23h0m2-5h0m14 0h0m3 6h0m14-10h0m0 3h0m7 14h0m1-23h0m3 6h0m1 10h0m0 7h0m9-12h0m2 12h0m2-9h0m2-5h0m1 18h0m-7 17h0m-21-9h0m-9-10h0m-2 13h0m-4 1h0m-3 3h0m-5-17h0m-11 21h0m1 10h0m6 13h0m1 2h0m1-20h0m12 9h0m1 1h0m5-11h0m5 17h0m1-13h0m15 9h0m12-9h0m2 40h0m-19-16h0m-3 1h0m-10 16h0m-1-8h0m-1-15h0m-5 17h0m0-10h0m-12-1h0m-3 3h0m-1-9h0m5 33h0m2 11h0m0 1h0m6 2h0m9-6h0m1-2h0m0 3h0m4-18h0m1 23h0m2-4h0m7-4h0m13-11h0m4-3h0m-2 23h0m-4 4h0m-4 6h0m-1 2h0m-8-5h0m-10 8h0m-1 0h0m-3 7h0m-4-16h0m-4-4h0m-7 18h0m-4 1h0m-3 3h0m7 18h0m4-1h0m4-8h0m5 12h0m1-10h0m0 3h0m1-10h0m2 15h0m1-1h0m4-9h0m7 11h0m2-19h0m13 14h0m5-11h0m1 10h0m2 16h0m-3 10h0m-3-7h0m-11 8h0m-1-15h0m-3 18h0m-16-3h0m-7-9h0m-1 7h0m0-7h0m-3-4h0m-5 4h0m-8 8h0m-2-7h0m-3 21h0m6 7h0m11-8h0m1 17h0m1-12h0m10 5h0m7-13h0m8 1h0m3 1h0m6 7h0m4 8h0m2-9h0m0 3h0m1-2h0m1-4h0m2-1h0m2-6h0m0 45h0m-2-9h0m-8 8h0m-1-12h0m-1-3h0m-1 1h0m-1-6h0m-1 14h0m-1 4h0m-2-7h0m-4 0h0m-7-5h0m-3-3h0m-8 12h0m-1-8h0m-4-7h0m-1 6h0m-2 12h0m-2-5h0m0-8h0m-2 3h0m-11 14h0m-1 1h0m1 9h0m3 6h0m0 3h0m2-14h0m0 13h0m4 1h0m5-15h0m1 10h0m2-10h0m6 21h0m8-19h0m8 16h0m4-2h0m3 0h0m2-10h0m0 4h0m7-10h0m1 7h0m7 6h0m0 22h0m0-8h0m-3 1h0m-9 3h0m-4 4h0m-1-2h0m0-4h0m-2 4h0m-8 6h0m-1-1h0m-2-12h0m-1 9h0m-1-2h0m-5 1h0m-2-7h0m-4 15h0m-1-2h0m0-15h0m-1 18h0m0-5h0m-6-14h0m-1 18h0m-6-18h0m-3 8h0" stroke="#ff7f0e" stroke-width="6.8" stroke-linecap="round" stroke-opacity="0.28" fill="none"/>
<path transform="scale(.25)" d="M1600 2069h0m1 10h0m11-3h0m2 1h0m1-13h0m2 13h0m2 2h0m6-10h0m3 13h0m13 5h0m4-12h0m7 9h0m4-11h0m4 2h0m1 4h0m5-14h0m3 40h0m-1-4h0m-16 1h0m-7 0h0m-15 4h0m-3-11h0m-2-5h0m-7 12h0m-10 9h0m-6 9h0m1-4h0m8 3h0m9-2h0m7-1h0m4 9h0m1-11h0m3 9h0m14-3h0m5 6h0m1-9h0m0 12h0m2 1h0m4 1h0m5 1h0m1-13h0m-2 32h0m-4-13h0m-4 10h0m-1 2h0m-4-3h0m-4-6h0m-4 0h0m-25 5h0m-1 4h0m-9 3h0m-6-11h0m0 26h0m8-2h0m1 5h0m2 1h0m2-1h0m1 3h0m1 6h0m1-15h0m5-1h0m25 15h0m14 4h0m5-9h0m1 3h0m-5 23h0m-1 1h0m-6-6h0m-2 5h0m-6-10h0m-8-1h0m-6 6h0m0-9h0m-3 17h0m-2-12h0m-15 2h0m-8 12h0m-5-4h0m-1 13h0m0 1h0m1-2h0m13 16h0m3-19h0m1 16h0m7-6h0m8 2h0m1-9h0m8 12h0m0 6h0m3-23h0m3 0h0m2 14h0m5-3h0m5 2h0m6 25h0m0-6h0m-5-8h0m-2 20h0m-12 3h0m-2-11h0m-7 3h0m-1-15h0m-1 13h0m-8-9h0m-2 0h0m-1 7h0m-6 1h0m-8-4h0m-1 6h0m-1-2h0m-1 7h0m-4-5h0m-1-10h0m2 37h0m2-17h0m2 16h0m1-3h0m6-11h0m1 4h0m5 13h0m9-3h0m2-10h0m3 3h0m1 5h0m12-3h0m0 10h0m3-10h0m4-6h0m3 4h0m1 13h0m3 7h0m-4 0h0m-6 16h0m-2-21h0m-1 14h0m-3-8h0m-2 14h0m-3-10h0m-4 10h0m-12 1h0m-3-11h0m-2 11h0m-1-7h0m0-8h0m-5 5h0m-7-9h0m-6 19h0m-1 2h0m5 15h0m5-1h0m0 1h0m5-10h0m1 16h0m2-4h0m6 3h0m4-10h0m1-6h0m10 7h0m2-8h0m7 11h0m4-9h0m1 4h0m2 0h0m8 5h0m1-9h0m1 8h0m1 35h0m-13-5h0m-4-10h0m-1 3h0m-4 9h0m-7-11h0m-3 14h0m-1-14h0m0-9h0m-5 23h0m0-21h0m-1-1h0m-6 6h0m-3 4h0m0-3h0m-2 15h0m-3-1h0m0-12h0m0-9h0m-4 13h0m-4 0h0m-5 7h0m0-17h0m-1-2h0m2 22h0m7 1h0m1 0h0m2 7h0m8 2h0m2 2h0m0 0h0m1 9h0m1-16h0m0 8h0m2-6h0m2 4h0m0 8h0m6-17h0m0 1h0m4 18h0m5-5h0m1-14h0m3 12h0m4-11h0m1 13h0m1-4h0m8 4h0m0 3h0m3-19h0m2 3h0m1 17h0m1-5h0" stroke="#ff7f0e" stroke-width="6.8" stroke-linecap="round" stroke-opacity="0.28" fill="none"/>
<path transform="scale(.25)" d="M1603 2070h0m7-3h0m1 12h0m4-7h0m31 7h0m12 4h0m2-13h0m7 22h0m-5-4h0m-2 20h0m-14-2h0m-1 1h0m-13 0h0m-1-1h0m-5-16h0m-2 11h0m-23 9h0m2 11h0m4-3h0m1-6h0m1 10h0m13 8h0m10-16h0m9 13h0m0 0h0m10 2h0m1 3h0m1-6h0m10-7h0m0 10h0m2-13h0m2 27h0m-5 2h0m0-6h0m-1 5h0m0-7h0m-10 3h0m-1 6h0m-4 6h0m-9-6h0m-5 12h0m-1 0h0m-5-13h0m-3-9h0m-5 10h0m-1 9h0m-2-14h0m-10 5h0m-1 9h0m-1-8h0m8 32h0m2-18h0m3 5h0m0 6h0m6-3h0m1-1h0m1 4h0m12-7h0m6 16h0m10-5h0m17 17h0m-28 13h0m-2-18h0m-4 12h0m-2-4h0m-14 4h0m-4 7h0m-4-21h0m-4-1h0m-6 4h0m11 22h0m0 8h0m5-6h0m11 14h0m3-13h0m1 13h0m9-16h0m2 9h0m5 3h0m2-14h0m1 2h0m0 2h0m7 14h0m4-17h0m7 6h0m-3 21h0m-3 14h0m0-11h0m-1-6h0m-6 18h0m-6-17h0m-11 19h0m-1-14h0m0-8h0m-7 20h0m-9 1h0m0-7h0m-2-6h0m-6-4h0m-6 17h0m-3-15h0m-2 12h0m-1-13h0m0 42h0m12-8h0m1-2h0m1 8h0m0 0h0m1-12h0m2 3h0m5-8h0m2 9h0m1-8h0m0 0h0m4-5h0m1 3h0m0 10h0m0 4h0m7-14h0m3 3h0m2 5h0m4 6h0m3-14h0m0 10h0m1-5h0m3 8h0m2-15h0m6 13h0m1 2h0m3 31h0m-2-10h0m-5-12h0m-4-1h0m-3 8h0m-1 1h0m-5-7h0m-1 11h0m-5-10h0m-2 14h0m-12-8h0m-7 3h0m-8 9h0m-2-20h0m-1 16h0m-6-1h0m-1 14h0m2 9h0m1-11h0m1 1h0m7-5h0m3 16h0m1-16h0m0 1h0m1 4h0m0 10h0m3-12h0m3-3h0m3 2h0m6 19h0m4-16h0m1 3h0m0 7h0m1 0h0m2-13h0m3 16h0m3-7h0m0 3h0m2-13h0m4 0h0m1 15h0m1-12h0m1 2h0m5 9h0m5 6h0m1-10h0m1 10h0m-1 9h0m-1 5h0m-2-6h0m-1 9h0m-4 2h0m-4 0h0m-3-1h0m-4-3h0m-1 8h0m-2-15h0m-1-3h0m-1 19h0m0-17h0m-4-3h0m-2 21h0m-5-11h0m-4-3h0m-3 9h0m-4-12h0m-4 15h0m0-1h0m-4-10h0m-3-1h0m-1-3h0m-6 11h0m-1-10h0m-1 17h0m-1-7h0m2 24h0m3-1h0m6-8h0m4 6h0m7-11h0m6 2h0m3-3h0m3 3h0m1-1h0m3 10h0m3 3h0m3-11h0m2 3h0m4-6h0m0 18h0m2-4h0m2-9h0m0 13h0m1 2h0m3-20h0m3 9h0m3-11h0m2 5h0" stroke="#ff7f0e" stroke-width="6.8" stroke-linecap="round" stroke-opacity="0.28" fill="none"/>
<path transform="scale(.25)" d="M1650 2062h0m17 23h0m-1-1h0m-5 0h0m-8-15h0m-9 4h0m-3-5h0m-10-2h0m0-1h0m-7 3h0m-4 0h0m-2-4h0m-8 19h0m-1 4h0m-8 17h0m2-11h0m1-5h0m0 22h0m14-14h0m3 14h0m7-10h0m3-10h0m1 10h0m18-9h0m3 13h0m15-3h0m-1 28h0m-9-8h0m-4 10h0m0-8h0m-7-9h0m-15 5h0m-2-3h0m-3 15h0m-2 4h0m-3-19h0m-4 19h0m-4-12h0m-5 5h0m-7-7h0m-1-9h0m1 29h0m1 18h0m6-7h0m5 0h0m1-9h0m1-3h0m3 11h0m0 3h0m17-8h0m4 9h0m4 2h0m7-3h0m4-5h0m7 2h0m-5 30h0m-3-19h0m-18 2h0m-3 4h0m-3 11h0m-3-10h0m-3 0h0m-4 4h0m-2 1h0m-2 3h0m0-16h0m-1 5h0m-7 7h0m-6 3h0m11 13h0m10 10h0m7 3h0m8-4h0m4 5h0m11-13h0m3 8h0m3-12h0m7 16h0m0 28h0m-8-6h0m-16 6h0m-8-7h0m-1-6h0m-11-6h0m-3-2h0m-2 1h0m-6 2h0m-2 19h0m-8 9h0m6 1h0m11-4h0m2 13h0m2-8h0m2 10h0m1-11h0m4 13h0m2-20h0m16 0h0m1 19h0m3-21h0m0 2h0m2 0h0m0 17h0m14 26h0m0-11h0m-1 13h0m-1-12h0m-1 12h0m-1-10h0m0-8h0m-4-5h0m-4 16h0m-3-9h0m0-3h0m-6 16h0m-16-5h0m-5 7h0m0-17h0m-9 18h0m-3-9h0m0-4h0m-12-2h0m2 16h0m3 17h0m5-16h0m0 9h0m1-7h0m1 7h0m3-9h0m2 7h0m10 1h0m4-5h0m0 9h0m2-8h0m2 11h0m1 7h0m5-12h0m3 9h0m2-17h0m0 1h0m9 10h0m4 1h0m9 31h0m-4-21h0m-5 4h0m-1 11h0m0-13h0m-1 14h0m-1-14h0m-2 17h0m-3-12h0m0-1h0m-6 1h0m-2-3h0m-1 16h0m-3-21h0m0 0h0m-3 14h0m-8 5h0m0-4h0m0-5h0m-7 13h0m-11 0h0m-8-21h0m-3 39h0m3-5h0m4-5h0m4 10h0m1-15h0m4 4h0m3 1h0m0 3h0m1 1h0m1-8h0m1 4h0m3 14h0m13-8h0m0 3h0m4-10h0m0 15h0m3-13h0m0 5h0m6-1h0m3 3h0m2-6h0m1 6h0m4-10h0m0 14h0m1-8h0m2-9h0m0 13h0m4 2h0m-3 13h0m-2 14h0m-2-7h0m-1-6h0m-1-7h0m-6 3h0m-2 13h0m0-8h0m-8-7h0m-1 13h0m0-12h0m-1 15h0m-5-10h0m-2 4h0m-4 1h0m0-10h0m-2 3h0m-1 10h0m-13-11h0m-11 9h0" stroke="#ff7f0e" stroke-width="6.8" stroke-linecap="round" stroke-opacity="0.28" fill="none"/>
<path transform="scale(.25)" d="M1609 2085h0m5-13h0m7 10h0m10-15h0m0 7h0m1 1h0m4-4h0m1 4h0m3-7h0m23 14h0m1 5h0m4 19h0m-8-3h0m-1 7h0m-4-4h0m-1-14h0m-1 12h0m-26 4h0m-18 3h0m-6-6h0m1 18h0m0 6h0m6-17h0m0 9h0m6-9h0m3 5h0m2 16h0m4-19h0m2 10h0m7 7h0m7-3h0m9-2h0m8 6h0m0 13h0m-5 8h0m-7-14h0m-13 9h0m-10 8h0m-7-2h0m-5-10h0m-11 25h0m5-3h0m6 2h0m2 9h0m3 4h0m7-11h0m14 11h0m2 0h0m2-6h0m2 1h0m4 6h0m6-2h0m2-20h0m1 13h0m0 4h0m4-17h0m3 7h0m4 28h0m-2 4h0m0-14h0m-3 0h0m-1 8h0m-8 9h0m-10 1h0m-5-10h0m-1-7h0m-1 9h0m-5-4h0m-1-3h0m-1 18h0m0-21h0m-2 15h0m-1 3h0m0-17h0m-1-2h0m-5 11h0m-1-3h0m-9 3h0m-4 18h0m2-2h0m2 19h0m4-7h0m14 8h0m12-12h0m5-1h0m2 7h0m17-15h0m4 3h0m0 23h0m-1 6h0m-4-3h0m-3 6h0m-1-1h0m0-6h0m-7-2h0m-1 15h0m0-15h0m-7 10h0m-7-9h0m-1 10h0m-7-1h0m-1-3h0m-1-7h0m-8 18h0m0-10h0m-4-6h0m-8 40h0m8-19h0m2 2h0m2 7h0m3-6h0m5 5h0m6-7h0m8-2h0m2 12h0m1 2h0m1-12h0m3 2h0m0 8h0m4 1h0m7-2h0m0 10h0m7-22h0m0 36h0m-8 1h0m-2-10h0m-9 2h0m-3-3h0m-3 9h0m-1-7h0m-2 15h0m-1 0h0m-1-17h0m-1 7h0m-2-2h0m0-7h0m-3 2h0m-6 10h0m-4 9h0m0-18h0m-4-3h0m-4 17h0m-1 1h0m-1-5h0m-1 6h0m-1 0h0m-1-20h0m-1 1h0m-2 4h0m-3 33h0m1-11h0m4 11h0m1 4h0m3-9h0m1-7h0m3 16h0m6 0h0m7-2h0m3 2h0m3-15h0m1 11h0m1-5h0m4-6h0m3-1h0m1 12h0m3-6h0m9 7h0m3-15h0m10 8h0m0 11h0m-5 26h0m-1 0h0m0-16h0m0 0h0m-2-3h0m-5 9h0m-2-1h0m-2 9h0m0-4h0m-1-5h0m-3 12h0m-1-3h0m-14-13h0m-1 9h0m-4-3h0m-5 4h0m-1-16h0m-9 20h0m-7-10h0m-5 22h0m3 6h0m1-1h0m3 5h0m1-1h0m4 1h0m5-18h0m3 18h0m1-4h0m2 3h0m12-17h0m0 21h0m3-3h0m1 0h0m4-2h0m6-16h0m0 11h0m0 4h0m1-6h0m2 9h0m1-2h0m1-14h0m0 1h0m0 10h0m1-3h0m2 10h0m2-16h0m4 8h0m3-11h0m1 9h0" stroke="#ff7f0e" stroke-width="6.8" stroke-linecap="round" stroke-opacity="0.28" fill="none"/>
<path transform="scale(.25)" d="M1600 2069h0m1-5h0m3 10h0m18-4h0m24 8h0m1-12h0m3-1h0m9 38h0m-8-11h0m0-4h0m-12 18h0m-2-7h0m-5-11h0m-10 20h0m0-3h0m-4-7h0m-1 4h0m-5-7h0m-11 3h0m0-2h0m0-5h0m16 21h0m0 6h0m13 15h0m15-7h0m0 8h0m21-15h0m0 10h0m2-3h0m-6 22h0m-10-12h0m-3 21h0m-1-9h0m-6-5h0m-13-2h0m-9-3h0m-10 6h0m0-4h0m-4 19h0m3 6h0m4 0h0m5 13h0m7-9h0m3 5h0m5 2h0m23-8h0m10 12h0m-6 27h0m-1-12h0m-10-6h0m-11-5h0m-9 13h0m-9 2h0m-3 7h0m-9 1h0m-2-3h0m-2-7h0m-1 23h0m7 1h0m8-3h0m1 1h0m2 10h0m1-5h0m1-11h0m16 9h0m7 5h0m2-16h0m7 17h0m2-1h0m3-12h0m8 14h0m0 22h0m-13-16h0m-2 1h0m-8 14h0m-1-12h0m-5 16h0m-10-9h0m-2 2h0m-1 8h0m-1 0h0m0-15h0m-3 15h0m-9-7h0m-12-10h0m-1 24h0m4-4h0m3 10h0m0 8h0m0 0h0m3-5h0m4-13h0m4 8h0m2-5h0m1 0h0m1-4h0m6 1h0m2-1h0m0 8h0m0 4h0m1-6h0m10 2h0m0 1h0m9-2h0m3-3h0m1 9h0m12-2h0m0 4h0m1-14h0m0 2h0m1 9h0m1-2h0m-1 28h0m0-14h0m-2 21h0m-1-6h0m-1-3h0m-4 8h0m-6-7h0m-4 5h0m-4 2h0m-2-12h0m-7 9h0m-9-4h0m-3 0h0m0-8h0m-8 12h0m0-10h0m-3 11h0m-1-18h0m-1 6h0m-5 2h0m-3 7h0m-1-12h0m-2 22h0m1 17h0m5-4h0m1-5h0m3-10h0m5 11h0m1 11h0m1-20h0m1 9h0m1-7h0m9 17h0m2-11h0m1 4h0m1-12h0m2 16h0m7 4h0m4-14h0m5-5h0m0 0h0m8 3h0m1-4h0m1 2h0m0 19h0m1-3h0m1-14h0m0 1h0m2 2h0m0 5h0m1-2h0m0 2h0m2 15h0m-3-5h0m0 0h0m-1 5h0m0-1h0m-2 9h0m-1 2h0m-3 7h0m0-15h0m-4 1h0m-4 11h0m-8 4h0m0-14h0m0-4h0m-3-2h0m-3 15h0m-1 3h0m-1 0h0m0-5h0m-1 7h0m-1-5h0m-1-13h0m-3 2h0m-1 15h0m-2-14h0m-3 1h0m-4-5h0m-9 7h0m-4 10h0m-3 9h0m1 1h0m3-2h0m1 2h0m1-1h0m5 15h0m1-11h0m1-2h0m1 12h0m3-3h0m0 2h0m1-13h0m1 16h0m1-20h0m2 17h0m2-13h0m8 4h0m1 10h0m3-16h0m1 3h0m2-2h0m2 7h0m6 2h0m0 5h0m4-1h0m1-17h0m5 17h0m1 2h0m1-9h0m3 9h0m1-18h0m1 11h0m1-11h0m0 2h0m0 5h0" stroke="#ff7f0e" stroke-width="6.8" stroke-linecap="round" stroke-opacity="0.28" fill="none"/>
<path transform="scale(.25)" d="M1661 2008h0m8 1h0m0 3h0m-2 19h0m-1-9h0m-1 8h0m-4-10h0m-1 1h0m-2 6h0m0-11h0m-2 8h0m-6 2h0m-1-1h0m-3 3h0m-1-2h0m-4 3h0m0-6h0m-6 7h0m-12 27h0m0 2h0m7-6h0m4 0h0m2-12h0m10 9h0m3 9h0m4-4h0m4-7h0m4 11h0" stroke="#2ca02c" stroke-width="6.8" stroke-linecap="round" stroke-opacity="0.3" fill="none"/>
<path transform="scale(.25)" d="M1653 2015h0m5-4h0m6-11h0m0 1h0m1 1h0m0 0h0m1 24h0m-1-6h0m0-3h0m-5 17h0m-4-18h0m-2 0h0m-2 19h0m-3-9h0m-5-4h0m-1 11h0m-1 2h0m-1 1h0m0-6h0m-4-2h0m-11 11h0m-19 15h0m0 3h0m14-5h0m2-7h0m1 12h0m3-14h0m5 6h0m8 7h0m3 3h0m1-15h0m1 10h0m5 0h0m0 6h0m2-14h0m5-5h0m0 16h0m4-15h0" stroke="#2ca02c" stroke-width="6.8" stroke-linecap="round" stroke-opacity="0.3" fill="none"/>
<path transform="scale(.25)" d="M1656 2009h0m3-4h0m3 6h0m0 4h0m4-2h0m1-10h0m1-8h0m1 25h0m-1 4h0m-4 14h0m-3-14h0m-2 10h0m-3-2h0m-3-9h0m-1 7h0m0-4h0m-2-9h0m-2 13h0m0-1h0m-4-3h0m-8 7h0m-2-6h0m-7 8h0m-8 8h0m1 3h0m6-5h0m3 9h0m5 2h0m1 1h0m2 6h0m4-14h0m2-2h0m1 1h0m2 1h0m1 2h0m3 4h0m2-5h0m1 4h0m5 4h0m0 2h0m3-15h0m1 4h0m2 7h0m5-5h0" stroke="#2ca02c" stroke-width="6.8" stroke-linecap="round" stroke-opacity="0.3" fill="none"/>
<line x1="400.0" y1="515.2" x2="417.3" y2="498.0" stroke="#2ca02c" stroke-width="2.4" stroke-opacity="0.9" stroke-linecap="round"/>
<path d="M437.3 593.5L516.5 515.2L516.5 593.5Z" fill="#d2e3f2" fill-opacity="0.4"/>
<path transform="scale(.25)" d="M2056 2075h0m9 17h0m-22 14h0m-3-7h0m-2-7h0m-13 14h0m-29 28h0m7 0h0m8-3h0m23-13h0m13 8h0m1-8h0m5 11h0m8 3h0m2 1h0m0 26h0m0-5h0m0-14h0m-1 3h0m-4-1h0m-9 4h0m-1 6h0m-1-16h0m-3 7h0m-2-6h0m-11 10h0m0-3h0m-13 15h0m0-5h0m-4 2h0m-6-10h0m-23 0h0m-21 23h0m1 1h0m9-2h0m1 6h0m5-11h0m33-2h0m0 14h0m11-8h0m6 9h0m12-15h0m0 16h0m1-4h0m6 3h0m7-5h0m1 0h0m8-5h0m0 10h0m-3 23h0m-2 7h0m0-4h0m-13-5h0m-7 5h0m-2-15h0m-1 16h0m-2 4h0m-18-11h0m-28 3h0m0-15h0m-3 19h0m-5-6h0m-4-3h0m-1-3h0m-3 13h0m-3-12h0m-3 14h0m-1-8h0m-10-14h0m-3 10h0m-5-7h0m-7 8h0m-2-1h0m-21 14h0m0 1h0m1 2h0m1 10h0m6-2h0m2-10h0m4 15h0m7-4h0m4 2h0m3 9h0m17-15h0m4 10h0m4-5h0m3-9h0m1 4h0m13 6h0m9 9h0m18-1h0m1 1h0m7-19h0m6 0h0m9-1h0m3 20h0m11-19h0m4-3h0m7 16h0m2-11h0m-3 27h0m0 0h0m-5 14h0m-6-4h0m0-10h0m-5-6h0m-23 17h0m-15-1h0m-6-14h0m-1 2h0m-32-5h0m-14 11h0m0-6h0m-2 15h0m-10-18h0m-1 7h0m-3 6h0m-5-10h0m-12 12h0m-17-9h0m-1-2h0m-1 2h0m-5 6h0m-1-15h0m-4-1h0m-25 27h0m12 0h0m5 14h0m14-3h0m8-8h0m31 17h0m3-1h0m2-12h0m5-5h0m12 8h0m23 3h0m0 3h0m4 4h0m9-14h0m7-4h0m0 2h0m6 7h0m11 3h0m3-8h0m30 6h0m10-5h0m-4 35h0m-8-10h0m-4-8h0m-8 6h0m-2-1h0m-2 0h0m-3 7h0m-1-14h0m-13-1h0m-11 15h0m-11 0h0m-5-3h0m-19-5h0m-3 7h0m-2-2h0m-2-7h0m-11 17h0m0-8h0m-4 5h0m-4-13h0m-2-5h0m-3 8h0m-5 9h0m-5-10h0m-10 12h0m-5-2h0m-4-9h0m-2-3h0m-6 10h0m-24-8h0m-13 10h0m0-5h0m-9 0h0m-4-12h0m-12 18h0m-25 10h0m2 1h0m9 9h0m3-5h0m7 7h0m1 0h0m43-10h0m10 16h0m17-22h0m1 14h0m4 4h0m19-4h0m7-14h0m3 6h0m2-7h0m11 18h0m10 5h0m5-19h0m3 17h0m5-13h0m9-4h0m0 16h0m17-17h0m8 7h0m3-10h0m2 11h0m2 11h0m14-8h0m2 2h0m1-10h0m5 2h0m0 2h0m6-1h0m5 4h0m1 6h0m1 1h0m4-20h0m0 27h0m-5 17h0m-6-2h0m-6-18h0m-3 14h0m-30-10h0m-9 13h0m-13-17h0m-2 9h0m-14 12h0m-27-12h0m0-7h0m-1 17h0m-9-17h0m-8 9h0m-14-11h0m-8 4h0m-16 13h0m-5 3h0m-10-16h0m-5 14h0m-5-14h0m-6 15h0m-7-14h0m-6 6h0m-8-2h0m-7-6h0m-5 19h0m-8-3h0m-9-5h0m-1-9h0m-1 16h0m-1-13h0m-11 15h0m-3-9h0m-22 14h0m0 6h0m0 3h0m15 1h0m18 3h0m13-9h0m7 11h0m1-11h0m4 11h0m13-19h0m10 2h0m10 3h0m9 7h0m26-1h0m2 8h0m11-13h0m12 8h0m0 6h0m4-11h0m22 12h0m4-18h0m8 18h0m8-6h0m21 4h0m4-8h0m21-9h0m2 3h0m23 7h0m1 9h0m6-8h0m2-13h0m10 12h0m7 9h0m3-17h0" stroke="#1f77b4" stroke-width="6.8" stroke-linecap="round" stroke-opacity="0.15" fill="none"/>
<path transform="scale(.25)" d="M2060 2069h0m-7 32h0m-9-4h0m-6 1h0m-32 28h0m2-7h0m5 6h0m2-12h0m7 17h0m3-7h0m2 3h0m5-13h0m11 1h0m10 14h0m10-9h0m-10 17h0m-2 18h0m-6-3h0m-3 6h0m0-12h0m-4 8h0m-4-4h0m0-4h0m-11-8h0m-27 21h0m-4-13h0m-4 12h0m-35 20h0m6 1h0m5-4h0m3-10h0m1-4h0m1 23h0m2-11h0m1-9h0m0 10h0m25-6h0m12 12h0m4-15h0m2 9h0m2 0h0m11-6h0m13 7h0m14-5h0m1 20h0m-3 17h0m-2-17h0m-2 11h0m-11-8h0m-9-5h0m-1 8h0m-1 11h0m0-9h0m-4-12h0m-4 20h0m0-18h0m-4 16h0m-4-15h0m-4-1h0m-3 17h0m-3-8h0m-6 4h0m-9-7h0m-5 11h0m-26 1h0m-12-21h0m-1 19h0m-3-5h0m-24 16h0m6 16h0m10-18h0m5 15h0m6-11h0m8-3h0m3 9h0m12-2h0m1-8h0m3 9h0m2-12h0m19 20h0m1-20h0m2 21h0m1-5h0m7-16h0m20 7h0m0 8h0m4-6h0m1 6h0m3-3h0m3 5h0m1-5h0m2 1h0m3-8h0m1 8h0m2-6h0m18 13h0m2-17h0m1 9h0m0 32h0m0-17h0m-8 15h0m-5-15h0m-9 0h0m-2 14h0m-1-6h0m-11-3h0m-14 5h0m-1-4h0m-1-1h0m-3-7h0m-8 7h0m-15-5h0m-1-2h0m-1 5h0m-6 7h0m-4-14h0m-2 6h0m-2-3h0m-4 5h0m-18 4h0m-8 3h0m-3-5h0m-2 13h0m-3-8h0m-6-5h0m-3-6h0m-10 2h0m-1 5h0m-14 2h0m-10 9h0m0-14h0m-1 4h0m-7 5h0m-13 21h0m2-9h0m6 7h0m7-1h0m19-4h0m7 13h0m1-19h0m3 14h0m2 4h0m4-15h0m6 6h0m0 3h0m1 9h0m6-6h0m6-2h0m5-2h0m8-10h0m5 14h0m13-7h0m1-7h0m19 3h0m0 17h0m1-5h0m3-15h0m3 7h0m9 2h0m2-8h0m6 7h0m4 7h0m5-16h0m0 8h0m6-7h0m0 7h0m6 12h0m1-20h0m0 19h0m9-17h0m1 0h0m22 24h0m-1 15h0m0-14h0m-4 19h0m-5-17h0m-16 11h0m0 0h0m-7 4h0m0-20h0m-7 3h0m-21 18h0m-8-16h0m-7 12h0m-1-4h0m-13 6h0m-3-20h0m-15 12h0m-2 9h0m-26-1h0m-16-8h0m-6 6h0m-21-15h0m-4 5h0m-22 11h0m-7 1h0m-15-4h0m-23 24h0m1 3h0m14-9h0m4 6h0m5-1h0m3 7h0m26-14h0m4-4h0m0 19h0m6-9h0m1 7h0m13-6h0m8-1h0m2-6h0m3-2h0m9 6h0m9-3h0m9 10h0m4-18h0m5 14h0m2-15h0m3 20h0m8-19h0m2 21h0m1-10h0m14 8h0m4 1h0m4-1h0m10-7h0m3-8h0m3 14h0m15-18h0m7 8h0m18-1h0m20 25h0m-6-9h0m-3 16h0m-29 7h0m-3-14h0m-4 12h0m-19 2h0m-5-21h0m-14 11h0m-6 10h0m-23-17h0m-4 12h0m-22-17h0m-11-1h0m-16 5h0m-4 18h0m-3-13h0m-10 10h0m-8-12h0m0-4h0m-44 10h0m-8 5h0m0-16h0m-15 2h0m-23 26h0m5-6h0m2 1h0m6 15h0m13-6h0m9-11h0m17 16h0m1-4h0m10 3h0m6-15h0m8 2h0m9 4h0m2 5h0m7 8h0m3 3h0m6-1h0m8-12h0m25 1h0m16 3h0m16-11h0m3 4h0m0 12h0m10-17h0m1 16h0m4 2h0m1-8h0m8 9h0m4-1h0m9 1h0m1-19h0m3 15h0m7-9h0m1-7h0m4 12h0m10 9h0m7-16h0m11 10h0m23-14h0m10 19h0" stroke="#1f77b4" stroke-width="6.8" stroke-linecap="round" stroke-opacity="0.15" fill="none"/>
<path transform="scale(.25)" d="M2062 2087h0m2 20h0m-1-15h0m-5-4h0m-1 5h0m-7 12h0m-9-11h0m-22 14h0m-1 22h0m13-11h0m6-6h0m7 9h0m1 0h0m12-3h0m2 3h0m1-9h0m5 6h0m-16 22h0m-8 6h0m0-1h0m-10-9h0m-3 19h0m-3-8h0m-12-2h0m-11 7h0m-6-17h0m-1 16h0m-6-3h0m-4 7h0m-14 3h0m-4 24h0m19-8h0m12 8h0m3-6h0m12-5h0m11-5h0m5 13h0m19-6h0m9 10h0m-2 15h0m-1-3h0m-9-5h0m-1 3h0m-3 5h0m0-15h0m-1 14h0m-5-8h0m-3 6h0m-6 4h0m-20-7h0m-3 3h0m-3-7h0m-8 6h0m-25-10h0m-5 12h0m-5 2h0m-6-11h0m-52 42h0m7-6h0m4-1h0m0 7h0m21-11h0m5 6h0m2-17h0m8 14h0m9-10h0m24 9h0m15-2h0m21-8h0m19 11h0m0 8h0m8-4h0m22-17h0m2 5h0m-8 20h0m-9 18h0m-4-17h0m-3 11h0m-2-14h0m-2 16h0m0-4h0m0-11h0m-7 19h0m0-16h0m-10 7h0m-10 1h0m-13-1h0m-7 3h0m-1-6h0m-5 6h0m-18-12h0m-1 13h0m-4-6h0m-3-3h0m-11 3h0m-2 13h0m-4-4h0m-14 4h0m-4-20h0m-12 18h0m0-18h0m-2 17h0m-6-4h0m-2-13h0m-22 16h0m-6 1h0m-15 27h0m6-10h0m9 4h0m3-13h0m2 6h0m0 9h0m2-17h0m4 10h0m13 7h0m19 2h0m22-20h0m2 5h0m3 8h0m7 8h0m1-14h0m9-1h0m5 2h0m19 4h0m15 1h0m6 8h0m3-11h0m10-9h0m3-1h0m7 17h0m3 0h0m2-12h0m15-3h0m0 20h0m11-8h0m3 5h0m3 11h0m-4-3h0m-10 8h0m-13 8h0m0-5h0m-9-2h0m0-3h0m-3 0h0m-8 9h0m-7-16h0m-9 7h0m-1 7h0m-1-10h0m-21 4h0m-9-1h0m-3 9h0m-39-4h0m-1 9h0m-12-18h0m-16 17h0m-11-20h0m0-1h0m-15 2h0m-29 8h0m-40 32h0m30-19h0m1 8h0m1-7h0m3 4h0m8-2h0m0 13h0m0 0h0m7-15h0m8 14h0m3 2h0m4-10h0m2 12h0m0 4h0m6-6h0m10-10h0m2 16h0m11-9h0m5-3h0m5-7h0m9 2h0m6-3h0m4 18h0m12-21h0m7 20h0m8-10h0m0 11h0m4 1h0m3-5h0m3-12h0m4 5h0m2-8h0m5-1h0m2-1h0m7 1h0m2 8h0m45 2h0m1 6h0m0 4h0m11-12h0m2-9h0m11 10h0m1 9h0m5-11h0m-11 30h0m-1-11h0m-6 9h0m-13 4h0m0-10h0m-2 17h0m-3-10h0m-6-6h0m-9 16h0m-7-17h0m-1 8h0m-1 8h0m-3-14h0m-3-4h0m-6 2h0m-9 12h0m-35-15h0m-5 20h0m-19-23h0m-4 21h0m-3-11h0m-1-6h0m-1-4h0m-10 18h0m-6-5h0m-5 0h0m-3 9h0m-26-1h0m-4-19h0m-24 7h0m-22-3h0m-62 37h0m8-3h0m19-1h0m5-10h0m12-5h0m3 22h0m7-3h0m27-18h0m1 12h0m6-3h0m9 8h0m2-16h0m0 13h0m16-10h0m2 4h0m2 3h0m3-7h0m33 3h0m6 6h0m17 5h0m1-13h0m29 3h0m1 6h0m5-13h0m1 13h0m22-11h0m9 0h0m5 4h0m2 10h0m3-17h0m17 16h0m5 0h0m16-14h0m2 10h0m3-4h0m4-6h0m4 0h0" stroke="#1f77b4" stroke-width="6.8" stroke-linecap="round" stroke-opacity="0.15" fill="none"/>
<path transform="scale(.25)" d="M2056 2071h0m8 10h0m-1 29h0m0-10h0m-18-8h0m-7 13h0m-3 1h0m-2-3h0m-8 8h0m-21 22h0m10-13h0m9 6h0m0 7h0m4-5h0m3-1h0m4 8h0m13-4h0m3 2h0m6-1h0m2-16h0m1 18h0m4-11h0m-4 28h0m-18-7h0m-3-2h0m-1-5h0m-5 2h0m-4 5h0m-22 11h0m-2-13h0m-2 6h0m-5-7h0m-2 0h0m-6 15h0m-41 24h0m6 2h0m5-2h0m9-18h0m0 7h0m11 13h0m14-12h0m0 12h0m12-10h0m4 7h0m15 0h0m5-6h0m2 0h0m4-11h0m1 21h0m7-15h0m2 13h0m11-3h0m3-1h0m7-15h0m-9 32h0m-3 0h0m-10-9h0m-3 13h0m0-7h0m-1-7h0m-2 12h0m0-11h0m-8 5h0m-8 0h0m-18 11h0m0-1h0m-4-8h0m-3-3h0m-1 10h0m-1 3h0m-1-2h0m-7-16h0m-2 12h0m-3 10h0m-1-16h0m-7-5h0m-5 4h0m-16 18h0m-6-6h0m-9 2h0m0-13h0m-1 10h0m-1-9h0m-7 13h0m-3 0h0m-12 17h0m8-8h0m6-5h0m2 12h0m2-5h0m9-4h0m7 18h0m3-12h0m6-1h0m4 12h0m12 0h0m13-9h0m2 12h0m12-23h0m2 4h0m14-1h0m2 16h0m1-18h0m5 11h0m3 2h0m3 8h0m14-16h0m6 4h0m2 9h0m1-18h0m5 14h0m5-10h0m3 33h0m0-13h0m-1 5h0m-1 15h0m-2-9h0m-7-4h0m0-1h0m-4 10h0m-2-7h0m-1-3h0m-3-5h0m-2 19h0m-5-13h0m-5 13h0m-8-21h0m-3 22h0m-6-17h0m-1 15h0m-1-16h0m-11 11h0m-1-3h0m-12-2h0m-3 3h0m0-12h0m-4 0h0m-1 5h0m-5 8h0m-5-11h0m-5 6h0m-17-9h0m-6 6h0m-44 3h0m-5 13h0m-33 13h0m26 12h0m18 0h0m5-6h0m13-11h0m2 12h0m2-3h0m4 1h0m2-16h0m16 21h0m2-19h0m1 6h0m7 1h0m1-4h0m8 14h0m0 2h0m2 0h0m11-21h0m1 2h0m21 7h0m2-5h0m1 2h0m5 13h0m4-2h0m4-8h0m2 12h0m1-16h0m9 6h0m8-8h0m11-2h0m3 22h0m1-20h0m6 17h0m-6 23h0m0-6h0m-3 6h0m0-16h0m-10 16h0m-3-7h0m-3-5h0m-2 7h0m-6-14h0m-8 16h0m-10-6h0m0-7h0m-16 4h0m-5-1h0m-3 14h0m-3 1h0m-5-6h0m-1 4h0m-9-13h0m-9 13h0m-4-12h0m-8-5h0m-1 19h0m-2-8h0m-10 9h0m-15-6h0m-3 6h0m-8-16h0m-6 14h0m-9-9h0m-5-1h0m-5-2h0m-21 0h0m-8-1h0m-10 38h0m5-13h0m1 0h0m5 1h0m13 2h0m0 9h0m17-2h0m11-7h0m2 5h0m20 4h0m3-5h0m2-9h0m4 7h0m12-13h0m8 10h0m11 7h0m11-16h0m38 15h0m2-5h0m3 9h0m22-18h0m0 1h0m8 2h0m7 10h0m0 4h0m3-2h0m6-5h0m3 33h0m0-1h0m-2-9h0m-5-8h0m-4 11h0m0-10h0m-1 15h0m-6 4h0m-11-3h0m-5-7h0m-19 3h0m-22 1h0m-10-14h0m-1 8h0m-22-3h0m-1 11h0m0-1h0m0-11h0m-1-6h0m-10 12h0m-14 8h0m-3-21h0m-1 20h0m-6-20h0m-8 8h0m-2 2h0m-4-10h0m-15 19h0m-4-4h0m-9 5h0m0-16h0m-2 8h0m-4 1h0m-8-1h0m-1 1h0m-23-13h0m-15 8h0m-1 0h0m-10 8h0m-4-12h0m-13 6h0m-9 7h0m-19 22h0m13 4h0m10-2h0m1-4h0m19-11h0m11 2h0m5 0h0m30 12h0m25-3h0m5 5h0m2-12h0m9 13h0m1-12h0m7-7h0m9 1h0m3 21h0m6-13h0m6 11h0m5-19h0m16 1h0m12-1h0m0 21h0m17-9h0m1-9h0m3 4h0m1-5h0m27 4h0m5 12h0m10-17h0m31 17h0m5-1h0" stroke="#1f77b4" stroke-width="6.8" stroke-linecap="round" stroke-opacity="0.15" fill="none"/>
<path transform="scale(.25)" d="M2030 2107h0m2-2h0m9 3h0m0 1h0m14-18h0m2 0h0m-11 24h0m-3 15h0m-6-14h0m-1 2h0m-10 6h0m-5 2h0m-3 7h0m-7-14h0m-10 7h0m-26 26h0m21 3h0m2-19h0m4 5h0m0 1h0m14-4h0m10-1h0m10-1h0m2 22h0m1-5h0m18-8h0m2 10h0m6 22h0m-19-4h0m-2 10h0m-3-1h0m-8 0h0m-9-22h0m-10 7h0m-26-4h0m-4 5h0m-9 9h0m-10 0h0m-9-3h0m-25 30h0m11-1h0m8-1h0m2-2h0m4 4h0m10-10h0m1-5h0m14 17h0m13-18h0m12 3h0m16-5h0m7 2h0m2 9h0m4-5h0m20-1h0m4 16h0m2-22h0m-20 39h0m-3 5h0m-3 0h0m-8-14h0m-3-2h0m-2 12h0m-10-11h0m-3 3h0m-2 2h0m-10 12h0m0-7h0m-2 6h0m-1-11h0m-11 4h0m-2 5h0m-12-3h0m-4-2h0m-10 8h0m-31-11h0m-13 1h0m-3-3h0m-7 12h0m-8 10h0m7 2h0m3 11h0m11-9h0m3-5h0m23 3h0m0 9h0m7-12h0m1 11h0m2-5h0m5-9h0m7 1h0m5-3h0m0 17h0m1-8h0m11 0h0m11 4h0m4-10h0m8 16h0m12-4h0m5-13h0m3-2h0m0 1h0m0 1h0m4 12h0m0 1h0m13 5h0m10-1h0m2 0h0m11-3h0m-2 17h0m-8 3h0m-4 0h0m-9 9h0m-8-8h0m-3-2h0m-21 4h0m-19-6h0m-6 0h0m-17-7h0m-7-1h0m-16 14h0m-1-12h0m-7-3h0m-8 10h0m-8-2h0m-3-4h0m-3-4h0m-10 11h0m-3-13h0m-3 1h0m-25 7h0m0-3h0m-10 8h0m-11 32h0m16-7h0m6 6h0m3-4h0m2-3h0m4-8h0m2-1h0m0 7h0m1-2h0m8 6h0m24-6h0m8 5h0m3 4h0m16-18h0m19 16h0m1-6h0m10 4h0m4-2h0m3-1h0m17 9h0m40-17h0m1 3h0m25 4h0m2 34h0m-9-7h0m-4 4h0m-3-12h0m-3 9h0m-6-1h0m0-11h0m-2 1h0m-1 9h0m-2-8h0m-5 19h0m-3-2h0m-2-15h0m-11 14h0m-12 0h0m-11-17h0m-8-3h0m-23 2h0m-6 7h0m-15-1h0m-2-8h0m-10 10h0m-5-4h0m-22 15h0m-38-10h0m-6 4h0m-28-14h0m-1 14h0m-19 11h0m0 17h0m34-8h0m2 9h0m6 2h0m1-22h0m4 21h0m1-4h0m10-8h0m0 3h0m24 6h0m8-2h0m4 5h0m13-2h0m2 3h0m11-5h0m1 1h0m5-12h0m19-4h0m9 18h0m8-7h0m3-10h0m3 6h0m3 4h0m7-7h0m4 1h0m2 9h0m9-5h0m4-4h0m2-1h0m10 10h0m3-5h0m0 3h0m6-1h0m2 5h0m2-7h0m4-7h0m1-1h0m2 13h0m1 5h0m14-9h0m8 28h0m-16-5h0m-7 5h0m-16-2h0m-16-4h0m-1 7h0m-25-12h0m-1 4h0m-17 12h0m-8-6h0m0-10h0m-2 10h0m0-12h0m-16 8h0m-8 8h0m-2-5h0m-14-5h0m-7-8h0m-5 14h0m-5-8h0m-32 7h0m-22-13h0m-1 6h0m-2 6h0m0-6h0m-7-6h0m-13 11h0m-21 1h0m-4 4h0m-9-8h0m-23 11h0" stroke="#1f77b4" stroke-width="6.8" stroke-linecap="round" stroke-opacity="0.15" fill="none"/>
<path transform="scale(.25)" d="M2044 2083h0m3 1h0m14-14h0m0 2h0m4 13h0m1-11h0m-13 30h0m-10-6h0m-1 2h0m-9 11h0m-6-10h0m-13 23h0m13-4h0m10 0h0m1-5h0m0 0h0m0 7h0m4 12h0m4-12h0m3 5h0m2 1h0m2 1h0m2-11h0m1-4h0m8 23h0m-1 9h0m-3 1h0m-3 0h0m-5-3h0m-5 10h0m-4 0h0m-20-9h0m-3 9h0m-16-9h0m-52 37h0m5-1h0m6 0h0m14 1h0m8 1h0m1-21h0m3 13h0m3 5h0m19-7h0m22-4h0m8-2h0m4 2h0m4-5h0m5 0h0m4 13h0m5-1h0m3 20h0m-4 6h0m-16 0h0m0-14h0m-2 13h0m-10-5h0m-8-7h0m-11-5h0m-11 23h0m-9-7h0m-2 2h0m0-12h0m-9 7h0m-4-2h0m-25-10h0m-10 5h0m-8 10h0m-1-6h0m-1-1h0m-24 28h0m21-1h0m2 9h0m4-8h0m3 7h0m21-11h0m2 10h0m9-13h0m1 3h0m14 10h0m34-7h0m5-12h0m12 6h0m2 12h0m3-10h0m2-4h0m0 12h0m4 3h0m8-17h0m0 8h0m1 18h0m-8 6h0m-2-9h0m-14 3h0m-29 10h0m-18-3h0m-2 1h0m-4-8h0m-9 14h0m-1-16h0m-5 2h0m-8 18h0m-13-14h0m-3-2h0m-3 6h0m-13 7h0m-2-13h0m-8 16h0m-2-6h0m-13 6h0m-11-2h0m-38 24h0m9-6h0m10-8h0m10-1h0m8 1h0m8 2h0m19 5h0m1 2h0m3-7h0m11-3h0m0 4h0m17-6h0m21 5h0m8 14h0m4-14h0m5 7h0m28 2h0m1-11h0m9 13h0m1-10h0m8 1h0m3 3h0m4 4h0m9 6h0m3-7h0m11-14h0m0 1h0m-9 35h0m-3-5h0m-24 8h0m-6 1h0m-1-8h0m-1 4h0m-3 5h0m-4-18h0m-21 10h0m-1 4h0m-1 1h0m-1-5h0m-8-10h0m-2 20h0m-10-8h0m-2 2h0m-2 2h0m-1 5h0m-12-7h0m-1 5h0m-13 1h0m-7-18h0m-21 19h0m-1-13h0m-1 10h0m-21 3h0m-17-16h0m-1 1h0m-9 2h0m-3 9h0m-3-1h0m-2 3h0m-1-15h0m-17 18h0m-17 11h0m2 10h0m7-5h0m2-7h0m1-6h0m0 9h0m1-10h0m7 12h0m3 7h0m2-12h0m13 11h0m9-19h0m7 10h0m9 1h0m6 8h0m8-6h0m19 1h0m3-5h0m2-7h0m20 2h0m17 10h0m18 0h0m9 9h0m9-21h0m8-1h0m1 4h0m0 15h0m3 1h0m1-11h0m1-8h0m19 8h0m15 5h0m25 28h0m-4 4h0m-2-18h0m-5 11h0m-6-1h0m-3-1h0m-1 2h0m-17-5h0m-1 1h0m-1 11h0m-6-3h0m-3-4h0m-9 0h0m-1-7h0m-12-2h0m-2 16h0m-2-4h0m-4-4h0m-7-14h0m-4-1h0m-10 21h0m-6-8h0m-1 2h0m-1-7h0m-21 3h0m-2-6h0m-7 17h0m-12-12h0m-4 9h0m-25 3h0m-8-1h0m-1-12h0m-3 1h0m-6-4h0m-28 10h0m0-5h0m-9-10h0m-7 17h0m-10-4h0m-10-1h0m-7 8h0m-5-9h0m-25 23h0m10 10h0m2 1h0m7-10h0m1-9h0m34-3h0m7 5h0m8 6h0m9 6h0m36 4h0m5-11h0m4 8h0m2 2h0m18-20h0m7 22h0m4-18h0m5 12h0m16-2h0m15 7h0m4-19h0m8 10h0m14 7h0m7-9h0m1 9h0m9-11h0m12-5h0m1 16h0m12-8h0m5 1h0m3-7h0m2-4h0m5 7h0m10-3h0m4-4h0m3 16h0" stroke="#1f77b4" stroke-width="6.8" stroke-linecap="round" stroke-opacity="0.15" fill="none"/>
<line x1="437.7" y1="593.1" x2="516.1" y2="515.6" stroke="#1f77b4" stroke-width="2.8" stroke-opacity="0.9" stroke-linecap="round"/>
<path transform="scale(.25)" d="M2068 2067h0m11 13h0m10 6h0m25-9h0m4 1h0m0 7h0m10-19h0m-43 38h0m0-15h0m-2 21h0m0-3h0m-1-15h0m0-3h0m-7 17h0m-1-2h0m-5 6h0m-2-22h0m12 41h0m13-16h0m11 15h0m29 4h0m1-11h0m2 5h0m-39 16h0m-8 4h0m-20 37h0m8-8h0m4 6h0m3-13h0m5-2h0m1-4h0m14 14h0m19-14h0m13 40h0m-2-9h0m-8-2h0m-28 2h0m-11 14h0m-10-1h0m0-16h0m-6 40h0m1-10h0m1-3h0m9 0h0m5-7h0m1 6h0m9 12h0m3 2h0m16 0h0m13-20h0m3 3h0m4 31h0m-5-12h0m-1 22h0m-6 1h0m-1-16h0m-2 16h0m0 0h0m-6-7h0m-10 6h0m-6-15h0m-3 0h0m-3-6h0m-18 15h0m-6 10h0m1 10h0m4-7h0m5 11h0m1 7h0m7-3h0m3-8h0m14 3h0m5 1h0m19-6h0m3 24h0m0-7h0m-6 5h0m-2-7h0m-1 17h0m0-18h0m-2 3h0m-5-3h0m-3 0h0m-2 2h0m-4 1h0m-4 8h0m0-10h0m-5 20h0m-9-9h0m-6 8h0m-2-11h0m-12-8h0m2 46h0m11-16h0m2 2h0m9-7h0m3 12h0m6 4h0m1-10h0m7-4h0m2 16h0m1-19h0m9 10h0m3 7h0m6-18h0m5 10h0m-10 24h0m-7-5h0m0-4h0m-13 2h0m-4-3h0m-3 6h0m-1-2h0m-6-1h0m-2 0h0m-15 3h0m-4-2h0m-1 9h0m-1 0h0m8 24h0m0 1h0m6-11h0m3 14h0m1 3h0m3-2h0m3-6h0m17-8h0m12 10h0m1 4h0m2-8h0m3-10h0m0 4h0m6 12h0m1-5h0" stroke="#ff7f0e" stroke-width="6.8" stroke-linecap="round" stroke-opacity="0.2" fill="none"/>
<path transform="scale(.25)" d="M2125 2062h0m3 11h0m-16-4h0m-11 7h0m0 0h0m-11-8h0m-9 13h0m-3 4h0m-5-10h0m-5 15h0m3 19h0m5-5h0m12-3h0m4 8h0m4-7h0m1-6h0m9 11h0m19-13h0m5 12h0m1-8h0m-3 19h0m-3 16h0m-21-4h0m-10-16h0m-23 32h0m1 12h0m15-6h0m1-13h0m18 12h0m3 0h0m1 3h0m25-5h0m-10 16h0m-2 19h0m-3-13h0m-20-1h0m-3 14h0m-2-10h0m-27 31h0m16-2h0m8-9h0m6-2h0m7 13h0m1-15h0m0 13h0m1-8h0m22 5h0m6-15h0m0 33h0m-1 5h0m-7-4h0m-2 7h0m-2-9h0m-4-2h0m-6 15h0m-2-2h0m0 0h0m-22 0h0m-10-14h0m-5 17h0m-6 8h0m7 2h0m27 12h0m10-18h0m4 3h0m0 1h0m5 2h0m4-7h0m10 10h0m0 21h0m-6 8h0m0-8h0m-9 13h0m-2-1h0m-6-17h0m-1 15h0m-7-11h0m-5 1h0m-11 8h0m-9 1h0m-11 10h0m0 2h0m0 15h0m3-18h0m5 1h0m1 10h0m2 5h0m7-18h0m3 17h0m3-8h0m2-3h0m3 1h0m4 1h0m4-1h0m5 13h0m4-20h0m0 9h0m0 7h0m0 7h0m10-14h0m10 14h0m-2 15h0m-1-13h0m-4 5h0m-6 1h0m-4 13h0m-1-13h0m-9 13h0m-3-15h0m-1 8h0m-2-5h0m-2 9h0m-12 0h0m0-14h0m-3 15h0m-4 3h0m-1-12h0m-5 5h0m-2-10h0m-6-4h0m1 27h0m2 14h0m3 4h0m5-11h0m9 9h0m7-18h0m4 16h0m9 1h0m1-9h0m1 4h0m0 3h0m11-7h0m1 10h0m2 4h0m2 0h0m1-6h0m9 3h0m1 18h0m-1-3h0m-4 6h0m0-15h0m-1 1h0m-7 2h0m-1-3h0m-1 15h0m0-6h0m-13 4h0m-2 2h0m-4-1h0m0-1h0m-3-9h0m-6-4h0m-1 10h0m-10 3h0m0-7h0m-5-4h0" stroke="#ff7f0e" stroke-width="6.8" stroke-linecap="round" stroke-opacity="0.2" fill="none"/>
<path transform="scale(.25)" d="M2102 2083h0m2-9h0m2-5h0m10 0h0m15 18h0m4-9h0m-13 23h0m-22 4h0m-20 5h0m-10 10h0m20-7h0m7 4h0m4 13h0m19-6h0m1 10h0m8-4h0m1-14h0m4 7h0m0 22h0m-16 8h0m-19-1h0m-2-4h0m-9 11h0m-5-17h0m-2 1h0m-13-1h0m2 24h0m3 2h0m9 8h0m8 0h0m18-7h0m9 13h0m3 0h0m11-13h0m2 2h0m2 10h0m-7 24h0m-2 0h0m-6 2h0m0-1h0m-2-18h0m-9 18h0m-8-19h0m-4 8h0m-4-7h0m-7 8h0m-14 2h0m-2 6h0m0 14h0m1 10h0m4-15h0m1 8h0m12 7h0m1 2h0m4-10h0m4-8h0m4 3h0m0 14h0m11-7h0m3-2h0m7 6h0m1 2h0m5 19h0m-2-2h0m-12-3h0m-16-2h0m-1-1h0m-2 3h0m-1 3h0m-17 3h0m-1-15h0m-9 41h0m2-9h0m2-4h0m3 8h0m13-12h0m5 4h0m3 9h0m12-10h0m8-4h0m21 2h0m-1 35h0m-4 7h0m-1-13h0m-1 7h0m-6 1h0m-3 8h0m-2-4h0m-2-5h0m-2 6h0m-3-19h0m-5 15h0m-2 5h0m-3-6h0m-3-7h0m-6-8h0m-3 13h0m-3 1h0m-3-11h0m-15 19h0m4 24h0m5-22h0m4 18h0m2-9h0m9 8h0m0 5h0m2-16h0m2 0h0m5 10h0m2 1h0m1-12h0m6 7h0m5 5h0m1-15h0m6 21h0m3-14h0m1 8h0m2-2h0m3-11h0m3 11h0m-7 9h0m-11 19h0m-2-8h0m-2-4h0m-2-5h0m-8 16h0m-2-12h0m-1 8h0m-8 5h0m-3-4h0m-2-2h0m-1-1h0m-1-10h0m-2 4h0m-1-1h0m-5 2h0m-9 20h0m1 13h0m4-2h0m4 3h0m1-12h0m1 14h0m2-6h0m2-7h0m1 12h0m1 2h0m1-5h0m1 6h0m4 0h0m2-3h0m10-6h0m5 0h0m3-11h0m4 9h0m2-10h0m0 19h0m5-16h0m4 12h0m2-14h0m1 0h0m0 5h0m0 5h0m2 8h0m4-17h0" stroke="#ff7f0e" stroke-width="6.8" stroke-linecap="round" stroke-opacity="0.2" fill="none"/>
<path transform="scale(.25)" d="M2069 2063h0m34 4h0m-8 18h0m-25 16h0m8-9h0m11 19h0m8-19h0m7 12h0m5-12h0m6 8h0m5-12h0m1 4h0m10-4h0m3 39h0m-24-4h0m-14-7h0m-10 19h0m-19-13h0m4 23h0m5 7h0m3 6h0m8-6h0m2 6h0m14-17h0m13 2h0m1 4h0m13-6h0m-5 32h0m-2-5h0m-14-5h0m-4 13h0m-4-8h0m-11 11h0m-19 3h0m-3-5h0m4 30h0m7-23h0m5 20h0m12-15h0m7 8h0m3-6h0m1 15h0m2-12h0m5 3h0m2 6h0m8 2h0m12 6h0m-6-1h0m-6 10h0m-2-4h0m-4 11h0m-4 0h0m-3-5h0m-1-6h0m-2-5h0m-8 2h0m-7-3h0m-19 5h0m-1 18h0m9 4h0m3 13h0m3-4h0m6 2h0m3-10h0m1 14h0m8-14h0m26 26h0m-2-6h0m-10 8h0m-1 1h0m0-5h0m-2 8h0m-14-5h0m-4 3h0m0-12h0m-1 22h0m-2-14h0m-8 3h0m-8 11h0m-7-6h0m-2 3h0m-2 21h0m4-14h0m4 6h0m0 4h0m1 8h0m1 1h0m6-3h0m1-16h0m1 5h0m0 16h0m1-14h0m0 13h0m6-11h0m16 10h0m3 1h0m1-6h0m1-4h0m0 2h0m3-3h0m7-7h0m8 11h0m1 4h0m1 0h0m0 7h0m-7 13h0m-2 1h0m0-6h0m0 0h0m-9-2h0m-5 0h0m-3-1h0m-4 1h0m-1 14h0m-20-6h0m-2 3h0m-2 0h0m0-8h0m-3-11h0m-1 7h0m-1-7h0m-1 15h0m-4-5h0m-3 4h0m0-3h0m11 32h0m5-12h0m9 0h0m0 1h0m2-1h0m8-4h0m5-3h0m1 23h0m6-13h0m4-9h0m11 12h0m4-4h0m0 11h0m-1 4h0m-10 17h0m-8-8h0m0-1h0m-2-3h0m-8 17h0m-6-13h0m-5 10h0m-4 0h0m0-19h0m-1 15h0m-3-10h0m-1 9h0m-1-11h0m-2 13h0m-3 4h0m-6-6h0m-1-14h0m-3 5h0" stroke="#ff7f0e" stroke-width="6.8" stroke-linecap="round" stroke-opacity="0.2" fill="none"/>
<path transform="scale(.25)" d="M2074 2073h0m26-1h0m1 6h0m12 1h0m7 6h0m6 16h0m-4-13h0m-15 3h0m-2 14h0m-6-7h0m-10 1h0m-2 12h0m-4-12h0m0-1h0m-8-10h0m0 47h0m6-9h0m5-5h0m9 0h0m1 11h0m2-19h0m10 12h0m10-6h0m7 0h0m0 13h0m3 18h0m-1-5h0m-7-8h0m-34 17h0m-2-3h0m-7-6h0m13 28h0m6 8h0m4-8h0m1 5h0m14-9h0m15 27h0m-9 9h0m-3-3h0m-6 2h0m-1-6h0m-12-2h0m-6 5h0m-9 2h0m0-6h0m-1-5h0m-6 5h0m-1-1h0m-7 33h0m9-13h0m12-3h0m0 2h0m0 3h0m3-1h0m2-1h0m32 6h0m5-5h0m0 9h0m1 5h0m2 19h0m-9-14h0m-3 6h0m-6-1h0m-10 5h0m-2-6h0m-6 5h0m-3 1h0m-12-1h0m-7-3h0m-3-1h0m-4 10h0m-2-18h0m1 36h0m5 10h0m1-14h0m10 4h0m18-10h0m4 1h0m8 6h0m4-10h0m0 15h0m6-3h0m6 11h0m1-22h0m1 34h0m-1 3h0m-7-5h0m-11-6h0m-2 7h0m-12-7h0m-9 10h0m-2 6h0m0-9h0m-1-10h0m-5 20h0m-2 0h0m-3-4h0m-3-4h0m-2 9h0m-1-21h0m-2 6h0m-1 18h0m3 15h0m9-15h0m0 19h0m2-18h0m5 19h0m1 0h0m3-14h0m4 11h0m9-8h0m2 10h0m5-16h0m14 8h0m3-1h0m1 11h0m-7 8h0m-7 10h0m-6 0h0m0-11h0m-10 2h0m-5 10h0m0-14h0m-3 17h0m-2-7h0m-1 5h0m-1-15h0m-1 15h0m-3-4h0m0-10h0m-5 11h0m-12 21h0m5-3h0m4 0h0m10 3h0m3 6h0m3 5h0m7-11h0m13-6h0m2 2h0m4 15h0m1-21h0m3 11h0m7-4h0" stroke="#ff7f0e" stroke-width="6.8" stroke-linecap="round" stroke-opacity="0.2" fill="none"/>
<path transform="scale(.25)" d="M2119 2063h0m2 12h0m-6-4h0m-4 3h0m-3-10h0m-2 19h0m-1-3h0m-8-3h0m-22 5h0m-2 4h0m-2-5h0m4 25h0m3-12h0m16 0h0m7 14h0m15-19h0m17 43h0m0-7h0m-26 10h0m-21-21h0m-6 16h0m-8-12h0m-1 23h0m5-1h0m8 6h0m5 2h0m0 11h0m5-12h0m5-5h0m20-6h0m7 7h0m0 7h0m2-6h0m3 1h0m0 8h0m3-1h0m-1 18h0m-6 1h0m-2-8h0m-6 7h0m-9-6h0m-29 11h0m-15 29h0m24-4h0m2-1h0m2 6h0m1 2h0m9-6h0m6-1h0m1-10h0m2 7h0m11-6h0m5 36h0m0-6h0m-5 3h0m0-3h0m-1 6h0m-38 3h0m-6-7h0m-9 0h0m0-10h0m-2 4h0m3 15h0m9 0h0m5 14h0m8-7h0m5 8h0m19 6h0m3-21h0m13 38h0m0-14h0m-7 5h0m-1 15h0m-7-18h0m-4 2h0m-1-2h0m-16 0h0m-1 18h0m-1-4h0m-1 2h0m-3-7h0m-5 7h0m-2-3h0m-6-5h0m-3-10h0m-3 2h0m-4 15h0m-2 27h0m7-19h0m3 9h0m0 12h0m9-19h0m4 16h0m0 2h0m1-2h0m5-12h0m4 11h0m25-9h0m0 5h0m3-6h0m1-8h0m0 20h0m1-3h0m0 6h0m6-13h0m0 26h0m-2-9h0m-4-3h0m-6 7h0m-21 14h0m0-13h0m-6 13h0m-3-5h0m-3-9h0m-15 0h0m-8 40h0m4-16h0m2 12h0m11-9h0m12 0h0m3 11h0m5-18h0m3 17h0m5-5h0m2 6h0m3-7h0m3-12h0m9 12h0m6-14h0m0 15h0m0 25h0m-4-9h0m-2 9h0m-4 1h0m-2 3h0m-4-5h0m0-11h0m-2 1h0m-4 2h0m-6 6h0m-4 0h0m-6-1h0m-15 5h0m-3-9h0m-10-3h0" stroke="#ff7f0e" stroke-width="6.8" stroke-linecap="round" stroke-opacity="0.2" fill="none"/>
<path transform="scale(.25)" d="M2116 2012h0m0 2h0m8-2h0m10 17h0m0-8h0m-8 13h0m0 0h0m-16 3h0m-3 0h0m0-14h0m-4 1h0m-28 35h0m5 1h0m6-18h0m2 18h0m1-16h0m2-3h0m4 5h0m0 7h0m2-8h0m5-2h0m0 0h0m3 6h0m2-8h0m8 5h0m3 2h0m2 4h0m4-8h0m2 10h0m9 3h0m0 3h0" stroke="#2ca02c" stroke-width="6.8" stroke-linecap="round" stroke-opacity="0.22" fill="none"/>
<path transform="scale(.25)" d="M2120 2015h0m0 0h0m2-1h0m1-10h0m9 7h0m3-7h0m0 13h0m-3 10h0m0 0h0m-1 2h0m-6-10h0m-3 11h0m-2 7h0m0-3h0m0-14h0m-2 16h0m0-8h0m-3 9h0m0-4h0m-1 1h0m0-6h0m-6 3h0m-2 6h0m-11 0h0m-3 2h0m-19 21h0m11-11h0m3 9h0m2-15h0m13 14h0m1-10h0m2-5h0m3 8h0m6 2h0m2 1h0m2-5h0m3 11h0m2-10h0m1 2h0m1-8h0m6 14h0m2 2h0m2-14h0" stroke="#2ca02c" stroke-width="6.8" stroke-linecap="round" stroke-opacity="0.22" fill="none"/>
<path transform="scale(.25)" d="M2119 2013h0m3-6h0m1 4h0m2-5h0m6 2h0m2 5h0m2-18h0m0 11h0m-10 28h0m-3-1h0m0-9h0m-1 3h0m-3-2h0m-9 6h0m-1 5h0m0-16h0m-3 13h0m-3 2h0m-28 19h0m5-1h0m2-3h0m5 1h0m0 2h0m4-11h0m6 14h0m0 0h0m3-12h0m0 6h0m6-6h0m2 8h0m0 9h0m3-3h0m4-1h0m1-3h0m2 4h0m1-9h0m1-3h0m1 11h0m6 0h0m1-8h0m1-1h0m0 1h0m2 9h0m1-9h0m2 0h0m3 10h0" stroke="#2ca02c" stroke-width="6.8" stroke-linecap="round" stroke-opacity="0.22" fill="none"/>
<line x1="516.5" y1="515.2" x2="533.9" y2="498.0" stroke="#2ca02c" stroke-width="2.6" stroke-opacity="0.9" stroke-linecap="round"/>
<line x1="32.20" y1="34.50" x2="147.70" y2="34.50" stroke="#f07a85" stroke-width="1.3" stroke-opacity="0.72" stroke-dasharray="2.2,1.1"/>
<line x1="129.50" y1="14.20" x2="129.50" y2="131.40" stroke="#f07a85" stroke-width="1.3" stroke-opacity="0.72" stroke-dasharray="2.2,1.1"/>
<line x1="150.00" y1="34.50" x2="266.00" y2="34.50" stroke="#f07a85" stroke-width="1.3" stroke-opacity="0.72" stroke-dasharray="2.2,1.1"/>
<line x1="245.50" y1="14.20" x2="245.50" y2="131.40" stroke="#f07a85" stroke-width="1.3" stroke-opacity="0.72" stroke-dasharray="2.2,1.1"/>
<text x="43.20" y="140.20" font-family="Liberation Serif" font-size="9.5" text-anchor="middle" font-weight="normal" font-style="normal" fill="#1a1a1a" stroke="#1a1a1a" stroke-width="0.25" >0</text>
<text x="121.75" y="138.70" font-family="Liberation Serif" font-size="9.8" font-style="italic" fill="#1a1a1a" stroke="#1a1a1a" stroke-width="0.25">t</text>
<text x="125.05" y="140.60" font-family="Liberation Sans" font-size="6.9" font-style="italic" fill="#2a2a2a" stroke="#2a2a2a" stroke-width="0.1" textLength="12.2" lengthAdjust="spacingAndGlyphs">split</text>
<text x="91.00" y="150.30" font-family="Liberation Serif" font-size="10" text-anchor="middle" font-weight="normal" font-style="normal" fill="#1a1a1a" stroke="#1a1a1a" stroke-width="0.25" >Death</text>
<text x="159.30" y="140.20" font-family="Liberation Serif" font-size="9.5" text-anchor="middle" font-weight="normal" font-style="normal" fill="#1a1a1a" stroke="#1a1a1a" stroke-width="0.25" >0</text>
<text x="237.95" y="138.70" font-family="Liberation Serif" font-size="9.8" font-style="italic" fill="#1a1a1a" stroke="#1a1a1a" stroke-width="0.25">t</text>
<text x="241.25" y="140.60" font-family="Liberation Sans" font-size="6.9" font-style="italic" fill="#2a2a2a" stroke="#2a2a2a" stroke-width="0.1" textLength="12.2" lengthAdjust="spacingAndGlyphs">split</text>
<text x="207.00" y="150.30" font-family="Liberation Serif" font-size="10" text-anchor="middle" font-weight="normal" font-style="normal" fill="#1a1a1a" stroke="#1a1a1a" stroke-width="0.25" >Death</text>
<text x="30.50" y="123.80" font-family="Liberation Serif" font-size="9.5" text-anchor="end" font-weight="normal" font-style="normal" fill="#1a1a1a" stroke="#1a1a1a" stroke-width="0.25" >0</text>
<text x="14.75" y="37.80" font-family="Liberation Serif" font-size="9.8" font-style="italic" fill="#1a1a1a" stroke="#1a1a1a" stroke-width="0.25">t</text>
<text x="18.05" y="39.70" font-family="Liberation Sans" font-size="6.9" font-style="italic" fill="#2a2a2a" stroke="#2a2a2a" stroke-width="0.1" textLength="12.2" lengthAdjust="spacingAndGlyphs">split</text>
<text x="0.00" y="0.00" font-family="Liberation Serif" font-size="10.6" text-anchor="middle" font-weight="normal" font-style="normal" fill="#1a1a1a" stroke="#1a1a1a" stroke-width="0.25" transform="translate(12.20,72.40) rotate(-90)">Birth</text>
<text x="134.80" y="170.50" font-family="Liberation Serif" font-size="10.5" text-anchor="middle" fill="#1a1a1a" stroke="#1a1a1a" stroke-width="0.1">(<tspan font-weight="bold">a</tspan>) UNtrade</text>
<line x1="310.30" y1="36.50" x2="425.70" y2="36.50" stroke="#f07a85" stroke-width="1.3" stroke-opacity="0.72" stroke-dasharray="2.2,1.1"/>
<line x1="405.50" y1="15.50" x2="405.50" y2="131.50" stroke="#f07a85" stroke-width="1.3" stroke-opacity="0.72" stroke-dasharray="2.2,1.1"/>
<line x1="428.00" y1="36.50" x2="544.50" y2="36.50" stroke="#f07a85" stroke-width="1.3" stroke-opacity="0.72" stroke-dasharray="2.2,1.1"/>
<line x1="521.50" y1="15.50" x2="521.50" y2="131.50" stroke="#f07a85" stroke-width="1.3" stroke-opacity="0.72" stroke-dasharray="2.2,1.1"/>
<text x="321.30" y="140.30" font-family="Liberation Serif" font-size="9.5" text-anchor="middle" font-weight="normal" font-style="normal" fill="#1a1a1a" stroke="#1a1a1a" stroke-width="0.25" >0</text>
<text x="397.65" y="138.80" font-family="Liberation Serif" font-size="9.8" font-style="italic" fill="#1a1a1a" stroke="#1a1a1a" stroke-width="0.25">t</text>
<text x="400.95" y="140.70" font-family="Liberation Sans" font-size="6.9" font-style="italic" fill="#2a2a2a" stroke="#2a2a2a" stroke-width="0.1" textLength="12.2" lengthAdjust="spacingAndGlyphs">split</text>
<text x="369.00" y="150.40" font-family="Liberation Serif" font-size="10" text-anchor="middle" font-weight="normal" font-style="normal" fill="#1a1a1a" stroke="#1a1a1a" stroke-width="0.25" >Death</text>
<text x="437.30" y="140.30" font-family="Liberation Serif" font-size="9.5" text-anchor="middle" font-weight="normal" font-style="normal" fill="#1a1a1a" stroke="#1a1a1a" stroke-width="0.25" >0</text>
<text x="513.85" y="138.80" font-family="Liberation Serif" font-size="9.8" font-style="italic" fill="#1a1a1a" stroke="#1a1a1a" stroke-width="0.25">t</text>
<text x="517.15" y="140.70" font-family="Liberation Sans" font-size="6.9" font-style="italic" fill="#2a2a2a" stroke="#2a2a2a" stroke-width="0.1" textLength="12.2" lengthAdjust="spacingAndGlyphs">split</text>
<text x="485.00" y="150.40" font-family="Liberation Serif" font-size="10" text-anchor="middle" font-weight="normal" font-style="normal" fill="#1a1a1a" stroke="#1a1a1a" stroke-width="0.25" >Death</text>
<text x="308.60" y="123.90" font-family="Liberation Serif" font-size="9.5" text-anchor="end" font-weight="normal" font-style="normal" fill="#1a1a1a" stroke="#1a1a1a" stroke-width="0.25" >0</text>
<text x="292.85" y="40.00" font-family="Liberation Serif" font-size="9.8" font-style="italic" fill="#1a1a1a" stroke="#1a1a1a" stroke-width="0.25">t</text>
<text x="296.15" y="41.90" font-family="Liberation Sans" font-size="6.9" font-style="italic" fill="#2a2a2a" stroke="#2a2a2a" stroke-width="0.1" textLength="12.2" lengthAdjust="spacingAndGlyphs">split</text>
<text x="0.00" y="0.00" font-family="Liberation Serif" font-size="10.6" text-anchor="middle" font-weight="normal" font-style="normal" fill="#1a1a1a" stroke="#1a1a1a" stroke-width="0.25" transform="translate(290.20,72.40) rotate(-90)">Birth</text>
<text x="412.80" y="170.50" font-family="Liberation Serif" font-size="10.5" text-anchor="middle" fill="#1a1a1a" stroke="#1a1a1a" stroke-width="0.1">(<tspan font-weight="bold">b</tspan>) Flights</text>
<line x1="32.20" y1="201.50" x2="147.70" y2="201.50" stroke="#f07a85" stroke-width="1.3" stroke-opacity="0.72" stroke-dasharray="2.2,1.1"/>
<line x1="124.50" y1="177.50" x2="124.50" y2="294.00" stroke="#f07a85" stroke-width="1.3" stroke-opacity="0.72" stroke-dasharray="2.2,1.1"/>
<line x1="150.00" y1="201.50" x2="266.00" y2="201.50" stroke="#f07a85" stroke-width="1.3" stroke-opacity="0.72" stroke-dasharray="2.2,1.1"/>
<line x1="240.50" y1="177.50" x2="240.50" y2="294.00" stroke="#f07a85" stroke-width="1.3" stroke-opacity="0.72" stroke-dasharray="2.2,1.1"/>
<text x="43.20" y="302.80" font-family="Liberation Serif" font-size="9.5" text-anchor="middle" font-weight="normal" font-style="normal" fill="#1a1a1a" stroke="#1a1a1a" stroke-width="0.25" >0</text>
<text x="116.35" y="301.30" font-family="Liberation Serif" font-size="9.8" font-style="italic" fill="#1a1a1a" stroke="#1a1a1a" stroke-width="0.25">t</text>
<text x="119.65" y="303.20" font-family="Liberation Sans" font-size="6.9" font-style="italic" fill="#2a2a2a" stroke="#2a2a2a" stroke-width="0.1" textLength="12.2" lengthAdjust="spacingAndGlyphs">split</text>
<text x="91.00" y="312.90" font-family="Liberation Serif" font-size="10" text-anchor="middle" font-weight="normal" font-style="normal" fill="#1a1a1a" stroke="#1a1a1a" stroke-width="0.25" >Death</text>
<text x="159.30" y="302.80" font-family="Liberation Serif" font-size="9.5" text-anchor="middle" font-weight="normal" font-style="normal" fill="#1a1a1a" stroke="#1a1a1a" stroke-width="0.25" >0</text>
<text x="232.85" y="301.30" font-family="Liberation Serif" font-size="9.8" font-style="italic" fill="#1a1a1a" stroke="#1a1a1a" stroke-width="0.25">t</text>
<text x="236.15" y="303.20" font-family="Liberation Sans" font-size="6.9" font-style="italic" fill="#2a2a2a" stroke="#2a2a2a" stroke-width="0.1" textLength="12.2" lengthAdjust="spacingAndGlyphs">split</text>
<text x="207.00" y="312.90" font-family="Liberation Serif" font-size="10" text-anchor="middle" font-weight="normal" font-style="normal" fill="#1a1a1a" stroke="#1a1a1a" stroke-width="0.25" >Death</text>
<text x="30.50" y="286.40" font-family="Liberation Serif" font-size="9.5" text-anchor="end" font-weight="normal" font-style="normal" fill="#1a1a1a" stroke="#1a1a1a" stroke-width="0.25" >0</text>
<text x="14.75" y="205.30" font-family="Liberation Serif" font-size="9.8" font-style="italic" fill="#1a1a1a" stroke="#1a1a1a" stroke-width="0.25">t</text>
<text x="18.05" y="207.20" font-family="Liberation Sans" font-size="6.9" font-style="italic" fill="#2a2a2a" stroke="#2a2a2a" stroke-width="0.1" textLength="12.2" lengthAdjust="spacingAndGlyphs">split</text>
<text x="0.00" y="0.00" font-family="Liberation Serif" font-size="10.6" text-anchor="middle" font-weight="normal" font-style="normal" fill="#1a1a1a" stroke="#1a1a1a" stroke-width="0.25" transform="translate(12.20,234.50) rotate(-90)">Birth</text>
<text x="134.80" y="333.20" font-family="Liberation Serif" font-size="10.5" text-anchor="middle" fill="#1a1a1a" stroke="#1a1a1a" stroke-width="0.1">(<tspan font-weight="bold">c</tspan>) CanParl</text>
<line x1="310.30" y1="204.50" x2="425.70" y2="204.50" stroke="#f07a85" stroke-width="1.3" stroke-opacity="0.72" stroke-dasharray="2.2,1.1"/>
<line x1="399.50" y1="182.00" x2="399.50" y2="293.50" stroke="#f07a85" stroke-width="1.3" stroke-opacity="0.72" stroke-dasharray="2.2,1.1"/>
<line x1="428.00" y1="204.50" x2="544.50" y2="204.50" stroke="#f07a85" stroke-width="1.3" stroke-opacity="0.72" stroke-dasharray="2.2,1.1"/>
<line x1="516.50" y1="182.00" x2="516.50" y2="293.50" stroke="#f07a85" stroke-width="1.3" stroke-opacity="0.72" stroke-dasharray="2.2,1.1"/>
<text x="321.30" y="302.30" font-family="Liberation Serif" font-size="9.5" text-anchor="middle" font-weight="normal" font-style="normal" fill="#1a1a1a" stroke="#1a1a1a" stroke-width="0.25" >0</text>
<text x="391.85" y="300.80" font-family="Liberation Serif" font-size="9.8" font-style="italic" fill="#1a1a1a" stroke="#1a1a1a" stroke-width="0.25">t</text>
<text x="395.15" y="302.70" font-family="Liberation Sans" font-size="6.9" font-style="italic" fill="#2a2a2a" stroke="#2a2a2a" stroke-width="0.1" textLength="12.2" lengthAdjust="spacingAndGlyphs">split</text>
<text x="369.00" y="312.40" font-family="Liberation Serif" font-size="10" text-anchor="middle" font-weight="normal" font-style="normal" fill="#1a1a1a" stroke="#1a1a1a" stroke-width="0.25" >Death</text>
<text x="437.30" y="302.30" font-family="Liberation Serif" font-size="9.5" text-anchor="middle" font-weight="normal" font-style="normal" fill="#1a1a1a" stroke="#1a1a1a" stroke-width="0.25" >0</text>
<text x="508.35" y="300.80" font-family="Liberation Serif" font-size="9.8" font-style="italic" fill="#1a1a1a" stroke="#1a1a1a" stroke-width="0.25">t</text>
<text x="511.65" y="302.70" font-family="Liberation Sans" font-size="6.9" font-style="italic" fill="#2a2a2a" stroke="#2a2a2a" stroke-width="0.1" textLength="12.2" lengthAdjust="spacingAndGlyphs">split</text>
<text x="485.00" y="312.40" font-family="Liberation Serif" font-size="10" text-anchor="middle" font-weight="normal" font-style="normal" fill="#1a1a1a" stroke="#1a1a1a" stroke-width="0.25" >Death</text>
<text x="308.60" y="285.90" font-family="Liberation Serif" font-size="9.5" text-anchor="end" font-weight="normal" font-style="normal" fill="#1a1a1a" stroke="#1a1a1a" stroke-width="0.25" >0</text>
<text x="292.85" y="207.60" font-family="Liberation Serif" font-size="9.8" font-style="italic" fill="#1a1a1a" stroke="#1a1a1a" stroke-width="0.25">t</text>
<text x="296.15" y="209.50" font-family="Liberation Sans" font-size="6.9" font-style="italic" fill="#2a2a2a" stroke="#2a2a2a" stroke-width="0.1" textLength="12.2" lengthAdjust="spacingAndGlyphs">split</text>
<text x="0.00" y="0.00" font-family="Liberation Serif" font-size="10.6" text-anchor="middle" font-weight="normal" font-style="normal" fill="#1a1a1a" stroke="#1a1a1a" stroke-width="0.25" transform="translate(290.20,234.50) rotate(-90)">Birth</text>
<text x="412.80" y="333.20" font-family="Liberation Serif" font-size="10.5" text-anchor="middle" fill="#1a1a1a" stroke="#1a1a1a" stroke-width="0.1">(<tspan font-weight="bold">d</tspan>) Enron</text>
<line x1="32.20" y1="355.50" x2="147.70" y2="355.50" stroke="#f07a85" stroke-width="1.3" stroke-opacity="0.72" stroke-dasharray="2.2,1.1"/>
<line x1="127.50" y1="337.60" x2="127.50" y2="449.50" stroke="#f07a85" stroke-width="1.3" stroke-opacity="0.72" stroke-dasharray="2.2,1.1"/>
<line x1="150.00" y1="355.50" x2="266.00" y2="355.50" stroke="#f07a85" stroke-width="1.3" stroke-opacity="0.72" stroke-dasharray="2.2,1.1"/>
<line x1="243.50" y1="337.60" x2="243.50" y2="449.50" stroke="#f07a85" stroke-width="1.3" stroke-opacity="0.72" stroke-dasharray="2.2,1.1"/>
<text x="43.20" y="458.30" font-family="Liberation Serif" font-size="9.5" text-anchor="middle" font-weight="normal" font-style="normal" fill="#1a1a1a" stroke="#1a1a1a" stroke-width="0.25" >0</text>
<text x="119.35" y="456.80" font-family="Liberation Serif" font-size="9.8" font-style="italic" fill="#1a1a1a" stroke="#1a1a1a" stroke-width="0.25">t</text>
<text x="122.65" y="458.70" font-family="Liberation Sans" font-size="6.9" font-style="italic" fill="#2a2a2a" stroke="#2a2a2a" stroke-width="0.1" textLength="12.2" lengthAdjust="spacingAndGlyphs">split</text>
<text x="91.00" y="468.40" font-family="Liberation Serif" font-size="10" text-anchor="middle" font-weight="normal" font-style="normal" fill="#1a1a1a" stroke="#1a1a1a" stroke-width="0.25" >Death</text>
<text x="159.30" y="458.30" font-family="Liberation Serif" font-size="9.5" text-anchor="middle" font-weight="normal" font-style="normal" fill="#1a1a1a" stroke="#1a1a1a" stroke-width="0.25" >0</text>
<text x="235.35" y="456.80" font-family="Liberation Serif" font-size="9.8" font-style="italic" fill="#1a1a1a" stroke="#1a1a1a" stroke-width="0.25">t</text>
<text x="238.65" y="458.70" font-family="Liberation Sans" font-size="6.9" font-style="italic" fill="#2a2a2a" stroke="#2a2a2a" stroke-width="0.1" textLength="12.2" lengthAdjust="spacingAndGlyphs">split</text>
<text x="207.00" y="468.40" font-family="Liberation Serif" font-size="10" text-anchor="middle" font-weight="normal" font-style="normal" fill="#1a1a1a" stroke="#1a1a1a" stroke-width="0.25" >Death</text>
<text x="30.50" y="441.90" font-family="Liberation Serif" font-size="9.5" text-anchor="end" font-weight="normal" font-style="normal" fill="#1a1a1a" stroke="#1a1a1a" stroke-width="0.25" >0</text>
<text x="14.75" y="358.60" font-family="Liberation Serif" font-size="9.8" font-style="italic" fill="#1a1a1a" stroke="#1a1a1a" stroke-width="0.25">t</text>
<text x="18.05" y="360.50" font-family="Liberation Sans" font-size="6.9" font-style="italic" fill="#2a2a2a" stroke="#2a2a2a" stroke-width="0.1" textLength="12.2" lengthAdjust="spacingAndGlyphs">split</text>
<text x="0.00" y="0.00" font-family="Liberation Serif" font-size="10.6" text-anchor="middle" font-weight="normal" font-style="normal" fill="#1a1a1a" stroke="#1a1a1a" stroke-width="0.25" transform="translate(12.20,390.60) rotate(-90)">Birth</text>
<text x="134.80" y="489.00" font-family="Liberation Serif" font-size="10.5" text-anchor="middle" fill="#1a1a1a" stroke="#1a1a1a" stroke-width="0.1">(<tspan font-weight="bold">e</tspan>) Lastfm</text>
<line x1="310.30" y1="354.50" x2="425.70" y2="354.50" stroke="#f07a85" stroke-width="1.3" stroke-opacity="0.72" stroke-dasharray="2.2,1.1"/>
<line x1="404.50" y1="338.30" x2="404.50" y2="448.50" stroke="#f07a85" stroke-width="1.3" stroke-opacity="0.72" stroke-dasharray="2.2,1.1"/>
<line x1="428.00" y1="354.50" x2="544.50" y2="354.50" stroke="#f07a85" stroke-width="1.3" stroke-opacity="0.72" stroke-dasharray="2.2,1.1"/>
<line x1="521.50" y1="338.30" x2="521.50" y2="448.50" stroke="#f07a85" stroke-width="1.3" stroke-opacity="0.72" stroke-dasharray="2.2,1.1"/>
<text x="321.30" y="457.30" font-family="Liberation Serif" font-size="9.5" text-anchor="middle" font-weight="normal" font-style="normal" fill="#1a1a1a" stroke="#1a1a1a" stroke-width="0.25" >0</text>
<text x="396.85" y="455.80" font-family="Liberation Serif" font-size="9.8" font-style="italic" fill="#1a1a1a" stroke="#1a1a1a" stroke-width="0.25">t</text>
<text x="400.15" y="457.70" font-family="Liberation Sans" font-size="6.9" font-style="italic" fill="#2a2a2a" stroke="#2a2a2a" stroke-width="0.1" textLength="12.2" lengthAdjust="spacingAndGlyphs">split</text>
<text x="369.00" y="467.40" font-family="Liberation Serif" font-size="10" text-anchor="middle" font-weight="normal" font-style="normal" fill="#1a1a1a" stroke="#1a1a1a" stroke-width="0.25" >Death</text>
<text x="437.30" y="457.30" font-family="Liberation Serif" font-size="9.5" text-anchor="middle" font-weight="normal" font-style="normal" fill="#1a1a1a" stroke="#1a1a1a" stroke-width="0.25" >0</text>
<text x="513.85" y="455.80" font-family="Liberation Serif" font-size="9.8" font-style="italic" fill="#1a1a1a" stroke="#1a1a1a" stroke-width="0.25">t</text>
<text x="517.15" y="457.70" font-family="Liberation Sans" font-size="6.9" font-style="italic" fill="#2a2a2a" stroke="#2a2a2a" stroke-width="0.1" textLength="12.2" lengthAdjust="spacingAndGlyphs">split</text>
<text x="485.00" y="467.40" font-family="Liberation Serif" font-size="10" text-anchor="middle" font-weight="normal" font-style="normal" fill="#1a1a1a" stroke="#1a1a1a" stroke-width="0.25" >Death</text>
<text x="308.60" y="440.90" font-family="Liberation Serif" font-size="9.5" text-anchor="end" font-weight="normal" font-style="normal" fill="#1a1a1a" stroke="#1a1a1a" stroke-width="0.25" >0</text>
<text x="292.85" y="358.30" font-family="Liberation Serif" font-size="9.8" font-style="italic" fill="#1a1a1a" stroke="#1a1a1a" stroke-width="0.25">t</text>
<text x="296.15" y="360.20" font-family="Liberation Sans" font-size="6.9" font-style="italic" fill="#2a2a2a" stroke="#2a2a2a" stroke-width="0.1" textLength="12.2" lengthAdjust="spacingAndGlyphs">split</text>
<text x="0.00" y="0.00" font-family="Liberation Serif" font-size="10.6" text-anchor="middle" font-weight="normal" font-style="normal" fill="#1a1a1a" stroke="#1a1a1a" stroke-width="0.25" transform="translate(290.20,390.60) rotate(-90)">Birth</text>
<text x="412.80" y="489.00" font-family="Liberation Serif" font-size="10.5" text-anchor="middle" fill="#1a1a1a" stroke="#1a1a1a" stroke-width="0.1">(<tspan font-weight="bold">f</tspan>) mooc</text>
<line x1="32.20" y1="556.50" x2="147.70" y2="556.50" stroke="#f07a85" stroke-width="1.3" stroke-opacity="0.72" stroke-dasharray="2.2,1.1"/>
<line x1="81.50" y1="494.70" x2="81.50" y2="605.50" stroke="#f07a85" stroke-width="1.3" stroke-opacity="0.72" stroke-dasharray="2.2,1.1"/>
<line x1="150.00" y1="556.50" x2="266.00" y2="556.50" stroke="#f07a85" stroke-width="1.3" stroke-opacity="0.72" stroke-dasharray="2.2,1.1"/>
<line x1="197.50" y1="494.70" x2="197.50" y2="605.50" stroke="#f07a85" stroke-width="1.3" stroke-opacity="0.72" stroke-dasharray="2.2,1.1"/>
<text x="43.20" y="614.30" font-family="Liberation Serif" font-size="9.5" text-anchor="middle" font-weight="normal" font-style="normal" fill="#1a1a1a" stroke="#1a1a1a" stroke-width="0.25" >0</text>
<text x="73.85" y="612.80" font-family="Liberation Serif" font-size="9.8" font-style="italic" fill="#1a1a1a" stroke="#1a1a1a" stroke-width="0.25">t</text>
<text x="77.15" y="614.70" font-family="Liberation Sans" font-size="6.9" font-style="italic" fill="#2a2a2a" stroke="#2a2a2a" stroke-width="0.1" textLength="12.2" lengthAdjust="spacingAndGlyphs">split</text>
<text x="91.00" y="624.40" font-family="Liberation Serif" font-size="10" text-anchor="middle" font-weight="normal" font-style="normal" fill="#1a1a1a" stroke="#1a1a1a" stroke-width="0.25" >Death</text>
<text x="159.30" y="614.30" font-family="Liberation Serif" font-size="9.5" text-anchor="middle" font-weight="normal" font-style="normal" fill="#1a1a1a" stroke="#1a1a1a" stroke-width="0.25" >0</text>
<text x="189.85" y="612.80" font-family="Liberation Serif" font-size="9.8" font-style="italic" fill="#1a1a1a" stroke="#1a1a1a" stroke-width="0.25">t</text>
<text x="193.15" y="614.70" font-family="Liberation Sans" font-size="6.9" font-style="italic" fill="#2a2a2a" stroke="#2a2a2a" stroke-width="0.1" textLength="12.2" lengthAdjust="spacingAndGlyphs">split</text>
<text x="207.00" y="624.40" font-family="Liberation Serif" font-size="10" text-anchor="middle" font-weight="normal" font-style="normal" fill="#1a1a1a" stroke="#1a1a1a" stroke-width="0.25" >Death</text>
<text x="30.50" y="597.90" font-family="Liberation Serif" font-size="9.5" text-anchor="end" font-weight="normal" font-style="normal" fill="#1a1a1a" stroke="#1a1a1a" stroke-width="0.25" >0</text>
<text x="14.75" y="559.80" font-family="Liberation Serif" font-size="9.8" font-style="italic" fill="#1a1a1a" stroke="#1a1a1a" stroke-width="0.25">t</text>
<text x="18.05" y="561.70" font-family="Liberation Sans" font-size="6.9" font-style="italic" fill="#2a2a2a" stroke="#2a2a2a" stroke-width="0.1" textLength="12.2" lengthAdjust="spacingAndGlyphs">split</text>
<text x="0.00" y="0.00" font-family="Liberation Serif" font-size="10.6" text-anchor="middle" font-weight="normal" font-style="normal" fill="#1a1a1a" stroke="#1a1a1a" stroke-width="0.25" transform="translate(12.20,546.30) rotate(-90)">Birth</text>
<text x="134.80" y="645.60" font-family="Liberation Serif" font-size="10.5" text-anchor="middle" fill="#1a1a1a" stroke="#1a1a1a" stroke-width="0.1">(<tspan font-weight="bold">g</tspan>) UCI</text>
<line x1="310.30" y1="515.50" x2="425.70" y2="515.50" stroke="#f07a85" stroke-width="1.3" stroke-opacity="0.72" stroke-dasharray="2.2,1.1"/>
<line x1="400.50" y1="493.60" x2="400.50" y2="604.50" stroke="#f07a85" stroke-width="1.3" stroke-opacity="0.72" stroke-dasharray="2.2,1.1"/>
<line x1="428.00" y1="515.50" x2="544.50" y2="515.50" stroke="#f07a85" stroke-width="1.3" stroke-opacity="0.72" stroke-dasharray="2.2,1.1"/>
<line x1="516.50" y1="493.60" x2="516.50" y2="604.50" stroke="#f07a85" stroke-width="1.3" stroke-opacity="0.72" stroke-dasharray="2.2,1.1"/>
<text x="321.30" y="613.30" font-family="Liberation Serif" font-size="9.5" text-anchor="middle" font-weight="normal" font-style="normal" fill="#1a1a1a" stroke="#1a1a1a" stroke-width="0.25" >0</text>
<text x="392.35" y="611.80" font-family="Liberation Serif" font-size="9.8" font-style="italic" fill="#1a1a1a" stroke="#1a1a1a" stroke-width="0.25">t</text>
<text x="395.65" y="613.70" font-family="Liberation Sans" font-size="6.9" font-style="italic" fill="#2a2a2a" stroke="#2a2a2a" stroke-width="0.1" textLength="12.2" lengthAdjust="spacingAndGlyphs">split</text>
<text x="369.00" y="623.40" font-family="Liberation Serif" font-size="10" text-anchor="middle" font-weight="normal" font-style="normal" fill="#1a1a1a" stroke="#1a1a1a" stroke-width="0.25" >Death</text>
<text x="437.30" y="613.30" font-family="Liberation Serif" font-size="9.5" text-anchor="middle" font-weight="normal" font-style="normal" fill="#1a1a1a" stroke="#1a1a1a" stroke-width="0.25" >0</text>
<text x="508.85" y="611.80" font-family="Liberation Serif" font-size="9.8" font-style="italic" fill="#1a1a1a" stroke="#1a1a1a" stroke-width="0.25">t</text>
<text x="512.15" y="613.70" font-family="Liberation Sans" font-size="6.9" font-style="italic" fill="#2a2a2a" stroke="#2a2a2a" stroke-width="0.1" textLength="12.2" lengthAdjust="spacingAndGlyphs">split</text>
<text x="485.00" y="623.40" font-family="Liberation Serif" font-size="10" text-anchor="middle" font-weight="normal" font-style="normal" fill="#1a1a1a" stroke="#1a1a1a" stroke-width="0.25" >Death</text>
<text x="308.60" y="596.90" font-family="Liberation Serif" font-size="9.5" text-anchor="end" font-weight="normal" font-style="normal" fill="#1a1a1a" stroke="#1a1a1a" stroke-width="0.25" >0</text>
<text x="292.85" y="518.80" font-family="Liberation Serif" font-size="9.8" font-style="italic" fill="#1a1a1a" stroke="#1a1a1a" stroke-width="0.25">t</text>
<text x="296.15" y="520.70" font-family="Liberation Sans" font-size="6.9" font-style="italic" fill="#2a2a2a" stroke="#2a2a2a" stroke-width="0.1" textLength="12.2" lengthAdjust="spacingAndGlyphs">split</text>
<text x="0.00" y="0.00" font-family="Liberation Serif" font-size="10.6" text-anchor="middle" font-weight="normal" font-style="normal" fill="#1a1a1a" stroke="#1a1a1a" stroke-width="0.25" transform="translate(290.20,546.30) rotate(-90)">Birth</text>
<text x="412.80" y="645.60" font-family="Liberation Serif" font-size="10.5" text-anchor="middle" fill="#1a1a1a" stroke="#1a1a1a" stroke-width="0.1">(<tspan font-weight="bold">h</tspan>) wikipedia</text>
<text x="91.00" y="12.50" font-family="Liberation Serif" font-size="12" text-anchor="middle" font-weight="normal" font-style="normal" fill="#1a1a1a" stroke="#1a1a1a" stroke-width="0.4" >Nodes</text>
<text x="208.00" y="12.50" font-family="Liberation Serif" font-size="12" text-anchor="middle" font-weight="normal" font-style="normal" fill="#1a1a1a" stroke="#1a1a1a" stroke-width="0.4" >Edges</text>
<text x="369.00" y="12.50" font-family="Liberation Serif" font-size="12" text-anchor="middle" font-weight="normal" font-style="normal" fill="#1a1a1a" stroke="#1a1a1a" stroke-width="0.4" >Nodes</text>
<text x="486.00" y="12.50" font-family="Liberation Serif" font-size="12" text-anchor="middle" font-weight="normal" font-style="normal" fill="#1a1a1a" stroke="#1a1a1a" stroke-width="0.4" >Edges</text>
<path d="M206.3 176.2q1.7 1.3 3.4 0" stroke="#555" stroke-width="0.9" fill="none"/>
</svg></body></html>
